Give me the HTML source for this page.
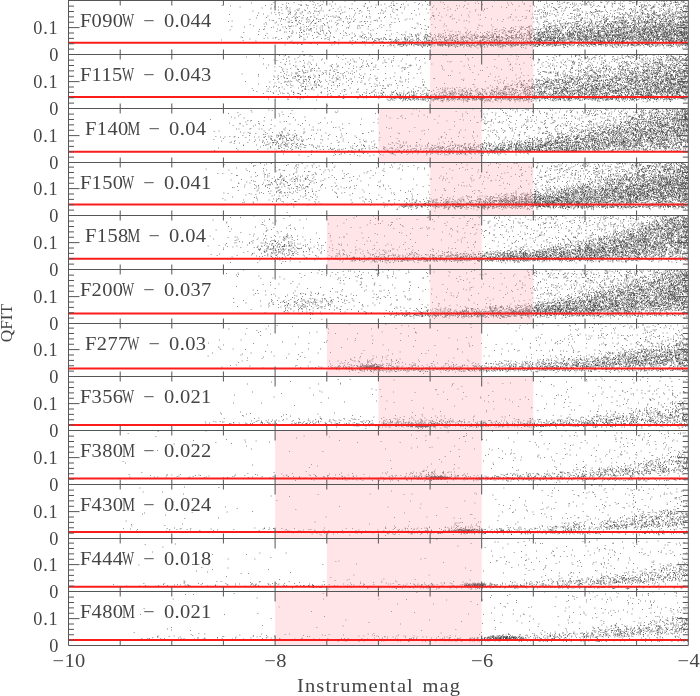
<!DOCTYPE html><html><head><meta charset="utf-8"><style>html,body{margin:0;padding:0;background:#fff}svg{display:block}text{font-family:"Liberation Serif",serif;fill:#444;font-size:18.3px}</style></head><body>
<svg width="700" height="696" viewBox="0 0 700 696">
<filter id="b" x="0" y="0" width="1" height="1"><feGaussianBlur stdDeviation="0.8"/></filter><g transform="scale(0.25)" fill="none" stroke-width="2.8" filter="url(#b)"><g stroke="#2a2a2a"><path d="M274 4h2484" stroke-dasharray="0 929 3 74 3 47 3 46 3 242 3 829 3 60 3 115 3 16 3 5 3 9999"/><path d="M274 6h2484" stroke-dasharray="0 965 3 8 3 900 3 5 3 164 3 163 3 21 3 26 3 104 3 23 3 18 3 20 3 9999"/><path d="M274 8h2484" stroke-dasharray="0 1054 3 145 3 282 3 324 3 93 3 49 3 16 3 97 3 123 3 140 3 82 3 24 3 9999"/><path d="M274 10h2484" stroke-dasharray="0 901 3 77 3 400 3 689 3 52 3 286 3 6 3 0 3 23 3 9999"/><path d="M274 12h2484" stroke-dasharray="0 871 3 880 3 236 3 176 3 139 3 65 3 54 3 9999"/><path d="M274 14h2484" stroke-dasharray="0 996 3 187 3 123 3 507 3 87 3 19 3 36 3 69 3 22 3 111 3 13 3 10 3 28 3 136 3 19 3 61 3 9999"/><path d="M274 16h2484" stroke-dasharray="0 1044 3 20 3 115 3 111 3 37 3 255 3 414 3 54 3 10 3 118 3 164 3 7 3 3 3 16 3 9999"/><path d="M274 18h2484" stroke-dasharray="0 812 3 134 3 25 3 419 3 100 3 149 3 245 3 269 3 144 3 57 3 44 3 7 3 2 3 9999"/><path d="M274 20h2484" stroke-dasharray="0 928 3 298 3 17 3 105 3 399 3 263 3 23 3 32 3 200 3 10 3 157 3 9999"/><path d="M274 22h2484" stroke-dasharray="0 929 3 20 3 2 3 47 3 278 3 291 3 515 3 208 3 6 3 4 3 47 3 2 3 41 3 9999"/><path d="M274 24h2484" stroke-dasharray="0 646 3 222 3 927 3 41 3 15 3 48 3 298 3 5 3 77 3 71 3 9999"/><path d="M274 26h2484" stroke-dasharray="0 1694 3 271 3 49 3 71 3 165 3 17 3 85 3 6 3 3 3 8 3 75 3 9999"/><path d="M274 28h2484" stroke-dasharray="0 823 3 278 3 221 3 13 3 553 3 13 3 69 3 152 3 70 3 78 3 34 3 67 3 9999"/><path d="M274 30h2484" stroke-dasharray="0 981 3 212 3 92 3 32 3 421 3 186 3 50 3 20 3 9999"/><path d="M274 32h2484" stroke-dasharray="0 773 3 33 3 72 3 67 3 1242 3 90 3 35 3 1 3 113 3 9999"/><path d="M274 34h2484" stroke-dasharray="0 991 3 63 3 62 3 30 3 37 3 303 3 50 3 345 3 68 3 329 3 61 3 32 3 59 3 9999"/><path d="M274 36h2484" stroke-dasharray="0 872 3 202 3 217 3 42 3 85 3 37 3 190 3 531 3 49 3 39 3 12 3 1 3 66 3 90 3 9999"/><path d="M274 38h2484" stroke-dasharray="0 913 3 393 3 351 3 223 3 54 3 160 3 130 3 40 3 16 3 71 3 34 3 9999"/><path d="M274 40h2484" stroke-dasharray="0 838 3 43 3 157 3 204 3 61 3 332 3 228 3 100 3 34 3 0 3 167 3 22 3 108 3 65 3 29 3 9999"/><path d="M274 42h2484" stroke-dasharray="0 916 3 28 3 216 3 214 3 161 3 352 3 216 3 44 3 15 3 106 3 27 3 43 3 80 3 9999"/><path d="M274 44h2484" stroke-dasharray="0 736 3 138 3 105 3 16 3 195 3 62 3 605 3 18 3 136 3 73 3 7 3 57 3 69 3 11 3 15 3 104 3 17 3 56 3 9999"/><path d="M274 46h2484" stroke-dasharray="0 992 3 869 3 12 3 247 3 4 3 11 3 164 3 126 3 14 3 7 3 9999"/><path d="M274 48h2484" stroke-dasharray="0 935 3 234 3 429 3 346 3 99 3 47 3 21 3 122 3 40 3 29 3 55 3 49 3 1 3 9999"/><path d="M274 50h2484" stroke-dasharray="0 824 3 14 3 67 3 386 3 587 3 196 3 63 3 35 3 30 3 17 3 26 3 63 3 5 3 50 3 20 3 20 3 2 3 13 3 9999"/><path d="M274 52h2484" stroke-dasharray="0 967 3 33 3 241 3 187 3 654 3 199 3 40 3 50 3 4 3 14 3 41 3 9999"/><path d="M274 54h2484" stroke-dasharray="0 853 3 232 3 148 3 737 3 24 3 0 3 1 3 185 3 43 3 17 3 24 3 79 3 10 3 5 3 9999"/><path d="M274 56h2484" stroke-dasharray="0 778 3 105 3 18 3 19 3 471 3 448 3 26 3 21 3 3 3 17 3 96 3 7 3 73 3 105 3 5 3 82 3 18 3 41 3 22 3 1 3 4 3 9999"/><path d="M274 58h2484" stroke-dasharray="0 879 3 405 3 574 3 75 3 77 3 71 3 106 3 13 3 165 3 60 3 11 3 9999"/><path d="M274 60h2484" stroke-dasharray="0 904 3 89 3 144 3 167 3 195 3 19 3 63 3 37 3 257 3 272 3 41 3 21 3 18 3 53 3 28 3 31 3 38 3 34 3 9999"/><path d="M274 62h2484" stroke-dasharray="0 938 3 517 3 18 3 442 3 69 3 37 3 62 3 135 3 27 3 63 3 20 3 15 3 9999"/><path d="M274 64h2484" stroke-dasharray="0 796 3 182 3 38 3 31 3 887 3 0 3 78 3 6 3 101 3 16 3 56 3 24 3 29 3 8 3 38 3 21 3 3 3 89 3 9999"/><path d="M274 66h2484" stroke-dasharray="0 921 3 45 3 76 3 153 3 60 3 189 3 353 3 194 3 7 3 77 3 51 3 15 3 5 3 92 3 36 3 20 3 45 3 25 3 14 3 9999"/><path d="M274 68h2484" stroke-dasharray="0 875 3 88 3 91 3 13 3 1 3 55 3 50 3 298 3 30 3 261 3 98 3 7 3 2 3 264 3 24 3 61 3 31 3 16 3 3 3 34 3 21 3 8 3 8 3 2 3 9 3 13 3 3 3 24 3 9999"/><path d="M274 70h2484" stroke-dasharray="0 871 3 40 3 67 3 78 3 195 3 183 3 215 3 97 3 270 3 79 3 13 3 9 3 40 3 8 3 19 3 9 3 42 3 6 3 22 3 58 3 66 3 0 3 5 3 9999"/><path d="M274 72h2484" stroke-dasharray="0 751 3 151 3 333 3 513 3 70 3 35 3 4 3 134 3 35 3 2 3 133 3 12 3 9 3 60 3 34 3 28 3 5 3 4 3 30 3 8 3 54 3 9999"/><path d="M274 74h2484" stroke-dasharray="0 850 3 163 3 103 3 180 3 233 3 281 3 22 3 36 3 114 3 12 3 31 3 15 3 72 3 2 3 130 3 10 3 34 3 23 3 68 3 10 3 4 3 9999"/><path d="M274 76h2484" stroke-dasharray="0 881 3 67 3 36 3 122 3 200 3 43 3 8 3 67 3 14 3 69 3 154 3 336 3 52 3 71 3 35 3 132 3 0 3 14 3 20 3 0 3 50 3 6 3 24 3 9999"/><path d="M274 78h2484" stroke-dasharray="0 858 3 99 3 37 3 142 3 274 3 220 3 90 3 239 3 68 3 34 3 22 3 39 3 23 3 100 3 38 3 0 3 4 3 14 3 30 3 5 3 27 3 23 3 9999"/><path d="M274 80h2484" stroke-dasharray="0 803 3 60 3 692 3 213 3 174 3 89 3 102 3 62 3 12 3 27 3 22 3 27 3 4 3 7 3 34 3 41 3 56 3 9999"/><path d="M274 82h2484" stroke-dasharray="0 813 3 107 3 147 3 145 3 3 3 360 3 215 3 239 3 36 3 59 3 58 3 1 3 7 3 31 3 84 3 13 3 25 3 10 3 11 3 35 3 12 3 9999"/><path d="M274 84h2484" stroke-dasharray="0 964 3 76 3 4 3 88 3 90 3 344 3 318 3 56 3 83 3 11 3 28 3 35 3 158 3 20 3 15 3 11 3 88 3 18 3 6 3 9999"/><path d="M274 86h2484" stroke-dasharray="0 975 3 21 3 169 3 11 3 6 3 125 3 548 3 37 3 38 3 34 3 37 3 1 3 3 3 78 3 88 3 6 3 3 3 26 3 18 3 22 3 59 3 15 3 4 3 28 3 22 3 11 3 9999"/><path d="M274 88h2484" stroke-dasharray="0 877 3 78 3 138 3 14 3 89 3 865 3 34 3 27 3 56 3 58 3 40 3 4 3 2 3 16 3 2 3 43 3 9 3 45 3 7 3 14 3 9999"/><path d="M274 90h2484" stroke-dasharray="0 788 3 90 3 8 3 56 3 114 3 52 3 166 3 604 3 113 3 33 3 11 3 60 3 11 3 41 3 7 3 7 3 2 3 25 3 26 3 8 3 32 3 6 3 8 3 9 3 0 3 13 3 99 3 9999"/><path d="M274 92h2484" stroke-dasharray="0 825 3 95 3 63 3 42 3 944 3 2 3 37 3 7 3 27 3 24 3 11 3 33 3 34 3 1 3 1 3 25 3 16 3 26 3 11 3 21 3 1 3 0 3 8 3 8 3 13 3 11 3 39 3 7 3 9999"/><path d="M274 94h2484" stroke-dasharray="0 968 3 13 3 0 3 28 3 97 3 66 3 732 3 39 3 27 3 1 3 7 3 53 3 19 3 69 3 9 3 19 3 17 3 0 3 20 3 10 3 30 3 25 3 40 3 22 3 20 3 0 3 17 3 9999"/><path d="M274 96h2484" stroke-dasharray="0 1397 3 102 3 376 3 43 3 57 3 32 3 3 3 0 3 61 3 26 3 86 3 9 3 65 3 37 3 38 3 16 3 4 3 8 3 10 3 5 3 9999"/><path d="M274 98h2484" stroke-dasharray="0 725 3 295 3 179 3 41 3 36 3 161 3 443 3 16 3 92 3 148 3 4 3 43 3 38 3 5 3 39 3 18 3 3 3 18 3 2 3 45 3 16 3 7 3 6 3 10 3 9999"/><path d="M274 100h2484" stroke-dasharray="0 1283 3 404 3 209 3 44 3 14 3 73 3 37 3 6 3 7 3 14 3 37 3 5 3 22 3 25 3 4 3 50 3 39 3 25 3 9 3 18 3 13 3 16 3 0 3 21 3 5 3 2 3 1 3 9999"/><path d="M274 102h2484" stroke-dasharray="0 980 3 41 3 67 3 79 3 81 3 162 3 216 3 366 3 26 3 101 3 1 3 13 3 8 3 54 3 9 3 13 3 24 3 8 3 37 3 24 3 1 3 3 3 1 3 52 3 7 3 1 3 9999"/><path d="M274 104h2484" stroke-dasharray="0 890 3 15 3 81 3 14 3 110 3 37 3 345 3 332 3 2 3 78 3 14 3 81 3 1 3 71 3 6 3 11 3 13 3 7 3 4 3 29 3 16 3 0 3 10 3 69 3 7 3 14 3 1 3 0 3 3 3 4 3 25 3 15 3 14 3 13 3 9 3 3 3 14 3 9999"/><path d="M274 106h2484" stroke-dasharray="0 784 3 172 3 237 3 235 3 402 3 53 3 23 3 48 3 11 3 41 3 4 3 66 3 12 3 4 3 6 3 116 3 0 3 5 3 13 3 9 3 1 3 15 3 26 3 6 3 12 3 5 3 7 3 2 3 7 3 3 3 10 3 41 3 9999"/><path d="M274 108h2484" stroke-dasharray="0 702 3 113 3 35 3 82 3 107 3 764 3 100 3 22 3 108 3 3 3 32 3 1 3 33 3 29 3 6 3 15 3 16 3 15 3 6 3 0 3 33 3 6 3 14 3 13 3 16 3 16 3 2 3 7 3 24 3 9 3 9999"/><path d="M274 110h2484" stroke-dasharray="0 981 3 133 3 132 3 184 3 194 3 101 3 27 3 42 3 14 3 2 3 81 3 6 3 28 3 23 3 28 3 51 3 50 3 15 3 32 3 36 3 3 3 1 3 7 3 6 3 11 3 1 3 6 3 51 3 10 3 8 3 10 3 4 3 41 3 24 3 2 3 17 3 1 3 9999"/><path d="M274 112h2484" stroke-dasharray="0 926 3 76 3 6 3 148 3 217 3 390 3 29 3 162 3 9 3 11 3 11 3 13 3 77 3 21 3 9 3 35 3 0 3 7 3 3 3 15 3 0 3 12 3 22 3 8 3 5 3 15 3 3 3 6 3 26 3 6 3 34 3 35 3 2 3 20 3 1 3 9999"/><path d="M274 114h2484" stroke-dasharray="0 870 3 51 3 43 3 261 3 147 3 24 3 332 3 57 3 47 3 33 3 29 3 123 3 35 3 6 3 18 3 15 3 6 3 22 3 39 3 17 3 41 3 20 3 65 3 53 3 32 3 9999"/><path d="M274 116h2484" stroke-dasharray="0 990 3 81 3 635 3 109 3 46 3 11 3 16 3 104 3 20 3 4 3 25 3 15 3 0 3 53 3 12 3 8 3 21 3 18 3 55 3 1 3 7 3 22 3 39 3 28 3 25 3 40 3 1 3 1 3 9999"/><path d="M274 118h2484" stroke-dasharray="0 964 3 464 3 202 3 66 3 28 3 46 3 38 3 31 3 1 3 10 3 0 3 3 3 23 3 8 3 29 3 40 3 45 3 21 3 13 3 5 3 35 3 9 3 42 3 26 3 30 3 12 3 7 3 14 3 5 3 4 3 11 3 1 3 1 3 9 3 8 3 8 3 5 3 16 3 8 3 4 3 33 3 9999"/><path d="M274 120h2484" stroke-dasharray="0 940 3 8 3 263 3 374 3 182 3 67 3 5 3 50 3 32 3 10 3 0 3 5 3 4 3 68 3 0 3 6 3 53 3 63 3 3 3 11 3 58 3 5 3 21 3 6 3 2 3 14 3 26 3 3 3 6 3 0 3 26 3 8 3 2 3 3 3 3 3 4 3 9999"/><path d="M274 122h2484" stroke-dasharray="0 844 3 79 3 84 3 192 3 641 3 95 3 4 3 34 3 73 3 0 3 0 3 1 3 2 3 1 3 27 3 0 3 26 3 3 3 5 3 6 3 16 3 16 3 9 3 17 3 5 3 19 3 15 3 0 3 30 3 10 3 19 3 15 3 18 3 16 3 5 3 6 3 17 3 3 3 9999"/><path d="M274 124h2484" stroke-dasharray="0 894 3 121 3 48 3 26 3 432 3 203 3 20 3 38 3 39 3 38 3 21 3 42 3 13 3 44 3 3 3 30 3 28 3 26 3 3 3 62 3 5 3 1 3 3 3 23 3 26 3 17 3 3 3 13 3 2 3 37 3 8 3 14 3 7 3 15 3 1 3 19 3 6 3 6 3 13 3 5 3 9999"/><path d="M274 126h2484" stroke-dasharray="0 883 3 121 3 596 3 66 3 26 3 50 3 22 3 116 3 5 3 7 3 4 3 4 3 24 3 61 3 10 3 6 3 4 3 9 3 25 3 40 3 1 3 10 3 16 3 21 3 22 3 15 3 3 3 11 3 19 3 34 3 6 3 18 3 45 3 18 3 3 3 2 3 15 3 4 3 9 3 3 3 9999"/><path d="M274 128h2484" stroke-dasharray="0 862 3 127 3 353 3 197 3 14 3 23 3 123 3 79 3 1 3 54 3 20 3 37 3 12 3 18 3 40 3 1 3 7 3 8 3 8 3 22 3 19 3 28 3 24 3 1 3 25 3 3 3 22 3 8 3 12 3 8 3 3 3 5 3 11 3 3 3 5 3 5 3 2 3 30 3 16 3 5 3 4 3 14 3 27 3 5 3 20 3 1 3 12 3 9999"/><path d="M274 130h2484" stroke-dasharray="0 700 3 220 3 6 3 171 3 478 3 57 3 13 3 27 3 70 3 26 3 79 3 1 3 11 3 14 3 72 3 8 3 37 3 4 3 8 3 13 3 13 3 1 3 5 3 12 3 42 3 3 3 6 3 10 3 7 3 16 3 3 3 7 3 11 3 31 3 17 3 2 3 18 3 0 3 2 3 12 3 27 3 6 3 4 3 8 3 8 3 10 3 13 3 0 3 0 3 5 3 5 3 9999"/><path d="M274 132h2484" stroke-dasharray="0 893 3 15 3 897 3 28 3 36 3 5 3 7 3 3 3 5 3 4 3 45 3 31 3 12 3 23 3 48 3 2 3 3 3 10 3 39 3 4 3 14 3 12 3 10 3 15 3 76 3 5 3 7 3 11 3 36 3 1 3 17 3 24 3 24 3 9 3 2 3 9999"/><path d="M274 134h2484" stroke-dasharray="0 892 3 103 3 29 3 13 3 37 3 355 3 142 3 144 3 140 3 13 3 55 3 8 3 28 3 58 3 53 3 5 3 18 3 5 3 57 3 5 3 15 3 15 3 32 3 7 3 1 3 11 3 4 3 6 3 16 3 18 3 5 3 7 3 2 3 11 3 22 3 2 3 2 3 2 3 9999"/><path d="M274 136h2484" stroke-dasharray="0 951 3 6 3 38 3 139 3 60 3 81 3 186 3 41 3 38 3 56 3 29 3 15 3 18 3 8 3 37 3 58 3 28 3 1 3 18 3 6 3 1 3 23 3 9 3 21 3 7 3 3 3 30 3 4 3 20 3 6 3 5 3 9 3 14 3 10 3 24 3 10 3 27 3 43 3 23 3 12 3 1 3 2 3 25 3 11 3 3 3 3 3 0 3 9 3 20 3 38 3 0 3 3 3 4 3 1 3 4 3 2 3 5 3 7 3 23 3 2 3 0 3 0 3 9999"/><path d="M274 138h2484" stroke-dasharray="0 1123 3 141 3 61 3 10 3 24 3 56 3 13 3 107 3 49 3 110 3 64 3 1 3 9 3 44 3 27 3 9 3 7 3 14 3 13 3 39 3 12 3 7 3 1 3 1 3 4 3 0 3 43 3 14 3 32 3 25 3 3 3 6 3 3 3 10 3 10 3 13 3 9 3 16 3 20 3 19 3 14 3 3 3 7 3 0 3 5 3 22 3 0 3 5 3 2 3 6 3 2 3 14 3 1 3 18 3 3 3 17 3 6 3 5 3 9999"/><path d="M274 140h2484" stroke-dasharray="0 1371 3 14 3 9 3 22 3 22 3 32 3 64 3 65 3 64 3 21 3 37 3 36 3 17 3 8 3 6 3 7 3 2 3 28 3 8 3 8 3 3 3 7 3 21 3 7 3 11 3 10 3 0 3 55 3 22 3 28 3 29 3 11 3 9 3 1 3 16 3 2 3 0 3 23 3 39 3 4 3 5 3 13 3 1 3 6 3 20 3 27 3 20 3 4 3 21 3 16 3 9 3 0 3 12 3 0 3 0 3 4 3 3 3 9999"/><path d="M274 142h2484" stroke-dasharray="0 1028 3 81 3 31 3 26 3 222 3 31 3 29 3 60 3 23 3 79 3 19 3 36 3 47 3 4 3 13 3 0 3 35 3 7 3 17 3 62 3 14 3 35 3 10 3 23 3 12 3 4 3 17 3 21 3 1 3 30 3 9 3 17 3 3 3 13 3 5 3 6 3 4 3 9 3 3 3 1 3 0 3 22 3 22 3 61 3 1 3 6 3 3 3 12 3 8 3 22 3 6 3 21 3 7 3 10 3 7 3 15 3 9999"/><path d="M274 144h2484" stroke-dasharray="0 889 3 273 3 43 3 214 3 68 3 23 3 13 3 111 3 1 3 6 3 9 3 8 3 55 3 18 3 88 3 33 3 20 3 7 3 9 3 14 3 71 3 12 3 5 3 32 3 6 3 1 3 0 3 0 3 13 3 0 3 17 3 0 3 31 3 21 3 25 3 24 3 8 3 11 3 6 3 17 3 8 3 1 3 0 3 1 3 6 3 20 3 0 3 4 3 10 3 8 3 13 3 7 3 5 3 10 3 3 3 9999"/><path d="M274 146h2484" stroke-dasharray="0 930 3 63 3 171 3 14 3 166 3 10 3 3 3 11 3 29 3 16 3 4 3 25 3 52 3 56 3 20 3 11 3 6 3 8 3 13 3 33 3 9 3 3 3 2 3 7 3 24 3 83 3 0 3 9 3 31 3 10 3 8 3 7 3 28 3 35 3 1 3 4 3 39 3 9 3 4 3 33 3 0 3 17 3 28 3 37 3 2 3 8 3 4 3 2 3 7 3 8 3 2 3 4 3 17 3 10 3 0 3 17 3 3 3 19 3 15 3 14 3 7 3 4 3 22 3 11 3 37 3 9999"/><path d="M274 148h2484" stroke-dasharray="0 880 3 41 3 28 3 207 3 2 3 188 3 102 3 31 3 69 3 124 3 31 3 36 3 15 3 10 3 25 3 15 3 22 3 9 3 16 3 13 3 19 3 13 3 11 3 28 3 2 3 7 3 36 3 3 3 31 3 20 3 7 3 2 3 0 3 11 3 26 3 1 3 0 3 8 3 46 3 12 3 20 3 1 3 11 3 34 3 10 3 5 3 20 3 12 3 5 3 40 3 4 3 3 3 0 3 9999"/><path d="M274 150h2484" stroke-dasharray="0 695 3 131 3 231 3 67 3 55 3 69 3 77 3 99 3 43 3 17 3 12 3 99 3 18 3 13 3 2 3 13 3 6 3 11 3 3 3 2 3 32 3 17 3 8 3 10 3 46 3 14 3 4 3 13 3 7 3 0 3 7 3 1 3 7 3 9 3 8 3 4 3 62 3 11 3 42 3 10 3 18 3 20 3 8 3 17 3 2 3 20 3 3 3 1 3 4 3 11 3 6 3 49 3 9 3 16 3 37 3 19 3 2 3 16 3 38 3 6 3 9 3 0 3 1 3 9999"/><path d="M274 152h2484" stroke-dasharray="0 817 3 363 3 162 3 10 3 35 3 23 3 26 3 47 3 43 3 18 3 6 3 9 3 34 3 40 3 19 3 36 3 20 3 12 3 3 3 24 3 6 3 65 3 12 3 11 3 14 3 10 3 4 3 5 3 6 3 5 3 7 3 28 3 10 3 10 3 26 3 1 3 9 3 22 3 20 3 41 3 29 3 4 3 2 3 0 3 11 3 1 3 3 3 4 3 0 3 16 3 70 3 44 3 7 3 1 3 0 3 1 3 22 3 5 3 9999"/><path d="M274 154h2484" stroke-dasharray="0 851 3 157 3 14 3 198 3 4 3 28 3 127 3 53 3 48 3 19 3 6 3 9 3 55 3 74 3 64 3 32 3 21 3 8 3 11 3 4 3 20 3 3 3 6 3 3 3 0 3 36 3 17 3 14 3 3 3 43 3 6 3 38 3 40 3 18 3 8 3 13 3 18 3 15 3 9 3 5 3 2 3 5 3 0 3 19 3 24 3 7 3 30 3 0 3 24 3 3 3 14 3 13 3 18 3 7 3 5 3 33 3 9999"/><path d="M274 156h2484" stroke-dasharray="0 1024 3 210 3 9 3 60 3 39 3 19 3 58 3 17 3 6 3 57 3 128 3 56 3 17 3 12 3 22 3 13 3 43 3 1 3 41 3 19 3 21 3 2 3 1 3 15 3 0 3 12 3 13 3 4 3 13 3 20 3 3 3 6 3 9 3 2 3 4 3 10 3 9 3 9 3 25 3 21 3 1 3 7 3 10 3 3 3 5 3 4 3 1 3 10 3 6 3 7 3 4 3 19 3 13 3 1 3 1 3 14 3 2 3 9 3 15 3 14 3 14 3 6 3 5 3 0 3 4 3 14 3 25 3 10 3 9999"/><path d="M274 158h2484" stroke-dasharray="0 945 3 249 3 58 3 7 3 35 3 36 3 24 3 45 3 47 3 7 3 20 3 49 3 99 3 1 3 44 3 0 3 37 3 62 3 0 3 44 3 11 3 1 3 2 3 18 3 12 3 40 3 10 3 4 3 6 3 27 3 4 3 11 3 18 3 4 3 18 3 6 3 5 3 23 3 12 3 3 3 29 3 19 3 9 3 11 3 0 3 18 3 37 3 10 3 1 3 21 3 3 3 24 3 2 3 0 3 4 3 8 3 15 3 25 3 9999"/><path d="M274 160h2484" stroke-dasharray="0 940 3 137 3 107 3 99 3 11 3 12 3 66 3 37 3 11 3 22 3 59 3 18 3 55 3 1 3 3 3 76 3 5 3 0 3 21 3 20 3 21 3 46 3 13 3 14 3 1 3 5 3 5 3 19 3 4 3 15 3 11 3 7 3 44 3 38 3 4 3 57 3 6 3 5 3 10 3 36 3 16 3 3 3 20 3 25 3 4 3 8 3 3 3 4 3 1 3 6 3 10 3 25 3 34 3 9 3 21 3 25 3 7 3 1 3 11 3 9999"/><path d="M274 162h2484" stroke-dasharray="0 697 3 526 3 178 3 97 3 24 3 8 3 17 3 24 3 1 3 34 3 5 3 4 3 4 3 45 3 17 3 4 3 16 3 14 3 43 3 11 3 43 3 0 3 2 3 7 3 1 3 5 3 3 3 16 3 8 3 1 3 9 3 8 3 13 3 59 3 4 3 12 3 4 3 12 3 11 3 14 3 19 3 0 3 9 3 13 3 2 3 0 3 36 3 1 3 26 3 21 3 31 3 19 3 28 3 11 3 1 3 15 3 12 3 9 3 3 3 15 3 1 3 5 3 5 3 9999"/><path d="M274 164h2484" stroke-dasharray="0 748 3 556 3 2 3 59 3 47 3 25 3 1 3 44 3 25 3 12 3 9 3 18 3 30 3 10 3 43 3 21 3 24 3 52 3 30 3 19 3 0 3 8 3 3 3 17 3 5 3 0 3 12 3 3 3 13 3 5 3 11 3 24 3 3 3 3 3 1 3 19 3 3 3 1 3 5 3 29 3 15 3 16 3 20 3 9 3 2 3 17 3 2 3 0 3 31 3 5 3 6 3 37 3 2 3 16 3 6 3 6 3 3 3 4 3 4 3 26 3 27 3 10 3 0 3 6 3 7 3 22 3 5 3 2 3 2 3 10 3 9999"/><path d="M274 166h2484" stroke-dasharray="0 1062 3 82 3 24 3 67 3 8 3 41 3 7 3 24 3 22 3 51 3 32 3 57 3 33 3 5 3 0 3 21 3 7 3 1 3 38 3 4 3 16 3 2 3 32 3 12 3 3 3 25 3 3 3 6 3 34 3 18 3 7 3 9 3 14 3 6 3 7 3 2 3 3 3 46 3 5 3 2 3 17 3 27 3 1 3 0 3 26 3 68 3 4 3 3 3 0 3 2 3 6 3 0 3 14 3 4 3 31 3 8 3 61 3 97 3 20 3 9 3 0 3 2 3 4 3 14 3 1 3 0 3 9999"/><path d="M274 168h2484" stroke-dasharray="0 1177 3 39 3 29 3 56 3 5 3 28 3 37 3 20 3 27 3 24 3 4 3 10 3 6 3 11 3 24 3 1 3 1 3 76 3 15 3 35 3 18 3 20 3 9 3 23 3 21 3 0 3 45 3 42 3 22 3 1 3 19 3 6 3 9 3 20 3 20 3 1 3 15 3 10 3 0 3 14 3 1 3 0 3 6 3 13 3 6 3 4 3 18 3 57 3 3 3 2 3 12 3 41 3 2 3 4 3 12 3 4 3 28 3 0 3 19 3 40 3 10 3 11 3 6 3 0 3 30 3 4 3 9999"/><path d="M274 170h2484" stroke-dasharray="0 963 3 351 3 5 3 24 3 31 3 40 3 2 3 64 3 43 3 74 3 25 3 2 3 20 3 9 3 13 3 11 3 28 3 17 3 62 3 39 3 14 3 3 3 40 3 10 3 19 3 16 3 37 3 83 3 24 3 0 3 36 3 59 3 11 3 5 3 15 3 5 3 8 3 3 3 36 3 12 3 5 3 52 3 9999"/><path d="M274 172h2484" stroke-dasharray="0 739 3 220 3 203 3 669 3 122 3 86 3 5 3 40 3 131 3 38 3 6 3 42 3 66 3 9999"/><path d="M274 174h2484" stroke-dasharray="0 1346 3 25 3 42 3 11 3 0 3 15 3 6 3 34 3 15 3 1 3 28 3 7 3 12 3 3 3 11 3 13 3 3 3 16 3 3 3 10 3 57 3 1 3 3 3 27 3 7 3 3 3 32 3 6 3 31 3 24 3 12 3 5 3 23 3 5 3 9 3 2 3 94 3 23 3 2 3 3 3 51 3 0 3 24 3 15 3 0 3 20 3 2 3 2 3 4 3 2 3 24 3 24 3 26 3 20 3 11 3 51 3 3 3 35 3 10 3 9999"/><path d="M274 176h2484" stroke-dasharray="0 914 3 161 3 238 3 2 3 2 3 10 3 25 3 9 3 29 3 2 3 5 3 13 3 14 3 12 3 9 3 0 3 7 3 3 3 5 3 0 3 8 3 7 3 16 3 7 3 1 3 0 3 17 3 3 3 12 3 22 3 7 3 4 3 2 3 39 3 10 3 12 3 0 3 3 3 0 3 37 3 7 3 11 3 2 3 7 3 15 3 0 3 2 3 6 3 10 3 23 3 5 3 4 3 4 3 0 3 1 3 15 3 1 3 32 3 52 3 2 3 4 3 28 3 3 3 0 3 0 3 0 3 3 3 0 3 13 3 5 3 0 3 1 3 11 3 20 3 8 3 27 3 35 3 14 3 3 3 56 3 21 3 9 3 27 3 0 3 22 3 12 3 2 3 6 3 0 3 9999"/><path d="M274 178h2484" stroke-dasharray="0 995 3 288 3 29 3 1 3 1 3 3 3 3 3 7 3 38 3 1 3 8 3 22 3 16 3 1 3 19 3 1 3 14 3 6 3 18 3 29 3 6 3 2 3 4 3 1 3 12 3 37 3 1 3 1 3 11 3 0 3 5 3 5 3 6 3 23 3 0 3 5 3 24 3 13 3 8 3 11 3 56 3 11 3 9 3 3 3 11 3 75 3 1 3 22 3 41 3 15 3 10 3 9 3 5 3 1 3 0 3 14 3 6 3 53 3 17 3 27 3 9 3 1 3 23 3 9 3 0 3 6 3 0 3 11 3 8 3 83 3 8 3 42 3 9999"/><path d="M274 180h2484" stroke-dasharray="0 865 3 184 3 130 3 28 3 65 3 4 3 42 3 1 3 28 3 5 3 11 3 2 3 4 3 13 3 3 3 11 3 20 3 7 3 7 3 12 3 3 3 0 3 10 3 5 3 0 3 10 3 2 3 47 3 1 3 6 3 7 3 9 3 8 3 40 3 9 3 10 3 18 3 19 3 8 3 0 3 2 3 14 3 13 3 2 3 1 3 1 3 6 3 44 3 1 3 26 3 21 3 25 3 0 3 11 3 5 3 16 3 60 3 46 3 93 3 6 3 9 3 17 3 14 3 0 3 36 3 17 3 11 3 2 3 18 3 16 3 10 3 0 3 55 3 9999"/><path d="M274 182h2484" stroke-dasharray="0 1247 3 9 3 77 3 55 3 87 3 16 3 7 3 5 3 5 3 31 3 6 3 26 3 4 3 5 3 7 3 40 3 18 3 10 3 32 3 1 3 33 3 0 3 9 3 12 3 33 3 33 3 7 3 15 3 2 3 4 3 16 3 1 3 4 3 30 3 15 3 10 3 21 3 8 3 0 3 2 3 30 3 58 3 8 3 4 3 22 3 6 3 19 3 22 3 13 3 27 3 63 3 11 3 16 3 3 3 5 3 17 3 5 3 21 3 0 3 9999"/><path d="M274 184h2484" stroke-dasharray="0 1420 3 26 3 9 3 23 3 30 3 21 3 18 3 15 3 18 3 15 3 21 3 5 3 18 3 38 3 17 3 1 3 28 3 10 3 80 3 6 3 18 3 17 3 26 3 86 3 92 3 53 3 46 3 46 3 64 3 43 3 69 3 3 3 9999"/><path d="M274 186h2484" stroke-dasharray="0 1413 3 19 3 80 3 24 3 5 3 37 3 29 3 34 3 34 3 30 3 12 3 122 3 0 3 55 3 124 3 10 3 5 3 90 3 15 3 128 3 4 3 14 3 67 3 9999"/><path d="M274 188h2484" stroke-dasharray="0 1519 3 86 3 18 3 42 3 43 3 43 3 227 3 41 3 133 3 122 3 22 3 9999"/><path d="M274 190h2484" stroke-dasharray="0 1664 3 59 3 81 3 367 3 9999"/><path d="M274 192h2484" stroke-dasharray="0 1636 3 742 3 9999"/><path d="M274 206h2484" stroke-dasharray="0 936 3 9999"/><path d="M274 220h2484" stroke-dasharray="0 940 3 259 3 158 3 85 3 314 3 173 3 196 3 112 3 12 3 13 3 17 3 79 3 75 3 9999"/><path d="M274 222h2484" stroke-dasharray="0 866 3 640 3 452 3 60 3 11 3 65 3 123 3 24 3 19 3 6 3 45 3 53 3 9 3 54 3 9999"/><path d="M274 224h2484" stroke-dasharray="0 762 3 1261 3 278 3 98 3 9999"/><path d="M274 226h2484" stroke-dasharray="0 1300 3 495 3 112 3 35 3 73 3 202 3 161 3 12 3 30 3 4 3 21 3 9999"/><path d="M274 228h2484" stroke-dasharray="0 2010 3 61 3 26 3 69 3 49 3 8 3 4 3 102 3 67 3 9999"/><path d="M274 230h2484" stroke-dasharray="0 880 3 732 3 479 3 159 3 78 3 28 3 45 3 47 3 0 3 9999"/><path d="M274 232h2484" stroke-dasharray="0 2066 3 2 3 56 3 182 3 74 3 9999"/><path d="M274 234h2484" stroke-dasharray="0 1108 3 982 3 85 3 85 3 83 3 62 3 17 3 11 3 0 3 9999"/><path d="M274 236h2484" stroke-dasharray="0 870 3 407 3 51 3 49 3 366 3 35 3 286 3 20 3 88 3 107 3 18 3 9 3 16 3 6 3 39 3 2 3 25 3 22 3 0 3 9999"/><path d="M274 238h2484" stroke-dasharray="0 857 3 311 3 268 3 259 3 175 3 206 3 81 3 13 3 232 3 7 3 14 3 9999"/><path d="M274 240h2484" stroke-dasharray="0 1011 3 221 3 26 3 332 3 342 3 30 3 167 3 31 3 3 3 4 3 70 3 28 3 68 3 0 3 9999"/><path d="M274 242h2484" stroke-dasharray="0 832 3 103 3 356 3 102 3 596 3 360 3 61 3 15 3 19 3 9999"/><path d="M274 244h2484" stroke-dasharray="0 882 3 294 3 8 3 97 3 36 3 677 3 300 3 98 3 9999"/><path d="M274 246h2484" stroke-dasharray="0 1516 3 10 3 377 3 105 3 193 3 7 3 7 3 26 3 180 3 9999"/><path d="M274 248h2484" stroke-dasharray="0 908 3 205 3 30 3 372 3 441 3 44 3 6 3 194 3 66 3 56 3 82 3 9999"/><path d="M274 250h2484" stroke-dasharray="0 848 3 440 3 603 3 141 3 94 3 51 3 32 3 114 3 5 3 60 3 30 3 15 3 9999"/><path d="M274 252h2484" stroke-dasharray="0 966 3 53 3 149 3 36 3 40 3 617 3 38 3 51 3 43 3 21 3 71 3 45 3 36 3 16 3 28 3 99 3 6 3 7 3 55 3 16 3 3 3 9999"/><path d="M274 254h2484" stroke-dasharray="0 2050 3 180 3 14 3 7 3 61 3 94 3 16 3 22 3 1 3 9999"/><path d="M274 256h2484" stroke-dasharray="0 778 3 83 3 89 3 31 3 200 3 153 3 100 3 312 3 18 3 483 3 4 3 14 3 38 3 6 3 7 3 50 3 49 3 9999"/><path d="M274 258h2484" stroke-dasharray="0 970 3 80 3 67 3 641 3 32 3 325 3 171 3 12 3 46 3 19 3 15 3 5 3 11 3 9999"/><path d="M274 260h2484" stroke-dasharray="0 798 3 797 3 262 3 286 3 77 3 82 3 37 3 11 3 1 3 3 3 60 3 9999"/><path d="M274 262h2484" stroke-dasharray="0 899 3 38 3 233 3 182 3 126 3 517 3 25 3 54 3 40 3 60 3 6 3 20 3 33 3 101 3 68 3 9999"/><path d="M274 264h2484" stroke-dasharray="0 1045 3 30 3 57 3 153 3 23 3 42 3 213 3 335 3 0 3 26 3 36 3 159 3 5 3 43 3 38 3 37 3 27 3 11 3 49 3 9999"/><path d="M274 266h2484" stroke-dasharray="0 844 3 89 3 111 3 137 3 775 3 113 3 58 3 56 3 10 3 16 3 51 3 35 3 29 3 12 3 18 3 5 3 48 3 9999"/><path d="M274 268h2484" stroke-dasharray="0 824 3 246 3 74 3 73 3 266 3 612 3 26 3 29 3 29 3 8 3 59 3 18 3 19 3 44 3 11 3 14 3 4 3 17 3 9 3 29 3 9999"/><path d="M274 270h2484" stroke-dasharray="0 943 3 390 3 17 3 528 3 77 3 106 3 20 3 5 3 158 3 96 3 33 3 12 3 9999"/><path d="M274 272h2484" stroke-dasharray="0 1332 3 70 3 304 3 212 3 192 3 25 3 88 3 31 3 1 3 15 3 29 3 0 3 0 3 17 3 1 3 3 3 0 3 17 3 9 3 0 3 17 3 1 3 5 3 9999"/><path d="M274 274h2484" stroke-dasharray="0 975 3 5 3 1026 3 0 3 123 3 5 3 102 3 6 3 51 3 24 3 12 3 22 3 11 3 6 3 12 3 16 3 27 3 9999"/><path d="M274 276h2484" stroke-dasharray="0 914 3 428 3 458 3 354 3 18 3 14 3 139 3 63 3 58 3 9999"/><path d="M274 278h2484" stroke-dasharray="0 873 3 41 3 144 3 98 3 50 3 121 3 55 3 202 3 123 3 142 3 63 3 175 3 89 3 5 3 4 3 40 3 21 3 6 3 8 3 40 3 16 3 72 3 9999"/><path d="M274 280h2484" stroke-dasharray="0 855 3 189 3 22 3 426 3 528 3 76 3 53 3 35 3 29 3 57 3 20 3 32 3 79 3 7 3 8 3 0 3 9999"/><path d="M274 282h2484" stroke-dasharray="0 948 3 21 3 8 3 58 3 600 3 125 3 203 3 76 3 85 3 61 3 21 3 61 3 6 3 11 3 5 3 19 3 9 3 47 3 2 3 4 3 8 3 9999"/><path d="M274 284h2484" stroke-dasharray="0 934 3 19 3 72 3 24 3 945 3 35 3 35 3 10 3 2 3 23 3 94 3 16 3 10 3 17 3 26 3 4 3 2 3 4 3 4 3 9 3 36 3 27 3 8 3 35 3 2 3 7 3 9999"/><path d="M274 286h2484" stroke-dasharray="0 924 3 41 3 141 3 762 3 16 3 2 3 76 3 56 3 34 3 38 3 4 3 13 3 19 3 42 3 56 3 8 3 4 3 26 3 56 3 32 3 22 3 28 3 9999"/><path d="M274 288h2484" stroke-dasharray="0 873 3 1049 3 1 3 27 3 83 3 97 3 25 3 69 3 7 3 49 3 27 3 0 3 17 3 25 3 1 3 23 3 6 3 17 3 0 3 2 3 9999"/><path d="M274 290h2484" stroke-dasharray="0 947 3 66 3 9 3 43 3 66 3 214 3 253 3 286 3 18 3 25 3 50 3 52 3 0 3 57 3 34 3 79 3 46 3 62 3 70 3 10 3 9999"/><path d="M274 292h2484" stroke-dasharray="0 907 3 33 3 97 3 258 3 101 3 399 3 116 3 170 3 33 3 36 3 16 3 7 3 6 3 32 3 6 3 33 3 40 3 5 3 41 3 35 3 24 3 5 3 9999"/><path d="M274 294h2484" stroke-dasharray="0 862 3 402 3 682 3 153 3 64 3 22 3 50 3 9 3 1 3 39 3 42 3 4 3 0 3 15 3 5 3 2 3 5 3 43 3 8 3 9 3 9999"/><path d="M274 296h2484" stroke-dasharray="0 693 3 334 3 102 3 46 3 770 3 66 3 171 3 21 3 21 3 1 3 26 3 0 3 23 3 0 3 8 3 1 3 4 3 2 3 7 3 0 3 33 3 3 3 31 3 4 3 8 3 9999"/><path d="M274 298h2484" stroke-dasharray="0 1013 3 191 3 428 3 239 3 2 3 67 3 183 3 40 3 19 3 45 3 74 3 21 3 27 3 3 3 17 3 16 3 29 3 9999"/><path d="M274 300h2484" stroke-dasharray="0 871 3 16 3 87 3 805 3 175 3 12 3 10 3 99 3 43 3 13 3 35 3 21 3 46 3 22 3 20 3 24 3 5 3 15 3 7 3 8 3 12 3 0 3 2 3 18 3 9999"/><path d="M274 302h2484" stroke-dasharray="0 837 3 76 3 600 3 298 3 185 3 1 3 71 3 26 3 4 3 2 3 6 3 21 3 90 3 12 3 9 3 2 3 11 3 13 3 45 3 22 3 1 3 5 3 6 3 14 3 3 3 30 3 2 3 9999"/><path d="M274 304h2484" stroke-dasharray="0 820 3 92 3 19 3 24 3 18 3 14 3 71 3 27 3 894 3 75 3 8 3 20 3 2 3 14 3 4 3 1 3 40 3 32 3 44 3 13 3 85 3 17 3 5 3 26 3 0 3 9999"/><path d="M274 306h2484" stroke-dasharray="0 919 3 25 3 8 3 718 3 300 3 74 3 15 3 7 3 0 3 23 3 6 3 35 3 20 3 51 3 3 3 24 3 25 3 5 3 31 3 1 3 1 3 21 3 49 3 11 3 9999"/><path d="M274 308h2484" stroke-dasharray="0 824 3 9 3 91 3 8 3 16 3 80 3 661 3 283 3 5 3 9 3 3 3 24 3 51 3 0 3 14 3 3 3 3 3 47 3 5 3 0 3 6 3 30 3 27 3 42 3 4 3 41 3 0 3 9 3 7 3 21 3 33 3 18 3 9999"/><path d="M274 310h2484" stroke-dasharray="0 861 3 103 3 99 3 12 3 74 3 807 3 32 3 74 3 22 3 28 3 39 3 25 3 78 3 23 3 2 3 10 3 35 3 32 3 8 3 9999"/><path d="M274 312h2484" stroke-dasharray="0 862 3 31 3 199 3 78 3 105 3 38 3 49 3 598 3 98 3 23 3 5 3 0 3 2 3 50 3 5 3 7 3 1 3 24 3 20 3 20 3 28 3 1 3 3 3 3 3 28 3 37 3 5 3 0 3 13 3 9999"/><path d="M274 314h2484" stroke-dasharray="0 839 3 30 3 0 3 175 3 17 3 35 3 346 3 457 3 64 3 21 3 19 3 7 3 32 3 35 3 54 3 29 3 25 3 1 3 79 3 20 3 4 3 12 3 30 3 11 3 2 3 4 3 5 3 16 3 2 3 7 3 9999"/><path d="M274 316h2484" stroke-dasharray="0 1125 3 3 3 719 3 46 3 39 3 40 3 14 3 2 3 8 3 23 3 5 3 22 3 18 3 1 3 56 3 36 3 29 3 20 3 16 3 14 3 21 3 10 3 28 3 23 3 17 3 0 3 39 3 2 3 3 3 9999"/><path d="M274 318h2484" stroke-dasharray="0 819 3 98 3 23 3 13 3 32 3 348 3 273 3 98 3 176 3 16 3 3 3 20 3 12 3 73 3 35 3 16 3 51 3 10 3 5 3 26 3 42 3 2 3 15 3 21 3 10 3 44 3 50 3 2 3 1 3 0 3 15 3 9 3 3 3 9999"/><path d="M274 320h2484" stroke-dasharray="0 1843 3 30 3 67 3 1 3 21 3 0 3 30 3 25 3 35 3 33 3 24 3 14 3 12 3 12 3 11 3 33 3 4 3 1 3 0 3 14 3 29 3 3 3 62 3 14 3 12 3 18 3 9 3 28 3 9999"/><path d="M274 322h2484" stroke-dasharray="0 1044 3 212 3 44 3 270 3 122 3 131 3 37 3 40 3 9 3 3 3 9 3 40 3 41 3 61 3 5 3 2 3 5 3 5 3 13 3 3 3 18 3 21 3 42 3 0 3 26 3 8 3 8 3 53 3 20 3 17 3 9999"/><path d="M274 324h2484" stroke-dasharray="0 879 3 5 3 48 3 9 3 50 3 63 3 643 3 55 3 26 3 2 3 96 3 10 3 25 3 24 3 8 3 14 3 32 3 34 3 55 3 129 3 1 3 24 3 4 3 10 3 0 3 11 3 2 3 38 3 12 3 21 3 0 3 17 3 7 3 9999"/><path d="M274 326h2484" stroke-dasharray="0 868 3 46 3 22 3 14 3 47 3 121 3 684 3 75 3 28 3 55 3 7 3 24 3 46 3 41 3 3 3 54 3 58 3 6 3 3 3 8 3 11 3 11 3 32 3 40 3 0 3 7 3 19 3 26 3 4 3 0 3 6 3 3 3 1 3 9999"/><path d="M274 328h2484" stroke-dasharray="0 804 3 67 3 4 3 98 3 68 3 2 3 267 3 2 3 23 3 53 3 320 3 43 3 95 3 22 3 21 3 17 3 23 3 23 3 26 3 0 3 40 3 11 3 68 3 8 3 2 3 9 3 20 3 5 3 0 3 9 3 11 3 10 3 16 3 44 3 11 3 52 3 1 3 29 3 21 3 9999"/><path d="M274 330h2484" stroke-dasharray="0 924 3 79 3 50 3 106 3 629 3 67 3 41 3 41 3 17 3 16 3 18 3 30 3 9 3 123 3 32 3 37 3 36 3 8 3 9 3 9 3 9 3 13 3 25 3 7 3 18 3 10 3 14 3 11 3 2 3 9999"/><path d="M274 332h2484" stroke-dasharray="0 824 3 1076 3 18 3 7 3 26 3 33 3 41 3 61 3 12 3 13 3 40 3 4 3 46 3 64 3 39 3 23 3 18 3 8 3 31 3 3 3 19 3 9999"/><path d="M274 334h2484" stroke-dasharray="0 849 3 278 3 71 3 512 3 108 3 65 3 27 3 7 3 33 3 14 3 47 3 28 3 3 3 4 3 37 3 19 3 21 3 20 3 60 3 40 3 7 3 21 3 20 3 8 3 11 3 21 3 8 3 1 3 3 3 27 3 1 3 6 3 9999"/><path d="M274 336h2484" stroke-dasharray="0 759 3 188 3 32 3 3 3 192 3 619 3 45 3 33 3 4 3 32 3 44 3 3 3 1 3 34 3 27 3 103 3 78 3 3 3 37 3 4 3 6 3 33 3 26 3 25 3 7 3 2 3 5 3 10 3 2 3 1 3 14 3 9999"/><path d="M274 338h2484" stroke-dasharray="0 998 3 283 3 333 3 168 3 15 3 53 3 3 3 2 3 34 3 24 3 10 3 3 3 29 3 2 3 30 3 42 3 30 3 0 3 22 3 16 3 22 3 15 3 7 3 0 3 37 3 17 3 5 3 42 3 17 3 7 3 17 3 11 3 1 3 3 3 20 3 1 3 21 3 3 3 9999"/><path d="M274 340h2484" stroke-dasharray="0 968 3 10 3 76 3 169 3 56 3 519 3 8 3 58 3 54 3 57 3 9 3 35 3 3 3 5 3 21 3 29 3 15 3 13 3 0 3 9 3 35 3 55 3 3 3 28 3 1 3 73 3 13 3 14 3 0 3 23 3 3 3 2 3 9999"/><path d="M274 342h2484" stroke-dasharray="0 876 3 10 3 36 3 57 3 11 3 69 3 168 3 169 3 266 3 82 3 45 3 147 3 13 3 12 3 12 3 7 3 16 3 6 3 11 3 17 3 7 3 36 3 12 3 1 3 7 3 1 3 4 3 16 3 16 3 6 3 56 3 36 3 13 3 6 3 18 3 64 3 6 3 14 3 5 3 9999"/><path d="M274 344h2484" stroke-dasharray="0 896 3 359 3 15 3 0 3 467 3 61 3 39 3 6 3 11 3 14 3 12 3 68 3 65 3 5 3 30 3 11 3 34 3 6 3 11 3 14 3 0 3 46 3 13 3 23 3 3 3 3 3 52 3 40 3 2 3 14 3 19 3 15 3 11 3 1 3 9999"/><path d="M274 346h2484" stroke-dasharray="0 830 3 102 3 0 3 284 3 160 3 352 3 2 3 9 3 80 3 5 3 9 3 21 3 20 3 5 3 58 3 103 3 3 3 17 3 5 3 12 3 1 3 63 3 10 3 10 3 11 3 36 3 0 3 13 3 10 3 52 3 7 3 6 3 5 3 48 3 3 3 2 3 9999"/><path d="M274 348h2484" stroke-dasharray="0 853 3 134 3 16 3 612 3 167 3 28 3 8 3 3 3 6 3 6 3 52 3 59 3 40 3 24 3 16 3 8 3 1 3 18 3 1 3 1 3 14 3 8 3 19 3 11 3 34 3 10 3 39 3 8 3 1 3 21 3 23 3 10 3 8 3 9 3 38 3 0 3 5 3 33 3 3 3 2 3 9999"/><path d="M274 350h2484" stroke-dasharray="0 888 3 98 3 364 3 66 3 42 3 91 3 177 3 62 3 6 3 15 3 15 3 7 3 43 3 28 3 0 3 5 3 9 3 15 3 10 3 13 3 3 3 36 3 15 3 53 3 2 3 39 3 4 3 7 3 30 3 16 3 18 3 44 3 42 3 21 3 11 3 4 3 32 3 6 3 3 3 8 3 1 3 9999"/><path d="M274 352h2484" stroke-dasharray="0 1125 3 301 3 103 3 49 3 89 3 35 3 36 3 87 3 0 3 7 3 29 3 10 3 9 3 12 3 11 3 21 3 22 3 3 3 33 3 17 3 6 3 25 3 3 3 8 3 29 3 9 3 2 3 10 3 1 3 16 3 7 3 11 3 28 3 0 3 9 3 27 3 10 3 33 3 9 3 19 3 25 3 30 3 11 3 9 3 1 3 9999"/><path d="M274 354h2484" stroke-dasharray="0 970 3 51 3 23 3 202 3 8 3 217 3 92 3 68 3 118 3 1 3 44 3 17 3 13 3 22 3 21 3 15 3 12 3 0 3 8 3 28 3 5 3 53 3 1 3 6 3 6 3 21 3 10 3 2 3 9 3 9 3 5 3 15 3 43 3 5 3 0 3 28 3 1 3 27 3 10 3 7 3 21 3 8 3 12 3 6 3 3 3 9 3 13 3 6 3 0 3 18 3 7 3 1 3 9999"/><path d="M274 356h2484" stroke-dasharray="0 943 3 1 3 85 3 121 3 216 3 126 3 88 3 138 3 3 3 11 3 0 3 61 3 33 3 119 3 4 3 28 3 21 3 21 3 26 3 5 3 2 3 4 3 35 3 4 3 17 3 12 3 34 3 3 3 13 3 7 3 1 3 7 3 1 3 25 3 9 3 0 3 16 3 33 3 15 3 23 3 12 3 9999"/><path d="M274 358h2484" stroke-dasharray="0 948 3 9 3 105 3 30 3 121 3 249 3 16 3 43 3 0 3 27 3 53 3 23 3 82 3 42 3 1 3 28 3 11 3 23 3 9 3 55 3 5 3 31 3 3 3 6 3 44 3 3 3 8 3 10 3 1 3 47 3 2 3 58 3 18 3 16 3 6 3 7 3 11 3 11 3 15 3 1 3 14 3 49 3 11 3 14 3 2 3 1 3 3 3 8 3 13 3 2 3 4 3 13 3 1 3 2 3 9999"/><path d="M274 360h2484" stroke-dasharray="0 1561 3 5 3 63 3 52 3 0 3 85 3 31 3 14 3 6 3 59 3 33 3 13 3 14 3 3 3 3 3 25 3 11 3 10 3 49 3 2 3 16 3 53 3 1 3 8 3 11 3 0 3 1 3 14 3 13 3 76 3 5 3 11 3 0 3 30 3 18 3 3 3 18 3 9 3 11 3 9999"/><path d="M274 362h2484" stroke-dasharray="0 934 3 313 3 187 3 0 3 13 3 128 3 17 3 15 3 145 3 24 3 14 3 19 3 29 3 60 3 44 3 4 3 19 3 2 3 3 3 5 3 12 3 31 3 7 3 12 3 29 3 24 3 0 3 7 3 0 3 1 3 0 3 1 3 2 3 16 3 79 3 9 3 4 3 51 3 1 3 50 3 9 3 9 3 2 3 7 3 9999"/><path d="M274 364h2484" stroke-dasharray="0 792 3 34 3 11 3 45 3 38 3 284 3 1 3 114 3 53 3 97 3 36 3 55 3 20 3 106 3 105 3 8 3 8 3 44 3 44 3 20 3 0 3 16 3 4 3 3 3 9 3 0 3 14 3 23 3 5 3 0 3 53 3 11 3 15 3 6 3 0 3 21 3 6 3 14 3 8 3 8 3 10 3 8 3 1 3 6 3 21 3 8 3 22 3 0 3 14 3 15 3 9 3 46 3 1 3 17 3 9999"/><path d="M274 366h2484" stroke-dasharray="0 752 3 42 3 6 3 248 3 326 3 91 3 98 3 6 3 113 3 33 3 24 3 16 3 32 3 0 3 59 3 8 3 6 3 27 3 2 3 1 3 7 3 7 3 7 3 13 3 0 3 5 3 5 3 20 3 40 3 30 3 11 3 1 3 45 3 6 3 11 3 33 3 4 3 38 3 12 3 0 3 34 3 4 3 8 3 1 3 2 3 6 3 5 3 7 3 1 3 10 3 8 3 6 3 1 3 9999"/><path d="M274 368h2484" stroke-dasharray="0 898 3 255 3 31 3 20 3 200 3 105 3 7 3 7 3 17 3 76 3 37 3 16 3 32 3 6 3 14 3 54 3 3 3 7 3 8 3 27 3 16 3 4 3 1 3 28 3 7 3 37 3 0 3 34 3 6 3 7 3 5 3 10 3 19 3 2 3 4 3 17 3 12 3 39 3 18 3 8 3 36 3 17 3 3 3 7 3 42 3 14 3 1 3 3 3 11 3 1 3 6 3 11 3 5 3 24 3 0 3 3 3 29 3 9999"/><path d="M274 370h2484" stroke-dasharray="0 817 3 78 3 311 3 45 3 36 3 170 3 19 3 7 3 31 3 47 3 4 3 46 3 43 3 58 3 14 3 15 3 55 3 30 3 7 3 60 3 9 3 6 3 22 3 13 3 17 3 65 3 5 3 15 3 40 3 2 3 35 3 17 3 4 3 19 3 7 3 17 3 17 3 9 3 13 3 9 3 4 3 29 3 38 3 0 3 0 3 2 3 9999"/><path d="M274 372h2484" stroke-dasharray="0 847 3 26 3 252 3 189 3 35 3 19 3 44 3 7 3 45 3 6 3 31 3 10 3 2 3 23 3 28 3 59 3 1 3 11 3 4 3 32 3 6 3 1 3 76 3 12 3 4 3 17 3 0 3 24 3 4 3 44 3 3 3 8 3 9 3 16 3 18 3 21 3 5 3 4 3 7 3 3 3 17 3 12 3 37 3 6 3 27 3 54 3 9 3 15 3 1 3 1 3 33 3 7 3 27 3 7 3 10 3 3 3 7 3 25 3 5 3 24 3 2 3 9999"/><path d="M274 374h2484" stroke-dasharray="0 860 3 57 3 23 3 240 3 10 3 106 3 39 3 36 3 11 3 15 3 35 3 17 3 36 3 3 3 3 3 5 3 14 3 11 3 28 3 31 3 8 3 2 3 14 3 62 3 1 3 0 3 43 3 36 3 5 3 44 3 7 3 10 3 1 3 46 3 2 3 6 3 39 3 6 3 2 3 32 3 3 3 57 3 10 3 4 3 1 3 33 3 0 3 44 3 14 3 63 3 19 3 3 3 18 3 28 3 24 3 0 3 9999"/><path d="M274 376h2484" stroke-dasharray="0 925 3 363 3 19 3 23 3 36 3 51 3 74 3 20 3 16 3 29 3 55 3 48 3 6 3 13 3 7 3 9 3 22 3 15 3 35 3 6 3 9 3 5 3 36 3 4 3 13 3 5 3 31 3 51 3 3 3 7 3 6 3 71 3 25 3 5 3 5 3 45 3 58 3 15 3 5 3 1 3 16 3 3 3 2 3 91 3 9999"/><path d="M274 378h2484" stroke-dasharray="0 837 3 59 3 320 3 30 3 56 3 10 3 18 3 110 3 18 3 13 3 27 3 36 3 2 3 13 3 5 3 30 3 14 3 3 3 17 3 21 3 10 3 38 3 2 3 11 3 2 3 51 3 1 3 12 3 4 3 6 3 16 3 39 3 9 3 6 3 23 3 46 3 15 3 0 3 23 3 0 3 10 3 2 3 3 3 2 3 11 3 33 3 75 3 4 3 13 3 4 3 6 3 1 3 0 3 5 3 4 3 0 3 18 3 16 3 16 3 19 3 10 3 6 3 16 3 17 3 9999"/><path d="M274 380h2484" stroke-dasharray="0 996 3 164 3 64 3 106 3 29 3 15 3 39 3 78 3 11 3 0 3 4 3 50 3 10 3 4 3 27 3 50 3 48 3 3 3 24 3 3 3 23 3 30 3 12 3 64 3 5 3 78 3 25 3 2 3 8 3 18 3 26 3 0 3 91 3 20 3 44 3 10 3 8 3 18 3 0 3 2 3 0 3 21 3 20 3 5 3 55 3 3 3 21 3 9999"/><path d="M274 382h2484" stroke-dasharray="0 1049 3 29 3 138 3 16 3 80 3 0 3 51 3 24 3 24 3 8 3 32 3 16 3 3 3 69 3 10 3 12 3 6 3 40 3 36 3 34 3 33 3 25 3 26 3 31 3 1 3 2 3 20 3 17 3 48 3 10 3 21 3 34 3 9 3 48 3 39 3 4 3 22 3 3 3 17 3 1 3 41 3 37 3 1 3 22 3 19 3 51 3 0 3 13 3 8 3 16 3 1 3 9999"/><path d="M274 384h2484" stroke-dasharray="0 954 3 123 3 123 3 49 3 31 3 9 3 81 3 45 3 39 3 13 3 20 3 21 3 18 3 7 3 6 3 38 3 10 3 2 3 43 3 38 3 15 3 3 3 26 3 7 3 12 3 33 3 1 3 9 3 1 3 18 3 1 3 9 3 13 3 25 3 14 3 3 3 49 3 73 3 41 3 5 3 9 3 11 3 8 3 11 3 31 3 21 3 8 3 7 3 37 3 76 3 31 3 9999"/><path d="M274 386h2484" stroke-dasharray="0 1161 3 133 3 3 3 71 3 33 3 26 3 50 3 22 3 55 3 13 3 73 3 8 3 55 3 22 3 4 3 8 3 18 3 8 3 44 3 51 3 3 3 22 3 4 3 68 3 17 3 26 3 8 3 3 3 73 3 21 3 69 3 13 3 31 3 8 3 18 3 73 3 9999"/><path d="M274 388h2484" stroke-dasharray="0 982 3 39 3 196 3 34 3 82 3 53 3 0 3 14 3 21 3 4 3 62 3 33 3 4 3 229 3 30 3 9 3 312 3 39 3 84 3 31 3 48 3 1 3 22 3 9999"/><path d="M274 390h2484" stroke-dasharray="0 1932 3 27 3 7 3 202 3 43 3 35 3 100 3 40 3 47 3 9999"/><path d="M274 392h2484" stroke-dasharray="0 914 3 263 3 133 3 9 3 20 3 21 3 7 3 46 3 6 3 27 3 0 3 4 3 30 3 10 3 2 3 0 3 5 3 5 3 1 3 1 3 28 3 5 3 9 3 22 3 2 3 9 3 3 3 11 3 29 3 12 3 25 3 11 3 3 3 0 3 2 3 11 3 14 3 0 3 7 3 4 3 32 3 5 3 8 3 4 3 23 3 20 3 0 3 6 3 4 3 7 3 20 3 11 3 2 3 54 3 18 3 6 3 8 3 11 3 9 3 5 3 2 3 6 3 9 3 4 3 12 3 9 3 6 3 6 3 11 3 16 3 40 3 6 3 0 3 8 3 19 3 5 3 8 3 62 3 15 3 2 3 15 3 9999"/><path d="M274 394h2484" stroke-dasharray="0 1100 3 53 3 81 3 58 3 19 3 4 3 11 3 4 3 6 3 18 3 57 3 0 3 0 3 15 3 2 3 5 3 8 3 2 3 0 3 16 3 1 3 9 3 10 3 26 3 4 3 36 3 7 3 5 3 6 3 4 3 1 3 1 3 21 3 24 3 3 3 3 3 7 3 3 3 1 3 5 3 4 3 2 3 26 3 3 3 11 3 7 3 11 3 16 3 46 3 7 3 27 3 14 3 39 3 2 3 11 3 0 3 34 3 27 3 0 3 5 3 11 3 4 3 6 3 22 3 4 3 0 3 1 3 14 3 4 3 24 3 18 3 12 3 0 3 25 3 6 3 3 3 8 3 8 3 6 3 14 3 15 3 20 3 3 3 35 3 8 3 1 3 9999"/><path d="M274 396h2484" stroke-dasharray="0 799 3 74 3 45 3 346 3 21 3 9 3 56 3 27 3 6 3 3 3 2 3 18 3 4 3 0 3 36 3 9 3 10 3 16 3 18 3 32 3 4 3 2 3 11 3 0 3 2 3 1 3 1 3 14 3 2 3 16 3 4 3 7 3 17 3 2 3 13 3 4 3 6 3 55 3 1 3 26 3 9 3 10 3 2 3 84 3 36 3 3 3 3 3 10 3 16 3 15 3 16 3 28 3 6 3 25 3 78 3 1 3 41 3 18 3 4 3 13 3 25 3 5 3 32 3 1 3 6 3 26 3 4 3 22 3 3 3 9999"/><path d="M274 398h2484" stroke-dasharray="0 877 3 466 3 40 3 8 3 14 3 1 3 41 3 5 3 52 3 14 3 31 3 16 3 20 3 12 3 65 3 33 3 15 3 0 3 24 3 2 3 38 3 4 3 7 3 87 3 17 3 2 3 29 3 24 3 8 3 25 3 13 3 22 3 28 3 10 3 16 3 42 3 18 3 16 3 3 3 9 3 2 3 1 3 66 3 50 3 4 3 9999"/><path d="M274 400h2484" stroke-dasharray="0 990 3 344 3 56 3 78 3 76 3 68 3 17 3 5 3 11 3 33 3 0 3 70 3 2 3 5 3 20 3 11 3 2 3 43 3 42 3 28 3 51 3 31 3 97 3 2 3 32 3 66 3 2 3 60 3 34 3 42 3 4 3 9999"/><path d="M274 402h2484" stroke-dasharray="0 1281 3 17 3 64 3 54 3 10 3 54 3 24 3 8 3 56 3 70 3 9 3 2 3 0 3 21 3 50 3 62 3 77 3 23 3 1 3 8 3 30 3 2 3 54 3 91 3 8 3 91 3 26 3 9999"/><path d="M274 404h2484" stroke-dasharray="0 1459 3 26 3 4 3 45 3 170 3 82 3 15 3 27 3 30 3 315 3 60 3 50 3 60 3 9 3 11 3 9999"/><path d="M274 406h2484" stroke-dasharray="0 1596 3 517 3 84 3 146 3 51 3 9999"/><path d="M274 408h2484" stroke-dasharray="0 1448 3 45 3 286 3 50 3 9999"/><path d="M274 436h2484" stroke-dasharray="0 984 3 1238 3 14 3 9999"/><path d="M274 438h2484" stroke-dasharray="0 1728 3 98 3 353 3 92 3 17 3 48 3 2 3 32 3 19 3 5 3 4 3 27 3 1 3 9999"/><path d="M274 440h2484" stroke-dasharray="0 800 3 973 3 156 3 212 3 3 3 190 3 44 3 4 3 48 3 9999"/><path d="M274 442h2484" stroke-dasharray="0 729 3 161 3 920 3 107 3 76 3 5 3 63 3 210 3 12 3 25 3 19 3 32 3 12 3 9999"/><path d="M274 444h2484" stroke-dasharray="0 1794 3 196 3 110 3 90 3 9 3 81 3 61 3 32 3 18 3 5 3 3 3 3 3 11 3 15 3 0 3 9999"/><path d="M274 446h2484" stroke-dasharray="0 1549 3 503 3 73 3 78 3 54 3 15 3 34 3 32 3 18 3 31 3 23 3 3 3 5 3 5 3 6 3 9999"/><path d="M274 448h2484" stroke-dasharray="0 1067 3 518 3 196 3 93 3 147 3 136 3 58 3 55 3 57 3 10 3 85 3 9999"/><path d="M274 450h2484" stroke-dasharray="0 1072 3 751 3 246 3 52 3 132 3 31 3 20 3 0 3 21 3 80 3 2 3 9999"/><path d="M274 452h2484" stroke-dasharray="0 1912 3 33 3 212 3 40 3 82 3 42 3 7 3 5 3 40 3 52 3 9999"/><path d="M274 454h2484" stroke-dasharray="0 638 3 585 3 520 3 135 3 419 3 43 3 13 3 17 3 8 3 25 3 42 3 9999"/><path d="M274 456h2484" stroke-dasharray="0 1575 3 95 3 234 3 2 3 164 3 27 3 21 3 32 3 36 3 18 3 88 3 6 3 43 3 13 3 0 3 25 3 2 3 4 3 23 3 4 3 1 3 9999"/><path d="M274 458h2484" stroke-dasharray="0 685 3 169 3 948 3 172 3 86 3 4 3 25 3 91 3 73 3 8 3 9 3 73 3 31 3 11 3 13 3 22 3 9999"/><path d="M274 460h2484" stroke-dasharray="0 1421 3 282 3 226 3 348 3 71 3 34 3 32 3 9999"/><path d="M274 462h2484" stroke-dasharray="0 1753 3 338 3 254 3 14 3 18 3 7 3 21 3 3 3 22 3 9999"/><path d="M274 464h2484" stroke-dasharray="0 679 3 161 3 553 3 79 3 593 3 157 3 84 3 1 3 0 3 0 3 15 3 32 3 64 3 0 3 9999"/><path d="M274 466h2484" stroke-dasharray="0 1328 3 579 3 243 3 10 3 34 3 34 3 33 3 0 3 58 3 115 3 3 3 9999"/><path d="M274 468h2484" stroke-dasharray="0 944 3 716 3 205 3 252 3 92 3 30 3 25 3 6 3 1 3 35 3 58 3 7 3 13 3 45 3 9999"/><path d="M274 470h2484" stroke-dasharray="0 782 3 1062 3 80 3 0 3 321 3 22 3 7 3 52 3 13 3 25 3 7 3 38 3 6 3 0 3 8 3 0 3 9999"/><path d="M274 472h2484" stroke-dasharray="0 701 3 630 3 635 3 7 3 196 3 49 3 17 3 4 3 2 3 29 3 34 3 5 3 24 3 4 3 22 3 12 3 3 3 30 3 14 3 9999"/><path d="M274 474h2484" stroke-dasharray="0 1316 3 440 3 155 3 70 3 275 3 31 3 17 3 9 3 18 3 21 3 7 3 1 3 6 3 14 3 6 3 4 3 28 3 2 3 9999"/><path d="M274 476h2484" stroke-dasharray="0 1171 3 63 3 467 3 397 3 100 3 5 3 32 3 15 3 36 3 17 3 52 3 7 3 22 3 2 3 17 3 2 3 14 3 1 3 0 3 9999"/><path d="M274 478h2484" stroke-dasharray="0 566 3 895 3 98 3 89 3 545 3 48 3 13 3 18 3 3 3 24 3 27 3 4 3 0 3 11 3 27 3 42 3 1 3 0 3 5 3 9999"/><path d="M274 480h2484" stroke-dasharray="0 907 3 927 3 12 3 332 3 41 3 5 3 35 3 17 3 19 3 20 3 70 3 1 3 0 3 12 3 1 3 1 3 21 3 9999"/><path d="M274 482h2484" stroke-dasharray="0 1607 3 80 3 214 3 31 3 203 3 3 3 6 3 82 3 167 3 10 3 3 3 12 3 20 3 9999"/><path d="M274 484h2484" stroke-dasharray="0 781 3 880 3 278 3 310 3 74 3 11 3 2 3 24 3 9 3 10 3 47 3 1 3 6 3 9999"/><path d="M274 486h2484" stroke-dasharray="0 861 3 6 3 669 3 135 3 40 3 123 3 11 3 125 3 5 3 9 3 42 3 30 3 38 3 73 3 19 3 10 3 30 3 17 3 7 3 5 3 6 3 42 3 35 3 8 3 11 3 8 3 14 3 9999"/><path d="M274 488h2484" stroke-dasharray="0 1674 3 153 3 224 3 22 3 57 3 37 3 38 3 0 3 52 3 45 3 21 3 7 3 17 3 53 3 25 3 5 3 9999"/><path d="M274 490h2484" stroke-dasharray="0 1633 3 88 3 166 3 41 3 270 3 8 3 19 3 9 3 60 3 17 3 6 3 34 3 6 3 3 3 48 3 5 3 9999"/><path d="M274 492h2484" stroke-dasharray="0 643 3 591 3 493 3 200 3 56 3 86 3 25 3 26 3 94 3 34 3 13 3 34 3 2 3 12 3 1 3 6 3 24 3 60 3 12 3 9999"/><path d="M274 494h2484" stroke-dasharray="0 685 3 976 3 384 3 153 3 19 3 33 3 20 3 63 3 10 3 57 3 9 3 7 3 19 3 9999"/><path d="M274 496h2484" stroke-dasharray="0 884 3 208 3 568 3 354 3 74 3 35 3 89 3 6 3 3 3 15 3 7 3 0 3 36 3 1 3 18 3 20 3 0 3 17 3 1 3 47 3 9 3 9999"/><path d="M274 498h2484" stroke-dasharray="0 917 3 981 3 136 3 30 3 8 3 182 3 25 3 27 3 15 3 6 3 18 3 9 3 3 3 0 3 17 3 0 3 4 3 21 3 8 3 9999"/><path d="M274 500h2484" stroke-dasharray="0 1688 3 289 3 130 3 57 3 5 3 59 3 10 3 9 3 2 3 10 3 42 3 8 3 11 3 1 3 19 3 0 3 3 3 9 3 43 3 7 3 10 3 0 3 9999"/><path d="M274 502h2484" stroke-dasharray="0 657 3 119 3 145 3 898 3 123 3 10 3 19 3 0 3 38 3 93 3 4 3 22 3 14 3 22 3 17 3 2 3 12 3 30 3 35 3 49 3 5 3 3 3 44 3 23 3 13 3 9999"/><path d="M274 504h2484" stroke-dasharray="0 697 3 1112 3 40 3 131 3 158 3 67 3 26 3 16 3 57 3 39 3 1 3 0 3 2 3 7 3 2 3 20 3 0 3 13 3 12 3 1 3 9999"/><path d="M274 506h2484" stroke-dasharray="0 1968 3 85 3 12 3 45 3 14 3 64 3 7 3 33 3 14 3 22 3 17 3 21 3 34 3 0 3 2 3 4 3 21 3 46 3 1 3 4 3 9999"/><path d="M274 508h2484" stroke-dasharray="0 1081 3 823 3 204 3 4 3 25 3 43 3 14 3 65 3 25 3 22 3 4 3 9 3 49 3 10 3 1 3 16 3 30 3 9999"/><path d="M274 510h2484" stroke-dasharray="0 1058 3 7 3 313 3 293 3 128 3 19 3 43 3 25 3 102 3 74 3 5 3 1 3 19 3 3 3 24 3 2 3 19 3 10 3 7 3 9 3 7 3 10 3 10 3 23 3 3 3 32 3 44 3 23 3 3 3 9 3 22 3 1 3 28 3 9999"/><path d="M274 512h2484" stroke-dasharray="0 1773 3 109 3 23 3 90 3 15 3 2 3 46 3 73 3 15 3 20 3 12 3 18 3 10 3 3 3 50 3 3 3 14 3 33 3 19 3 18 3 12 3 14 3 1 3 5 3 4 3 6 3 9999"/><path d="M274 514h2484" stroke-dasharray="0 728 3 365 3 182 3 808 3 50 3 42 3 2 3 37 3 9 3 33 3 42 3 15 3 54 3 4 3 8 3 1 3 17 3 9999"/><path d="M274 516h2484" stroke-dasharray="0 670 3 7 3 41 3 34 3 96 3 78 3 1010 3 127 3 78 3 35 3 16 3 13 3 20 3 3 3 26 3 7 3 15 3 7 3 19 3 53 3 17 3 0 3 20 3 9999"/><path d="M274 518h2484" stroke-dasharray="0 1524 3 260 3 278 3 48 3 16 3 22 3 35 3 11 3 5 3 9 3 29 3 3 3 13 3 9 3 11 3 20 3 5 3 21 3 5 3 40 3 12 3 0 3 18 3 8 3 9999"/><path d="M274 520h2484" stroke-dasharray="0 1007 3 692 3 31 3 268 3 66 3 65 3 3 3 10 3 16 3 11 3 4 3 27 3 6 3 5 3 15 3 3 3 4 3 42 3 11 3 18 3 17 3 0 3 5 3 4 3 20 3 14 3 28 3 9999"/><path d="M274 522h2484" stroke-dasharray="0 1421 3 235 3 35 3 304 3 12 3 54 3 16 3 7 3 6 3 40 3 17 3 21 3 25 3 23 3 6 3 6 3 17 3 27 3 1 3 10 3 0 3 11 3 10 3 1 3 17 3 0 3 20 3 12 3 14 3 14 3 9999"/><path d="M274 524h2484" stroke-dasharray="0 601 3 1083 3 83 3 136 3 150 3 110 3 3 3 23 3 2 3 10 3 1 3 13 3 14 3 22 3 21 3 3 3 2 3 39 3 36 3 4 3 3 3 1 3 5 3 17 3 7 3 12 3 9999"/><path d="M274 526h2484" stroke-dasharray="0 1744 3 167 3 92 3 10 3 7 3 63 3 40 3 15 3 10 3 12 3 0 3 23 3 0 3 8 3 39 3 8 3 11 3 1 3 23 3 27 3 3 3 6 3 0 3 1 3 13 3 10 3 10 3 11 3 7 3 9999"/><path d="M274 528h2484" stroke-dasharray="0 944 3 615 3 54 3 259 3 72 3 89 3 82 3 8 3 9 3 12 3 1 3 18 3 2 3 30 3 0 3 6 3 3 3 26 3 20 3 5 3 13 3 3 3 13 3 19 3 13 3 2 3 20 3 7 3 5 3 9999"/><path d="M274 530h2484" stroke-dasharray="0 717 3 66 3 25 3 896 3 109 3 143 3 118 3 44 3 4 3 9 3 9 3 23 3 21 3 3 3 6 3 15 3 55 3 1 3 35 3 10 3 9 3 4 3 40 3 14 3 26 3 9999"/><path d="M274 532h2484" stroke-dasharray="0 724 3 116 3 715 3 219 3 109 3 2 3 183 3 21 3 49 3 107 3 32 3 30 3 14 3 75 3 9 3 2 3 11 3 9999"/><path d="M274 534h2484" stroke-dasharray="0 725 3 20 3 42 3 109 3 32 3 168 3 63 3 142 3 585 3 18 3 34 3 15 3 21 3 69 3 19 3 0 3 6 3 29 3 29 3 8 3 27 3 30 3 0 3 24 3 5 3 6 3 39 3 21 3 4 3 14 3 19 3 3 3 33 3 9999"/><path d="M274 536h2484" stroke-dasharray="0 877 3 211 3 328 3 547 3 106 3 44 3 65 3 6 3 3 3 0 3 19 3 7 3 10 3 37 3 6 3 11 3 15 3 2 3 0 3 23 3 14 3 7 3 36 3 30 3 9999"/><path d="M274 538h2484" stroke-dasharray="0 779 3 99 3 918 3 150 3 23 3 96 3 36 3 2 3 8 3 25 3 9 3 0 3 5 3 20 3 37 3 6 3 6 3 1 3 4 3 15 3 7 3 6 3 17 3 25 3 11 3 7 3 1 3 10 3 9999"/><path d="M274 540h2484" stroke-dasharray="0 833 3 10 3 1194 3 20 3 44 3 44 3 13 3 0 3 18 3 0 3 30 3 32 3 4 3 5 3 3 3 14 3 36 3 42 3 13 3 20 3 34 3 9999"/><path d="M274 542h2484" stroke-dasharray="0 696 3 138 3 10 3 7 3 8 3 1098 3 59 3 14 3 16 3 51 3 5 3 30 3 43 3 9 3 9 3 6 3 12 3 1 3 28 3 31 3 38 3 13 3 15 3 11 3 33 3 9 3 9999"/><path d="M274 544h2484" stroke-dasharray="0 800 3 6 3 34 3 60 3 99 3 79 3 538 3 44 3 26 3 128 3 87 3 127 3 13 3 10 3 22 3 61 3 3 3 19 3 7 3 37 3 18 3 5 3 19 3 19 3 20 3 36 3 0 3 48 3 9999"/><path d="M274 546h2484" stroke-dasharray="0 644 3 140 3 22 3 23 3 15 3 43 3 23 3 140 3 418 3 63 3 271 3 80 3 39 3 31 3 30 3 8 3 3 3 53 3 16 3 15 3 32 3 21 3 34 3 5 3 26 3 10 3 83 3 48 3 13 3 1 3 4 3 21 3 9999"/><path d="M274 548h2484" stroke-dasharray="0 742 3 15 3 18 3 16 3 686 3 370 3 89 3 0 3 15 3 19 3 101 3 23 3 4 3 14 3 24 3 29 3 9 3 19 3 21 3 15 3 20 3 19 3 25 3 35 3 8 3 10 3 50 3 9999"/><path d="M274 550h2484" stroke-dasharray="0 708 3 70 3 64 3 14 3 712 3 292 3 38 3 33 3 21 3 10 3 41 3 1 3 25 3 0 3 2 3 6 3 4 3 9 3 43 3 16 3 5 3 13 3 2 3 5 3 20 3 25 3 40 3 20 3 13 3 7 3 17 3 5 3 6 3 6 3 60 3 9999"/><path d="M274 552h2484" stroke-dasharray="0 807 3 61 3 10 3 620 3 330 3 87 3 43 3 53 3 10 3 16 3 12 3 94 3 10 3 84 3 2 3 3 3 29 3 15 3 4 3 28 3 0 3 26 3 33 3 9999"/><path d="M274 554h2484" stroke-dasharray="0 811 3 28 3 0 3 110 3 6 3 806 3 24 3 40 3 5 3 12 3 44 3 41 3 2 3 57 3 4 3 0 3 23 3 47 3 19 3 19 3 33 3 36 3 47 3 2 3 0 3 28 3 0 3 7 3 0 3 16 3 13 3 34 3 7 3 3 3 9 3 4 3 19 3 9999"/><path d="M274 556h2484" stroke-dasharray="0 807 3 36 3 5 3 13 3 109 3 52 3 834 3 29 3 83 3 30 3 3 3 58 3 21 3 20 3 1 3 14 3 18 3 1 3 2 3 10 3 11 3 13 3 1 3 45 3 49 3 21 3 46 3 12 3 5 3 10 3 4 3 8 3 9999"/><path d="M274 558h2484" stroke-dasharray="0 580 3 260 3 25 3 39 3 92 3 844 3 60 3 38 3 21 3 4 3 36 3 25 3 13 3 17 3 3 3 46 3 17 3 15 3 19 3 45 3 20 3 3 3 12 3 10 3 12 3 20 3 13 3 7 3 12 3 1 3 47 3 1 3 9999"/><path d="M274 560h2484" stroke-dasharray="0 723 3 206 3 3 3 237 3 60 3 610 3 28 3 3 3 51 3 4 3 33 3 0 3 17 3 95 3 8 3 8 3 6 3 3 3 2 3 1 3 16 3 17 3 4 3 16 3 1 3 54 3 28 3 45 3 3 3 16 3 49 3 15 3 5 3 7 3 9999"/><path d="M274 562h2484" stroke-dasharray="0 665 3 148 3 3 3 3 3 48 3 7 3 4 3 174 3 586 3 132 3 27 3 12 3 18 3 13 3 0 3 61 3 6 3 10 3 5 3 22 3 54 3 18 3 11 3 0 3 5 3 13 3 5 3 44 3 30 3 1 3 3 3 10 3 28 3 2 3 23 3 28 3 0 3 1 3 7 3 16 3 14 3 1 3 41 3 30 3 9999"/><path d="M274 564h2484" stroke-dasharray="0 775 3 78 3 11 3 224 3 223 3 409 3 31 3 30 3 5 3 46 3 46 3 9 3 8 3 37 3 11 3 10 3 28 3 5 3 16 3 3 3 5 3 8 3 6 3 12 3 2 3 18 3 5 3 22 3 81 3 15 3 1 3 4 3 33 3 16 3 63 3 1 3 46 3 9999"/><path d="M274 566h2484" stroke-dasharray="0 743 3 88 3 97 3 582 3 12 3 258 3 79 3 37 3 2 3 0 3 18 3 29 3 11 3 37 3 8 3 10 3 6 3 50 3 2 3 33 3 8 3 5 3 8 3 12 3 9 3 0 3 1 3 0 3 6 3 1 3 33 3 7 3 21 3 13 3 7 3 17 3 1 3 0 3 33 3 23 3 9999"/><path d="M274 568h2484" stroke-dasharray="0 651 3 141 3 63 3 39 3 282 3 19 3 125 3 465 3 25 3 85 3 27 3 15 3 5 3 48 3 1 3 32 3 3 3 0 3 23 3 17 3 34 3 11 3 5 3 3 3 10 3 14 3 28 3 62 3 4 3 6 3 3 3 71 3 38 3 20 3 9999"/><path d="M274 570h2484" stroke-dasharray="0 645 3 127 3 38 3 1 3 2 3 5 3 241 3 38 3 271 3 138 3 126 3 13 3 72 3 45 3 18 3 2 3 9 3 75 3 34 3 3 3 2 3 5 3 5 3 16 3 2 3 8 3 1 3 2 3 10 3 0 3 85 3 2 3 8 3 17 3 43 3 7 3 4 3 4 3 35 3 5 3 5 3 1 3 49 3 52 3 3 3 27 3 0 3 3 3 5 3 11 3 9999"/><path d="M274 572h2484" stroke-dasharray="0 683 3 131 3 60 3 125 3 337 3 87 3 42 3 176 3 0 3 74 3 30 3 16 3 31 3 14 3 41 3 14 3 3 3 36 3 14 3 23 3 8 3 8 3 32 3 12 3 15 3 7 3 6 3 6 3 9 3 16 3 1 3 19 3 2 3 1 3 2 3 4 3 8 3 21 3 51 3 0 3 0 3 39 3 8 3 21 3 6 3 6 3 4 3 26 3 27 3 1 3 15 3 9999"/><path d="M274 574h2484" stroke-dasharray="0 838 3 52 3 4 3 11 3 132 3 450 3 148 3 14 3 16 3 36 3 38 3 18 3 20 3 88 3 2 3 13 3 6 3 2 3 11 3 1 3 9 3 68 3 14 3 33 3 19 3 14 3 24 3 40 3 20 3 5 3 33 3 13 3 68 3 1 3 63 3 9999"/><path d="M274 576h2484" stroke-dasharray="0 874 3 402 3 245 3 54 3 34 3 27 3 27 3 58 3 50 3 13 3 44 3 6 3 10 3 4 3 17 3 1 3 12 3 3 3 10 3 50 3 0 3 26 3 0 3 59 3 31 3 2 3 0 3 9 3 5 3 14 3 19 3 5 3 3 3 3 3 27 3 0 3 17 3 8 3 90 3 28 3 9999"/><path d="M274 578h2484" stroke-dasharray="0 789 3 80 3 16 3 17 3 13 3 33 3 359 3 319 3 70 3 35 3 21 3 55 3 13 3 27 3 27 3 12 3 40 3 38 3 6 3 12 3 25 3 5 3 21 3 11 3 44 3 28 3 21 3 5 3 42 3 12 3 22 3 41 3 5 3 5 3 11 3 41 3 22 3 13 3 9999"/><path d="M274 580h2484" stroke-dasharray="0 698 3 49 3 221 3 194 3 216 3 208 3 16 3 22 3 71 3 8 3 5 3 4 3 43 3 34 3 46 3 13 3 27 3 3 3 2 3 83 3 0 3 11 3 50 3 10 3 31 3 4 3 12 3 30 3 23 3 38 3 23 3 42 3 17 3 23 3 6 3 6 3 52 3 9999"/><path d="M274 582h2484" stroke-dasharray="0 779 3 6 3 48 3 53 3 180 3 74 3 21 3 161 3 19 3 66 3 98 3 8 3 8 3 14 3 108 3 72 3 39 3 1 3 25 3 62 3 0 3 0 3 1 3 4 3 12 3 37 3 1 3 1 3 0 3 46 3 12 3 22 3 24 3 52 3 5 3 1 3 9 3 3 3 26 3 6 3 5 3 14 3 13 3 6 3 1 3 9 3 5 3 7 3 54 3 13 3 38 3 9 3 9999"/><path d="M274 584h2484" stroke-dasharray="0 866 3 110 3 12 3 4 3 132 3 43 3 16 3 184 3 36 3 31 3 57 3 128 3 29 3 10 3 1 3 35 3 14 3 11 3 6 3 16 3 9 3 24 3 17 3 27 3 6 3 3 3 21 3 28 3 5 3 5 3 13 3 2 3 0 3 7 3 18 3 0 3 37 3 8 3 10 3 0 3 20 3 7 3 7 3 40 3 17 3 27 3 16 3 10 3 57 3 25 3 34 3 44 3 9999"/><path d="M274 586h2484" stroke-dasharray="0 806 3 60 3 344 3 148 3 103 3 38 3 30 3 11 3 7 3 32 3 23 3 36 3 91 3 1 3 18 3 13 3 11 3 18 3 0 3 23 3 4 3 6 3 6 3 9 3 31 3 21 3 55 3 51 3 0 3 0 3 20 3 27 3 10 3 85 3 1 3 1 3 15 3 30 3 21 3 50 3 6 3 0 3 6 3 5 3 37 3 9999"/><path d="M274 588h2484" stroke-dasharray="0 879 3 28 3 16 3 46 3 20 3 320 3 5 3 21 3 220 3 16 3 36 3 0 3 50 3 20 3 9 3 3 3 33 3 38 3 41 3 9 3 16 3 3 3 4 3 10 3 36 3 4 3 25 3 31 3 71 3 7 3 44 3 34 3 23 3 7 3 27 3 15 3 64 3 0 3 69 3 56 3 9999"/><path d="M274 590h2484" stroke-dasharray="0 941 3 1 3 40 3 233 3 3 3 56 3 23 3 12 3 154 3 5 3 0 3 54 3 19 3 6 3 10 3 20 3 90 3 10 3 8 3 1 3 12 3 29 3 38 3 19 3 4 3 17 3 35 3 6 3 8 3 1 3 4 3 2 3 32 3 58 3 3 3 10 3 10 3 7 3 6 3 1 3 10 3 17 3 79 3 33 3 8 3 71 3 44 3 6 3 43 3 11 3 9999"/><path d="M274 592h2484" stroke-dasharray="0 806 3 29 3 360 3 28 3 26 3 30 3 110 3 38 3 27 3 2 3 46 3 21 3 3 3 24 3 0 3 14 3 46 3 54 3 14 3 5 3 19 3 29 3 18 3 25 3 2 3 4 3 12 3 16 3 30 3 4 3 12 3 1 3 3 3 35 3 16 3 15 3 26 3 12 3 4 3 29 3 4 3 17 3 60 3 3 3 19 3 50 3 41 3 12 3 18 3 1 3 14 3 24 3 47 3 9999"/><path d="M274 594h2484" stroke-dasharray="0 840 3 76 3 185 3 26 3 119 3 31 3 78 3 5 3 4 3 50 3 23 3 15 3 5 3 27 3 13 3 11 3 24 3 4 3 14 3 45 3 11 3 15 3 18 3 4 3 37 3 3 3 3 3 22 3 1 3 8 3 26 3 19 3 23 3 20 3 16 3 6 3 8 3 18 3 24 3 15 3 17 3 8 3 4 3 0 3 5 3 18 3 6 3 6 3 7 3 19 3 12 3 15 3 59 3 24 3 58 3 33 3 13 3 69 3 9999"/><path d="M274 596h2484" stroke-dasharray="0 796 3 25 3 254 3 86 3 136 3 97 3 44 3 76 3 64 3 45 3 30 3 17 3 52 3 27 3 41 3 13 3 29 3 37 3 3 3 0 3 16 3 23 3 11 3 6 3 17 3 25 3 11 3 15 3 31 3 3 3 22 3 42 3 6 3 0 3 8 3 4 3 0 3 6 3 6 3 12 3 51 3 2 3 38 3 27 3 0 3 2 3 11 3 9 3 47 3 9999"/><path d="M274 598h2484" stroke-dasharray="0 895 3 107 3 155 3 177 3 8 3 12 3 35 3 34 3 25 3 50 3 58 3 1 3 19 3 2 3 28 3 17 3 36 3 10 3 13 3 0 3 10 3 32 3 6 3 5 3 10 3 13 3 9 3 5 3 6 3 2 3 14 3 4 3 34 3 22 3 19 3 13 3 29 3 4 3 20 3 10 3 34 3 31 3 34 3 3 3 51 3 4 3 56 3 6 3 12 3 9999"/><path d="M274 600h2484" stroke-dasharray="0 676 3 402 3 88 3 163 3 233 3 9 3 4 3 25 3 37 3 25 3 11 3 4 3 7 3 5 3 22 3 32 3 10 3 23 3 3 3 13 3 59 3 22 3 22 3 12 3 3 3 0 3 9 3 2 3 19 3 33 3 31 3 3 3 124 3 10 3 31 3 31 3 33 3 22 3 48 3 9999"/><path d="M274 602h2484" stroke-dasharray="0 852 3 211 3 63 3 27 3 108 3 47 3 63 3 5 3 73 3 54 3 31 3 32 3 42 3 43 3 3 3 0 3 25 3 3 3 7 3 1 3 7 3 14 3 12 3 8 3 7 3 26 3 0 3 1 3 13 3 13 3 3 3 7 3 8 3 1 3 2 3 26 3 7 3 32 3 8 3 8 3 5 3 0 3 2 3 146 3 80 3 53 3 17 3 73 3 9999"/><path d="M274 604h2484" stroke-dasharray="0 831 3 444 3 90 3 59 3 73 3 13 3 41 3 2 3 31 3 27 3 20 3 24 3 6 3 0 3 30 3 53 3 13 3 11 3 11 3 10 3 40 3 3 3 11 3 20 3 0 3 0 3 13 3 22 3 9 3 21 3 32 3 12 3 13 3 86 3 98 3 105 3 42 3 10 3 18 3 9999"/><path d="M274 606h2484" stroke-dasharray="0 1121 3 185 3 82 3 16 3 50 3 12 3 19 3 101 3 120 3 19 3 22 3 23 3 27 3 24 3 75 3 61 3 21 3 36 3 13 3 38 3 29 3 68 3 63 3 4 3 60 3 42 3 10 3 1 3 9999"/><path d="M274 608h2484" stroke-dasharray="0 781 3 243 3 9999"/><path d="M274 610h2484" stroke-dasharray="0 1130 3 1 3 3 3 30 3 85 3 13 3 13 3 0 3 17 3 25 3 88 3 127 3 34 3 36 3 12 3 41 3 13 3 84 3 9999"/><path d="M274 612h2484" stroke-dasharray="0 1063 3 24 3 10 3 71 3 120 3 28 3 27 3 35 3 44 3 16 3 4 3 51 3 8 3 30 3 4 3 68 3 2 3 3 3 32 3 44 3 62 3 9999"/><path d="M274 614h2484" stroke-dasharray="0 1178 3 62 3 48 3 35 3 95 3 21 3 19 3 13 3 27 3 34 3 5 3 17 3 14 3 0 3 13 3 31 3 44 3 18 3 107 3 9999"/><path d="M274 616h2484" stroke-dasharray="0 1142 3 147 3 99 3 36 3 118 3 282 3 9999"/><path d="M274 618h2484" stroke-dasharray="0 970 3 93 3 178 3 103 3 121 3 29 3 236 3 9999"/><path d="M274 620h2484" stroke-dasharray="0 1220 3 83 3 122 3 70 3 9 3 73 3 83 3 39 3 66 3 9999"/><path d="M274 622h2484" stroke-dasharray="0 1155 3 490 3 9999"/><path d="M274 652h2484" stroke-dasharray="0 1710 3 6 3 73 3 135 3 75 3 24 3 156 3 142 3 4 3 7 3 57 3 6 3 7 3 9999"/><path d="M274 654h2484" stroke-dasharray="0 731 3 33 3 41 3 422 3 472 3 75 3 273 3 134 3 0 3 6 3 7 3 106 3 28 3 63 3 19 3 1 3 9999"/><path d="M274 656h2484" stroke-dasharray="0 790 3 187 3 1097 3 132 3 8 3 61 3 52 3 72 3 8 3 23 3 0 3 9999"/><path d="M274 658h2484" stroke-dasharray="0 1325 3 927 3 26 3 77 3 40 3 24 3 19 3 5 3 9999"/><path d="M274 660h2484" stroke-dasharray="0 1291 3 299 3 373 3 55 3 26 3 227 3 61 3 34 3 77 3 9999"/><path d="M274 662h2484" stroke-dasharray="0 740 3 128 3 506 3 268 3 599 3 58 3 2 3 4 3 10 3 60 3 17 3 14 3 9 3 12 3 9999"/><path d="M274 664h2484" stroke-dasharray="0 911 3 87 3 60 3 267 3 538 3 17 3 148 3 26 3 56 3 82 3 52 3 43 3 0 3 7 3 14 3 20 3 46 3 17 3 3 3 0 3 20 3 9999"/><path d="M274 666h2484" stroke-dasharray="0 739 3 615 3 570 3 53 3 171 3 41 3 91 3 22 3 10 3 4 3 62 3 52 3 9999"/><path d="M274 668h2484" stroke-dasharray="0 1944 3 6 3 167 3 39 3 96 3 27 3 55 3 4 3 10 3 7 3 1 3 1 3 38 3 21 3 9999"/><path d="M274 670h2484" stroke-dasharray="0 916 3 71 3 68 3 512 3 140 3 89 3 382 3 50 3 66 3 55 3 23 3 44 3 2 3 9999"/><path d="M274 672h2484" stroke-dasharray="0 670 3 272 3 282 3 189 3 426 3 18 3 123 3 200 3 51 3 13 3 30 3 10 3 9 3 35 3 47 3 2 3 5 3 14 3 4 3 9999"/><path d="M274 674h2484" stroke-dasharray="0 778 3 782 3 47 3 356 3 75 3 2 3 48 3 170 3 13 3 20 3 73 3 62 3 8 3 9999"/><path d="M274 676h2484" stroke-dasharray="0 709 3 198 3 347 3 261 3 438 3 324 3 53 3 27 3 2 3 15 3 29 3 10 3 26 3 9999"/><path d="M274 678h2484" stroke-dasharray="0 844 3 190 3 554 3 212 3 142 3 44 3 144 3 61 3 61 3 13 3 44 3 1 3 9 3 26 3 0 3 7 3 7 3 2 3 1 3 20 3 32 3 9999"/><path d="M274 680h2484" stroke-dasharray="0 640 3 943 3 49 3 164 3 141 3 41 3 70 3 236 3 3 3 58 3 11 3 30 3 2 3 4 3 6 3 23 3 0 3 9999"/><path d="M274 682h2484" stroke-dasharray="0 1208 3 45 3 277 3 387 3 86 3 12 3 66 3 0 3 55 3 25 3 37 3 52 3 19 3 7 3 8 3 27 3 19 3 66 3 5 3 9999"/><path d="M274 684h2484" stroke-dasharray="0 778 3 48 3 211 3 48 3 868 3 91 3 72 3 0 3 77 3 52 3 4 3 8 3 31 3 73 3 18 3 20 3 5 3 9999"/><path d="M274 686h2484" stroke-dasharray="0 943 3 12 3 3 3 860 3 58 3 192 3 24 3 89 3 26 3 60 3 11 3 28 3 18 3 0 3 16 3 16 3 18 3 10 3 6 3 21 3 4 3 9999"/><path d="M274 688h2484" stroke-dasharray="0 1020 3 613 3 34 3 313 3 45 3 38 3 54 3 29 3 65 3 61 3 2 3 28 3 29 3 7 3 10 3 26 3 1 3 11 3 4 3 7 3 18 3 9999"/><path d="M274 690h2484" stroke-dasharray="0 747 3 235 3 918 3 85 3 283 3 15 3 65 3 21 3 61 3 9999"/><path d="M274 692h2484" stroke-dasharray="0 1192 3 832 3 72 3 142 3 2 3 95 3 37 3 28 3 4 3 5 3 5 3 9 3 0 3 9999"/><path d="M274 694h2484" stroke-dasharray="0 596 3 53 3 146 3 96 3 198 3 709 3 140 3 185 3 42 3 76 3 5 3 123 3 13 3 49 3 9999"/><path d="M274 696h2484" stroke-dasharray="0 846 3 1287 3 20 3 38 3 71 3 54 3 13 3 16 3 23 3 10 3 10 3 34 3 9999"/><path d="M274 698h2484" stroke-dasharray="0 899 3 87 3 18 3 773 3 220 3 104 3 48 3 8 3 44 3 37 3 10 3 13 3 147 3 2 3 9999"/><path d="M274 700h2484" stroke-dasharray="0 783 3 651 3 543 3 38 3 12 3 145 3 86 3 80 3 2 3 50 3 53 3 9999"/><path d="M274 702h2484" stroke-dasharray="0 671 3 81 3 459 3 393 3 431 3 142 3 59 3 19 3 16 3 5 3 46 3 10 3 4 3 1 3 58 3 13 3 10 3 1 3 9999"/><path d="M274 704h2484" stroke-dasharray="0 849 3 1 3 247 3 801 3 157 3 44 3 41 3 44 3 21 3 67 3 23 3 16 3 11 3 19 3 1 3 19 3 20 3 17 3 2 3 9999"/><path d="M274 706h2484" stroke-dasharray="0 847 3 21 3 928 3 161 3 77 3 34 3 73 3 7 3 45 3 3 3 103 3 34 3 7 3 29 3 3 3 2 3 5 3 2 3 1 3 14 3 1 3 7 3 9999"/><path d="M274 708h2484" stroke-dasharray="0 729 3 50 3 10 3 129 3 50 3 516 3 145 3 77 3 162 3 254 3 8 3 2 3 113 3 7 3 5 3 2 3 12 3 36 3 28 3 1 3 3 3 18 3 50 3 9999"/><path d="M274 710h2484" stroke-dasharray="0 842 3 109 3 83 3 846 3 215 3 7 3 3 3 6 3 10 3 66 3 17 3 7 3 3 3 56 3 22 3 13 3 14 3 20 3 16 3 26 3 33 3 9999"/><path d="M274 712h2484" stroke-dasharray="0 861 3 32 3 13 3 567 3 157 3 297 3 0 3 299 3 11 3 6 3 2 3 1 3 14 3 3 3 30 3 6 3 12 3 0 3 12 3 4 3 59 3 12 3 3 3 3 3 9999"/><path d="M274 714h2484" stroke-dasharray="0 908 3 1 3 30 3 565 3 350 3 285 3 75 3 20 3 22 3 15 3 25 3 89 3 1 3 7 3 12 3 17 3 4 3 9999"/><path d="M274 716h2484" stroke-dasharray="0 1155 3 452 3 424 3 114 3 8 3 16 3 24 3 13 3 1 3 10 3 10 3 7 3 14 3 0 3 63 3 15 3 4 3 5 3 3 3 10 3 24 3 2 3 8 3 18 3 9999"/><path d="M274 718h2484" stroke-dasharray="0 690 3 144 3 0 3 71 3 31 3 34 3 82 3 818 3 42 3 106 3 37 3 17 3 30 3 34 3 3 3 0 3 18 3 69 3 64 3 15 3 7 3 29 3 13 3 20 3 8 3 5 3 9999"/><path d="M274 720h2484" stroke-dasharray="0 649 3 175 3 33 3 19 3 606 3 211 3 378 3 59 3 54 3 6 3 11 3 2 3 5 3 52 3 1 3 29 3 8 3 3 3 17 3 5 3 10 3 16 3 20 3 35 3 9999"/><path d="M274 722h2484" stroke-dasharray="0 858 3 103 3 50 3 111 3 555 3 31 3 380 3 34 3 56 3 17 3 15 3 0 3 16 3 10 3 45 3 0 3 2 3 26 3 8 3 19 3 23 3 7 3 3 3 27 3 4 3 9999"/><path d="M274 724h2484" stroke-dasharray="0 907 3 4 3 10 3 238 3 75 3 440 3 429 3 30 3 9 3 1 3 17 3 4 3 6 3 19 3 34 3 43 3 28 3 47 3 8 3 6 3 6 3 3 3 1 3 21 3 9999"/><path d="M274 726h2484" stroke-dasharray="0 745 3 75 3 40 3 0 3 21 3 963 3 93 3 17 3 101 3 12 3 78 3 90 3 28 3 13 3 20 3 6 3 22 3 8 3 7 3 4 3 3 3 8 3 14 3 25 3 9999"/><path d="M274 728h2484" stroke-dasharray="0 712 3 113 3 17 3 1005 3 222 3 18 3 1 3 33 3 8 3 45 3 46 3 35 3 17 3 4 3 26 3 8 3 1 3 26 3 4 3 33 3 0 3 9 3 3 3 9999"/><path d="M274 730h2484" stroke-dasharray="0 811 3 154 3 606 3 334 3 25 3 46 3 135 3 24 3 5 3 9 3 4 3 6 3 3 3 2 3 15 3 24 3 15 3 18 3 49 3 2 3 31 3 6 3 2 3 0 3 3 3 3 3 30 3 3 3 20 3 9999"/><path d="M274 732h2484" stroke-dasharray="0 778 3 200 3 754 3 351 3 51 3 0 3 1 3 5 3 18 3 16 3 4 3 0 3 0 3 61 3 47 3 8 3 30 3 17 3 12 3 11 3 1 3 16 3 18 3 9999"/><path d="M274 734h2484" stroke-dasharray="0 845 3 906 3 275 3 47 3 29 3 49 3 37 3 5 3 0 3 5 3 22 3 31 3 12 3 17 3 9 3 29 3 0 3 2 3 19 3 1 3 16 3 34 3 1 3 15 3 9999"/><path d="M274 736h2484" stroke-dasharray="0 904 3 55 3 1029 3 19 3 26 3 4 3 12 3 16 3 35 3 22 3 22 3 5 3 4 3 13 3 47 3 19 3 14 3 9 3 6 3 2 3 27 3 30 3 1 3 9 3 48 3 1 3 0 3 9999"/><path d="M274 738h2484" stroke-dasharray="0 775 3 27 3 37 3 74 3 838 3 266 3 40 3 62 3 17 3 1 3 5 3 5 3 51 3 9 3 17 3 2 3 69 3 2 3 11 3 12 3 8 3 0 3 7 3 3 3 9 3 5 3 2 3 8 3 6 3 9999"/><path d="M274 740h2484" stroke-dasharray="0 704 3 94 3 1 3 25 3 25 3 73 3 318 3 131 3 208 3 288 3 188 3 81 3 25 3 8 3 32 3 9 3 0 3 1 3 6 3 40 3 1 3 37 3 1 3 5 3 6 3 6 3 0 3 15 3 11 3 9 3 0 3 11 3 9999"/><path d="M274 742h2484" stroke-dasharray="0 748 3 127 3 2 3 124 3 894 3 147 3 73 3 26 3 6 3 25 3 7 3 47 3 0 3 0 3 16 3 12 3 23 3 32 3 5 3 6 3 1 3 0 3 9 3 5 3 7 3 11 3 15 3 13 3 9999"/><path d="M274 744h2484" stroke-dasharray="0 1279 3 310 3 294 3 68 3 28 3 5 3 24 3 26 3 4 3 34 3 46 3 13 3 4 3 55 3 4 3 17 3 1 3 27 3 3 3 2 3 4 3 13 3 32 3 7 3 8 3 15 3 8 3 31 3 1 3 10 3 2 3 7 3 9999"/><path d="M274 746h2484" stroke-dasharray="0 864 3 84 3 114 3 173 3 560 3 129 3 71 3 38 3 18 3 2 3 24 3 28 3 33 3 10 3 1 3 18 3 14 3 0 3 8 3 0 3 50 3 14 3 45 3 8 3 11 3 6 3 4 3 43 3 11 3 9999"/><path d="M274 748h2484" stroke-dasharray="0 703 3 45 3 203 3 167 3 114 3 809 3 35 3 20 3 9 3 24 3 16 3 9 3 24 3 13 3 6 3 8 3 16 3 22 3 15 3 20 3 3 3 7 3 21 3 3 3 53 3 13 3 11 3 9999"/><path d="M274 750h2484" stroke-dasharray="0 921 3 186 3 905 3 15 3 2 3 14 3 12 3 28 3 84 3 2 3 44 3 14 3 26 3 2 3 28 3 46 3 22 3 14 3 4 3 0 3 2 3 8 3 3 3 8 3 6 3 9999"/><path d="M274 752h2484" stroke-dasharray="0 830 3 57 3 45 3 85 3 94 3 864 3 8 3 1 3 52 3 3 3 17 3 45 3 12 3 35 3 68 3 0 3 19 3 30 3 5 3 61 3 0 3 9 3 9 3 7 3 9999"/><path d="M274 754h2484" stroke-dasharray="0 744 3 56 3 338 3 138 3 213 3 240 3 289 3 8 3 40 3 38 3 4 3 43 3 0 3 1 3 2 3 2 3 34 3 0 3 10 3 8 3 4 3 1 3 5 3 2 3 42 3 5 3 9 3 9 3 6 3 4 3 38 3 13 3 21 3 9999"/><path d="M274 756h2484" stroke-dasharray="0 883 3 87 3 101 3 296 3 494 3 17 3 29 3 26 3 37 3 43 3 4 3 3 3 1 3 17 3 66 3 6 3 40 3 40 3 0 3 1 3 18 3 10 3 2 3 11 3 20 3 8 3 6 3 16 3 10 3 5 3 0 3 20 3 1 3 2 3 9999"/><path d="M274 758h2484" stroke-dasharray="0 845 3 1046 3 74 3 1 3 12 3 61 3 5 3 18 3 6 3 5 3 6 3 2 3 19 3 6 3 0 3 2 3 0 3 14 3 15 3 12 3 0 3 7 3 14 3 23 3 7 3 8 3 1 3 2 3 41 3 0 3 7 3 2 3 2 3 7 3 15 3 33 3 18 3 6 3 12 3 9999"/><path d="M274 760h2484" stroke-dasharray="0 757 3 416 3 288 3 376 3 101 3 67 3 3 3 3 3 15 3 54 3 10 3 10 3 12 3 0 3 13 3 12 3 0 3 40 3 14 3 6 3 35 3 26 3 2 3 5 3 1 3 7 3 0 3 3 3 4 3 43 3 30 3 1 3 19 3 9999"/><path d="M274 762h2484" stroke-dasharray="0 947 3 556 3 115 3 12 3 227 3 100 3 17 3 4 3 8 3 0 3 17 3 24 3 4 3 31 3 2 3 12 3 20 3 20 3 8 3 29 3 3 3 13 3 16 3 6 3 16 3 19 3 15 3 4 3 28 3 2 3 14 3 1 3 6 3 10 3 0 3 6 3 26 3 12 3 2 3 9999"/><path d="M274 764h2484" stroke-dasharray="0 808 3 832 3 142 3 120 3 6 3 40 3 14 3 15 3 22 3 2 3 17 3 34 3 34 3 6 3 1 3 7 3 2 3 22 3 0 3 1 3 2 3 6 3 14 3 42 3 15 3 33 3 1 3 10 3 18 3 43 3 8 3 8 3 4 3 6 3 27 3 9999"/><path d="M274 766h2484" stroke-dasharray="0 1542 3 69 3 245 3 1 3 6 3 129 3 19 3 32 3 0 3 19 3 11 3 1 3 0 3 3 3 6 3 33 3 20 3 4 3 4 3 17 3 9 3 7 3 3 3 34 3 1 3 15 3 7 3 11 3 27 3 9 3 13 3 4 3 3 3 36 3 3 3 3 3 2 3 3 3 4 3 9999"/><path d="M274 768h2484" stroke-dasharray="0 846 3 34 3 553 3 348 3 85 3 56 3 33 3 11 3 25 3 15 3 18 3 13 3 18 3 13 3 20 3 10 3 22 3 15 3 39 3 2 3 15 3 5 3 3 3 0 3 4 3 2 3 0 3 10 3 2 3 38 3 6 3 5 3 57 3 0 3 3 3 26 3 0 3 9 3 9999"/><path d="M274 770h2484" stroke-dasharray="0 770 3 102 3 35 3 42 3 386 3 299 3 228 3 54 3 16 3 4 3 12 3 15 3 28 3 15 3 10 3 16 3 26 3 34 3 1 3 24 3 12 3 1 3 5 3 7 3 3 3 2 3 24 3 6 3 17 3 15 3 11 3 25 3 14 3 10 3 9 3 7 3 3 3 12 3 2 3 16 3 20 3 9999"/><path d="M274 772h2484" stroke-dasharray="0 762 3 79 3 18 3 919 3 45 3 120 3 4 3 55 3 12 3 11 3 22 3 4 3 9 3 11 3 2 3 42 3 18 3 20 3 18 3 24 3 7 3 2 3 15 3 3 3 1 3 6 3 55 3 4 3 8 3 8 3 8 3 24 3 13 3 1 3 3 3 9999"/><path d="M274 774h2484" stroke-dasharray="0 637 3 81 3 54 3 112 3 51 3 672 3 105 3 19 3 14 3 41 3 50 3 17 3 15 3 10 3 71 3 4 3 54 3 2 3 10 3 39 3 8 3 46 3 57 3 23 3 4 3 9 3 6 3 4 3 1 3 11 3 18 3 0 3 29 3 2 3 22 3 14 3 10 3 28 3 3 3 9999"/><path d="M274 776h2484" stroke-dasharray="0 1709 3 60 3 38 3 29 3 14 3 44 3 15 3 12 3 13 3 5 3 2 3 21 3 27 3 28 3 4 3 23 3 31 3 18 3 1 3 24 3 1 3 18 3 7 3 25 3 5 3 8 3 1 3 7 3 7 3 18 3 10 3 20 3 0 3 8 3 18 3 24 3 1 3 15 3 5 3 8 3 11 3 9 3 9999"/><path d="M274 778h2484" stroke-dasharray="0 748 3 552 3 89 3 349 3 57 3 28 3 16 3 4 3 0 3 12 3 26 3 12 3 60 3 6 3 17 3 31 3 7 3 3 3 18 3 12 3 28 3 14 3 2 3 75 3 8 3 0 3 5 3 10 3 30 3 7 3 2 3 25 3 17 3 27 3 0 3 14 3 3 3 5 3 32 3 0 3 9999"/><path d="M274 780h2484" stroke-dasharray="0 822 3 123 3 35 3 506 3 226 3 15 3 4 3 110 3 4 3 15 3 7 3 37 3 5 3 0 3 6 3 26 3 0 3 2 3 5 3 4 3 27 3 9 3 4 3 1 3 50 3 3 3 2 3 0 3 10 3 16 3 21 3 26 3 20 3 1 3 12 3 10 3 16 3 2 3 4 3 27 3 25 3 11 3 1 3 2 3 10 3 26 3 18 3 1 3 4 3 9999"/><path d="M274 782h2484" stroke-dasharray="0 1778 3 48 3 1 3 15 3 36 3 17 3 0 3 4 3 16 3 13 3 8 3 34 3 43 3 18 3 74 3 17 3 5 3 41 3 19 3 3 3 8 3 1 3 10 3 6 3 12 3 20 3 43 3 0 3 14 3 3 3 1 3 11 3 18 3 21 3 0 3 9999"/><path d="M274 784h2484" stroke-dasharray="0 813 3 558 3 292 3 176 3 15 3 0 3 5 3 6 3 36 3 32 3 7 3 41 3 6 3 2 3 22 3 7 3 3 3 3 3 8 3 6 3 2 3 2 3 3 3 16 3 19 3 9 3 9 3 1 3 10 3 7 3 54 3 8 3 10 3 1 3 16 3 5 3 4 3 59 3 0 3 12 3 11 3 3 3 1 3 3 3 7 3 1 3 9999"/><path d="M274 786h2484" stroke-dasharray="0 968 3 104 3 461 3 55 3 11 3 60 3 70 3 62 3 30 3 8 3 3 3 0 3 10 3 1 3 25 3 9 3 3 3 4 3 4 3 26 3 3 3 20 3 8 3 126 3 14 3 0 3 8 3 3 3 4 3 1 3 9 3 4 3 3 3 2 3 8 3 16 3 7 3 17 3 16 3 2 3 25 3 4 3 2 3 26 3 5 3 35 3 24 3 17 3 9999"/><path d="M274 788h2484" stroke-dasharray="0 654 3 945 3 29 3 83 3 24 3 23 3 0 3 6 3 4 3 6 3 34 3 5 3 52 3 14 3 2 3 5 3 2 3 3 3 13 3 7 3 2 3 2 3 7 3 19 3 21 3 5 3 36 3 7 3 0 3 22 3 2 3 6 3 11 3 65 3 21 3 6 3 21 3 1 3 29 3 6 3 6 3 3 3 6 3 29 3 23 3 8 3 27 3 22 3 9999"/><path d="M274 790h2484" stroke-dasharray="0 742 3 229 3 275 3 231 3 2 3 20 3 92 3 88 3 79 3 20 3 4 3 9 3 14 3 15 3 0 3 10 3 7 3 42 3 4 3 7 3 0 3 17 3 4 3 0 3 0 3 9 3 26 3 42 3 12 3 0 3 13 3 4 3 3 3 12 3 6 3 21 3 10 3 6 3 16 3 0 3 6 3 50 3 24 3 5 3 16 3 23 3 2 3 4 3 13 3 10 3 18 3 12 3 2 3 3 3 17 3 15 3 9999"/><path d="M274 792h2484" stroke-dasharray="0 1431 3 135 3 22 3 97 3 16 3 25 3 15 3 28 3 15 3 52 3 16 3 12 3 8 3 4 3 11 3 16 3 4 3 1 3 15 3 6 3 17 3 12 3 23 3 0 3 2 3 5 3 9 3 14 3 3 3 28 3 0 3 2 3 3 3 5 3 0 3 1 3 40 3 7 3 2 3 39 3 6 3 1 3 11 3 17 3 18 3 27 3 8 3 72 3 9999"/><path d="M274 794h2484" stroke-dasharray="0 838 3 108 3 399 3 286 3 29 3 9 3 57 3 22 3 9 3 19 3 19 3 1 3 0 3 36 3 15 3 1 3 2 3 5 3 6 3 4 3 14 3 10 3 38 3 1 3 3 3 28 3 22 3 12 3 27 3 53 3 1 3 13 3 10 3 35 3 11 3 26 3 34 3 12 3 18 3 20 3 4 3 2 3 12 3 14 3 22 3 9999"/><path d="M274 796h2484" stroke-dasharray="0 1186 3 166 3 91 3 82 3 155 3 30 3 13 3 2 3 6 3 46 3 5 3 7 3 3 3 7 3 7 3 11 3 0 3 4 3 12 3 9 3 47 3 23 3 3 3 5 3 3 3 11 3 55 3 4 3 10 3 16 3 8 3 0 3 3 3 3 3 41 3 10 3 9 3 11 3 7 3 7 3 2 3 20 3 8 3 20 3 12 3 12 3 25 3 17 3 0 3 34 3 32 3 5 3 9999"/><path d="M274 798h2484" stroke-dasharray="0 920 3 537 3 75 3 36 3 19 3 42 3 0 3 26 3 6 3 40 3 4 3 13 3 58 3 9 3 5 3 14 3 5 3 5 3 3 3 7 3 0 3 17 3 17 3 25 3 8 3 18 3 6 3 10 3 9 3 8 3 15 3 2 3 13 3 2 3 7 3 12 3 4 3 4 3 20 3 47 3 11 3 9 3 15 3 0 3 9 3 0 3 21 3 2 3 26 3 5 3 15 3 5 3 45 3 43 3 0 3 5 3 26 3 9999"/><path d="M274 800h2484" stroke-dasharray="0 625 3 71 3 145 3 111 3 165 3 339 3 34 3 6 3 45 3 13 3 141 3 49 3 22 3 0 3 3 3 19 3 31 3 36 3 0 3 26 3 1 3 4 3 1 3 1 3 26 3 7 3 0 3 0 3 1 3 3 3 8 3 28 3 12 3 13 3 18 3 46 3 19 3 2 3 2 3 3 3 1 3 4 3 3 3 7 3 24 3 9 3 40 3 58 3 38 3 9 3 43 3 9999"/><path d="M274 802h2484" stroke-dasharray="0 831 3 447 3 37 3 112 3 50 3 71 3 44 3 0 3 4 3 22 3 18 3 11 3 4 3 12 3 3 3 8 3 6 3 0 3 3 3 12 3 1 3 20 3 0 3 16 3 24 3 34 3 16 3 29 3 1 3 9 3 8 3 10 3 3 3 3 3 24 3 21 3 57 3 26 3 28 3 26 3 16 3 52 3 22 3 18 3 2 3 1 3 44 3 15 3 36 3 10 3 9 3 8 3 3 3 6 3 12 3 9999"/><path d="M274 804h2484" stroke-dasharray="0 1177 3 100 3 60 3 43 3 50 3 8 3 52 3 32 3 9 3 10 3 8 3 47 3 27 3 21 3 9 3 11 3 0 3 8 3 5 3 13 3 4 3 17 3 24 3 11 3 21 3 9 3 8 3 0 3 7 3 9 3 11 3 6 3 11 3 7 3 6 3 29 3 3 3 3 3 24 3 12 3 3 3 13 3 46 3 1 3 19 3 5 3 15 3 11 3 9 3 16 3 16 3 17 3 8 3 8 3 8 3 20 3 21 3 0 3 46 3 63 3 15 3 3 3 9999"/><path d="M274 806h2484" stroke-dasharray="0 814 3 13 3 69 3 1 3 531 3 69 3 0 3 17 3 30 3 61 3 7 3 20 3 3 3 19 3 27 3 6 3 0 3 22 3 0 3 8 3 3 3 25 3 1 3 4 3 2 3 4 3 2 3 10 3 9 3 2 3 11 3 14 3 1 3 0 3 13 3 11 3 7 3 12 3 36 3 8 3 19 3 15 3 13 3 1 3 34 3 1 3 3 3 7 3 12 3 14 3 50 3 2 3 24 3 1 3 1 3 12 3 0 3 9 3 29 3 40 3 11 3 13 3 0 3 15 3 29 3 3 3 8 3 4 3 7 3 9999"/><path d="M274 808h2484" stroke-dasharray="0 1183 3 221 3 44 3 1 3 3 3 34 3 13 3 12 3 5 3 14 3 8 3 13 3 53 3 6 3 75 3 5 3 6 3 31 3 8 3 4 3 2 3 17 3 37 3 9 3 39 3 3 3 4 3 1 3 2 3 13 3 4 3 0 3 5 3 43 3 5 3 2 3 3 3 8 3 17 3 22 3 22 3 2 3 5 3 4 3 25 3 44 3 16 3 1 3 27 3 68 3 17 3 7 3 19 3 20 3 33 3 9999"/><path d="M274 810h2484" stroke-dasharray="0 696 3 511 3 138 3 75 3 23 3 8 3 7 3 32 3 3 3 85 3 8 3 23 3 20 3 7 3 8 3 11 3 62 3 0 3 15 3 1 3 16 3 0 3 9 3 4 3 3 3 2 3 3 3 1 3 32 3 18 3 7 3 0 3 2 3 6 3 2 3 3 3 22 3 2 3 11 3 0 3 5 3 0 3 6 3 28 3 25 3 14 3 10 3 14 3 20 3 29 3 40 3 18 3 0 3 2 3 22 3 26 3 47 3 6 3 3 3 31 3 12 3 52 3 9999"/><path d="M274 812h2484" stroke-dasharray="0 738 3 643 3 2 3 46 3 72 3 1 3 28 3 2 3 13 3 19 3 5 3 5 3 2 3 51 3 17 3 13 3 13 3 8 3 13 3 2 3 24 3 12 3 3 3 1 3 7 3 9 3 3 3 11 3 6 3 16 3 2 3 0 3 0 3 8 3 9 3 6 3 16 3 2 3 58 3 5 3 21 3 2 3 1 3 26 3 15 3 27 3 28 3 2 3 8 3 8 3 17 3 3 3 15 3 8 3 43 3 28 3 13 3 24 3 34 3 21 3 9999"/><path d="M274 814h2484" stroke-dasharray="0 1353 3 68 3 49 3 27 3 6 3 18 3 21 3 29 3 45 3 33 3 5 3 1 3 33 3 13 3 16 3 7 3 7 3 10 3 0 3 10 3 1 3 1 3 6 3 2 3 1 3 17 3 5 3 12 3 29 3 3 3 0 3 13 3 0 3 4 3 1 3 6 3 6 3 11 3 1 3 0 3 5 3 3 3 0 3 3 3 9 3 7 3 0 3 0 3 1 3 0 3 22 3 156 3 16 3 83 3 37 3 3 3 53 3 18 3 9999"/><path d="M274 816h2484" stroke-dasharray="0 1130 3 216 3 13 3 26 3 2 3 18 3 46 3 22 3 7 3 52 3 3 3 31 3 11 3 25 3 0 3 3 3 11 3 1 3 20 3 1 3 4 3 12 3 12 3 7 3 5 3 26 3 11 3 32 3 5 3 12 3 3 3 4 3 16 3 22 3 23 3 9 3 14 3 10 3 2 3 6 3 9 3 17 3 10 3 3 3 6 3 14 3 1 3 0 3 0 3 31 3 63 3 164 3 8 3 55 3 26 3 8 3 9999"/><path d="M274 818h2484" stroke-dasharray="0 721 3 768 3 7 3 47 3 55 3 70 3 45 3 14 3 77 3 17 3 13 3 71 3 93 3 179 3 75 3 29 3 32 3 9 3 74 3 9999"/><path d="M274 820h2484" stroke-dasharray="0 613 3 211 3 122 3 251 3 674 3 390 3 9999"/><path d="M274 822h2484" stroke-dasharray="0 824 3 438 3 24 3 43 3 10 3 8 3 1 3 0 3 0 3 0 3 10 3 4 3 6 3 19 3 5 3 0 3 2 3 2 3 17 3 6 3 9 3 1 3 3 3 2 3 7 3 10 3 5 3 27 3 23 3 22 3 2 3 5 3 19 3 2 3 5 3 9 3 1 3 4 3 20 3 32 3 15 3 11 3 6 3 0 3 1 3 29 3 10 3 0 3 5 3 3 3 0 3 0 3 3 3 2 3 2 3 4 3 5 3 15 3 28 3 9 3 10 3 0 3 1 3 5 3 10 3 31 3 8 3 4 3 4 3 1 3 2 3 2 3 0 3 7 3 17 3 20 3 5 3 3 3 7 3 26 3 14 3 33 3 10 3 65 3 1 3 7 3 3 3 1 3 23 3 6 3 4 3 6 3 9 3 24 3 9 3 1 3 16 3 6 3 9999"/><path d="M274 824h2484" stroke-dasharray="0 1273 3 56 3 7 3 1 3 22 3 34 3 0 3 10 3 1 3 39 3 7 3 7 3 8 3 8 3 21 3 8 3 9 3 1 3 0 3 5 3 2 3 7 3 13 3 32 3 5 3 0 3 2 3 0 3 24 3 0 3 5 3 3 3 11 3 13 3 5 3 17 3 10 3 12 3 12 3 44 3 1 3 7 3 10 3 15 3 6 3 4 3 4 3 15 3 3 3 28 3 1 3 31 3 1 3 14 3 0 3 31 3 6 3 0 3 0 3 17 3 10 3 43 3 9 3 2 3 0 3 6 3 4 3 17 3 0 3 1 3 29 3 23 3 10 3 14 3 29 3 16 3 17 3 6 3 41 3 27 3 9999"/><path d="M274 826h2484" stroke-dasharray="0 1368 3 16 3 56 3 7 3 10 3 17 3 42 3 14 3 1 3 2 3 5 3 46 3 5 3 5 3 1 3 23 3 19 3 9 3 13 3 5 3 5 3 53 3 13 3 1 3 5 3 6 3 1 3 24 3 3 3 21 3 0 3 7 3 0 3 0 3 14 3 3 3 37 3 7 3 4 3 11 3 6 3 20 3 7 3 22 3 5 3 8 3 6 3 39 3 0 3 3 3 3 3 26 3 18 3 9 3 3 3 5 3 7 3 7 3 0 3 6 3 1 3 16 3 27 3 8 3 17 3 9 3 6 3 6 3 6 3 20 3 1 3 14 3 16 3 3 3 10 3 9999"/><path d="M274 828h2484" stroke-dasharray="0 1321 3 52 3 31 3 99 3 4 3 3 3 26 3 10 3 22 3 43 3 28 3 4 3 15 3 1 3 10 3 24 3 15 3 22 3 14 3 23 3 32 3 8 3 2 3 8 3 25 3 19 3 52 3 0 3 2 3 0 3 4 3 15 3 7 3 6 3 3 3 6 3 48 3 19 3 1 3 21 3 8 3 21 3 11 3 9 3 31 3 9 3 11 3 9 3 23 3 35 3 5 3 7 3 7 3 6 3 8 3 7 3 0 3 3 3 10 3 32 3 9999"/><path d="M274 830h2484" stroke-dasharray="0 1435 3 28 3 36 3 1 3 10 3 47 3 22 3 41 3 22 3 14 3 18 3 2 3 26 3 5 3 176 3 10 3 17 3 6 3 5 3 20 3 1 3 34 3 34 3 20 3 51 3 14 3 7 3 44 3 3 3 13 3 1 3 11 3 27 3 9 3 1 3 20 3 40 3 72 3 3 3 9999"/><path d="M274 832h2484" stroke-dasharray="0 1359 3 139 3 16 3 48 3 81 3 4 3 105 3 48 3 30 3 111 3 4 3 31 3 9 3 10 3 53 3 103 3 229 3 8 3 15 3 9999"/><path d="M274 834h2484" stroke-dasharray="0 1501 3 15 3 87 3 48 3 86 3 36 3 15 3 43 3 85 3 44 3 65 3 6 3 30 3 223 3 9999"/><path d="M274 836h2484" stroke-dasharray="0 1315 3 201 3 71 3 66 3 10 3 412 3 123 3 107 3 9999"/><path d="M274 838h2484" stroke-dasharray="0 1312 3 56 3 469 3 537 3 9999"/><path d="M274 850h2484" stroke-dasharray="0 873 3 9999"/><path d="M274 864h2484" stroke-dasharray="0 883 3 333 3 415 3 7 3 275 3 14 3 147 3 190 3 56 3 12 3 30 3 3 3 37 3 6 3 9999"/><path d="M274 866h2484" stroke-dasharray="0 1150 3 797 3 21 3 269 3 45 3 76 3 4 3 50 3 0 3 9999"/><path d="M274 868h2484" stroke-dasharray="0 1439 3 37 3 282 3 162 3 125 3 89 3 146 3 44 3 17 3 15 3 34 3 15 3 9999"/><path d="M274 870h2484" stroke-dasharray="0 1434 3 100 3 343 3 231 3 36 3 231 3 25 3 6 3 5 3 12 3 10 3 9999"/><path d="M274 872h2484" stroke-dasharray="0 1140 3 560 3 16 3 317 3 36 3 161 3 99 3 59 3 15 3 0 3 29 3 4 3 2 3 9999"/><path d="M274 874h2484" stroke-dasharray="0 1227 3 376 3 281 3 15 3 278 3 55 3 83 3 41 3 44 3 0 3 29 3 6 3 5 3 9999"/><path d="M274 876h2484" stroke-dasharray="0 950 3 359 3 490 3 122 3 5 3 185 3 264 3 16 3 22 3 9999"/><path d="M274 878h2484" stroke-dasharray="0 1110 3 280 3 362 3 192 3 240 3 19 3 56 3 98 3 11 3 13 3 35 3 10 3 9999"/><path d="M274 880h2484" stroke-dasharray="0 577 3 344 3 921 3 15 3 148 3 321 3 5 3 22 3 10 3 19 3 0 3 7 3 5 3 41 3 9999"/><path d="M274 882h2484" stroke-dasharray="0 1718 3 321 3 40 3 262 3 31 3 1 3 9 3 9 3 19 3 2 3 11 3 3 3 9999"/><path d="M274 884h2484" stroke-dasharray="0 782 3 815 3 176 3 300 3 122 3 28 3 103 3 3 3 29 3 16 3 11 3 4 3 12 3 21 3 9999"/><path d="M274 886h2484" stroke-dasharray="0 1461 3 599 3 302 3 4 3 27 3 0 3 30 3 10 3 0 3 5 3 9999"/><path d="M274 888h2484" stroke-dasharray="0 1677 3 0 3 49 3 62 3 148 3 54 3 283 3 28 3 9 3 0 3 2 3 50 3 12 3 51 3 9999"/><path d="M274 890h2484" stroke-dasharray="0 774 3 1120 3 9 3 110 3 22 3 53 3 16 3 43 3 224 3 15 3 4 3 19 3 19 3 3 3 9999"/><path d="M274 892h2484" stroke-dasharray="0 631 3 571 3 570 3 24 3 7 3 106 3 0 3 129 3 152 3 62 3 15 3 42 3 16 3 40 3 24 3 27 3 9999"/><path d="M274 894h2484" stroke-dasharray="0 1238 3 5 3 255 3 86 3 310 3 33 3 68 3 232 3 11 3 140 3 0 3 5 3 3 3 15 3 3 3 9999"/><path d="M274 896h2484" stroke-dasharray="0 2113 3 3 3 45 3 89 3 14 3 5 3 6 3 1 3 30 3 62 3 13 3 9 3 43 3 9999"/><path d="M274 898h2484" stroke-dasharray="0 772 3 2 3 445 3 63 3 346 3 236 3 290 3 146 3 4 3 27 3 68 3 2 3 4 3 11 3 2 3 9999"/><path d="M274 900h2484" stroke-dasharray="0 1705 3 259 3 210 3 35 3 17 3 35 3 77 3 1 3 10 3 6 3 3 3 0 3 0 3 28 3 25 3 3 3 9999"/><path d="M274 902h2484" stroke-dasharray="0 881 3 449 3 256 3 137 3 1 3 86 3 120 3 133 3 57 3 155 3 47 3 6 3 23 3 46 3 22 3 9999"/><path d="M274 904h2484" stroke-dasharray="0 1809 3 303 3 75 3 10 3 10 3 33 3 27 3 8 3 24 3 9 3 2 3 23 3 30 3 16 3 5 3 14 3 19 3 9999"/><path d="M274 906h2484" stroke-dasharray="0 639 3 913 3 276 3 153 3 187 3 34 3 75 3 40 3 12 3 30 3 1 3 2 3 15 3 7 3 6 3 39 3 9999"/><path d="M274 908h2484" stroke-dasharray="0 1744 3 31 3 50 3 125 3 182 3 115 3 29 3 15 3 6 3 1 3 32 3 6 3 18 3 26 3 15 3 9999"/><path d="M274 910h2484" stroke-dasharray="0 820 3 791 3 0 3 324 3 359 3 11 3 26 3 18 3 49 3 2 3 21 3 5 3 2 3 7 3 9999"/><path d="M274 912h2484" stroke-dasharray="0 790 3 78 3 64 3 498 3 327 3 198 3 151 3 68 3 43 3 61 3 46 3 3 3 9 3 23 3 4 3 9 3 41 3 9 3 9999"/><path d="M274 914h2484" stroke-dasharray="0 887 3 410 3 71 3 29 3 168 3 409 3 260 3 53 3 30 3 7 3 10 3 3 3 3 3 17 3 2 3 3 3 20 3 2 3 8 3 4 3 9999"/><path d="M274 916h2484" stroke-dasharray="0 1850 3 183 3 12 3 78 3 12 3 36 3 65 3 0 3 15 3 11 3 32 3 0 3 7 3 3 3 0 3 11 3 12 3 14 3 10 3 9 3 11 3 6 3 2 3 16 3 9999"/><path d="M274 918h2484" stroke-dasharray="0 906 3 723 3 600 3 23 3 46 3 27 3 3 3 1 3 2 3 24 3 27 3 6 3 17 3 25 3 9999"/><path d="M274 920h2484" stroke-dasharray="0 589 3 204 3 1270 3 147 3 16 3 36 3 28 3 33 3 24 3 22 3 10 3 14 3 8 3 17 3 0 3 9999"/><path d="M274 922h2484" stroke-dasharray="0 1669 3 189 3 94 3 43 3 60 3 17 3 132 3 60 3 36 3 20 3 16 3 18 3 2 3 32 3 33 3 9999"/><path d="M274 924h2484" stroke-dasharray="0 1653 3 528 3 44 3 82 3 3 3 28 3 14 3 12 3 22 3 14 3 3 3 9 3 10 3 9 3 9999"/><path d="M274 926h2484" stroke-dasharray="0 833 3 13 3 897 3 458 3 10 3 6 3 11 3 25 3 6 3 5 3 13 3 23 3 23 3 20 3 12 3 64 3 9999"/><path d="M274 928h2484" stroke-dasharray="0 1495 3 58 3 199 3 46 3 368 3 6 3 49 3 34 3 7 3 5 3 10 3 1 3 4 3 88 3 28 3 13 3 10 3 9999"/><path d="M274 930h2484" stroke-dasharray="0 688 3 631 3 826 3 78 3 38 3 2 3 13 3 30 3 0 3 61 3 4 3 1 3 32 3 5 3 21 3 9999"/><path d="M274 932h2484" stroke-dasharray="0 837 3 492 3 249 3 42 3 380 3 223 3 53 3 7 3 20 3 4 3 17 3 9 3 11 3 9 3 28 3 11 3 25 3 2 3 9999"/><path d="M274 934h2484" stroke-dasharray="0 1040 3 324 3 312 3 507 3 32 3 32 3 43 3 21 3 18 3 27 3 13 3 2 3 3 3 2 3 9999"/><path d="M274 936h2484" stroke-dasharray="0 778 3 94 3 234 3 896 3 25 3 124 3 9 3 17 3 20 3 24 3 8 3 20 3 54 3 41 3 30 3 9999"/><path d="M274 938h2484" stroke-dasharray="0 724 3 508 3 559 3 25 3 18 3 35 3 220 3 67 3 66 3 2 3 39 3 21 3 4 3 30 3 14 3 19 3 4 3 4 3 5 3 8 3 8 3 14 3 9999"/><path d="M274 940h2484" stroke-dasharray="0 872 3 1017 3 327 3 9 3 7 3 1 3 2 3 1 3 50 3 12 3 29 3 21 3 10 3 5 3 9 3 48 3 9999"/><path d="M274 942h2484" stroke-dasharray="0 788 3 32 3 50 3 1007 3 300 3 13 3 52 3 10 3 10 3 7 3 7 3 1 3 21 3 12 3 17 3 27 3 10 3 0 3 29 3 2 3 9 3 5 3 9999"/><path d="M274 944h2484" stroke-dasharray="0 565 3 170 3 174 3 1069 3 128 3 42 3 10 3 23 3 40 3 11 3 2 3 11 3 13 3 11 3 7 3 44 3 4 3 3 3 53 3 4 3 22 3 9999"/><path d="M274 946h2484" stroke-dasharray="0 827 3 41 3 888 3 40 3 69 3 263 3 60 3 35 3 24 3 18 3 6 3 3 3 47 3 9 3 15 3 21 3 44 3 3 3 9999"/><path d="M274 948h2484" stroke-dasharray="0 673 3 168 3 11 3 28 3 44 3 162 3 843 3 69 3 0 3 43 3 14 3 38 3 17 3 6 3 5 3 4 3 1 3 44 3 23 3 4 3 14 3 31 3 43 3 19 3 1 3 35 3 32 3 0 3 9999"/><path d="M274 950h2484" stroke-dasharray="0 637 3 254 3 301 3 537 3 127 3 50 3 96 3 3 3 164 3 35 3 17 3 2 3 6 3 10 3 46 3 40 3 13 3 6 3 1 3 3 3 10 3 23 3 3 3 13 3 9999"/><path d="M274 952h2484" stroke-dasharray="0 860 3 17 3 1285 3 96 3 25 3 21 3 7 3 34 3 4 3 5 3 6 3 2 3 11 3 24 3 8 3 14 3 7 3 9999"/><path d="M274 954h2484" stroke-dasharray="0 1002 3 929 3 59 3 30 3 91 3 5 3 7 3 6 3 28 3 10 3 48 3 12 3 19 3 3 3 13 3 6 3 33 3 22 3 3 3 19 3 1 3 22 3 5 3 9999"/><path d="M274 956h2484" stroke-dasharray="0 579 3 1393 3 121 3 5 3 8 3 11 3 52 3 6 3 47 3 3 3 5 3 27 3 13 3 3 3 2 3 30 3 44 3 5 3 2 3 6 3 18 3 9999"/><path d="M274 958h2484" stroke-dasharray="0 857 3 33 3 18 3 449 3 544 3 61 3 0 3 148 3 50 3 41 3 46 3 23 3 41 3 59 3 25 3 9999"/><path d="M274 960h2484" stroke-dasharray="0 945 3 543 3 62 3 269 3 79 3 157 3 15 3 20 3 11 3 24 3 19 3 6 3 14 3 12 3 14 3 32 3 3 3 39 3 48 3 4 3 32 3 10 3 20 3 26 3 9999"/><path d="M274 962h2484" stroke-dasharray="0 817 3 5 3 866 3 94 3 164 3 43 3 30 3 43 3 2 3 32 3 40 3 0 3 15 3 13 3 18 3 6 3 4 3 28 3 10 3 0 3 10 3 25 3 52 3 24 3 0 3 5 3 15 3 0 3 21 3 9999"/><path d="M274 964h2484" stroke-dasharray="0 1206 3 492 3 196 3 216 3 8 3 47 3 16 3 11 3 2 3 45 3 4 3 26 3 2 3 4 3 3 3 10 3 0 3 16 3 6 3 8 3 21 3 7 3 6 3 14 3 2 3 28 3 9999"/><path d="M274 966h2484" stroke-dasharray="0 807 3 17 3 1240 3 9 3 6 3 32 3 49 3 2 3 18 3 13 3 0 3 25 3 28 3 1 3 11 3 40 3 0 3 55 3 3 3 0 3 24 3 7 3 1 3 9999"/><path d="M274 968h2484" stroke-dasharray="0 694 3 90 3 176 3 750 3 304 3 22 3 11 3 74 3 6 3 13 3 10 3 21 3 4 3 4 3 23 3 20 3 9 3 14 3 6 3 3 3 5 3 22 3 4 3 10 3 1 3 37 3 15 3 4 3 15 3 5 3 9999"/><path d="M274 970h2484" stroke-dasharray="0 723 3 268 3 235 3 151 3 205 3 187 3 141 3 169 3 32 3 45 3 19 3 3 3 10 3 47 3 21 3 4 3 35 3 20 3 5 3 34 3 12 3 1 3 4 3 5 3 1 3 2 3 9 3 3 3 9999"/><path d="M274 972h2484" stroke-dasharray="0 769 3 130 3 1133 3 55 3 30 3 6 3 8 3 14 3 18 3 12 3 22 3 3 3 2 3 19 3 1 3 3 3 17 3 20 3 11 3 27 3 19 3 5 3 6 3 0 3 3 3 18 3 7 3 12 3 10 3 1 3 9999"/><path d="M274 974h2484" stroke-dasharray="0 793 3 17 3 64 3 10 3 845 3 30 3 189 3 82 3 13 3 12 3 0 3 12 3 14 3 16 3 3 3 0 3 19 3 7 3 3 3 14 3 13 3 23 3 98 3 1 3 11 3 4 3 1 3 15 3 54 3 8 3 9999"/><path d="M274 976h2484" stroke-dasharray="0 839 3 0 3 80 3 150 3 9 3 737 3 237 3 3 3 10 3 16 3 6 3 5 3 17 3 63 3 15 3 3 3 6 3 67 3 39 3 6 3 15 3 16 3 5 3 10 3 42 3 9999"/><path d="M274 978h2484" stroke-dasharray="0 864 3 316 3 152 3 549 3 73 3 69 3 21 3 86 3 2 3 14 3 39 3 30 3 0 3 18 3 5 3 4 3 17 3 2 3 9 3 21 3 31 3 35 3 26 3 7 3 10 3 9999"/><path d="M274 980h2484" stroke-dasharray="0 627 3 180 3 69 3 6 3 8 3 919 3 46 3 127 3 142 3 56 3 49 3 1 3 4 3 5 3 1 3 2 3 14 3 14 3 1 3 27 3 9 3 2 3 36 3 32 3 4 3 7 3 9 3 9999"/><path d="M274 982h2484" stroke-dasharray="0 826 3 32 3 74 3 69 3 4 3 69 3 919 3 27 3 1 3 24 3 26 3 20 3 8 3 33 3 0 3 13 3 0 3 5 3 3 3 1 3 6 3 8 3 17 3 20 3 11 3 31 3 3 3 53 3 23 3 55 3 3 3 9999"/><path d="M274 984h2484" stroke-dasharray="0 557 3 197 3 32 3 25 3 59 3 832 3 40 3 125 3 31 3 95 3 44 3 3 3 4 3 5 3 68 3 129 3 1 3 1 3 18 3 34 3 22 3 26 3 0 3 25 3 3 3 9999"/><path d="M274 986h2484" stroke-dasharray="0 773 3 21 3 54 3 89 3 717 3 163 3 68 3 51 3 63 3 75 3 10 3 29 3 3 3 37 3 15 3 7 3 4 3 15 3 7 3 1 3 45 3 35 3 23 3 11 3 54 3 5 3 9999"/><path d="M274 988h2484" stroke-dasharray="0 820 3 158 3 162 3 473 3 224 3 85 3 0 3 17 3 4 3 36 3 19 3 13 3 0 3 25 3 3 3 57 3 44 3 0 3 30 3 4 3 29 3 3 3 3 3 14 3 13 3 3 3 7 3 24 3 22 3 14 3 14 3 0 3 22 3 20 3 9999"/><path d="M274 990h2484" stroke-dasharray="0 753 3 143 3 10 3 895 3 7 3 68 3 44 3 35 3 26 3 34 3 19 3 8 3 4 3 20 3 22 3 0 3 0 3 9 3 21 3 3 3 2 3 23 3 4 3 17 3 1 3 63 3 20 3 3 3 19 3 12 3 9 3 34 3 34 3 9999"/><path d="M274 992h2484" stroke-dasharray="0 618 3 173 3 1 3 95 3 69 3 547 3 249 3 154 3 0 3 45 3 6 3 37 3 47 3 2 3 28 3 3 3 0 3 6 3 0 3 2 3 11 3 6 3 6 3 14 3 69 3 33 3 5 3 2 3 30 3 17 3 26 3 12 3 28 3 9999"/><path d="M274 994h2484" stroke-dasharray="0 766 3 23 3 13 3 6 3 5 3 167 3 362 3 170 3 428 3 5 3 65 3 2 3 42 3 42 3 4 3 12 3 3 3 9 3 11 3 2 3 17 3 23 3 0 3 8 3 47 3 115 3 9999"/><path d="M274 996h2484" stroke-dasharray="0 855 3 1 3 6 3 50 3 531 3 309 3 31 3 11 3 81 3 36 3 88 3 36 3 4 3 6 3 2 3 27 3 1 3 16 3 0 3 28 3 1 3 31 3 5 3 5 3 1 3 10 3 34 3 2 3 11 3 22 3 39 3 0 3 15 3 33 3 2 3 1 3 9999"/><path d="M274 998h2484" stroke-dasharray="0 766 3 32 3 3 3 16 3 10 3 230 3 271 3 109 3 346 3 7 3 61 3 32 3 18 3 2 3 0 3 5 3 10 3 51 3 32 3 44 3 10 3 12 3 5 3 1 3 34 3 4 3 3 3 27 3 40 3 12 3 14 3 14 3 21 3 5 3 28 3 7 3 0 3 42 3 2 3 33 3 9999"/><path d="M274 1000h2484" stroke-dasharray="0 850 3 9 3 13 3 1 3 116 3 90 3 2 3 50 3 221 3 528 3 3 3 7 3 3 3 6 3 21 3 13 3 12 3 14 3 7 3 21 3 13 3 2 3 4 3 5 3 8 3 0 3 3 3 0 3 3 3 5 3 9 3 26 3 20 3 17 3 1 3 73 3 14 3 4 3 55 3 8 3 10 3 1 3 9 3 31 3 9999"/><path d="M274 1002h2484" stroke-dasharray="0 817 3 66 3 166 3 198 3 139 3 44 3 163 3 99 3 40 3 52 3 18 3 28 3 62 3 62 3 7 3 20 3 10 3 23 3 1 3 10 3 3 3 12 3 17 3 21 3 6 3 0 3 16 3 0 3 10 3 30 3 14 3 1 3 6 3 4 3 26 3 0 3 21 3 49 3 9999"/><path d="M274 1004h2484" stroke-dasharray="0 792 3 114 3 171 3 17 3 70 3 54 3 32 3 515 3 49 3 2 3 30 3 4 3 7 3 34 3 11 3 47 3 5 3 53 3 21 3 3 3 2 3 2 3 11 3 5 3 0 3 7 3 8 3 13 3 4 3 4 3 3 3 3 3 1 3 22 3 1 3 5 3 5 3 24 3 6 3 20 3 15 3 43 3 1 3 10 3 30 3 13 3 0 3 9 3 1 3 9999"/><path d="M274 1006h2484" stroke-dasharray="0 781 3 61 3 44 3 115 3 23 3 246 3 169 3 34 3 88 3 68 3 27 3 8 3 8 3 32 3 44 3 12 3 15 3 44 3 7 3 12 3 3 3 2 3 0 3 21 3 1 3 70 3 14 3 5 3 17 3 7 3 4 3 17 3 13 3 26 3 3 3 34 3 25 3 15 3 3 3 16 3 7 3 44 3 18 3 2 3 3 3 41 3 34 3 24 3 9999"/><path d="M274 1008h2484" stroke-dasharray="0 785 3 32 3 19 3 35 3 56 3 32 3 285 3 252 3 9 3 141 3 90 3 3 3 1 3 47 3 33 3 47 3 3 3 0 3 18 3 5 3 18 3 4 3 66 3 13 3 7 3 20 3 12 3 7 3 7 3 60 3 4 3 6 3 1 3 23 3 9 3 14 3 5 3 13 3 83 3 20 3 1 3 37 3 13 3 9999"/><path d="M274 1010h2484" stroke-dasharray="0 811 3 14 3 85 3 209 3 66 3 175 3 9 3 113 3 8 3 156 3 32 3 14 3 13 3 45 3 14 3 9 3 39 3 24 3 7 3 7 3 15 3 15 3 1 3 12 3 7 3 6 3 5 3 11 3 37 3 33 3 2 3 3 3 8 3 14 3 4 3 19 3 13 3 2 3 4 3 4 3 11 3 1 3 2 3 3 3 2 3 12 3 11 3 6 3 10 3 11 3 0 3 23 3 16 3 33 3 36 3 27 3 37 3 9999"/><path d="M274 1012h2484" stroke-dasharray="0 741 3 77 3 14 3 42 3 121 3 0 3 69 3 82 3 97 3 2 3 107 3 141 3 20 3 68 3 66 3 11 3 11 3 16 3 32 3 3 3 24 3 4 3 5 3 35 3 79 3 19 3 14 3 9 3 0 3 20 3 34 3 6 3 7 3 18 3 3 3 18 3 6 3 19 3 34 3 12 3 8 3 1 3 35 3 12 3 16 3 3 3 0 3 0 3 3 3 11 3 11 3 0 3 4 3 3 3 8 3 6 3 2 3 49 3 13 3 9999"/><path d="M274 1014h2484" stroke-dasharray="0 735 3 32 3 136 3 451 3 129 3 68 3 11 3 8 3 44 3 5 3 3 3 14 3 24 3 41 3 6 3 1 3 11 3 9 3 21 3 6 3 2 3 11 3 61 3 6 3 4 3 4 3 11 3 29 3 20 3 24 3 15 3 34 3 40 3 0 3 59 3 51 3 6 3 14 3 16 3 2 3 0 3 78 3 80 3 21 3 9999"/><path d="M274 1016h2484" stroke-dasharray="0 735 3 87 3 33 3 489 3 9 3 24 3 106 3 27 3 35 3 9 3 13 3 39 3 21 3 7 3 13 3 36 3 22 3 6 3 53 3 3 3 0 3 20 3 32 3 8 3 9 3 83 3 7 3 1 3 9 3 0 3 0 3 4 3 9 3 55 3 0 3 55 3 19 3 13 3 20 3 21 3 30 3 1 3 15 3 2 3 74 3 11 3 11 3 12 3 36 3 9999"/><path d="M274 1018h2484" stroke-dasharray="0 569 3 261 3 125 3 119 3 130 3 37 3 3 3 163 3 17 3 84 3 15 3 52 3 11 3 66 3 43 3 2 3 19 3 12 3 5 3 29 3 11 3 8 3 20 3 16 3 9 3 35 3 2 3 13 3 9 3 0 3 9 3 14 3 17 3 2 3 18 3 5 3 10 3 38 3 3 3 1 3 27 3 35 3 22 3 1 3 6 3 42 3 5 3 5 3 32 3 2 3 33 3 19 3 9999"/><path d="M274 1020h2484" stroke-dasharray="0 731 3 128 3 211 3 136 3 26 3 13 3 34 3 6 3 70 3 1 3 51 3 16 3 2 3 38 3 14 3 26 3 24 3 40 3 5 3 51 3 27 3 2 3 17 3 17 3 15 3 1 3 38 3 3 3 16 3 0 3 20 3 4 3 31 3 2 3 7 3 12 3 26 3 7 3 10 3 12 3 27 3 15 3 22 3 21 3 2 3 28 3 11 3 16 3 12 3 2 3 5 3 12 3 6 3 71 3 9 3 5 3 23 3 8 3 54 3 9999"/><path d="M274 1022h2484" stroke-dasharray="0 593 3 77 3 108 3 89 3 13 3 3 3 221 3 234 3 48 3 44 3 0 3 18 3 3 3 5 3 15 3 9 3 12 3 2 3 0 3 6 3 33 3 51 3 11 3 0 3 77 3 10 3 8 3 30 3 14 3 8 3 0 3 11 3 6 3 9 3 13 3 8 3 13 3 13 3 1 3 12 3 16 3 0 3 4 3 17 3 1 3 68 3 13 3 0 3 5 3 1 3 0 3 2 3 4 3 17 3 1 3 3 3 4 3 5 3 1 3 53 3 2 3 35 3 14 3 26 3 62 3 9999"/><path d="M274 1024h2484" stroke-dasharray="0 942 3 142 3 132 3 53 3 58 3 135 3 70 3 27 3 3 3 4 3 62 3 59 3 15 3 2 3 7 3 2 3 10 3 8 3 8 3 1 3 16 3 36 3 11 3 1 3 13 3 34 3 18 3 13 3 3 3 1 3 12 3 12 3 7 3 13 3 2 3 31 3 1 3 8 3 46 3 23 3 1 3 31 3 12 3 5 3 3 3 19 3 2 3 10 3 46 3 20 3 1 3 28 3 80 3 9999"/><path d="M274 1026h2484" stroke-dasharray="0 763 3 8 3 34 3 238 3 185 3 19 3 132 3 113 3 39 3 11 3 6 3 11 3 9 3 3 3 42 3 5 3 100 3 6 3 1 3 4 3 1 3 14 3 12 3 18 3 15 3 7 3 3 3 0 3 29 3 5 3 14 3 20 3 9 3 1 3 10 3 44 3 11 3 2 3 2 3 0 3 37 3 3 3 4 3 6 3 3 3 51 3 7 3 3 3 7 3 51 3 2 3 29 3 72 3 26 3 1 3 9999"/><path d="M274 1028h2484" stroke-dasharray="0 653 3 179 3 159 3 67 3 70 3 38 3 0 3 43 3 27 3 15 3 32 3 6 3 52 3 10 3 49 3 16 3 15 3 6 3 20 3 3 3 6 3 13 3 12 3 6 3 0 3 40 3 2 3 10 3 12 3 33 3 2 3 8 3 5 3 17 3 12 3 14 3 4 3 2 3 19 3 2 3 24 3 9 3 41 3 2 3 6 3 77 3 20 3 0 3 4 3 9 3 18 3 9 3 30 3 1 3 17 3 25 3 23 3 4 3 3 3 38 3 56 3 13 3 34 3 6 3 21 3 4 3 71 3 1 3 9999"/><path d="M274 1030h2484" stroke-dasharray="0 827 3 23 3 278 3 25 3 39 3 30 3 28 3 76 3 2 3 6 3 12 3 37 3 2 3 61 3 5 3 36 3 13 3 13 3 0 3 2 3 0 3 3 3 17 3 10 3 5 3 4 3 17 3 23 3 24 3 42 3 0 3 13 3 2 3 6 3 11 3 1 3 0 3 9 3 21 3 9 3 30 3 19 3 4 3 8 3 7 3 14 3 2 3 4 3 7 3 13 3 29 3 5 3 1 3 5 3 14 3 4 3 8 3 4 3 23 3 4 3 0 3 94 3 26 3 18 3 5 3 1 3 2 3 116 3 9999"/><path d="M274 1032h2484" stroke-dasharray="0 843 3 9 3 94 3 155 3 16 3 74 3 18 3 17 3 23 3 18 3 18 3 23 3 3 3 38 3 8 3 15 3 8 3 56 3 66 3 4 3 0 3 9 3 27 3 34 3 32 3 2 3 5 3 8 3 7 3 0 3 22 3 15 3 0 3 0 3 42 3 5 3 4 3 8 3 19 3 3 3 29 3 3 3 3 3 1 3 8 3 2 3 1 3 6 3 6 3 0 3 26 3 10 3 22 3 4 3 10 3 2 3 2 3 4 3 4 3 4 3 12 3 6 3 30 3 5 3 29 3 24 3 14 3 62 3 1 3 64 3 113 3 9999"/><path d="M274 1034h2484" stroke-dasharray="0 1147 3 48 3 46 3 2 3 24 3 1 3 1 3 36 3 3 3 5 3 30 3 44 3 42 3 50 3 13 3 8 3 40 3 17 3 0 3 18 3 12 3 33 3 3 3 12 3 19 3 33 3 19 3 26 3 6 3 28 3 11 3 45 3 23 3 4 3 7 3 12 3 13 3 18 3 24 3 32 3 7 3 51 3 4 3 43 3 14 3 132 3 8 3 39 3 22 3 9999"/><path d="M274 1036h2484" stroke-dasharray="0 942 3 62 3 46 3 93 3 67 3 1 3 1 3 17 3 5 3 27 3 37 3 56 3 33 3 32 3 42 3 74 3 30 3 59 3 15 3 7 3 25 3 4 3 64 3 10 3 31 3 5 3 39 3 17 3 3 3 25 3 30 3 51 3 86 3 0 3 54 3 157 3 15 3 53 3 9999"/><path d="M274 1038h2484" stroke-dasharray="0 1115 3 36 3 17 3 14 3 0 3 58 3 3 3 3 3 11 3 0 3 27 3 7 3 1 3 8 3 46 3 10 3 13 3 6 3 3 3 12 3 10 3 22 3 8 3 3 3 1 3 12 3 7 3 14 3 34 3 27 3 13 3 9 3 10 3 1 3 26 3 8 3 8 3 6 3 11 3 5 3 5 3 9 3 55 3 10 3 1 3 19 3 0 3 2 3 5 3 2 3 8 3 12 3 25 3 21 3 1 3 0 3 0 3 25 3 25 3 17 3 0 3 1 3 17 3 5 3 2 3 46 3 47 3 22 3 31 3 43 3 3 3 16 3 7 3 13 3 69 3 9999"/><path d="M274 1040h2484" stroke-dasharray="0 1041 3 40 3 12 3 29 3 54 3 6 3 0 3 20 3 4 3 12 3 22 3 28 3 12 3 20 3 1 3 0 3 2 3 7 3 0 3 6 3 19 3 6 3 3 3 20 3 22 3 1 3 38 3 5 3 9 3 10 3 5 3 2 3 29 3 4 3 6 3 6 3 2 3 10 3 7 3 4 3 3 3 5 3 18 3 21 3 35 3 26 3 11 3 33 3 1 3 4 3 11 3 1 3 11 3 3 3 27 3 1 3 20 3 39 3 4 3 0 3 31 3 8 3 38 3 15 3 91 3 24 3 46 3 6 3 23 3 45 3 4 3 19 3 84 3 23 3 9999"/><path d="M274 1042h2484" stroke-dasharray="0 1136 3 26 3 73 3 34 3 53 3 18 3 39 3 0 3 33 3 6 3 22 3 38 3 33 3 2 3 4 3 4 3 1 3 1 3 7 3 5 3 6 3 31 3 0 3 8 3 22 3 6 3 0 3 30 3 4 3 11 3 34 3 11 3 80 3 25 3 102 3 63 3 15 3 27 3 132 3 9 3 50 3 45 3 9999"/><path d="M274 1044h2484" stroke-dasharray="0 1128 3 42 3 78 3 19 3 30 3 6 3 8 3 25 3 63 3 0 3 3 3 9 3 16 3 3 3 39 3 10 3 115 3 50 3 13 3 23 3 25 3 27 3 42 3 58 3 8 3 9 3 36 3 37 3 39 3 106 3 2 3 31 3 14 3 18 3 42 3 57 3 9999"/><path d="M274 1046h2484" stroke-dasharray="0 825 3 355 3 42 3 243 3 54 3 7 3 12 3 84 3 21 3 8 3 314 3 100 3 64 3 232 3 9999"/><path d="M274 1048h2484" stroke-dasharray="0 924 3 167 3 81 3 47 3 4 3 27 3 19 3 93 3 122 3 291 3 88 3 75 3 202 3 37 3 9 3 181 3 9999"/><path d="M274 1050h2484" stroke-dasharray="0 646 3 634 3 290 3 71 3 777 3 9999"/><path d="M274 1052h2484" stroke-dasharray="0 2029 3 9999"/><path d="M274 1054h2484" stroke-dasharray="0 1624 3 9999"/><path d="M274 1080h2484" stroke-dasharray="0 698 3 620 3 585 3 57 3 89 3 28 3 17 3 37 3 161 3 92 3 6 3 9 3 9999"/><path d="M274 1082h2484" stroke-dasharray="0 1001 3 227 3 388 3 659 3 39 3 72 3 6 3 10 3 38 3 9999"/><path d="M274 1084h2484" stroke-dasharray="0 1119 3 5 3 834 3 180 3 14 3 19 3 5 3 35 3 105 3 44 3 14 3 30 3 12 3 9999"/><path d="M274 1086h2484" stroke-dasharray="0 1013 3 81 3 770 3 150 3 47 3 119 3 33 3 8 3 30 3 10 3 103 3 26 3 48 3 9999"/><path d="M274 1088h2484" stroke-dasharray="0 1460 3 625 3 64 3 89 3 143 3 7 3 45 3 14 3 1 3 9999"/><path d="M274 1090h2484" stroke-dasharray="0 1076 3 98 3 180 3 161 3 312 3 22 3 335 3 29 3 53 3 54 3 3 3 32 3 58 3 19 3 9999"/><path d="M274 1092h2484" stroke-dasharray="0 677 3 316 3 242 3 625 3 113 3 10 3 89 3 57 3 28 3 154 3 3 3 90 3 15 3 9999"/><path d="M274 1094h2484" stroke-dasharray="0 630 3 600 3 113 3 376 3 140 3 45 3 62 3 26 3 8 3 34 3 83 3 51 3 46 3 132 3 35 3 15 3 9999"/><path d="M274 1096h2484" stroke-dasharray="0 1299 3 693 3 102 3 269 3 0 3 0 3 16 3 16 3 14 3 17 3 0 3 2 3 9999"/><path d="M274 1098h2484" stroke-dasharray="0 678 3 331 3 53 3 99 3 61 3 547 3 190 3 52 3 30 3 156 3 4 3 91 3 46 3 5 3 26 3 32 3 10 3 6 3 9999"/><path d="M274 1100h2484" stroke-dasharray="0 1925 3 122 3 153 3 24 3 99 3 17 3 64 3 3 3 7 3 8 3 21 3 9999"/><path d="M274 1102h2484" stroke-dasharray="0 1030 3 125 3 50 3 853 3 53 3 85 3 17 3 32 3 5 3 27 3 68 3 8 3 43 3 4 3 3 3 13 3 9999"/><path d="M274 1104h2484" stroke-dasharray="0 760 3 472 3 282 3 563 3 79 3 74 3 140 3 17 3 36 3 22 3 9999"/><path d="M274 1106h2484" stroke-dasharray="0 1436 3 550 3 190 3 45 3 72 3 108 3 13 3 3 3 9 3 11 3 4 3 9999"/><path d="M274 1108h2484" stroke-dasharray="0 1154 3 668 3 91 3 59 3 136 3 33 3 71 3 23 3 28 3 3 3 44 3 32 3 4 3 24 3 29 3 21 3 9999"/><path d="M274 1110h2484" stroke-dasharray="0 1926 3 20 3 33 3 69 3 1 3 31 3 138 3 53 3 4 3 8 3 45 3 39 3 30 3 34 3 9999"/><path d="M274 1112h2484" stroke-dasharray="0 816 3 351 3 104 3 463 3 234 3 13 3 42 3 316 3 10 3 14 3 39 3 6 3 31 3 9999"/><path d="M274 1114h2484" stroke-dasharray="0 1123 3 573 3 142 3 146 3 82 3 112 3 38 3 82 3 55 3 51 3 23 3 3 3 9999"/><path d="M274 1116h2484" stroke-dasharray="0 1654 3 239 3 252 3 29 3 97 3 87 3 11 3 13 3 2 3 13 3 7 3 24 3 9999"/><path d="M274 1118h2484" stroke-dasharray="0 2317 3 18 3 1 3 17 3 14 3 5 3 9999"/><path d="M274 1120h2484" stroke-dasharray="0 1902 3 175 3 141 3 5 3 36 3 3 3 80 3 16 3 38 3 18 3 2 3 9999"/><path d="M274 1122h2484" stroke-dasharray="0 1087 3 9 3 908 3 121 3 63 3 7 3 46 3 23 3 16 3 0 3 32 3 33 3 29 3 3 3 50 3 9999"/><path d="M274 1124h2484" stroke-dasharray="0 1444 3 580 3 37 3 103 3 62 3 25 3 27 3 7 3 3 3 43 3 13 3 25 3 26 3 33 3 0 3 9999"/><path d="M274 1126h2484" stroke-dasharray="0 1557 3 326 3 117 3 59 3 61 3 122 3 14 3 20 3 1 3 37 3 10 3 9999"/><path d="M274 1128h2484" stroke-dasharray="0 1362 3 522 3 186 3 13 3 156 3 0 3 10 3 11 3 11 3 26 3 15 3 10 3 37 3 12 3 8 3 12 3 10 3 1 3 9999"/><path d="M274 1130h2484" stroke-dasharray="0 807 3 1289 3 24 3 147 3 45 3 4 3 3 3 6 3 105 3 6 3 9999"/><path d="M274 1132h2484" stroke-dasharray="0 1171 3 50 3 650 3 153 3 79 3 26 3 59 3 10 3 2 3 82 3 8 3 5 3 32 3 22 3 1 3 12 3 36 3 15 3 6 3 9999"/><path d="M274 1134h2484" stroke-dasharray="0 1959 3 95 3 213 3 11 3 15 3 2 3 30 3 14 3 2 3 14 3 26 3 27 3 9999"/><path d="M274 1136h2484" stroke-dasharray="0 1659 3 71 3 54 3 404 3 10 3 73 3 13 3 13 3 10 3 5 3 42 3 9 3 63 3 9999"/><path d="M274 1138h2484" stroke-dasharray="0 777 3 1343 3 81 3 55 3 56 3 23 3 58 3 2 3 17 3 2 3 5 3 14 3 9999"/><path d="M274 1140h2484" stroke-dasharray="0 1222 3 69 3 528 3 47 3 266 3 1 3 23 3 66 3 0 3 17 3 20 3 27 3 5 3 13 3 15 3 10 3 27 3 1 3 22 3 7 3 27 3 9999"/><path d="M274 1142h2484" stroke-dasharray="0 1245 3 119 3 417 3 158 3 72 3 216 3 17 3 11 3 48 3 50 3 10 3 8 3 7 3 11 3 18 3 9999"/><path d="M274 1144h2484" stroke-dasharray="0 1930 3 151 3 35 3 92 3 36 3 12 3 3 3 0 3 39 3 7 3 1 3 32 3 1 3 42 3 2 3 0 3 23 3 2 3 4 3 9999"/><path d="M274 1146h2484" stroke-dasharray="0 2178 3 8 3 12 3 32 3 22 3 10 3 9 3 1 3 14 3 18 3 27 3 4 3 3 3 27 3 50 3 4 3 1 3 9999"/><path d="M274 1148h2484" stroke-dasharray="0 1617 3 332 3 56 3 35 3 6 3 52 3 16 3 29 3 51 3 10 3 5 3 22 3 8 3 5 3 5 3 39 3 3 3 10 3 9 3 15 3 13 3 5 3 1 3 6 3 0 3 9999"/><path d="M274 1150h2484" stroke-dasharray="0 1399 3 538 3 19 3 118 3 53 3 7 3 27 3 7 3 45 3 50 3 31 3 13 3 11 3 14 3 4 3 11 3 5 3 18 3 11 3 0 3 7 3 19 3 9999"/><path d="M274 1152h2484" stroke-dasharray="0 1304 3 297 3 91 3 111 3 56 3 74 3 60 3 13 3 197 3 4 3 8 3 62 3 8 3 14 3 17 3 1 3 72 3 19 3 9999"/><path d="M274 1154h2484" stroke-dasharray="0 825 3 126 3 97 3 790 3 326 3 19 3 23 3 19 3 13 3 87 3 1 3 21 3 7 3 3 3 3 3 17 3 10 3 28 3 9999"/><path d="M274 1156h2484" stroke-dasharray="0 1452 3 123 3 421 3 46 3 10 3 105 3 6 3 10 3 85 3 1 3 62 3 30 3 38 3 2 3 9 3 26 3 9999"/><path d="M274 1158h2484" stroke-dasharray="0 1426 3 643 3 135 3 32 3 32 3 1 3 4 3 25 3 2 3 3 3 14 3 3 3 9 3 0 3 4 3 39 3 1 3 1 3 38 3 4 3 9999"/><path d="M274 1160h2484" stroke-dasharray="0 1589 3 269 3 10 3 37 3 36 3 144 3 23 3 38 3 41 3 2 3 15 3 39 3 11 3 0 3 0 3 26 3 12 3 27 3 2 3 10 3 2 3 4 3 1 3 7 3 21 3 17 3 9 3 9999"/><path d="M274 1162h2484" stroke-dasharray="0 755 3 1012 3 141 3 195 3 28 3 31 3 10 3 7 3 1 3 37 3 16 3 2 3 13 3 10 3 4 3 9 3 49 3 4 3 10 3 38 3 7 3 3 3 1 3 9999"/><path d="M274 1164h2484" stroke-dasharray="0 786 3 116 3 184 3 149 3 169 3 625 3 7 3 101 3 57 3 13 3 34 3 17 3 7 3 23 3 26 3 17 3 96 3 9999"/><path d="M274 1166h2484" stroke-dasharray="0 1775 3 271 3 58 3 9 3 39 3 2 3 30 3 2 3 15 3 40 3 27 3 7 3 87 3 0 3 1 3 4 3 42 3 12 3 9999"/><path d="M274 1168h2484" stroke-dasharray="0 1068 3 3 3 884 3 114 3 51 3 5 3 19 3 10 3 24 3 1 3 47 3 54 3 42 3 6 3 0 3 19 3 22 3 27 3 9999"/><path d="M274 1170h2484" stroke-dasharray="0 1511 3 388 3 174 3 6 3 1 3 4 3 9 3 6 3 0 3 28 3 17 3 0 3 13 3 3 3 14 3 24 3 0 3 1 3 33 3 11 3 18 3 16 3 11 3 33 3 12 3 15 3 3 3 0 3 12 3 13 3 9999"/><path d="M274 1172h2484" stroke-dasharray="0 899 3 97 3 557 3 289 3 75 3 109 3 118 3 15 3 22 3 0 3 0 3 58 3 10 3 22 3 30 3 14 3 1 3 2 3 11 3 9 3 19 3 33 3 9999"/><path d="M274 1174h2484" stroke-dasharray="0 757 3 177 3 58 3 638 3 311 3 87 3 11 3 66 3 20 3 19 3 45 3 37 3 0 3 4 3 9 3 21 3 40 3 21 3 5 3 3 3 6 3 30 3 9999"/><path d="M274 1176h2484" stroke-dasharray="0 946 3 180 3 319 3 439 3 3 3 167 3 6 3 21 3 8 3 15 3 39 3 20 3 8 3 26 3 3 3 5 3 23 3 9 3 23 3 27 3 4 3 3 3 11 3 24 3 6 3 1 3 1 3 5 3 48 3 9999"/><path d="M274 1178h2484" stroke-dasharray="0 811 3 206 3 724 3 217 3 164 3 10 3 12 3 19 3 22 3 7 3 59 3 18 3 92 3 6 3 14 3 6 3 2 3 15 3 9999"/><path d="M274 1180h2484" stroke-dasharray="0 788 3 175 3 1092 3 43 3 4 3 21 3 0 3 13 3 21 3 15 3 10 3 6 3 0 3 11 3 3 3 0 3 14 3 9 3 16 3 35 3 5 3 22 3 41 3 6 3 3 3 9999"/><path d="M274 1182h2484" stroke-dasharray="0 904 3 62 3 121 3 42 3 469 3 504 3 10 3 6 3 33 3 16 3 13 3 14 3 34 3 28 3 8 3 4 3 4 3 5 3 3 3 13 3 21 3 4 3 5 3 10 3 6 3 2 3 9999"/><path d="M274 1184h2484" stroke-dasharray="0 912 3 640 3 365 3 138 3 5 3 5 3 0 3 4 3 9 3 26 3 11 3 12 3 5 3 28 3 3 3 31 3 18 3 30 3 4 3 37 3 14 3 2 3 0 3 19 3 9 3 4 3 9 3 9999"/><path d="M274 1186h2484" stroke-dasharray="0 935 3 171 3 149 3 724 3 10 3 7 3 49 3 8 3 39 3 7 3 15 3 29 3 25 3 39 3 27 3 34 3 1 3 1 3 24 3 27 3 19 3 15 3 2 3 4 3 23 3 2 3 7 3 0 3 9999"/><path d="M274 1188h2484" stroke-dasharray="0 1238 3 720 3 111 3 31 3 14 3 12 3 4 3 0 3 70 3 11 3 48 3 21 3 32 3 1 3 30 3 7 3 3 3 9 3 10 3 5 3 6 3 1 3 7 3 9999"/><path d="M274 1190h2484" stroke-dasharray="0 894 3 320 3 46 3 17 3 387 3 60 3 253 3 37 3 0 3 27 3 20 3 130 3 22 3 10 3 6 3 11 3 14 3 7 3 4 3 62 3 0 3 8 3 15 3 18 3 9999"/><path d="M274 1192h2484" stroke-dasharray="0 840 3 934 3 76 3 147 3 2 3 10 3 15 3 11 3 46 3 0 3 8 3 13 3 11 3 26 3 12 3 9 3 33 3 29 3 17 3 18 3 11 3 40 3 4 3 33 3 10 3 13 3 12 3 9999"/><path d="M274 1194h2484" stroke-dasharray="0 930 3 43 3 154 3 744 3 84 3 29 3 0 3 67 3 15 3 10 3 17 3 83 3 32 3 10 3 11 3 12 3 1 3 49 3 50 3 2 3 8 3 12 3 11 3 1 3 6 3 12 3 9999"/><path d="M274 1196h2484" stroke-dasharray="0 984 3 381 3 583 3 11 3 10 3 34 3 61 3 12 3 56 3 5 3 20 3 29 3 2 3 6 3 20 3 0 3 22 3 22 3 11 3 21 3 1 3 11 3 0 3 8 3 2 3 1 3 6 3 17 3 3 3 8 3 8 3 9999"/><path d="M274 1198h2484" stroke-dasharray="0 810 3 75 3 28 3 62 3 103 3 139 3 167 3 263 3 231 3 72 3 67 3 26 3 14 3 6 3 7 3 27 3 5 3 10 3 5 3 3 3 32 3 1 3 15 3 2 3 21 3 81 3 48 3 54 3 8 3 9999"/><path d="M274 1200h2484" stroke-dasharray="0 937 3 1 3 107 3 48 3 256 3 480 3 92 3 28 3 82 3 12 3 1 3 5 3 6 3 14 3 6 3 23 3 6 3 9 3 19 3 21 3 51 3 27 3 17 3 3 3 22 3 5 3 12 3 27 3 12 3 5 3 7 3 1 3 0 3 13 3 9999"/><path d="M274 1202h2484" stroke-dasharray="0 699 3 111 3 18 3 43 3 167 3 59 3 486 3 81 3 339 3 34 3 17 3 4 3 16 3 31 3 25 3 17 3 5 3 0 3 59 3 2 3 26 3 15 3 0 3 17 3 55 3 7 3 13 3 6 3 12 3 4 3 3 3 0 3 9999"/><path d="M274 1204h2484" stroke-dasharray="0 766 3 164 3 8 3 9 3 46 3 94 3 35 3 658 3 143 3 28 3 22 3 21 3 12 3 4 3 5 3 19 3 2 3 14 3 39 3 8 3 26 3 7 3 12 3 1 3 10 3 12 3 32 3 12 3 8 3 1 3 6 3 23 3 26 3 0 3 13 3 9 3 61 3 9999"/><path d="M274 1206h2484" stroke-dasharray="0 859 3 43 3 101 3 41 3 824 3 21 3 36 3 43 3 0 3 33 3 21 3 27 3 1 3 0 3 23 3 7 3 8 3 6 3 20 3 15 3 18 3 6 3 16 3 16 3 6 3 5 3 4 3 13 3 14 3 2 3 8 3 41 3 48 3 3 3 0 3 3 3 9999"/><path d="M274 1208h2484" stroke-dasharray="0 853 3 46 3 74 3 33 3 878 3 58 3 37 3 6 3 5 3 44 3 16 3 5 3 5 3 22 3 10 3 2 3 17 3 24 3 81 3 62 3 15 3 26 3 29 3 26 3 3 3 9999"/><path d="M274 1210h2484" stroke-dasharray="0 817 3 44 3 46 3 69 3 4 3 126 3 758 3 30 3 15 3 2 3 22 3 71 3 9 3 14 3 18 3 9 3 3 3 1 3 13 3 6 3 55 3 7 3 9 3 3 3 8 3 4 3 11 3 12 3 5 3 8 3 3 3 16 3 4 3 0 3 11 3 6 3 1 3 1 3 28 3 29 3 9999"/><path d="M274 1212h2484" stroke-dasharray="0 961 3 22 3 64 3 187 3 621 3 4 3 20 3 14 3 36 3 1 3 18 3 3 3 1 3 9 3 1 3 17 3 4 3 12 3 0 3 35 3 6 3 11 3 2 3 20 3 32 3 11 3 2 3 22 3 4 3 24 3 50 3 1 3 5 3 6 3 22 3 17 3 2 3 13 3 0 3 1 3 25 3 21 3 2 3 9999"/><path d="M274 1214h2484" stroke-dasharray="0 879 3 51 3 103 3 63 3 803 3 31 3 26 3 35 3 0 3 0 3 0 3 36 3 38 3 7 3 7 3 48 3 28 3 5 3 11 3 8 3 7 3 5 3 0 3 5 3 29 3 2 3 22 3 14 3 9 3 19 3 4 3 3 3 10 3 1 3 4 3 0 3 9999"/><path d="M274 1216h2484" stroke-dasharray="0 798 3 15 3 157 3 58 3 250 3 393 3 140 3 64 3 2 3 43 3 16 3 21 3 1 3 5 3 17 3 11 3 85 3 35 3 2 3 6 3 8 3 10 3 14 3 19 3 7 3 3 3 11 3 24 3 18 3 78 3 4 3 15 3 0 3 10 3 8 3 4 3 2 3 5 3 9999"/><path d="M274 1218h2484" stroke-dasharray="0 985 3 53 3 1 3 126 3 236 3 219 3 426 3 14 3 3 3 30 3 54 3 25 3 22 3 9 3 6 3 47 3 25 3 10 3 19 3 0 3 0 3 46 3 1 3 4 3 24 3 7 3 9999"/><path d="M274 1220h2484" stroke-dasharray="0 914 3 18 3 57 3 28 3 195 3 59 3 147 3 114 3 316 3 115 3 7 3 17 3 26 3 3 3 0 3 26 3 6 3 0 3 0 3 6 3 11 3 13 3 5 3 20 3 6 3 7 3 5 3 13 3 2 3 1 3 99 3 32 3 1 3 7 3 2 3 5 3 13 3 2 3 24 3 3 3 9999"/><path d="M274 1222h2484" stroke-dasharray="0 875 3 120 3 172 3 348 3 274 3 5 3 13 3 14 3 7 3 25 3 5 3 2 3 41 3 7 3 18 3 29 3 27 3 17 3 18 3 20 3 7 3 0 3 5 3 3 3 26 3 37 3 1 3 18 3 17 3 12 3 10 3 41 3 1 3 15 3 2 3 3 3 16 3 9 3 8 3 23 3 30 3 11 3 9999"/><path d="M274 1224h2484" stroke-dasharray="0 768 3 92 3 70 3 8 3 191 3 334 3 274 3 5 3 48 3 24 3 24 3 27 3 15 3 39 3 1 3 4 3 2 3 1 3 33 3 9 3 35 3 18 3 14 3 31 3 7 3 30 3 1 3 2 3 39 3 11 3 10 3 26 3 5 3 6 3 12 3 18 3 11 3 4 3 38 3 45 3 6 3 1 3 9999"/><path d="M274 1226h2484" stroke-dasharray="0 674 3 227 3 659 3 16 3 95 3 10 3 54 3 78 3 49 3 9 3 17 3 10 3 1 3 8 3 47 3 28 3 20 3 13 3 20 3 9 3 19 3 4 3 7 3 9 3 18 3 11 3 4 3 4 3 27 3 6 3 7 3 0 3 0 3 21 3 28 3 15 3 4 3 5 3 9 3 1 3 0 3 29 3 3 3 60 3 7 3 9999"/><path d="M274 1228h2484" stroke-dasharray="0 848 3 87 3 7 3 358 3 15 3 95 3 278 3 16 3 3 3 73 3 59 3 69 3 5 3 9 3 0 3 53 3 2 3 5 3 2 3 4 3 50 3 1 3 0 3 23 3 3 3 8 3 6 3 2 3 3 3 9 3 12 3 20 3 8 3 14 3 12 3 4 3 7 3 3 3 4 3 28 3 76 3 3 3 7 3 1 3 9 3 24 3 9 3 9999"/><path d="M274 1230h2484" stroke-dasharray="0 1431 3 154 3 93 3 19 3 22 3 3 3 21 3 0 3 20 3 11 3 7 3 56 3 23 3 36 3 23 3 14 3 0 3 7 3 4 3 56 3 10 3 17 3 0 3 13 3 14 3 0 3 30 3 45 3 1 3 17 3 7 3 24 3 2 3 10 3 22 3 8 3 2 3 59 3 2 3 24 3 33 3 9999"/><path d="M274 1232h2484" stroke-dasharray="0 977 3 19 3 9 3 56 3 600 3 16 3 25 3 69 3 33 3 2 3 12 3 12 3 2 3 6 3 28 3 3 3 9 3 25 3 8 3 6 3 13 3 28 3 5 3 4 3 22 3 18 3 12 3 32 3 5 3 2 3 13 3 23 3 10 3 1 3 46 3 8 3 5 3 20 3 19 3 42 3 64 3 2 3 12 3 9999"/><path d="M274 1234h2484" stroke-dasharray="0 931 3 90 3 363 3 17 3 177 3 16 3 3 3 18 3 46 3 15 3 32 3 10 3 66 3 9 3 19 3 13 3 19 3 35 3 2 3 9 3 6 3 0 3 9 3 19 3 10 3 2 3 1 3 8 3 16 3 31 3 16 3 6 3 32 3 12 3 4 3 21 3 3 3 9 3 27 3 10 3 7 3 5 3 27 3 40 3 15 3 0 3 6 3 32 3 18 3 17 3 10 3 9999"/><path d="M274 1236h2484" stroke-dasharray="0 866 3 20 3 43 3 13 3 218 3 279 3 44 3 111 3 91 3 76 3 3 3 33 3 3 3 4 3 13 3 10 3 10 3 35 3 0 3 7 3 1 3 14 3 2 3 6 3 45 3 34 3 7 3 6 3 6 3 14 3 9 3 17 3 2 3 33 3 48 3 8 3 7 3 24 3 47 3 64 3 0 3 60 3 0 3 9999"/><path d="M274 1238h2484" stroke-dasharray="0 919 3 42 3 117 3 308 3 192 3 18 3 13 3 25 3 3 3 72 3 10 3 9 3 54 3 23 3 54 3 6 3 12 3 8 3 3 3 11 3 1 3 0 3 0 3 1 3 1 3 21 3 1 3 26 3 20 3 13 3 14 3 9 3 1 3 5 3 5 3 12 3 12 3 34 3 17 3 8 3 79 3 43 3 38 3 3 3 6 3 8 3 36 3 10 3 9999"/><path d="M274 1240h2484" stroke-dasharray="0 963 3 473 3 4 3 56 3 7 3 30 3 61 3 26 3 43 3 0 3 9 3 4 3 13 3 15 3 24 3 30 3 4 3 41 3 1 3 20 3 3 3 19 3 9 3 25 3 0 3 3 3 6 3 1 3 5 3 4 3 4 3 11 3 11 3 53 3 14 3 1 3 3 3 34 3 36 3 16 3 21 3 8 3 43 3 8 3 51 3 1 3 2 3 10 3 3 3 5 3 2 3 16 3 18 3 8 3 1 3 9 3 9999"/><path d="M274 1242h2484" stroke-dasharray="0 867 3 4 3 392 3 109 3 191 3 4 3 5 3 100 3 3 3 11 3 9 3 3 3 31 3 10 3 23 3 18 3 4 3 2 3 20 3 12 3 2 3 38 3 0 3 29 3 6 3 3 3 12 3 25 3 2 3 4 3 13 3 21 3 2 3 12 3 1 3 2 3 1 3 1 3 7 3 3 3 3 3 21 3 53 3 18 3 3 3 16 3 84 3 131 3 9999"/><path d="M274 1244h2484" stroke-dasharray="0 918 3 56 3 371 3 81 3 28 3 11 3 21 3 13 3 4 3 34 3 9 3 8 3 9 3 9 3 6 3 9 3 47 3 13 3 79 3 2 3 2 3 22 3 5 3 16 3 0 3 1 3 11 3 1 3 42 3 5 3 22 3 19 3 20 3 34 3 3 3 8 3 13 3 6 3 12 3 3 3 0 3 6 3 12 3 20 3 18 3 7 3 19 3 33 3 4 3 28 3 2 3 47 3 2 3 33 3 16 3 9999"/><path d="M274 1246h2484" stroke-dasharray="0 862 3 70 3 148 3 70 3 19 3 98 3 10 3 106 3 28 3 140 3 0 3 48 3 14 3 13 3 22 3 80 3 0 3 7 3 13 3 2 3 3 3 0 3 0 3 13 3 41 3 11 3 3 3 39 3 9 3 10 3 8 3 28 3 11 3 51 3 11 3 7 3 26 3 9 3 30 3 20 3 22 3 16 3 0 3 8 3 8 3 70 3 119 3 9999"/><path d="M274 1248h2484" stroke-dasharray="0 860 3 89 3 150 3 79 3 230 3 5 3 38 3 0 3 14 3 31 3 15 3 23 3 11 3 39 3 6 3 12 3 8 3 10 3 1 3 16 3 19 3 18 3 3 3 31 3 0 3 3 3 3 3 6 3 0 3 30 3 1 3 30 3 7 3 8 3 10 3 50 3 2 3 31 3 0 3 5 3 24 3 6 3 1 3 7 3 1 3 41 3 3 3 37 3 51 3 44 3 8 3 9 3 64 3 17 3 9999"/><path d="M274 1250h2484" stroke-dasharray="0 785 3 422 3 97 3 48 3 41 3 5 3 31 3 3 3 48 3 6 3 14 3 36 3 6 3 45 3 7 3 0 3 1 3 68 3 4 3 3 3 25 3 8 3 22 3 5 3 4 3 10 3 1 3 4 3 11 3 2 3 19 3 3 3 7 3 17 3 17 3 17 3 32 3 7 3 6 3 26 3 15 3 31 3 1 3 3 3 11 3 6 3 7 3 57 3 35 3 4 3 11 3 18 3 22 3 38 3 3 3 53 3 58 3 9999"/><path d="M274 1252h2484" stroke-dasharray="0 871 3 98 3 374 3 8 3 0 3 59 3 57 3 5 3 28 3 2 3 8 3 24 3 0 3 22 3 1 3 60 3 22 3 5 3 5 3 2 3 7 3 11 3 11 3 7 3 0 3 9 3 8 3 12 3 12 3 0 3 1 3 3 3 86 3 1 3 5 3 5 3 13 3 3 3 4 3 4 3 57 3 14 3 29 3 6 3 23 3 32 3 32 3 12 3 6 3 13 3 5 3 47 3 7 3 46 3 0 3 81 3 9999"/><path d="M274 1254h2484" stroke-dasharray="0 824 3 85 3 73 3 133 3 313 3 24 3 65 3 5 3 25 3 56 3 47 3 4 3 9 3 8 3 2 3 3 3 11 3 4 3 73 3 3 3 1 3 17 3 2 3 3 3 9 3 14 3 6 3 2 3 8 3 1 3 11 3 23 3 17 3 19 3 12 3 29 3 14 3 22 3 7 3 6 3 34 3 35 3 21 3 7 3 49 3 1 3 9999"/><path d="M274 1256h2484" stroke-dasharray="0 925 3 85 3 171 3 70 3 48 3 19 3 59 3 2 3 37 3 44 3 4 3 4 3 16 3 15 3 7 3 18 3 7 3 9 3 7 3 23 3 0 3 6 3 20 3 0 3 61 3 43 3 19 3 18 3 5 3 6 3 28 3 4 3 1 3 7 3 53 3 28 3 6 3 13 3 25 3 12 3 15 3 2 3 11 3 84 3 10 3 16 3 6 3 19 3 25 3 28 3 4 3 30 3 9999"/><path d="M274 1258h2484" stroke-dasharray="0 966 3 315 3 10 3 18 3 17 3 7 3 9 3 20 3 22 3 24 3 19 3 25 3 13 3 2 3 11 3 7 3 19 3 7 3 11 3 1 3 19 3 1 3 14 3 3 3 5 3 5 3 30 3 8 3 23 3 2 3 41 3 14 3 16 3 0 3 5 3 11 3 7 3 21 3 45 3 4 3 21 3 9 3 9 3 44 3 1 3 78 3 3 3 13 3 35 3 0 3 9 3 25 3 36 3 40 3 34 3 24 3 4 3 11 3 28 3 46 3 13 3 9999"/><path d="M274 1260h2484" stroke-dasharray="0 1351 3 1 3 57 3 7 3 11 3 20 3 8 3 36 3 32 3 21 3 11 3 0 3 54 3 0 3 7 3 0 3 41 3 3 3 13 3 8 3 0 3 37 3 20 3 20 3 1 3 5 3 7 3 19 3 11 3 23 3 10 3 2 3 12 3 2 3 27 3 20 3 6 3 19 3 21 3 3 3 5 3 15 3 60 3 20 3 30 3 38 3 11 3 105 3 3 3 9999"/><path d="M274 1262h2484" stroke-dasharray="0 1305 3 27 3 6 3 33 3 9 3 19 3 10 3 6 3 7 3 17 3 38 3 45 3 5 3 45 3 6 3 12 3 16 3 8 3 17 3 9 3 8 3 0 3 16 3 13 3 1 3 1 3 50 3 0 3 7 3 12 3 2 3 16 3 4 3 19 3 34 3 3 3 44 3 39 3 11 3 16 3 18 3 7 3 28 3 0 3 16 3 39 3 21 3 2 3 20 3 32 3 32 3 44 3 14 3 56 3 9999"/><path d="M274 1264h2484" stroke-dasharray="0 1365 3 41 3 8 3 30 3 23 3 41 3 9 3 41 3 55 3 1 3 1 3 26 3 13 3 5 3 10 3 42 3 26 3 104 3 7 3 41 3 54 3 24 3 22 3 37 3 3 3 7 3 115 3 12 3 40 3 102 3 33 3 17 3 9999"/><path d="M274 1266h2484" stroke-dasharray="0 1345 3 17 3 46 3 26 3 22 3 23 3 62 3 39 3 7 3 56 3 63 3 19 3 5 3 20 3 47 3 159 3 123 3 51 3 30 3 56 3 1 3 9999"/><path d="M274 1268h2484" stroke-dasharray="0 1443 3 8 3 10 3 32 3 0 3 3 3 43 3 11 3 161 3 103 3 32 3 248 3 106 3 8 3 45 3 9999"/><path d="M274 1270h2484" stroke-dasharray="0 1600 3 76 3 32 3 32 3 59 3 98 3 9999"/><path d="M274 1272h2484" stroke-dasharray="0 1521 3 52 3 144 3 83 3 29 3 129 3 487 3 9999"/><path d="M274 1296h2484" stroke-dasharray="0 1756 3 370 3 34 3 36 3 28 3 117 3 9999"/><path d="M274 1298h2484" stroke-dasharray="0 1268 3 625 3 127 3 329 3 9999"/><path d="M274 1300h2484" stroke-dasharray="0 2298 3 133 3 9999"/><path d="M274 1302h2484" stroke-dasharray="0 1872 3 462 3 46 3 9999"/><path d="M274 1304h2484" stroke-dasharray="0 798 3 557 3 863 3 230 3 11 3 9999"/><path d="M274 1306h2484" stroke-dasharray="0 2148 3 194 3 9999"/><path d="M274 1308h2484" stroke-dasharray="0 2313 3 5 3 65 3 9999"/><path d="M274 1310h2484" stroke-dasharray="0 1609 3 471 3 8 3 174 3 9999"/><path d="M274 1312h2484" stroke-dasharray="0 2186 3 114 3 9999"/><path d="M274 1314h2484" stroke-dasharray="0 712 3 666 3 749 3 267 3 9999"/><path d="M274 1316h2484" stroke-dasharray="0 1038 3 170 3 824 3 220 3 9999"/><path d="M274 1320h2484" stroke-dasharray="0 2006 3 296 3 34 3 9999"/><path d="M274 1322h2484" stroke-dasharray="0 752 3 1373 3 307 3 9999"/><path d="M274 1324h2484" stroke-dasharray="0 1789 3 521 3 9999"/><path d="M274 1326h2484" stroke-dasharray="0 2329 3 9999"/><path d="M274 1328h2484" stroke-dasharray="0 992 3 258 3 1186 3 9999"/><path d="M274 1330h2484" stroke-dasharray="0 758 3 9999"/><path d="M274 1332h2484" stroke-dasharray="0 962 3 74 3 1129 3 132 3 68 3 9999"/><path d="M274 1334h2484" stroke-dasharray="0 1328 3 1007 3 86 3 9999"/><path d="M274 1336h2484" stroke-dasharray="0 706 3 1336 3 83 3 9999"/><path d="M274 1338h2484" stroke-dasharray="0 2008 3 440 3 9999"/><path d="M274 1340h2484" stroke-dasharray="0 2034 3 31 3 184 3 73 3 101 3 17 3 9999"/><path d="M274 1342h2484" stroke-dasharray="0 767 3 1269 3 77 3 28 3 64 3 15 3 9999"/><path d="M274 1344h2484" stroke-dasharray="0 1358 3 1057 3 9999"/><path d="M274 1346h2484" stroke-dasharray="0 2237 3 116 3 9999"/><path d="M274 1348h2484" stroke-dasharray="0 1879 3 255 3 9999"/><path d="M274 1350h2484" stroke-dasharray="0 1590 3 532 3 180 3 36 3 111 3 9999"/><path d="M274 1352h2484" stroke-dasharray="0 1869 3 14 3 229 3 54 3 18 3 239 3 9999"/><path d="M274 1354h2484" stroke-dasharray="0 2287 3 73 3 9999"/><path d="M274 1356h2484" stroke-dasharray="0 1814 3 166 3 12 3 13 3 53 3 254 3 144 3 9999"/><path d="M274 1358h2484" stroke-dasharray="0 2080 3 223 3 110 3 48 3 9999"/><path d="M274 1360h2484" stroke-dasharray="0 602 3 611 3 335 3 374 3 373 3 86 3 57 3 9999"/><path d="M274 1362h2484" stroke-dasharray="0 1145 3 239 3 9999"/><path d="M274 1364h2484" stroke-dasharray="0 2449 3 9999"/><path d="M274 1366h2484" stroke-dasharray="0 1974 3 327 3 110 3 24 3 9999"/><path d="M274 1368h2484" stroke-dasharray="0 854 3 1458 3 4 3 47 3 9999"/><path d="M274 1370h2484" stroke-dasharray="0 1023 3 922 3 52 3 9999"/><path d="M274 1372h2484" stroke-dasharray="0 1600 3 596 3 67 3 58 3 114 3 9999"/><path d="M274 1374h2484" stroke-dasharray="0 1214 3 536 3 189 3 381 3 4 3 17 3 10 3 32 3 33 3 9999"/><path d="M274 1376h2484" stroke-dasharray="0 907 3 1044 3 175 3 58 3 53 3 21 3 97 3 96 3 9999"/><path d="M274 1378h2484" stroke-dasharray="0 1709 3 433 3 1 3 124 3 12 3 84 3 20 3 27 3 2 3 9999"/><path d="M274 1380h2484" stroke-dasharray="0 619 3 981 3 277 3 113 3 358 3 10 3 53 3 9999"/><path d="M274 1382h2484" stroke-dasharray="0 1464 3 929 3 21 3 10 3 4 3 9999"/><path d="M274 1384h2484" stroke-dasharray="0 2287 3 47 3 58 3 20 3 25 3 15 3 4 3 9999"/><path d="M274 1386h2484" stroke-dasharray="0 1378 3 223 3 576 3 135 3 8 3 9999"/><path d="M274 1388h2484" stroke-dasharray="0 1845 3 420 3 89 3 8 3 101 3 9999"/><path d="M274 1390h2484" stroke-dasharray="0 1668 3 538 3 187 3 21 3 7 3 9999"/><path d="M274 1392h2484" stroke-dasharray="0 604 3 1462 3 227 3 69 3 10 3 53 3 9999"/><path d="M274 1394h2484" stroke-dasharray="0 2311 3 58 3 9999"/><path d="M274 1396h2484" stroke-dasharray="0 657 3 896 3 655 3 1 3 32 3 36 3 78 3 9 3 8 3 51 3 0 3 0 3 9999"/><path d="M274 1398h2484" stroke-dasharray="0 608 3 1323 3 306 3 33 3 16 3 1 3 0 3 30 3 33 3 9999"/><path d="M274 1400h2484" stroke-dasharray="0 2018 3 83 3 86 3 118 3 4 3 62 3 9999"/><path d="M274 1402h2484" stroke-dasharray="0 1438 3 262 3 183 3 43 3 184 3 204 3 9 3 1 3 7 3 3 3 40 3 53 3 9999"/><path d="M274 1404h2484" stroke-dasharray="0 1922 3 53 3 38 3 200 3 126 3 14 3 32 3 16 3 5 3 4 3 8 3 8 3 9999"/><path d="M274 1406h2484" stroke-dasharray="0 2127 3 109 3 9 3 6 3 13 3 24 3 15 3 7 3 4 3 22 3 88 3 9 3 9999"/><path d="M274 1408h2484" stroke-dasharray="0 811 3 511 3 880 3 50 3 71 3 58 3 7 3 3 3 11 3 14 3 4 3 9 3 2 3 6 3 9999"/><path d="M274 1410h2484" stroke-dasharray="0 1046 3 1100 3 9 3 63 3 3 3 48 3 4 3 12 3 14 3 10 3 36 3 17 3 9 3 0 3 47 3 9 3 0 3 9999"/><path d="M274 1412h2484" stroke-dasharray="0 574 3 1587 3 58 3 40 3 0 3 1 3 52 3 57 3 39 3 14 3 6 3 9 3 9999"/><path d="M274 1414h2484" stroke-dasharray="0 1172 3 235 3 15 3 724 3 6 3 6 3 73 3 24 3 20 3 39 3 9999"/><path d="M274 1416h2484" stroke-dasharray="0 1294 3 833 3 73 3 8 3 6 3 11 3 8 3 32 3 15 3 4 3 10 3 42 3 15 3 34 3 16 3 1 3 20 3 9999"/><path d="M274 1418h2484" stroke-dasharray="0 919 3 1237 3 62 3 32 3 51 3 51 3 4 3 7 3 19 3 0 3 20 3 3 3 1 3 7 3 9999"/><path d="M274 1420h2484" stroke-dasharray="0 688 3 780 3 496 3 108 3 173 3 14 3 107 3 49 3 26 3 9999"/><path d="M274 1422h2484" stroke-dasharray="0 2046 3 116 3 19 3 13 3 78 3 7 3 2 3 11 3 9 3 5 3 15 3 9 3 51 3 9 3 7 3 9999"/><path d="M274 1424h2484" stroke-dasharray="0 557 3 261 3 837 3 406 3 69 3 51 3 14 3 0 3 14 3 28 3 43 3 36 3 7 3 6 3 14 3 29 3 5 3 0 3 8 3 9999"/><path d="M274 1426h2484" stroke-dasharray="0 926 3 326 3 753 3 76 3 4 3 48 3 37 3 82 3 23 3 6 3 6 3 31 3 5 3 4 3 4 3 9 3 2 3 2 3 76 3 9999"/><path d="M274 1428h2484" stroke-dasharray="0 778 3 487 3 712 3 75 3 24 3 27 3 42 3 33 3 1 3 0 3 10 3 30 3 3 3 9 3 53 3 7 3 6 3 54 3 10 3 7 3 0 3 40 3 9999"/><path d="M274 1430h2484" stroke-dasharray="0 1950 3 77 3 108 3 47 3 26 3 29 3 15 3 59 3 3 3 13 3 29 3 18 3 30 3 25 3 9999"/><path d="M274 1432h2484" stroke-dasharray="0 2102 3 10 3 26 3 77 3 13 3 2 3 6 3 55 3 7 3 8 3 7 3 16 3 26 3 35 3 4 3 0 3 1 3 20 3 9999"/><path d="M274 1434h2484" stroke-dasharray="0 773 3 1222 3 69 3 61 3 49 3 9 3 45 3 0 3 8 3 2 3 2 3 17 3 25 3 69 3 17 3 16 3 1 3 4 3 21 3 2 3 9999"/><path d="M274 1436h2484" stroke-dasharray="0 1128 3 194 3 585 3 15 3 114 3 26 3 1 3 11 3 8 3 21 3 17 3 2 3 11 3 8 3 18 3 5 3 2 3 19 3 61 3 16 3 42 3 21 3 4 3 9 3 2 3 13 3 40 3 9999"/><path d="M274 1438h2484" stroke-dasharray="0 1291 3 591 3 111 3 13 3 31 3 65 3 36 3 16 3 5 3 9 3 0 3 4 3 18 3 14 3 56 3 0 3 6 3 10 3 29 3 16 3 2 3 6 3 17 3 19 3 35 3 9999"/><path d="M274 1440h2484" stroke-dasharray="0 1310 3 561 3 43 3 54 3 24 3 30 3 12 3 50 3 17 3 12 3 56 3 2 3 53 3 13 3 10 3 10 3 0 3 2 3 3 3 58 3 35 3 34 3 3 3 4 3 4 3 9999"/><path d="M274 1442h2484" stroke-dasharray="0 713 3 488 3 84 3 17 3 430 3 164 3 160 3 40 3 41 3 24 3 64 3 4 3 2 3 24 3 54 3 15 3 21 3 44 3 27 3 9999"/><path d="M274 1444h2484" stroke-dasharray="0 1077 3 61 3 14 3 52 3 303 3 227 3 200 3 83 3 65 3 47 3 9 3 31 3 14 3 14 3 9 3 5 3 3 3 5 3 8 3 25 3 3 3 11 3 22 3 24 3 4 3 27 3 34 3 13 3 9999"/><path d="M274 1446h2484" stroke-dasharray="0 1162 3 238 3 418 3 19 3 99 3 27 3 99 3 5 3 34 3 28 3 25 3 10 3 8 3 40 3 2 3 12 3 31 3 35 3 5 3 9 3 46 3 16 3 0 3 11 3 9999"/><path d="M274 1448h2484" stroke-dasharray="0 1091 3 113 3 604 3 176 3 14 3 13 3 5 3 31 3 25 3 50 3 61 3 17 3 103 3 13 3 6 3 7 3 9999"/><path d="M274 1450h2484" stroke-dasharray="0 1104 3 12 3 75 3 134 3 196 3 306 3 11 3 15 3 78 3 62 3 1 3 3 3 10 3 14 3 52 3 5 3 8 3 7 3 5 3 7 3 74 3 8 3 28 3 3 3 51 3 12 3 51 3 7 3 25 3 4 3 5 3 9 3 9999"/><path d="M274 1452h2484" stroke-dasharray="0 1321 3 150 3 356 3 40 3 1 3 7 3 3 3 0 3 29 3 8 3 23 3 19 3 55 3 11 3 7 3 43 3 14 3 4 3 6 3 26 3 15 3 3 3 12 3 1 3 0 3 24 3 33 3 5 3 13 3 6 3 6 3 12 3 13 3 3 3 9 3 34 3 24 3 9 3 9999"/><path d="M274 1454h2484" stroke-dasharray="0 1173 3 34 3 400 3 51 3 0 3 14 3 1 3 30 3 5 3 1 3 62 3 50 3 36 3 10 3 10 3 0 3 36 3 10 3 5 3 7 3 4 3 13 3 19 3 9 3 6 3 48 3 38 3 19 3 17 3 4 3 63 3 0 3 8 3 7 3 16 3 10 3 0 3 31 3 5 3 1 3 8 3 58 3 1 3 1 3 7 3 9999"/><path d="M274 1456h2484" stroke-dasharray="0 1046 3 119 3 84 3 19 3 429 3 7 3 29 3 35 3 21 3 10 3 18 3 79 3 50 3 0 3 8 3 25 3 12 3 31 3 3 3 33 3 14 3 7 3 3 3 22 3 12 3 44 3 5 3 27 3 1 3 13 3 11 3 37 3 1 3 7 3 79 3 9999"/><path d="M274 1458h2484" stroke-dasharray="0 1121 3 66 3 4 3 25 3 2 3 129 3 173 3 10 3 206 3 25 3 65 3 23 3 16 3 0 3 62 3 16 3 27 3 8 3 6 3 48 3 16 3 42 3 7 3 11 3 7 3 0 3 9 3 6 3 17 3 34 3 2 3 49 3 8 3 1 3 97 3 9999"/><path d="M274 1460h2484" stroke-dasharray="0 670 3 543 3 17 3 7 3 41 3 76 3 61 3 26 3 111 3 4 3 47 3 112 3 60 3 0 3 53 3 4 3 67 3 64 3 5 3 37 3 42 3 9 3 14 3 13 3 47 3 63 3 34 3 5 3 9 3 52 3 71 3 9999"/><path d="M274 1462h2484" stroke-dasharray="0 912 3 186 3 25 3 11 3 7 3 32 3 26 3 2 3 29 3 23 3 2 3 88 3 166 3 26 3 5 3 31 3 34 3 8 3 87 3 68 3 23 3 99 3 32 3 22 3 14 3 19 3 55 3 1 3 142 3 21 3 46 3 14 3 12 3 13 3 22 3 0 3 25 3 9999"/><path d="M274 1464h2484" stroke-dasharray="0 724 3 179 3 48 3 207 3 11 3 0 3 0 3 0 3 4 3 2 3 2 3 4 3 2 3 1 3 6 3 3 3 8 3 68 3 13 3 289 3 93 3 10 3 51 3 43 3 1 3 64 3 5 3 20 3 44 3 3 3 13 3 19 3 14 3 27 3 28 3 12 3 23 3 103 3 68 3 7 3 9999"/><path d="M274 1466h2484" stroke-dasharray="0 1048 3 26 3 6 3 10 3 55 3 5 3 2 3 17 3 7 3 3 3 6 3 15 3 59 3 18 3 50 3 25 3 124 3 11 3 20 3 10 3 48 3 18 3 43 3 68 3 12 3 21 3 68 3 11 3 13 3 0 3 20 3 3 3 21 3 5 3 4 3 52 3 2 3 17 3 6 3 3 3 0 3 3 3 4 3 44 3 4 3 6 3 2 3 7 3 44 3 8 3 3 3 10 3 0 3 84 3 6 3 77 3 24 3 13 3 9999"/><path d="M274 1468h2484" stroke-dasharray="0 1077 3 3 3 21 3 2 3 8 3 6 3 44 3 7 3 4 3 6 3 2 3 4 3 1 3 1 3 2 3 3 3 1 3 5 3 123 3 41 3 20 3 10 3 10 3 83 3 11 3 1 3 91 3 2 3 5 3 64 3 38 3 24 3 57 3 34 3 12 3 11 3 116 3 0 3 6 3 0 3 44 3 29 3 16 3 80 3 5 3 37 3 39 3 57 3 9999"/><path d="M274 1470h2484" stroke-dasharray="0 927 3 125 3 3 3 5 3 3 3 46 3 5 3 17 3 21 3 3 3 2 3 0 3 1 3 5 3 14 3 0 3 1 3 0 3 1 3 2 3 1 3 4 3 0 3 60 3 70 3 51 3 47 3 42 3 25 3 107 3 12 3 64 3 65 3 24 3 1 3 5 3 48 3 25 3 3 3 16 3 9 3 8 3 15 3 69 3 64 3 24 3 143 3 77 3 9999"/><path d="M274 1472h2484" stroke-dasharray="0 958 3 8 3 34 3 96 3 1 3 58 3 6 3 6 3 12 3 0 3 1 3 3 3 6 3 0 3 0 3 5 3 0 3 7 3 2 3 12 3 2 3 25 3 43 3 110 3 14 3 27 3 5 3 28 3 80 3 16 3 9 3 5 3 13 3 127 3 35 3 43 3 17 3 9 3 5 3 39 3 119 3 71 3 14 3 157 3 9999"/><path d="M274 1474h2484" stroke-dasharray="0 941 3 240 3 5 3 6 3 12 3 5 3 5 3 0 3 20 3 16 3 11 3 30 3 34 3 48 3 43 3 51 3 1 3 21 3 55 3 70 3 79 3 18 3 17 3 18 3 19 3 175 3 90 3 175 3 58 3 9999"/><path d="M274 1476h2484" stroke-dasharray="0 735 3 373 3 78 3 15 3 9 3 0 3 11 3 0 3 42 3 79 3 26 3 40 3 152 3 4 3 25 3 90 3 5 3 39 3 79 3 36 3 3 3 40 3 26 3 42 3 22 3 3 3 36 3 5 3 33 3 54 3 41 3 11 3 23 3 73 3 14 3 76 3 9 3 9999"/><path d="M274 1478h2484" stroke-dasharray="0 1070 3 90 3 15 3 19 3 18 3 0 3 48 3 7 3 6 3 69 3 38 3 18 3 41 3 8 3 52 3 7 3 8 3 30 3 0 3 10 3 43 3 55 3 4 3 8 3 10 3 31 3 53 3 8 3 4 3 25 3 8 3 4 3 83 3 23 3 87 3 42 3 0 3 8 3 30 3 15 3 69 3 2 3 0 3 8 3 59 3 0 3 23 3 30 3 6 3 15 3 9999"/><path d="M274 1480h2484" stroke-dasharray="0 1081 3 48 3 5 3 25 3 47 3 7 3 8 3 22 3 88 3 13 3 12 3 28 3 27 3 48 3 20 3 10 3 20 3 3 3 55 3 8 3 7 3 2 3 59 3 25 3 48 3 9 3 4 3 12 3 21 3 75 3 28 3 21 3 17 3 26 3 11 3 57 3 150 3 3 3 14 3 42 3 9 3 12 3 33 3 59 3 17 3 9999"/><path d="M274 1482h2484" stroke-dasharray="0 1146 3 73 3 19 3 7 3 31 3 11 3 22 3 16 3 32 3 25 3 41 3 51 3 12 3 11 3 38 3 18 3 41 3 24 3 6 3 45 3 20 3 5 3 70 3 59 3 13 3 27 3 0 3 31 3 7 3 17 3 15 3 60 3 93 3 38 3 30 3 51 3 93 3 52 3 9999"/><path d="M274 1484h2484" stroke-dasharray="0 1182 3 22 3 26 3 1 3 50 3 120 3 6 3 157 3 84 3 176 3 131 3 62 3 38 3 116 3 43 3 28 3 11 3 153 3 9999"/><path d="M274 1486h2484" stroke-dasharray="0 1123 3 85 3 91 3 99 3 16 3 4 3 81 3 50 3 5 3 44 3 45 3 78 3 111 3 1 3 82 3 43 3 74 3 8 3 27 3 37 3 203 3 9999"/><path d="M274 1488h2484" stroke-dasharray="0 1488 3 258 3 121 3 152 3 170 3 9999"/><path d="M274 1490h2484" stroke-dasharray="0 1949 3 9999"/><path d="M274 1492h2484" stroke-dasharray="0 2315 3 9999"/><path d="M274 1508h2484" stroke-dasharray="0 2128 3 128 3 203 3 9999"/><path d="M274 1510h2484" stroke-dasharray="0 1900 3 465 3 9999"/><path d="M274 1512h2484" stroke-dasharray="0 2051 3 9999"/><path d="M274 1514h2484" stroke-dasharray="0 2316 3 9999"/><path d="M274 1516h2484" stroke-dasharray="0 2133 3 9999"/><path d="M274 1518h2484" stroke-dasharray="0 1077 3 1175 3 183 3 9999"/><path d="M274 1520h2484" stroke-dasharray="0 2108 3 9999"/><path d="M274 1522h2484" stroke-dasharray="0 2188 3 9999"/><path d="M274 1524h2484" stroke-dasharray="0 2072 3 9999"/><path d="M274 1526h2484" stroke-dasharray="0 887 3 1522 3 9999"/><path d="M274 1532h2484" stroke-dasharray="0 1087 3 9999"/><path d="M274 1534h2484" stroke-dasharray="0 1537 3 9999"/><path d="M274 1536h2484" stroke-dasharray="0 998 3 9999"/><path d="M274 1538h2484" stroke-dasharray="0 1931 3 9999"/><path d="M274 1540h2484" stroke-dasharray="0 2387 3 9999"/><path d="M274 1544h2484" stroke-dasharray="0 2324 3 9999"/><path d="M274 1546h2484" stroke-dasharray="0 2120 3 273 3 9999"/><path d="M274 1552h2484" stroke-dasharray="0 964 3 9999"/><path d="M274 1554h2484" stroke-dasharray="0 2357 3 9999"/><path d="M274 1556h2484" stroke-dasharray="0 1212 3 9999"/><path d="M274 1558h2484" stroke-dasharray="0 1245 3 222 3 9999"/><path d="M274 1560h2484" stroke-dasharray="0 1466 3 9999"/><path d="M274 1562h2484" stroke-dasharray="0 2292 3 9999"/><path d="M274 1564h2484" stroke-dasharray="0 2184 3 29 3 98 3 3 3 9999"/><path d="M274 1566h2484" stroke-dasharray="0 457 3 1236 3 9999"/><path d="M274 1568h2484" stroke-dasharray="0 1498 3 9999"/><path d="M274 1570h2484" stroke-dasharray="0 1385 3 191 3 643 3 9999"/><path d="M274 1572h2484" stroke-dasharray="0 2078 3 297 3 64 3 9999"/><path d="M274 1576h2484" stroke-dasharray="0 2249 3 84 3 13 3 28 3 9999"/><path d="M274 1578h2484" stroke-dasharray="0 1215 3 258 3 392 3 9999"/><path d="M274 1580h2484" stroke-dasharray="0 2259 3 9999"/><path d="M274 1582h2484" stroke-dasharray="0 1970 3 231 3 209 3 16 3 9999"/><path d="M274 1586h2484" stroke-dasharray="0 1250 3 843 3 325 3 9999"/><path d="M274 1588h2484" stroke-dasharray="0 821 3 823 3 713 3 9999"/><path d="M274 1592h2484" stroke-dasharray="0 1039 3 9999"/><path d="M274 1594h2484" stroke-dasharray="0 1944 3 389 3 9999"/><path d="M274 1596h2484" stroke-dasharray="0 1746 3 9999"/><path d="M274 1598h2484" stroke-dasharray="0 452 3 1060 3 287 3 31 3 144 3 9999"/><path d="M274 1600h2484" stroke-dasharray="0 1762 3 9999"/><path d="M274 1602h2484" stroke-dasharray="0 1372 3 9999"/><path d="M274 1604h2484" stroke-dasharray="0 1230 3 39 3 387 3 527 3 273 3 9999"/><path d="M274 1606h2484" stroke-dasharray="0 1698 3 741 3 9999"/><path d="M274 1608h2484" stroke-dasharray="0 1678 3 94 3 680 3 9999"/><path d="M274 1610h2484" stroke-dasharray="0 1983 3 19 3 164 3 238 3 39 3 9999"/><path d="M274 1612h2484" stroke-dasharray="0 2406 3 9999"/><path d="M274 1614h2484" stroke-dasharray="0 2422 3 9999"/><path d="M274 1616h2484" stroke-dasharray="0 2472 3 9999"/><path d="M274 1618h2484" stroke-dasharray="0 2448 3 9999"/><path d="M274 1620h2484" stroke-dasharray="0 2130 3 326 3 9999"/><path d="M274 1622h2484" stroke-dasharray="0 2044 3 146 3 9999"/><path d="M274 1624h2484" stroke-dasharray="0 2426 3 19 3 9999"/><path d="M274 1626h2484" stroke-dasharray="0 2392 3 9999"/><path d="M274 1628h2484" stroke-dasharray="0 2378 3 9999"/><path d="M274 1630h2484" stroke-dasharray="0 1980 3 348 3 9999"/><path d="M274 1632h2484" stroke-dasharray="0 1418 3 430 3 9999"/><path d="M274 1634h2484" stroke-dasharray="0 1902 3 545 3 22 3 9999"/><path d="M274 1636h2484" stroke-dasharray="0 1267 3 186 3 241 3 600 3 5 3 27 3 11 3 117 3 9999"/><path d="M274 1638h2484" stroke-dasharray="0 2392 3 42 3 3 3 9999"/><path d="M274 1640h2484" stroke-dasharray="0 2022 3 243 3 115 3 66 3 9999"/><path d="M274 1642h2484" stroke-dasharray="0 1671 3 202 3 449 3 55 3 41 3 9999"/><path d="M274 1644h2484" stroke-dasharray="0 2284 3 59 3 49 3 9999"/><path d="M274 1646h2484" stroke-dasharray="0 1486 3 625 3 68 3 97 3 74 3 64 3 1 3 9999"/><path d="M274 1648h2484" stroke-dasharray="0 2267 3 7 3 31 3 14 3 23 3 4 3 9999"/><path d="M274 1650h2484" stroke-dasharray="0 1375 3 881 3 90 3 71 3 9999"/><path d="M274 1652h2484" stroke-dasharray="0 606 3 454 3 1358 3 33 3 5 3 9999"/><path d="M274 1654h2484" stroke-dasharray="0 727 3 1425 3 60 3 24 3 92 3 16 3 19 3 61 3 4 3 9999"/><path d="M274 1656h2484" stroke-dasharray="0 611 3 97 3 1467 3 70 3 25 3 32 3 8 3 43 3 50 3 15 3 9999"/><path d="M274 1658h2484" stroke-dasharray="0 1413 3 588 3 348 3 48 3 9999"/><path d="M274 1660h2484" stroke-dasharray="0 858 3 1449 3 28 3 15 3 13 3 31 3 46 3 1 3 1 3 9999"/><path d="M274 1662h2484" stroke-dasharray="0 2215 3 52 3 92 3 15 3 54 3 9999"/><path d="M274 1664h2484" stroke-dasharray="0 699 3 185 3 577 3 19 3 10 3 117 3 344 3 157 3 45 3 144 3 27 3 12 3 33 3 19 3 7 3 30 3 9999"/><path d="M274 1666h2484" stroke-dasharray="0 851 3 487 3 796 3 37 3 34 3 27 3 26 3 39 3 65 3 27 3 13 3 5 3 11 3 5 3 9999"/><path d="M274 1668h2484" stroke-dasharray="0 1220 3 510 3 9 3 305 3 45 3 127 3 25 3 91 3 16 3 0 3 15 3 9999"/><path d="M274 1670h2484" stroke-dasharray="0 1325 3 122 3 22 3 682 3 44 3 7 3 28 3 5 3 4 3 57 3 75 3 4 3 12 3 10 3 16 3 9999"/><path d="M274 1672h2484" stroke-dasharray="0 1993 3 127 3 89 3 37 3 15 3 54 3 13 3 11 3 6 3 94 3 9999"/><path d="M274 1674h2484" stroke-dasharray="0 1009 3 289 3 58 3 161 3 252 3 60 3 146 3 143 3 10 3 46 3 169 3 25 3 0 3 1 3 44 3 9999"/><path d="M274 1676h2484" stroke-dasharray="0 872 3 84 3 180 3 162 3 787 3 44 3 33 3 8 3 50 3 11 3 32 3 9 3 87 3 61 3 5 3 9999"/><path d="M274 1678h2484" stroke-dasharray="0 922 3 61 3 22 3 146 3 106 3 11 3 54 3 276 3 177 3 74 3 6 3 69 3 53 3 55 3 52 3 22 3 16 3 9 3 27 3 1 3 33 3 28 3 5 3 1 3 69 3 85 3 7 3 9999"/><path d="M274 1680h2484" stroke-dasharray="0 831 3 211 3 33 3 296 3 28 3 17 3 58 3 42 3 202 3 166 3 18 3 69 3 85 3 24 3 11 3 12 3 11 3 2 3 82 3 0 3 4 3 5 3 26 3 31 3 4 3 52 3 23 3 2 3 43 3 9999"/><path d="M274 1682h2484" stroke-dasharray="0 897 3 188 3 106 3 61 3 177 3 55 3 61 3 112 3 139 3 170 3 41 3 38 3 9 3 20 3 33 3 19 3 2 3 42 3 12 3 52 3 41 3 1 3 42 3 76 3 9999"/><path d="M274 1684h2484" stroke-dasharray="0 977 3 19 3 124 3 62 3 66 3 5 3 16 3 49 3 22 3 20 3 8 3 9 3 12 3 19 3 34 3 48 3 25 3 165 3 114 3 9 3 2 3 11 3 78 3 13 3 47 3 2 3 16 3 23 3 5 3 8 3 29 3 18 3 11 3 54 3 2 3 30 3 48 3 19 3 60 3 2 3 5 3 11 3 19 3 7 3 5 3 0 3 3 3 9999"/><path d="M274 1686h2484" stroke-dasharray="0 580 3 22 3 141 3 59 3 185 3 166 3 2 3 28 3 108 3 10 3 77 3 3 3 37 3 3 3 19 3 12 3 23 3 31 3 13 3 7 3 125 3 83 3 121 3 44 3 69 3 1 3 38 3 40 3 19 3 41 3 2 3 32 3 13 3 4 3 55 3 5 3 1 3 9999"/><path d="M274 1688h2484" stroke-dasharray="0 614 3 3 3 148 3 147 3 50 3 14 3 54 3 192 3 12 3 13 3 11 3 4 3 20 3 38 3 191 3 42 3 33 3 68 3 133 3 4 3 29 3 5 3 22 3 87 3 90 3 13 3 22 3 47 3 18 3 35 3 2 3 5 3 9 3 55 3 20 3 11 3 7 3 92 3 9999"/><path d="M274 1690h2484" stroke-dasharray="0 774 3 19 3 127 3 8 3 59 3 140 3 57 3 85 3 56 3 19 3 33 3 14 3 20 3 17 3 3 3 28 3 8 3 3 3 12 3 45 3 72 3 1 3 57 3 175 3 32 3 0 3 39 3 18 3 36 3 24 3 26 3 34 3 0 3 31 3 0 3 94 3 29 3 38 3 19 3 11 3 0 3 20 3 25 3 9999"/><path d="M274 1692h2484" stroke-dasharray="0 768 3 29 3 100 3 49 3 28 3 61 3 12 3 13 3 169 3 6 3 14 3 5 3 15 3 3 3 4 3 24 3 8 3 2 3 10 3 25 3 68 3 71 3 83 3 80 3 20 3 8 3 46 3 4 3 3 3 75 3 25 3 142 3 11 3 1 3 2 3 3 3 3 3 53 3 1 3 0 3 46 3 52 3 127 3 17 3 9999"/><path d="M274 1694h2484" stroke-dasharray="0 643 3 2 3 76 3 45 3 172 3 74 3 40 3 37 3 43 3 110 3 60 3 23 3 7 3 68 3 9 3 8 3 11 3 15 3 28 3 108 3 18 3 160 3 7 3 21 3 5 3 8 3 51 3 1 3 38 3 23 3 34 3 24 3 9 3 34 3 26 3 43 3 20 3 7 3 4 3 13 3 7 3 18 3 76 3 94 3 9999"/><path d="M274 1696h2484" stroke-dasharray="0 548 3 231 3 31 3 128 3 1 3 47 3 99 3 4 3 106 3 43 3 37 3 5 3 55 3 6 3 5 3 2 3 2 3 9 3 2 3 4 3 1 3 39 3 41 3 38 3 3 3 32 3 32 3 18 3 13 3 19 3 1 3 44 3 33 3 28 3 96 3 6 3 21 3 4 3 16 3 25 3 12 3 2 3 9 3 10 3 28 3 16 3 3 3 27 3 29 3 5 3 10 3 31 3 9 3 28 3 28 3 30 3 23 3 5 3 9 3 24 3 23 3 9999"/><path d="M274 1698h2484" stroke-dasharray="0 704 3 228 3 73 3 57 3 11 3 42 3 14 3 17 3 56 3 34 3 13 3 42 3 33 3 28 3 0 3 1 3 4 3 0 3 1 3 0 3 3 3 0 3 2 3 3 3 5 3 23 3 83 3 14 3 5 3 16 3 8 3 9 3 54 3 88 3 44 3 40 3 25 3 23 3 18 3 21 3 13 3 20 3 89 3 11 3 21 3 11 3 0 3 1 3 17 3 6 3 18 3 41 3 0 3 8 3 0 3 9 3 7 3 40 3 110 3 13 3 14 3 9999"/><path d="M274 1700h2484" stroke-dasharray="0 485 3 223 3 212 3 118 3 93 3 4 3 27 3 14 3 19 3 0 3 0 3 18 3 9 3 77 3 18 3 21 3 0 3 8 3 1 3 0 3 0 3 0 3 4 3 3 3 3 3 2 3 18 3 0 3 6 3 25 3 80 3 5 3 84 3 36 3 6 3 8 3 4 3 44 3 48 3 18 3 5 3 65 3 26 3 3 3 85 3 70 3 21 3 88 3 6 3 7 3 137 3 9999"/><path d="M274 1702h2484" stroke-dasharray="0 1113 3 29 3 23 3 31 3 57 3 69 3 3 3 3 3 11 3 7 3 8 3 4 3 3 3 1 3 2 3 0 3 3 3 6 3 0 3 5 3 1 3 0 3 2 3 9 3 21 3 12 3 1 3 1 3 54 3 38 3 16 3 10 3 9 3 3 3 0 3 27 3 16 3 3 3 31 3 8 3 16 3 3 3 5 3 15 3 1 3 9 3 1 3 8 3 38 3 33 3 75 3 2 3 1 3 1 3 0 3 56 3 19 3 14 3 29 3 6 3 5 3 1 3 1 3 0 3 33 3 0 3 16 3 132 3 1 3 5 3 16 3 16 3 22 3 9999"/><path d="M274 1704h2484" stroke-dasharray="0 1155 3 33 3 87 3 4 3 29 3 7 3 37 3 0 3 17 3 1 3 0 3 0 3 0 3 0 3 1 3 11 3 0 3 2 3 2 3 3 3 0 3 0 3 11 3 3 3 72 3 23 3 2 3 27 3 13 3 21 3 25 3 25 3 13 3 0 3 29 3 65 3 7 3 43 3 4 3 9 3 11 3 90 3 86 3 3 3 67 3 74 3 7 3 32 3 28 3 109 3 35 3 9999"/><path d="M274 1706h2484" stroke-dasharray="0 1309 3 39 3 2 3 13 3 16 3 3 3 1 3 3 3 1 3 0 3 0 3 3 3 1 3 0 3 2 3 25 3 100 3 40 3 18 3 15 3 74 3 7 3 2 3 41 3 37 3 9 3 30 3 26 3 6 3 14 3 20 3 83 3 23 3 44 3 77 3 179 3 96 3 9999"/><path d="M274 1708h2484" stroke-dasharray="0 1254 3 118 3 8 3 0 3 19 3 3 3 8 3 2 3 26 3 42 3 3 3 86 3 12 3 137 3 102 3 267 3 16 3 20 3 35 3 161 3 9999"/><path d="M274 1710h2484" stroke-dasharray="0 1240 3 153 3 231 3 467 3 9999"/><path d="M274 1712h2484" stroke-dasharray="0 1466 3 44 3 434 3 339 3 146 3 9999"/><path d="M274 1714h2484" stroke-dasharray="0 1188 3 395 3 9999"/><path d="M274 1720h2484" stroke-dasharray="0 1408 3 9999"/><path d="M274 1724h2484" stroke-dasharray="0 1396 3 963 3 9999"/><path d="M274 1726h2484" stroke-dasharray="0 357 3 9999"/><path d="M274 1728h2484" stroke-dasharray="0 2397 3 9999"/><path d="M274 1732h2484" stroke-dasharray="0 2192 3 16 3 233 3 7 3 5 3 9999"/><path d="M274 1734h2484" stroke-dasharray="0 1590 3 726 3 76 3 37 3 9999"/><path d="M274 1742h2484" stroke-dasharray="0 2327 3 9999"/><path d="M274 1744h2484" stroke-dasharray="0 1428 3 541 3 29 3 9999"/><path d="M274 1746h2484" stroke-dasharray="0 1578 3 1 3 813 3 9999"/><path d="M274 1748h2484" stroke-dasharray="0 2301 3 9999"/><path d="M274 1752h2484" stroke-dasharray="0 1477 3 907 3 9999"/><path d="M274 1754h2484" stroke-dasharray="0 1390 3 9999"/><path d="M274 1756h2484" stroke-dasharray="0 2295 3 9999"/><path d="M274 1758h2484" stroke-dasharray="0 631 3 1020 3 595 3 9999"/><path d="M274 1760h2484" stroke-dasharray="0 704 3 9999"/><path d="M274 1762h2484" stroke-dasharray="0 1082 3 343 3 9999"/><path d="M274 1764h2484" stroke-dasharray="0 749 3 1662 3 16 3 9999"/><path d="M274 1766h2484" stroke-dasharray="0 1249 3 334 3 255 3 342 3 153 3 9999"/><path d="M274 1768h2484" stroke-dasharray="0 707 3 9999"/><path d="M274 1770h2484" stroke-dasharray="0 1325 3 9999"/><path d="M274 1772h2484" stroke-dasharray="0 2073 3 160 3 9999"/><path d="M274 1774h2484" stroke-dasharray="0 650 3 1332 3 391 3 9999"/><path d="M274 1776h2484" stroke-dasharray="0 421 3 9999"/><path d="M274 1778h2484" stroke-dasharray="0 2219 3 9999"/><path d="M274 1780h2484" stroke-dasharray="0 1871 3 9999"/><path d="M274 1782h2484" stroke-dasharray="0 2006 3 252 3 9999"/><path d="M274 1786h2484" stroke-dasharray="0 2221 3 9999"/><path d="M274 1788h2484" stroke-dasharray="0 1394 3 56 3 749 3 9999"/><path d="M274 1792h2484" stroke-dasharray="0 1370 3 672 3 352 3 64 3 9999"/><path d="M274 1794h2484" stroke-dasharray="0 1984 3 9999"/><path d="M274 1796h2484" stroke-dasharray="0 1623 3 755 3 9999"/><path d="M274 1800h2484" stroke-dasharray="0 1693 3 75 3 230 3 157 3 232 3 9999"/><path d="M274 1802h2484" stroke-dasharray="0 2184 3 237 3 9999"/><path d="M274 1804h2484" stroke-dasharray="0 2224 3 247 3 9999"/><path d="M274 1806h2484" stroke-dasharray="0 882 3 131 3 9999"/><path d="M274 1808h2484" stroke-dasharray="0 2210 3 250 3 9999"/><path d="M274 1810h2484" stroke-dasharray="0 2271 3 133 3 54 3 9999"/><path d="M274 1812h2484" stroke-dasharray="0 1771 3 459 3 9999"/><path d="M274 1814h2484" stroke-dasharray="0 2399 3 9999"/><path d="M274 1816h2484" stroke-dasharray="0 2207 3 228 3 9999"/><path d="M274 1818h2484" stroke-dasharray="0 1679 3 470 3 57 3 53 3 9999"/><path d="M274 1820h2484" stroke-dasharray="0 1880 3 389 3 163 3 9999"/><path d="M274 1822h2484" stroke-dasharray="0 2332 3 1 3 54 3 9999"/><path d="M274 1824h2484" stroke-dasharray="0 2146 3 9999"/><path d="M274 1826h2484" stroke-dasharray="0 1505 3 55 3 542 3 308 3 13 3 9999"/><path d="M274 1828h2484" stroke-dasharray="0 1811 3 117 3 477 3 9999"/><path d="M274 1830h2484" stroke-dasharray="0 1902 3 448 3 50 3 9999"/><path d="M274 1832h2484" stroke-dasharray="0 1785 3 586 3 6 3 58 3 17 3 9999"/><path d="M274 1834h2484" stroke-dasharray="0 1735 3 432 3 266 3 21 3 9 3 9999"/><path d="M274 1836h2484" stroke-dasharray="0 2125 3 233 3 9999"/><path d="M274 1838h2484" stroke-dasharray="0 1483 3 868 3 45 3 56 3 9999"/><path d="M274 1840h2484" stroke-dasharray="0 1935 3 537 3 9999"/><path d="M274 1842h2484" stroke-dasharray="0 1778 3 531 3 14 3 69 3 6 3 4 3 9999"/><path d="M274 1844h2484" stroke-dasharray="0 1942 3 163 3 217 3 4 3 22 3 23 3 41 3 5 3 16 3 9999"/><path d="M274 1846h2484" stroke-dasharray="0 2058 3 332 3 20 3 8 3 7 3 2 3 25 3 0 3 9999"/><path d="M274 1848h2484" stroke-dasharray="0 1491 3 831 3 72 3 67 3 9999"/><path d="M274 1850h2484" stroke-dasharray="0 2366 3 9999"/><path d="M274 1852h2484" stroke-dasharray="0 1697 3 472 3 137 3 3 3 30 3 4 3 6 3 66 3 30 3 9999"/><path d="M274 1854h2484" stroke-dasharray="0 2222 3 54 3 9 3 64 3 72 3 3 3 9999"/><path d="M274 1856h2484" stroke-dasharray="0 1451 3 810 3 31 3 31 3 66 3 30 3 7 3 9999"/><path d="M274 1858h2484" stroke-dasharray="0 971 3 568 3 486 3 250 3 86 3 43 3 9999"/><path d="M274 1860h2484" stroke-dasharray="0 734 3 1332 3 207 3 32 3 13 3 23 3 0 3 9999"/><path d="M274 1862h2484" stroke-dasharray="0 2227 3 88 3 45 3 72 3 9999"/><path d="M274 1864h2484" stroke-dasharray="0 995 3 1312 3 31 3 18 3 74 3 4 3 9999"/><path d="M274 1866h2484" stroke-dasharray="0 2193 3 14 3 112 3 20 3 104 3 9999"/><path d="M274 1868h2484" stroke-dasharray="0 1435 3 786 3 52 3 21 3 70 3 11 3 48 3 27 3 9999"/><path d="M274 1870h2484" stroke-dasharray="0 2057 3 233 3 17 3 21 3 4 3 15 3 3 3 57 3 26 3 5 3 9999"/><path d="M274 1872h2484" stroke-dasharray="0 1560 3 591 3 18 3 120 3 62 3 59 3 39 3 5 3 9999"/><path d="M274 1874h2484" stroke-dasharray="0 1290 3 398 3 472 3 12 3 24 3 38 3 94 3 31 3 17 3 9999"/><path d="M274 1876h2484" stroke-dasharray="0 1540 3 668 3 14 3 2 3 22 3 69 3 43 3 5 3 13 3 34 3 13 3 9999"/><path d="M274 1878h2484" stroke-dasharray="0 1950 3 79 3 1 3 83 3 30 3 6 3 0 3 5 3 11 3 34 3 29 3 59 3 11 3 4 3 12 3 40 3 14 3 48 3 9999"/><path d="M274 1880h2484" stroke-dasharray="0 1420 3 42 3 331 3 216 3 103 3 18 3 20 3 35 3 6 3 13 3 7 3 61 3 7 3 50 3 28 3 40 3 1 3 9999"/><path d="M274 1882h2484" stroke-dasharray="0 2172 3 58 3 19 3 2 3 40 3 32 3 1 3 28 3 1 3 13 3 23 3 54 3 9999"/><path d="M274 1884h2484" stroke-dasharray="0 1421 3 633 3 7 3 102 3 126 3 6 3 31 3 34 3 17 3 41 3 9999"/><path d="M274 1886h2484" stroke-dasharray="0 949 3 509 3 649 3 6 3 27 3 34 3 0 3 22 3 51 3 9 3 6 3 21 3 6 3 39 3 4 3 1 3 73 3 9999"/><path d="M274 1888h2484" stroke-dasharray="0 1274 3 176 3 6 3 64 3 436 3 5 3 234 3 16 3 42 3 44 3 49 3 24 3 14 3 9999"/><path d="M274 1890h2484" stroke-dasharray="0 821 3 614 3 14 3 36 3 333 3 139 3 121 3 34 3 49 3 67 3 120 3 3 3 9999"/><path d="M274 1892h2484" stroke-dasharray="0 1255 3 8 3 98 3 602 3 8 3 11 3 88 3 11 3 13 3 25 3 28 3 22 3 18 3 10 3 16 3 69 3 42 3 78 3 9999"/><path d="M274 1894h2484" stroke-dasharray="0 1134 3 214 3 20 3 121 3 267 3 86 3 13 3 27 3 37 3 109 3 175 3 18 3 21 3 0 3 8 3 25 3 3 3 31 3 37 3 34 3 9999"/><path d="M274 1896h2484" stroke-dasharray="0 852 3 188 3 224 3 133 3 346 3 20 3 96 3 60 3 61 3 54 3 63 3 26 3 19 3 25 3 25 3 41 3 41 3 9999"/><path d="M274 1898h2484" stroke-dasharray="0 241 3 838 3 345 3 6 3 19 3 41 3 241 3 1 3 61 3 18 3 37 3 76 3 0 3 68 3 77 3 14 3 17 3 9 3 20 3 42 3 25 3 197 3 9999"/><path d="M274 1900h2484" stroke-dasharray="0 412 3 105 3 543 3 48 3 329 3 79 3 240 3 104 3 25 3 62 3 19 3 8 3 46 3 28 3 26 3 10 3 1 3 8 3 33 3 72 3 40 3 9999"/><path d="M274 1902h2484" stroke-dasharray="0 326 3 63 3 571 3 359 3 73 3 57 3 119 3 47 3 103 3 30 3 29 3 26 3 8 3 70 3 89 3 4 3 16 3 86 3 28 3 18 3 1 3 10 3 8 3 35 3 116 3 17 3 9999"/><path d="M274 1904h2484" stroke-dasharray="0 440 3 117 3 297 3 229 3 42 3 11 3 220 3 13 3 19 3 10 3 34 3 23 3 0 3 7 3 1 3 37 3 5 3 147 3 185 3 8 3 49 3 11 3 65 3 0 3 10 3 7 3 0 3 19 3 6 3 70 3 1 3 10 3 2 3 67 3 179 3 9999"/><path d="M274 1906h2484" stroke-dasharray="0 433 3 61 3 156 3 114 3 41 3 57 3 42 3 66 3 24 3 14 3 56 3 41 3 242 3 2 3 45 3 11 3 9 3 0 3 4 3 3 3 0 3 0 3 112 3 4 3 199 3 51 3 1 3 36 3 49 3 77 3 9 3 1 3 2 3 7 3 9999"/><path d="M274 1908h2484" stroke-dasharray="0 356 3 30 3 342 3 465 3 197 3 43 3 0 3 10 3 1 3 6 3 3 3 1 3 2 3 0 3 4 3 9 3 27 3 124 3 20 3 116 3 24 3 111 3 44 3 243 3 9999"/><path d="M274 1910h2484" stroke-dasharray="0 480 3 59 3 259 3 232 3 22 3 277 3 53 3 42 3 1 3 2 3 1 3 3 3 5 3 0 3 6 3 4 3 0 3 0 3 0 3 5 3 0 3 0 3 1 3 62 3 54 3 1 3 10 3 14 3 61 3 33 3 22 3 55 3 48 3 21 3 6 3 76 3 19 3 232 3 9999"/><path d="M274 1912h2484" stroke-dasharray="0 634 3 420 3 106 3 136 3 89 3 10 3 7 3 0 3 7 3 8 3 9 3 3 3 3 3 1 3 3 3 4 3 2 3 1 3 1 3 10 3 9 3 1 3 16 3 56 3 4 3 25 3 23 3 53 3 42 3 14 3 81 3 15 3 8 3 5 3 25 3 39 3 189 3 125 3 38 3 9999"/><path d="M274 1914h2484" stroke-dasharray="0 362 3 286 3 67 3 109 3 29 3 446 3 96 3 10 3 18 3 0 3 4 3 0 3 1 3 3 3 3 3 5 3 1 3 0 3 5 3 0 3 9 3 1 3 16 3 42 3 40 3 26 3 15 3 34 3 7 3 12 3 8 3 96 3 325 3 0 3 118 3 59 3 9999"/><path d="M274 1916h2484" stroke-dasharray="0 1084 3 36 3 107 3 203 3 4 3 3 3 7 3 1 3 3 3 4 3 5 3 0 3 7 3 2 3 1 3 0 3 23 3 7 3 76 3 2 3 0 3 53 3 25 3 150 3 6 3 1 3 12 3 70 3 45 3 26 3 18 3 5 3 4 3 2 3 1 3 7 3 47 3 7 3 7 3 2 3 27 3 39 3 31 3 10 3 90 3 7 3 38 3 9999"/><path d="M274 1918h2484" stroke-dasharray="0 1095 3 38 3 122 3 88 3 15 3 58 3 23 3 10 3 6 3 23 3 81 3 53 3 28 3 7 3 90 3 13 3 20 3 11 3 10 3 49 3 30 3 122 3 10 3 1 3 29 3 36 3 45 3 87 3 33 3 0 3 97 3 3 3 9999"/><path d="M274 1920h2484" stroke-dasharray="0 1113 3 179 3 128 3 13 3 6 3 183 3 28 3 37 3 25 3 100 3 1 3 18 3 231 3 147 3 215 3 4 3 9999"/><path d="M274 1922h2484" stroke-dasharray="0 907 3 305 3 135 3 295 3 96 3 157 3 274 3 37 3 54 3 103 3 9999"/><path d="M274 1924h2484" stroke-dasharray="0 1259 3 25 3 80 3 49 3 195 3 132 3 0 3 293 3 78 3 168 3 9999"/><path d="M274 1928h2484" stroke-dasharray="0 1964 3 9999"/><path d="M274 1930h2484" stroke-dasharray="0 1950 3 9999"/><path d="M274 1940h2484" stroke-dasharray="0 1875 3 246 3 57 3 171 3 9999"/><path d="M274 1942h2484" stroke-dasharray="0 2090 3 9999"/><path d="M274 1952h2484" stroke-dasharray="0 1943 3 9999"/><path d="M274 1954h2484" stroke-dasharray="0 2145 3 88 3 9999"/><path d="M274 1956h2484" stroke-dasharray="0 2177 3 141 3 15 3 9999"/><path d="M274 1958h2484" stroke-dasharray="0 2261 3 9999"/><path d="M274 1962h2484" stroke-dasharray="0 1893 3 39 3 78 3 234 3 197 3 9999"/><path d="M274 1964h2484" stroke-dasharray="0 1290 3 9999"/><path d="M274 1968h2484" stroke-dasharray="0 297 3 75 3 1703 3 9999"/><path d="M274 1970h2484" stroke-dasharray="0 2058 3 9999"/><path d="M274 1972h2484" stroke-dasharray="0 2383 3 20 3 9999"/><path d="M274 1974h2484" stroke-dasharray="0 2254 3 60 3 9999"/><path d="M274 1976h2484" stroke-dasharray="0 458 3 1765 3 183 3 9999"/><path d="M274 1978h2484" stroke-dasharray="0 997 3 1021 3 9999"/><path d="M274 1980h2484" stroke-dasharray="0 1696 3 9999"/><path d="M274 1982h2484" stroke-dasharray="0 1917 3 341 3 9999"/><path d="M274 1984h2484" stroke-dasharray="0 2040 3 9999"/><path d="M274 1986h2484" stroke-dasharray="0 1932 3 172 3 339 3 9999"/><path d="M274 1988h2484" stroke-dasharray="0 2332 3 9999"/><path d="M274 1990h2484" stroke-dasharray="0 1802 3 348 3 275 3 7 3 9999"/><path d="M274 1992h2484" stroke-dasharray="0 2424 3 0 3 9999"/><path d="M274 1996h2484" stroke-dasharray="0 2327 3 9999"/><path d="M274 1998h2484" stroke-dasharray="0 2293 3 9999"/><path d="M274 2002h2484" stroke-dasharray="0 832 3 9999"/><path d="M274 2004h2484" stroke-dasharray="0 1367 3 214 3 240 3 9999"/><path d="M274 2006h2484" stroke-dasharray="0 2451 3 9999"/><path d="M274 2008h2484" stroke-dasharray="0 2017 3 246 3 9999"/><path d="M274 2010h2484" stroke-dasharray="0 1948 3 234 3 79 3 9999"/><path d="M274 2012h2484" stroke-dasharray="0 1894 3 9999"/><path d="M274 2014h2484" stroke-dasharray="0 2001 3 430 3 9999"/><path d="M274 2016h2484" stroke-dasharray="0 1408 3 590 3 52 3 9999"/><path d="M274 2018h2484" stroke-dasharray="0 1721 3 411 3 255 3 9999"/><path d="M274 2022h2484" stroke-dasharray="0 1739 3 25 3 700 3 9999"/><path d="M274 2024h2484" stroke-dasharray="0 2000 3 238 3 9999"/><path d="M274 2026h2484" stroke-dasharray="0 1829 3 429 3 9999"/><path d="M274 2028h2484" stroke-dasharray="0 532 3 1783 3 143 3 9999"/><path d="M274 2030h2484" stroke-dasharray="0 2217 3 39 3 9999"/><path d="M274 2032h2484" stroke-dasharray="0 1912 3 9999"/><path d="M274 2034h2484" stroke-dasharray="0 673 3 1088 3 672 3 9999"/><path d="M274 2036h2484" stroke-dasharray="0 2275 3 9999"/><path d="M274 2038h2484" stroke-dasharray="0 423 3 482 3 1509 3 9999"/><path d="M274 2040h2484" stroke-dasharray="0 2122 3 210 3 87 3 9999"/><path d="M274 2042h2484" stroke-dasharray="0 2380 3 12 3 9999"/><path d="M274 2044h2484" stroke-dasharray="0 2407 3 9999"/><path d="M274 2046h2484" stroke-dasharray="0 734 3 1320 3 219 3 15 3 69 3 13 3 23 3 43 3 9999"/><path d="M274 2048h2484" stroke-dasharray="0 633 3 1098 3 515 3 81 3 33 3 22 3 24 3 41 3 9999"/><path d="M274 2050h2484" stroke-dasharray="0 1775 3 358 3 178 3 4 3 54 3 16 3 47 3 9999"/><path d="M274 2052h2484" stroke-dasharray="0 303 3 2116 3 8 3 9999"/><path d="M274 2054h2484" stroke-dasharray="0 1890 3 96 3 382 3 6 3 13 3 8 3 17 3 3 3 32 3 9999"/><path d="M274 2056h2484" stroke-dasharray="0 2406 3 15 3 26 3 10 3 5 3 9999"/><path d="M274 2058h2484" stroke-dasharray="0 1612 3 245 3 438 3 59 3 5 3 46 3 46 3 9999"/><path d="M274 2060h2484" stroke-dasharray="0 2157 3 245 3 9999"/><path d="M274 2062h2484" stroke-dasharray="0 2223 3 168 3 9999"/><path d="M274 2064h2484" stroke-dasharray="0 2266 3 20 3 4 3 45 3 20 3 18 3 2 3 9999"/><path d="M274 2066h2484" stroke-dasharray="0 1929 3 339 3 32 3 19 3 17 3 65 3 16 3 9999"/><path d="M274 2068h2484" stroke-dasharray="0 1432 3 780 3 73 3 30 3 78 3 9999"/><path d="M274 2070h2484" stroke-dasharray="0 2008 3 29 3 163 3 84 3 1 3 143 3 17 3 9999"/><path d="M274 2072h2484" stroke-dasharray="0 599 3 1221 3 211 3 126 3 70 3 150 3 12 3 35 3 9999"/><path d="M274 2074h2484" stroke-dasharray="0 464 3 1099 3 55 3 368 3 246 3 104 3 106 3 9999"/><path d="M274 2076h2484" stroke-dasharray="0 1930 3 154 3 28 3 142 3 86 3 28 3 23 3 28 3 9999"/><path d="M274 2078h2484" stroke-dasharray="0 2232 3 110 3 100 3 9999"/><path d="M274 2080h2484" stroke-dasharray="0 2076 3 83 3 145 3 91 3 9999"/><path d="M274 2082h2484" stroke-dasharray="0 1716 3 493 3 41 3 5 3 16 3 7 3 42 3 35 3 57 3 28 3 9999"/><path d="M274 2084h2484" stroke-dasharray="0 2160 3 5 3 47 3 24 3 32 3 90 3 28 3 32 3 17 3 9999"/><path d="M274 2086h2484" stroke-dasharray="0 2135 3 59 3 63 3 0 3 41 3 10 3 8 3 2 3 8 3 6 3 33 3 55 3 3 3 4 3 9999"/><path d="M274 2088h2484" stroke-dasharray="0 985 3 651 3 5 3 522 3 145 3 10 3 0 3 17 3 21 3 18 3 9999"/><path d="M274 2090h2484" stroke-dasharray="0 1575 3 470 3 127 3 1 3 2 3 114 3 2 3 76 3 30 3 1 3 19 3 17 3 9999"/><path d="M274 2092h2484" stroke-dasharray="0 1545 3 4 3 6 3 409 3 12 3 71 3 74 3 11 3 35 3 57 3 0 3 17 3 7 3 16 3 37 3 12 3 26 3 0 3 39 3 9999"/><path d="M274 2094h2484" stroke-dasharray="0 1982 3 36 3 66 3 56 3 1 3 151 3 30 3 18 3 43 3 39 3 0 3 9999"/><path d="M274 2096h2484" stroke-dasharray="0 455 3 745 3 580 3 234 3 68 3 27 3 120 3 4 3 7 3 42 3 10 3 16 3 15 3 14 3 9 3 9999"/><path d="M274 2098h2484" stroke-dasharray="0 2157 3 22 3 138 3 70 3 15 3 34 3 6 3 9999"/><path d="M274 2100h2484" stroke-dasharray="0 2032 3 95 3 79 3 4 3 28 3 38 3 21 3 1 3 8 3 32 3 34 3 9999"/><path d="M274 2102h2484" stroke-dasharray="0 1551 3 339 3 268 3 7 3 34 3 2 3 6 3 4 3 80 3 12 3 4 3 25 3 28 3 1 3 9999"/><path d="M274 2104h2484" stroke-dasharray="0 252 3 1726 3 198 3 9 3 71 3 20 3 56 3 9999"/><path d="M274 2106h2484" stroke-dasharray="0 1636 3 307 3 24 3 74 3 10 3 95 3 3 3 18 3 11 3 72 3 9 3 13 3 2 3 24 3 22 3 11 3 21 3 9999"/><path d="M274 2108h2484" stroke-dasharray="0 1267 3 173 3 85 3 64 3 367 3 71 3 37 3 7 3 30 3 37 3 24 3 21 3 13 3 33 3 32 3 5 3 121 3 9999"/><path d="M274 2110h2484" stroke-dasharray="0 1306 3 242 3 33 3 54 3 286 3 104 3 69 3 35 3 20 3 33 3 16 3 57 3 64 3 38 3 9999"/><path d="M274 2112h2484" stroke-dasharray="0 422 3 358 3 39 3 195 3 319 3 76 3 4 3 132 3 37 3 189 3 7 3 134 3 3 3 24 3 42 3 91 3 10 3 43 3 4 3 75 3 11 3 12 3 9999"/><path d="M274 2114h2484" stroke-dasharray="0 219 3 599 3 79 3 228 3 131 3 83 3 54 3 20 3 109 3 30 3 3 3 278 3 4 3 161 3 45 3 82 3 22 3 21 3 148 3 72 3 9999"/><path d="M274 2116h2484" stroke-dasharray="0 246 3 528 3 612 3 159 3 16 3 4 3 42 3 84 3 10 3 73 3 113 3 20 3 52 3 12 3 48 3 36 3 48 3 0 3 36 3 3 3 27 3 132 3 9999"/><path d="M274 2118h2484" stroke-dasharray="0 404 3 25 3 38 3 184 3 634 3 23 3 108 3 54 3 58 3 2 3 1 3 1 3 4 3 9 3 0 3 8 3 0 3 9 3 7 3 5 3 1 3 6 3 82 3 27 3 20 3 210 3 13 3 27 3 71 3 45 3 286 3 9999"/><path d="M274 2120h2484" stroke-dasharray="0 487 3 449 3 75 3 216 3 77 3 16 3 167 3 13 3 12 3 4 3 14 3 0 3 4 3 4 3 13 3 0 3 3 3 13 3 12 3 0 3 5 3 8 3 75 3 89 3 13 3 76 3 0 3 6 3 65 3 16 3 29 3 9999"/><path d="M274 2122h2484" stroke-dasharray="0 524 3 51 3 180 3 112 3 161 3 52 3 162 3 56 3 35 3 41 3 22 3 8 3 91 3 3 3 33 3 3 3 0 3 3 3 3 3 2 3 3 3 2 3 24 3 3 3 68 3 14 3 0 3 1 3 60 3 38 3 102 3 77 3 51 3 293 3 9999"/><path d="M274 2124h2484" stroke-dasharray="0 271 3 129 3 478 3 100 3 33 3 125 3 128 3 45 3 96 3 0 3 82 3 2 3 18 3 2 3 3 3 1 3 0 3 2 3 3 3 10 3 8 3 0 3 7 3 12 3 10 3 3 3 39 3 14 3 23 3 8 3 22 3 115 3 47 3 16 3 26 3 3 3 17 3 1 3 321 3 26 3 104 3 9999"/><path d="M274 2126h2484" stroke-dasharray="0 303 3 120 3 73 3 253 3 127 3 184 3 158 3 143 3 37 3 97 3 11 3 9 3 6 3 5 3 3 3 2 3 1 3 0 3 7 3 6 3 21 3 1 3 3 3 4 3 66 3 14 3 60 3 17 3 9 3 32 3 46 3 3 3 8 3 18 3 81 3 9999"/><path d="M274 2128h2484" stroke-dasharray="0 390 3 95 3 336 3 9 3 56 3 179 3 257 3 49 3 37 3 69 3 48 3 10 3 1 3 1 3 3 3 0 3 6 3 1 3 9 3 11 3 22 3 55 3 5 3 13 3 38 3 16 3 0 3 7 3 2 3 37 3 24 3 377 3 9999"/><path d="M274 2130h2484" stroke-dasharray="0 491 3 431 3 66 3 80 3 67 3 44 3 37 3 20 3 47 3 95 3 0 3 96 3 32 3 28 3 2 3 2 3 1 3 13 3 39 3 26 3 16 3 38 3 90 3 10 3 37 3 48 3 103 3 104 3 45 3 65 3 9 3 43 3 50 3 45 3 6 3 37 3 9999"/><path d="M274 2132h2484" stroke-dasharray="0 897 3 137 3 35 3 19 3 48 3 122 3 5 3 11 3 61 3 33 3 16 3 32 3 6 3 99 3 17 3 0 3 4 3 10 3 10 3 24 3 19 3 27 3 58 3 118 3 9 3 67 3 19 3 58 3 152 3 4 3 73 3 12 3 9 3 121 3 7 3 17 3 9999"/><path d="M274 2134h2484" stroke-dasharray="0 1024 3 249 3 93 3 36 3 33 3 28 3 3 3 6 3 97 3 28 3 39 3 240 3 32 3 15 3 11 3 127 3 2 3 7 3 104 3 75 3 31 3 8 3 21 3 9999"/><path d="M274 2136h2484" stroke-dasharray="0 1034 3 240 3 88 3 198 3 50 3 32 3 167 3 6 3 117 3 32 3 27 3 60 3 9999"/><path d="M274 2138h2484" stroke-dasharray="0 1321 3 213 3 230 3 454 3 131 3 9999"/><path d="M274 2140h2484" stroke-dasharray="0 2360 3 9999"/><path d="M274 2142h2484" stroke-dasharray="0 1266 3 9999"/><path d="M274 2158h2484" stroke-dasharray="0 1472 3 9999"/><path d="M274 2166h2484" stroke-dasharray="0 2056 3 23 3 195 3 9999"/><path d="M274 2168h2484" stroke-dasharray="0 1717 3 495 3 9999"/><path d="M274 2170h2484" stroke-dasharray="0 2081 3 313 3 61 3 9999"/><path d="M274 2172h2484" stroke-dasharray="0 1866 3 310 3 75 3 9999"/><path d="M274 2176h2484" stroke-dasharray="0 427 3 2000 3 9999"/><path d="M274 2180h2484" stroke-dasharray="0 2396 3 9999"/><path d="M274 2182h2484" stroke-dasharray="0 1826 3 9999"/><path d="M274 2184h2484" stroke-dasharray="0 1556 3 9999"/><path d="M274 2186h2484" stroke-dasharray="0 1990 3 9999"/><path d="M274 2188h2484" stroke-dasharray="0 376 3 9999"/><path d="M274 2192h2484" stroke-dasharray="0 1736 3 213 3 159 3 101 3 9999"/><path d="M274 2194h2484" stroke-dasharray="0 2142 3 9999"/><path d="M274 2196h2484" stroke-dasharray="0 2147 3 143 3 9999"/><path d="M274 2198h2484" stroke-dasharray="0 2122 3 9999"/><path d="M274 2200h2484" stroke-dasharray="0 2164 3 8 3 9999"/><path d="M274 2202h2484" stroke-dasharray="0 2405 3 9999"/><path d="M274 2204h2484" stroke-dasharray="0 1690 3 178 3 203 3 290 3 9999"/><path d="M274 2206h2484" stroke-dasharray="0 1938 3 40 3 374 3 9999"/><path d="M274 2208h2484" stroke-dasharray="0 334 3 2079 3 9999"/><path d="M274 2210h2484" stroke-dasharray="0 2283 3 83 3 9999"/><path d="M274 2212h2484" stroke-dasharray="0 2102 3 365 3 9999"/><path d="M274 2214h2484" stroke-dasharray="0 2206 3 96 3 9999"/><path d="M274 2220h2484" stroke-dasharray="0 1829 3 253 3 94 3 9999"/><path d="M274 2222h2484" stroke-dasharray="0 1940 3 9999"/><path d="M274 2224h2484" stroke-dasharray="0 1942 3 78 3 9999"/><path d="M274 2226h2484" stroke-dasharray="0 1966 3 24 3 9999"/><path d="M274 2228h2484" stroke-dasharray="0 1742 3 9999"/><path d="M274 2230h2484" stroke-dasharray="0 1811 3 9999"/><path d="M274 2236h2484" stroke-dasharray="0 637 3 104 3 661 3 9999"/><path d="M274 2240h2484" stroke-dasharray="0 1830 3 9999"/><path d="M274 2242h2484" stroke-dasharray="0 1713 3 111 3 212 3 9999"/><path d="M274 2244h2484" stroke-dasharray="0 2340 3 9999"/><path d="M274 2248h2484" stroke-dasharray="0 1963 3 9999"/><path d="M274 2250h2484" stroke-dasharray="0 1498 3 186 3 161 3 246 3 39 3 192 3 132 3 9999"/><path d="M274 2252h2484" stroke-dasharray="0 2012 3 423 3 9999"/><path d="M274 2254h2484" stroke-dasharray="0 2157 3 9999"/><path d="M274 2256h2484" stroke-dasharray="0 1151 3 594 3 345 3 9999"/><path d="M274 2258h2484" stroke-dasharray="0 2131 3 206 3 9999"/><path d="M274 2260h2484" stroke-dasharray="0 280 3 1516 3 598 3 8 3 18 3 39 3 9999"/><path d="M274 2262h2484" stroke-dasharray="0 1908 3 564 3 9999"/><path d="M274 2264h2484" stroke-dasharray="0 2036 3 361 3 58 3 9999"/><path d="M274 2268h2484" stroke-dasharray="0 1907 3 479 3 26 3 9999"/><path d="M274 2270h2484" stroke-dasharray="0 2379 3 43 3 43 3 9999"/><path d="M274 2272h2484" stroke-dasharray="0 1587 3 314 3 324 3 41 3 140 3 9999"/><path d="M274 2274h2484" stroke-dasharray="0 2182 3 188 3 4 3 60 3 9999"/><path d="M274 2276h2484" stroke-dasharray="0 2383 3 6 3 9999"/><path d="M274 2278h2484" stroke-dasharray="0 2257 3 80 3 2 3 96 3 4 3 9999"/><path d="M274 2280h2484" stroke-dasharray="0 2373 3 9999"/><path d="M274 2282h2484" stroke-dasharray="0 2107 3 260 3 20 3 19 3 26 3 9999"/><path d="M274 2284h2484" stroke-dasharray="0 1659 3 623 3 155 3 9999"/><path d="M274 2286h2484" stroke-dasharray="0 2371 3 66 3 25 3 9999"/><path d="M274 2288h2484" stroke-dasharray="0 555 3 1592 3 102 3 1 3 107 3 9999"/><path d="M274 2290h2484" stroke-dasharray="0 886 3 1121 3 30 3 183 3 92 3 21 3 28 3 24 3 8 3 1 3 8 3 25 3 9999"/><path d="M274 2292h2484" stroke-dasharray="0 1738 3 266 3 212 3 103 3 9999"/><path d="M274 2294h2484" stroke-dasharray="0 2348 3 72 3 40 3 9999"/><path d="M274 2296h2484" stroke-dasharray="0 2236 3 65 3 50 3 40 3 46 3 22 3 9999"/><path d="M274 2298h2484" stroke-dasharray="0 1825 3 488 3 17 3 58 3 18 3 14 3 23 3 9999"/><path d="M274 2300h2484" stroke-dasharray="0 2192 3 98 3 50 3 10 3 11 3 51 3 40 3 9999"/><path d="M274 2302h2484" stroke-dasharray="0 1906 3 310 3 4 3 24 3 38 3 57 3 69 3 26 3 9999"/><path d="M274 2304h2484" stroke-dasharray="0 2243 3 84 3 61 3 31 3 23 3 9999"/><path d="M274 2306h2484" stroke-dasharray="0 630 3 1379 3 129 3 56 3 113 3 21 3 23 3 9999"/><path d="M274 2308h2484" stroke-dasharray="0 2035 3 121 3 103 3 88 3 30 3 43 3 9999"/><path d="M274 2310h2484" stroke-dasharray="0 2273 3 86 3 0 3 50 3 9999"/><path d="M274 2312h2484" stroke-dasharray="0 1972 3 155 3 6 3 18 3 59 3 29 3 28 3 39 3 28 3 0 3 62 3 24 3 9999"/><path d="M274 2314h2484" stroke-dasharray="0 1964 3 39 3 131 3 41 3 21 3 2 3 87 3 29 3 40 3 20 3 35 3 9999"/><path d="M274 2316h2484" stroke-dasharray="0 1260 3 741 3 47 3 15 3 91 3 57 3 8 3 13 3 62 3 5 3 8 3 0 3 9999"/><path d="M274 2318h2484" stroke-dasharray="0 842 3 276 3 261 3 529 3 170 3 92 3 26 3 11 3 71 3 72 3 9999"/><path d="M274 2320h2484" stroke-dasharray="0 1822 3 135 3 77 3 93 3 26 3 10 3 88 3 6 3 28 3 48 3 76 3 26 3 9999"/><path d="M274 2322h2484" stroke-dasharray="0 1901 3 72 3 53 3 4 3 4 3 7 3 54 3 13 3 7 3 95 3 12 3 82 3 55 3 15 3 9 3 9999"/><path d="M274 2324h2484" stroke-dasharray="0 461 3 788 3 678 3 29 3 11 3 37 3 7 3 40 3 48 3 0 3 39 3 19 3 64 3 11 3 8 3 1 3 9999"/><path d="M274 2326h2484" stroke-dasharray="0 609 3 269 3 655 3 225 3 78 3 21 3 19 3 41 3 11 3 54 3 33 3 47 3 98 3 0 3 2 3 170 3 64 3 9999"/><path d="M274 2328h2484" stroke-dasharray="0 461 3 0 3 699 3 143 3 262 3 302 3 113 3 31 3 6 3 24 3 0 3 46 3 3 3 32 3 12 3 11 3 22 3 80 3 45 3 9999"/><path d="M274 2330h2484" stroke-dasharray="0 727 3 192 3 294 3 608 3 103 3 16 3 98 3 102 3 26 3 13 3 58 3 25 3 9999"/><path d="M274 2332h2484" stroke-dasharray="0 1126 3 140 3 151 3 63 3 97 3 281 3 105 3 43 3 82 3 14 3 9 3 32 3 35 3 66 3 49 3 9999"/><path d="M274 2334h2484" stroke-dasharray="0 381 3 244 3 102 3 78 3 13 3 464 3 67 3 80 3 79 3 93 3 18 3 0 3 1 3 1 3 169 3 58 3 60 3 82 3 3 3 44 3 17 3 1 3 19 3 6 3 32 3 68 3 43 3 40 3 9999"/><path d="M274 2336h2484" stroke-dasharray="0 732 3 14 3 211 3 212 3 96 3 100 3 70 3 133 3 22 3 10 3 6 3 0 3 26 3 64 3 35 3 17 3 35 3 123 3 165 3 32 3 9999"/><path d="M274 2338h2484" stroke-dasharray="0 179 3 253 3 38 3 154 3 339 3 45 3 105 3 86 3 95 3 61 3 28 3 38 3 134 3 8 3 5 3 5 3 4 3 0 3 3 3 2 3 6 3 10 3 38 3 102 3 61 3 26 3 84 3 46 3 53 3 36 3 9999"/><path d="M274 2340h2484" stroke-dasharray="0 447 3 15 3 337 3 29 3 19 3 549 3 46 3 70 3 46 3 0 3 0 3 8 3 8 3 0 3 1 3 2 3 2 3 0 3 1 3 0 3 1 3 3 3 3 3 0 3 2 3 1 3 21 3 19 3 47 3 145 3 7 3 59 3 8 3 49 3 151 3 140 3 9999"/><path d="M274 2342h2484" stroke-dasharray="0 306 3 175 3 259 3 9 3 109 3 36 3 26 3 17 3 17 3 82 3 280 3 38 3 150 3 40 3 7 3 0 3 4 3 0 3 6 3 4 3 1 3 2 3 3 3 3 3 1 3 5 3 0 3 4 3 140 3 113 3 44 3 66 3 45 3 266 3 9999"/><path d="M274 2344h2484" stroke-dasharray="0 230 3 49 3 270 3 108 3 436 3 324 3 153 3 2 3 3 3 11 3 1 3 0 3 0 3 3 3 1 3 7 3 8 3 18 3 24 3 27 3 38 3 31 3 4 3 39 3 9 3 37 3 53 3 490 3 9999"/><path d="M274 2346h2484" stroke-dasharray="0 612 3 6 3 126 3 27 3 65 3 277 3 169 3 29 3 120 3 61 3 18 3 3 3 57 3 2 3 9 3 1 3 1 3 0 3 3 3 0 3 5 3 8 3 7 3 4 3 35 3 4 3 15 3 6 3 10 3 77 3 28 3 20 3 9999"/><path d="M274 2348h2484" stroke-dasharray="0 1006 3 260 3 27 3 24 3 4 3 163 3 12 3 3 3 1 3 26 3 14 3 14 3 3 3 6 3 1 3 0 3 11 3 3 3 6 3 26 3 30 3 67 3 44 3 6 3 53 3 21 3 57 3 11 3 2 3 75 3 18 3 7 3 34 3 6 3 19 3 9 3 16 3 52 3 98 3 16 3 8 3 71 3 9999"/><path d="M274 2350h2484" stroke-dasharray="0 979 3 28 3 282 3 67 3 57 3 5 3 24 3 82 3 5 3 39 3 42 3 12 3 27 3 11 3 11 3 28 3 1 3 7 3 142 3 58 3 27 3 84 3 48 3 4 3 0 3 132 3 44 3 9999"/><path d="M274 2352h2484" stroke-dasharray="0 1195 3 136 3 140 3 3 3 40 3 71 3 9 3 73 3 98 3 4 3 33 3 25 3 12 3 86 3 29 3 122 3 50 3 5 3 0 3 109 3 121 3 25 3 9999"/><path d="M274 2354h2484" stroke-dasharray="0 1309 3 331 3 7 3 128 3 210 3 44 3 130 3 49 3 9999"/><path d="M274 2356h2484" stroke-dasharray="0 1471 3 136 3 622 3 9999"/><path d="M274 2368h2484" stroke-dasharray="0 1902 3 431 3 84 3 9999"/><path d="M274 2370h2484" stroke-dasharray="0 2429 3 9999"/><path d="M274 2374h2484" stroke-dasharray="0 661 3 1655 3 145 3 9999"/><path d="M274 2376h2484" stroke-dasharray="0 2317 3 63 3 9999"/><path d="M274 2378h2484" stroke-dasharray="0 466 3 9999"/><path d="M274 2382h2484" stroke-dasharray="0 1754 3 241 3 317 3 9999"/><path d="M274 2384h2484" stroke-dasharray="0 2238 3 188 3 9999"/><path d="M274 2386h2484" stroke-dasharray="0 2020 3 9999"/><path d="M274 2388h2484" stroke-dasharray="0 1949 3 241 3 9999"/><path d="M274 2392h2484" stroke-dasharray="0 2165 3 78 3 9999"/><path d="M274 2396h2484" stroke-dasharray="0 1018 3 1002 3 9999"/><path d="M274 2398h2484" stroke-dasharray="0 2280 3 9999"/><path d="M274 2400h2484" stroke-dasharray="0 1655 3 9999"/><path d="M274 2404h2484" stroke-dasharray="0 2326 3 9999"/><path d="M274 2406h2484" stroke-dasharray="0 1609 3 380 3 9999"/><path d="M274 2408h2484" stroke-dasharray="0 2327 3 9999"/><path d="M274 2410h2484" stroke-dasharray="0 2239 3 9999"/><path d="M274 2414h2484" stroke-dasharray="0 2255 3 21 3 9999"/><path d="M274 2416h2484" stroke-dasharray="0 1314 3 142 3 9999"/><path d="M274 2418h2484" stroke-dasharray="0 1634 3 9999"/><path d="M274 2428h2484" stroke-dasharray="0 841 3 902 3 102 3 501 3 9999"/><path d="M274 2430h2484" stroke-dasharray="0 1840 3 545 3 51 3 9999"/><path d="M274 2432h2484" stroke-dasharray="0 1703 3 282 3 338 3 9999"/><path d="M274 2434h2484" stroke-dasharray="0 301 3 2104 3 9999"/><path d="M274 2438h2484" stroke-dasharray="0 186 3 2229 3 9999"/><path d="M274 2440h2484" stroke-dasharray="0 1779 3 437 3 228 3 9999"/><path d="M274 2444h2484" stroke-dasharray="0 1985 3 9999"/><path d="M274 2446h2484" stroke-dasharray="0 970 3 317 3 9999"/><path d="M274 2448h2484" stroke-dasharray="0 2060 3 172 3 199 3 9999"/><path d="M274 2450h2484" stroke-dasharray="0 1383 3 633 3 321 3 9999"/><path d="M274 2452h2484" stroke-dasharray="0 1691 3 443 3 19 3 9999"/><path d="M274 2454h2484" stroke-dasharray="0 2061 3 43 3 9999"/><path d="M274 2456h2484" stroke-dasharray="0 1599 3 175 3 39 3 430 3 165 3 9999"/><path d="M274 2458h2484" stroke-dasharray="0 286 3 333 3 1034 3 159 3 223 3 9999"/><path d="M274 2460h2484" stroke-dasharray="0 1734 3 9999"/><path d="M274 2464h2484" stroke-dasharray="0 2002 3 9999"/><path d="M274 2466h2484" stroke-dasharray="0 1957 3 388 3 5 3 57 3 9999"/><path d="M274 2468h2484" stroke-dasharray="0 389 3 9999"/><path d="M274 2470h2484" stroke-dasharray="0 2002 3 107 3 319 3 9999"/><path d="M274 2472h2484" stroke-dasharray="0 2095 3 317 3 26 3 0 3 2 3 9999"/><path d="M274 2474h2484" stroke-dasharray="0 2468 3 9999"/><path d="M274 2476h2484" stroke-dasharray="0 2207 3 206 3 9999"/><path d="M274 2478h2484" stroke-dasharray="0 2431 3 37 3 9999"/><path d="M274 2480h2484" stroke-dasharray="0 1108 3 1277 3 1 3 21 3 9999"/><path d="M274 2482h2484" stroke-dasharray="0 2129 3 204 3 26 3 26 3 18 3 51 3 1 3 9999"/><path d="M274 2484h2484" stroke-dasharray="0 1793 3 601 3 70 3 9999"/><path d="M274 2486h2484" stroke-dasharray="0 1842 3 295 3 118 3 110 3 9999"/><path d="M274 2488h2484" stroke-dasharray="0 2352 3 100 3 9999"/><path d="M274 2490h2484" stroke-dasharray="0 1728 3 571 3 136 3 9999"/><path d="M274 2492h2484" stroke-dasharray="0 1999 3 286 3 125 3 50 3 9999"/><path d="M274 2494h2484" stroke-dasharray="0 2191 3 197 3 9999"/><path d="M274 2496h2484" stroke-dasharray="0 1326 3 551 3 524 3 1 3 5 3 9999"/><path d="M274 2498h2484" stroke-dasharray="0 2341 3 53 3 56 3 4 3 9999"/><path d="M274 2500h2484" stroke-dasharray="0 2287 3 138 3 8 3 9999"/><path d="M274 2502h2484" stroke-dasharray="0 2171 3 11 3 86 3 11 3 9 3 160 3 9999"/><path d="M274 2504h2484" stroke-dasharray="0 1097 3 1087 3 166 3 73 3 20 3 9999"/><path d="M274 2506h2484" stroke-dasharray="0 1877 3 347 3 121 3 7 3 9999"/><path d="M274 2508h2484" stroke-dasharray="0 2096 3 53 3 37 3 54 3 28 3 35 3 96 3 7 3 8 3 15 3 9999"/><path d="M274 2510h2484" stroke-dasharray="0 410 3 1704 3 79 3 60 3 16 3 38 3 44 3 80 3 9999"/><path d="M274 2512h2484" stroke-dasharray="0 2099 3 16 3 77 3 29 3 64 3 6 3 11 3 24 3 15 3 82 3 9999"/><path d="M274 2514h2484" stroke-dasharray="0 1988 3 112 3 174 3 27 3 45 3 30 3 48 3 2 3 1 3 6 3 9999"/><path d="M274 2516h2484" stroke-dasharray="0 395 3 1837 3 20 3 52 3 1 3 53 3 53 3 12 3 14 3 10 3 9999"/><path d="M274 2518h2484" stroke-dasharray="0 2161 3 42 3 30 3 44 3 106 3 10 3 33 3 9999"/><path d="M274 2520h2484" stroke-dasharray="0 2247 3 39 3 123 3 13 3 28 3 9999"/><path d="M274 2522h2484" stroke-dasharray="0 487 3 920 3 732 3 27 3 30 3 74 3 41 3 21 3 0 3 45 3 36 3 9999"/><path d="M274 2524h2484" stroke-dasharray="0 2101 3 0 3 1 3 59 3 109 3 6 3 10 3 8 3 23 3 5 3 4 3 25 3 40 3 10 3 9999"/><path d="M274 2526h2484" stroke-dasharray="0 2152 3 36 3 5 3 3 3 5 3 9 3 3 3 43 3 8 3 20 3 76 3 9999"/><path d="M274 2528h2484" stroke-dasharray="0 1904 3 114 3 94 3 84 3 11 3 101 3 7 3 23 3 13 3 95 3 9999"/><path d="M274 2530h2484" stroke-dasharray="0 261 3 1841 3 28 3 1 3 27 3 99 3 2 3 19 3 58 3 4 3 97 3 9999"/><path d="M274 2532h2484" stroke-dasharray="0 1888 3 88 3 37 3 32 3 20 3 10 3 1 3 47 3 32 3 25 3 13 3 50 3 4 3 67 3 18 3 9999"/><path d="M274 2534h2484" stroke-dasharray="0 1856 3 56 3 84 3 3 3 51 3 131 3 36 3 21 3 150 3 19 3 9999"/><path d="M274 2536h2484" stroke-dasharray="0 544 3 335 3 1078 3 58 3 6 3 54 3 64 3 25 3 5 3 4 3 8 3 43 3 3 3 102 3 21 3 20 3 9999"/><path d="M274 2538h2484" stroke-dasharray="0 489 3 373 3 890 3 44 3 83 3 104 3 57 3 32 3 31 3 51 3 50 3 20 3 10 3 14 3 7 3 9999"/><path d="M274 2540h2484" stroke-dasharray="0 1015 3 731 3 80 3 150 3 13 3 66 3 160 3 2 3 39 3 34 3 122 3 9999"/><path d="M274 2542h2484" stroke-dasharray="0 1025 3 689 3 47 3 58 3 41 3 52 3 32 3 29 3 154 3 9 3 14 3 4 3 10 3 7 3 9999"/><path d="M274 2544h2484" stroke-dasharray="0 357 3 800 3 17 3 129 3 25 3 5 3 195 3 139 3 5 3 1 3 9 3 18 3 1 3 34 3 149 3 15 3 18 3 59 3 50 3 46 3 14 3 16 3 26 3 17 3 33 3 63 3 9999"/><path d="M274 2546h2484" stroke-dasharray="0 737 3 25 3 187 3 4 3 274 3 22 3 212 3 210 3 2 3 31 3 20 3 6 3 36 3 116 3 15 3 13 3 37 3 72 3 39 3 123 3 124 3 57 3 8 3 9999"/><path d="M274 2548h2484" stroke-dasharray="0 445 3 816 3 7 3 20 3 93 3 283 3 6 3 14 3 24 3 4 3 0 3 1 3 6 3 3 3 7 3 0 3 5 3 7 3 17 3 1 3 150 3 38 3 49 3 13 3 6 3 18 3 26 3 44 3 14 3 9999"/><path d="M274 2550h2484" stroke-dasharray="0 356 3 987 3 28 3 142 3 88 3 58 3 19 3 6 3 1 3 3 3 7 3 5 3 6 3 5 3 1 3 17 3 1 3 2 3 4 3 5 3 4 3 2 3 27 3 114 3 27 3 54 3 16 3 5 3 31 3 2 3 45 3 213 3 49 3 11 3 9999"/><path d="M274 2552h2484" stroke-dasharray="0 544 3 120 3 264 3 286 3 275 3 62 3 36 3 15 3 7 3 14 3 31 3 21 3 12 3 2 3 8 3 4 3 1 3 11 3 10 3 4 3 41 3 29 3 42 3 34 3 44 3 66 3 25 3 202 3 60 3 8 3 9999"/><path d="M274 2554h2484" stroke-dasharray="0 316 3 4 3 42 3 173 3 66 3 315 3 168 3 259 3 3 3 17 3 102 3 57 3 95 3 6 3 23 3 7 3 0 3 2 3 2 3 9 3 1 3 8 3 14 3 3 3 2 3 25 3 135 3 5 3 20 3 15 3 324 3 136 3 9999"/><path d="M274 2556h2484" stroke-dasharray="0 333 3 125 3 235 3 87 3 112 3 96 3 236 3 8 3 18 3 265 3 56 3 13 3 41 3 18 3 33 3 8 3 7 3 4 3 0 3 9 3 5 3 12 3 4 3 20 3 14 3 7 3 42 3 28 3 45 3 35 3 40 3 20 3 9999"/><path d="M274 2558h2484" stroke-dasharray="0 329 3 153 3 11 3 79 3 87 3 13 3 2 3 7 3 54 3 89 3 303 3 146 3 55 3 42 3 56 3 6 3 32 3 89 3 14 3 25 3 2 3 8 3 3 3 26 3 15 3 40 3 15 3 87 3 26 3 334 3 9999"/><path d="M274 2560h2484" stroke-dasharray="0 609 3 93 3 16 3 70 3 407 3 49 3 50 3 36 3 13 3 79 3 104 3 30 3 3 3 21 3 28 3 42 3 81 3 45 3 10 3 81 3 60 3 35 3 34 3 48 3 16 3 75 3 19 3 121 3 30 3 43 3 27 3 7 3 9999"/><path d="M274 2562h2484" stroke-dasharray="0 913 3 27 3 42 3 76 3 147 3 80 3 2 3 4 3 21 3 11 3 24 3 8 3 36 3 78 3 5 3 42 3 75 3 31 3 22 3 11 3 12 3 70 3 0 3 9 3 24 3 104 3 17 3 11 3 89 3 6 3 43 3 1 3 28 3 68 3 54 3 1 3 73 3 15 3 9 3 8 3 13 3 1 3 9999"/><path d="M274 2564h2484" stroke-dasharray="0 1077 3 27 3 70 3 77 3 54 3 7 3 32 3 78 3 84 3 18 3 51 3 28 3 4 3 21 3 11 3 21 3 12 3 1 3 108 3 10 3 47 3 78 3 27 3 47 3 56 3 0 3 57 3 23 3 13 3 128 3 0 3 12 3 38 3 34 3 9999"/><path d="M274 2566h2484" stroke-dasharray="0 1358 3 440 3 187 3 155 3 155 3 21 3 29 3 71 3 9999"/><path d="M274 2568h2484" stroke-dasharray="0 1545 3 566 3 13 3 342 3 9999"/></g><g stroke="#2a2a2a"><path d="M274 4h2484" stroke-dasharray="0 828 3 185 3 615 3 65 3 456 3 21 3 63 3 55 3 11 3 66 3 9999"/><path d="M274 6h2484" stroke-dasharray="0 1144 3 150 3 127 3 155 3 367 3 119 3 20 3 46 3 220 3 84 3 9999"/><path d="M274 8h2484" stroke-dasharray="0 1018 3 1106 3 27 3 24 3 88 3 23 3 106 3 12 3 26 3 9999"/><path d="M274 10h2484" stroke-dasharray="0 820 3 674 3 481 3 16 3 89 3 37 3 121 3 2 3 21 3 65 3 70 3 9999"/><path d="M274 12h2484" stroke-dasharray="0 730 3 558 3 150 3 180 3 140 3 221 3 18 3 5 3 128 3 99 3 189 3 9999"/><path d="M274 14h2484" stroke-dasharray="0 879 3 520 3 233 3 291 3 241 3 5 3 224 3 52 3 9999"/><path d="M274 16h2484" stroke-dasharray="0 1133 3 128 3 690 3 71 3 66 3 49 3 118 3 84 3 9999"/><path d="M274 18h2484" stroke-dasharray="0 856 3 61 3 90 3 315 3 100 3 337 3 44 3 140 3 40 3 46 3 234 3 48 3 14 3 32 3 30 3 9999"/><path d="M274 20h2484" stroke-dasharray="0 929 3 54 3 425 3 505 3 96 3 49 3 13 3 209 3 77 3 2 3 46 3 9999"/><path d="M274 22h2484" stroke-dasharray="0 613 3 171 3 509 3 0 3 136 3 106 3 565 3 85 3 82 3 109 3 9999"/><path d="M274 24h2484" stroke-dasharray="0 1001 3 46 3 127 3 276 3 101 3 471 3 103 3 26 3 131 3 30 3 2 3 118 3 9999"/><path d="M274 26h2484" stroke-dasharray="0 1182 3 24 3 69 3 829 3 8 3 89 3 63 3 5 3 46 3 125 3 9999"/><path d="M274 28h2484" stroke-dasharray="0 685 3 150 3 244 3 428 3 59 3 150 3 136 3 58 3 28 3 180 3 26 3 121 3 12 3 27 3 70 3 11 3 6 3 16 3 15 3 9999"/><path d="M274 30h2484" stroke-dasharray="0 849 3 22 3 349 3 226 3 501 3 40 3 84 3 50 3 148 3 42 3 16 3 85 3 1 3 9999"/><path d="M274 32h2484" stroke-dasharray="0 869 3 138 3 256 3 670 3 323 3 60 3 100 3 22 3 11 3 9999"/><path d="M274 34h2484" stroke-dasharray="0 921 3 208 3 458 3 77 3 269 3 38 3 44 3 10 3 156 3 14 3 23 3 77 3 100 3 9999"/><path d="M274 36h2484" stroke-dasharray="0 808 3 588 3 124 3 732 3 100 3 30 3 72 3 9999"/><path d="M274 38h2484" stroke-dasharray="0 1313 3 129 3 180 3 320 3 82 3 68 3 95 3 4 3 35 3 55 3 135 3 0 3 0 3 9999"/><path d="M274 40h2484" stroke-dasharray="0 852 3 65 3 19 3 64 3 79 3 422 3 268 3 91 3 68 3 73 3 9 3 103 3 118 3 133 3 2 3 9999"/><path d="M274 42h2484" stroke-dasharray="0 1041 3 99 3 50 3 54 3 576 3 8 3 94 3 75 3 236 3 53 3 25 3 39 3 9999"/><path d="M274 44h2484" stroke-dasharray="0 905 3 75 3 31 3 143 3 129 3 328 3 30 3 205 3 57 3 40 3 7 3 58 3 68 3 178 3 68 3 87 3 8 3 9999"/><path d="M274 46h2484" stroke-dasharray="0 963 3 33 3 66 3 10 3 759 3 240 3 17 3 5 3 4 3 216 3 21 3 31 3 1 3 24 3 41 3 9999"/><path d="M274 48h2484" stroke-dasharray="0 881 3 2 3 44 3 168 3 153 3 790 3 13 3 189 3 11 3 65 3 82 3 3 3 32 3 9999"/><path d="M274 50h2484" stroke-dasharray="0 886 3 207 3 800 3 5 3 5 3 38 3 131 3 7 3 98 3 65 3 4 3 12 3 46 3 8 3 26 3 9999"/><path d="M274 52h2484" stroke-dasharray="0 759 3 48 3 27 3 82 3 29 3 186 3 184 3 120 3 23 3 420 3 177 3 143 3 61 3 118 3 19 3 16 3 5 3 9999"/><path d="M274 54h2484" stroke-dasharray="0 881 3 94 3 180 3 38 3 52 3 110 3 551 3 142 3 2 3 36 3 51 3 12 3 28 3 31 3 47 3 14 3 17 3 7 3 80 3 4 3 5 3 3 3 9999"/><path d="M274 56h2484" stroke-dasharray="0 909 3 174 3 825 3 298 3 70 3 12 3 8 3 22 3 2 3 127 3 9999"/><path d="M274 58h2484" stroke-dasharray="0 642 3 183 3 939 3 100 3 170 3 104 3 49 3 28 3 55 3 11 3 19 3 10 3 19 3 6 3 27 3 13 3 9999"/><path d="M274 60h2484" stroke-dasharray="0 843 3 186 3 354 3 178 3 73 3 308 3 14 3 67 3 20 3 20 3 50 3 169 3 2 3 1 3 19 3 4 3 8 3 12 3 32 3 2 3 7 3 16 3 9999"/><path d="M274 62h2484" stroke-dasharray="0 754 3 698 3 586 3 73 3 126 3 101 3 9 3 14 3 17 3 2 3 40 3 9999"/><path d="M274 64h2484" stroke-dasharray="0 1069 3 50 3 50 3 283 3 446 3 162 3 54 3 113 3 4 3 23 3 1 3 72 3 17 3 15 3 4 3 54 3 3 3 3 3 9999"/><path d="M274 66h2484" stroke-dasharray="0 900 3 136 3 68 3 415 3 234 3 61 3 68 3 291 3 19 3 22 3 62 3 12 3 40 3 19 3 28 3 8 3 9 3 9999"/><path d="M274 68h2484" stroke-dasharray="0 911 3 276 3 96 3 309 3 252 3 28 3 223 3 23 3 40 3 81 3 40 3 3 3 22 3 110 3 9999"/><path d="M274 70h2484" stroke-dasharray="0 791 3 99 3 59 3 125 3 939 3 112 3 71 3 1 3 97 3 10 3 5 3 0 3 72 3 14 3 3 3 4 3 7 3 6 3 9999"/><path d="M274 72h2484" stroke-dasharray="0 907 3 22 3 1 3 169 3 94 3 35 3 612 3 108 3 92 3 35 3 79 3 22 3 33 3 11 3 11 3 90 3 18 3 4 3 46 3 5 3 11 3 9999"/><path d="M274 74h2484" stroke-dasharray="0 841 3 148 3 22 3 68 3 909 3 129 3 54 3 25 3 29 3 7 3 18 3 91 3 21 3 15 3 45 3 9999"/><path d="M274 76h2484" stroke-dasharray="0 850 3 55 3 42 3 75 3 97 3 218 3 693 3 93 3 35 3 19 3 54 3 8 3 1 3 52 3 35 3 14 3 1 3 11 3 9 3 3 3 37 3 9999"/><path d="M274 78h2484" stroke-dasharray="0 724 3 279 3 863 3 38 3 108 3 111 3 11 3 93 3 48 3 5 3 60 3 18 3 21 3 25 3 6 3 9999"/><path d="M274 80h2484" stroke-dasharray="0 979 3 99 3 4 3 141 3 110 3 367 3 424 3 65 3 8 3 35 3 19 3 41 3 140 3 9999"/><path d="M274 82h2484" stroke-dasharray="0 818 3 68 3 14 3 2 3 64 3 504 3 311 3 139 3 21 3 161 3 14 3 53 3 12 3 13 3 17 3 1 3 4 3 0 3 9 3 11 3 11 3 30 3 6 3 51 3 1 3 7 3 49 3 9999"/><path d="M274 84h2484" stroke-dasharray="0 653 3 190 3 60 3 18 3 20 3 52 3 238 3 656 3 27 3 124 3 132 3 5 3 105 3 15 3 41 3 5 3 18 3 0 3 0 3 54 3 9999"/><path d="M274 86h2484" stroke-dasharray="0 639 3 239 3 116 3 94 3 39 3 40 3 548 3 176 3 114 3 6 3 49 3 16 3 15 3 16 3 2 3 9 3 9 3 8 3 1 3 34 3 35 3 11 3 21 3 5 3 0 3 49 3 0 3 1 3 11 3 9 3 5 3 48 3 9999"/><path d="M274 88h2484" stroke-dasharray="0 831 3 84 3 206 3 35 3 433 3 256 3 41 3 55 3 118 3 30 3 24 3 23 3 5 3 0 3 0 3 1 3 6 3 19 3 9 3 57 3 3 3 0 3 14 3 6 3 2 3 11 3 19 3 34 3 0 3 2 3 31 3 0 3 4 3 9999"/><path d="M274 90h2484" stroke-dasharray="0 895 3 72 3 60 3 268 3 243 3 323 3 121 3 17 3 50 3 13 3 53 3 65 3 7 3 1 3 10 3 12 3 23 3 9 3 7 3 16 3 20 3 0 3 66 3 1 3 13 3 0 3 5 3 9999"/><path d="M274 92h2484" stroke-dasharray="0 1393 3 523 3 7 3 12 3 58 3 81 3 16 3 93 3 44 3 34 3 21 3 65 3 10 3 0 3 53 3 0 3 1 3 11 3 9999"/><path d="M274 94h2484" stroke-dasharray="0 926 3 148 3 893 3 12 3 42 3 0 3 22 3 42 3 23 3 19 3 8 3 2 3 24 3 13 3 5 3 11 3 27 3 7 3 3 3 26 3 33 3 14 3 3 3 1 3 13 3 43 3 10 3 21 3 9999"/><path d="M274 96h2484" stroke-dasharray="0 781 3 7 3 119 3 158 3 889 3 24 3 87 3 36 3 19 3 8 3 114 3 44 3 50 3 5 3 9 3 6 3 14 3 32 3 9 3 9999"/><path d="M274 98h2484" stroke-dasharray="0 851 3 61 3 19 3 466 3 650 3 46 3 27 3 13 3 4 3 17 3 45 3 26 3 0 3 14 3 66 3 11 3 2 3 5 3 22 3 26 3 2 3 3 3 15 3 2 3 9999"/><path d="M274 100h2484" stroke-dasharray="0 837 3 125 3 102 3 567 3 304 3 19 3 9 3 12 3 24 3 7 3 10 3 32 3 90 3 18 3 12 3 10 3 28 3 11 3 33 3 91 3 1 3 2 3 28 3 18 3 1 3 5 3 9999"/><path d="M274 102h2484" stroke-dasharray="0 1157 3 12 3 765 3 12 3 95 3 21 3 0 3 32 3 34 3 24 3 59 3 5 3 12 3 37 3 0 3 17 3 34 3 8 3 11 3 2 3 5 3 28 3 18 3 12 3 2 3 9999"/><path d="M274 104h2484" stroke-dasharray="0 739 3 136 3 16 3 114 3 20 3 202 3 255 3 150 3 247 3 5 3 22 3 3 3 28 3 4 3 39 3 39 3 27 3 17 3 22 3 36 3 20 3 20 3 5 3 10 3 32 3 61 3 1 3 58 3 4 3 3 3 3 3 6 3 12 3 2 3 7 3 9999"/><path d="M274 106h2484" stroke-dasharray="0 652 3 227 3 2 3 61 3 834 3 19 3 25 3 72 3 7 3 0 3 57 3 20 3 19 3 3 3 15 3 14 3 5 3 2 3 29 3 16 3 12 3 13 3 4 3 49 3 7 3 25 3 4 3 11 3 50 3 0 3 2 3 24 3 72 3 9999"/><path d="M274 108h2484" stroke-dasharray="0 867 3 58 3 224 3 127 3 408 3 105 3 72 3 21 3 63 3 36 3 12 3 13 3 38 3 11 3 17 3 37 3 1 3 5 3 29 3 3 3 37 3 22 3 39 3 9 3 2 3 3 3 7 3 17 3 2 3 4 3 4 3 4 3 15 3 11 3 8 3 27 3 5 3 9999"/><path d="M274 110h2484" stroke-dasharray="0 811 3 224 3 332 3 90 3 363 3 34 3 48 3 30 3 19 3 33 3 43 3 11 3 101 3 21 3 0 3 2 3 3 3 3 3 10 3 21 3 36 3 15 3 21 3 19 3 22 3 0 3 20 3 29 3 8 3 7 3 9999"/><path d="M274 112h2484" stroke-dasharray="0 1041 3 66 3 5 3 464 3 184 3 68 3 54 3 6 3 9 3 21 3 37 3 13 3 15 3 6 3 17 3 14 3 9 3 33 3 20 3 31 3 8 3 7 3 15 3 45 3 41 3 9 3 18 3 2 3 1 3 10 3 6 3 10 3 24 3 22 3 1 3 7 3 2 3 10 3 9999"/><path d="M274 114h2484" stroke-dasharray="0 884 3 66 3 11 3 186 3 607 3 142 3 14 3 13 3 3 3 26 3 48 3 10 3 16 3 37 3 12 3 10 3 4 3 18 3 34 3 53 3 4 3 0 3 4 3 25 3 8 3 2 3 4 3 4 3 1 3 31 3 0 3 6 3 0 3 3 3 8 3 11 3 4 3 13 3 21 3 1 3 4 3 9999"/><path d="M274 116h2484" stroke-dasharray="0 782 3 49 3 360 3 644 3 61 3 13 3 9 3 16 3 6 3 47 3 65 3 53 3 10 3 14 3 21 3 17 3 8 3 36 3 16 3 9 3 11 3 37 3 6 3 4 3 20 3 22 3 5 3 15 3 29 3 1 3 9999"/><path d="M274 118h2484" stroke-dasharray="0 762 3 13 3 148 3 36 3 453 3 280 3 77 3 18 3 1 3 52 3 69 3 92 3 4 3 31 3 18 3 41 3 44 3 1 3 9 3 1 3 1 3 18 3 5 3 13 3 25 3 11 3 6 3 6 3 25 3 31 3 9 3 0 3 21 3 6 3 22 3 8 3 4 3 9999"/><path d="M274 120h2484" stroke-dasharray="0 645 3 199 3 109 3 45 3 4 3 499 3 174 3 33 3 285 3 2 3 7 3 16 3 20 3 7 3 9 3 43 3 25 3 25 3 60 3 15 3 21 3 15 3 5 3 10 3 4 3 6 3 14 3 0 3 5 3 3 3 1 3 13 3 4 3 20 3 9999"/><path d="M274 122h2484" stroke-dasharray="0 964 3 73 3 229 3 10 3 215 3 237 3 25 3 1 3 56 3 76 3 2 3 20 3 3 3 13 3 28 3 14 3 49 3 22 3 2 3 13 3 15 3 6 3 14 3 13 3 8 3 23 3 12 3 24 3 0 3 3 3 2 3 31 3 24 3 7 3 0 3 9 3 57 3 14 3 13 3 9999"/><path d="M274 124h2484" stroke-dasharray="0 939 3 29 3 748 3 19 3 11 3 4 3 35 3 34 3 31 3 50 3 14 3 10 3 0 3 31 3 5 3 37 3 15 3 40 3 13 3 10 3 6 3 39 3 5 3 3 3 50 3 9 3 35 3 1 3 22 3 16 3 27 3 1 3 17 3 31 3 11 3 20 3 9999"/><path d="M274 126h2484" stroke-dasharray="0 760 3 69 3 107 3 97 3 480 3 30 3 150 3 46 3 7 3 11 3 54 3 60 3 8 3 17 3 6 3 20 3 33 3 18 3 1 3 32 3 9 3 1 3 3 3 0 3 10 3 14 3 9 3 3 3 4 3 10 3 9 3 0 3 1 3 10 3 0 3 4 3 46 3 2 3 12 3 10 3 15 3 1 3 8 3 5 3 9 3 8 3 0 3 1 3 1 3 4 3 0 3 19 3 10 3 7 3 6 3 0 3 9 3 14 3 3 3 4 3 9999"/><path d="M274 128h2484" stroke-dasharray="0 869 3 25 3 272 3 254 3 196 3 52 3 110 3 36 3 0 3 12 3 35 3 7 3 23 3 8 3 0 3 4 3 1 3 74 3 10 3 73 3 6 3 29 3 48 3 15 3 1 3 0 3 34 3 2 3 3 3 29 3 18 3 14 3 13 3 2 3 13 3 4 3 2 3 28 3 7 3 0 3 2 3 9999"/><path d="M274 130h2484" stroke-dasharray="0 930 3 49 3 11 3 48 3 263 3 190 3 95 3 73 3 50 3 12 3 10 3 6 3 68 3 28 3 6 3 12 3 3 3 7 3 32 3 18 3 22 3 8 3 20 3 4 3 12 3 0 3 20 3 41 3 2 3 21 3 4 3 16 3 10 3 30 3 10 3 8 3 4 3 1 3 3 3 11 3 32 3 1 3 2 3 7 3 4 3 1 3 6 3 32 3 1 3 2 3 7 3 35 3 9 3 16 3 9999"/><path d="M274 132h2484" stroke-dasharray="0 1019 3 10 3 98 3 63 3 204 3 38 3 287 3 29 3 7 3 61 3 10 3 21 3 45 3 18 3 19 3 29 3 8 3 2 3 22 3 41 3 15 3 16 3 26 3 13 3 29 3 14 3 3 3 24 3 14 3 5 3 7 3 5 3 3 3 25 3 0 3 18 3 1 3 12 3 4 3 4 3 17 3 6 3 5 3 15 3 7 3 4 3 3 3 9999"/><path d="M274 134h2484" stroke-dasharray="0 793 3 315 3 117 3 263 3 98 3 70 3 28 3 2 3 113 3 1 3 13 3 4 3 25 3 86 3 6 3 27 3 0 3 0 3 4 3 13 3 9 3 3 3 26 3 6 3 7 3 6 3 4 3 26 3 56 3 9 3 5 3 5 3 47 3 11 3 30 3 11 3 48 3 14 3 7 3 2 3 16 3 13 3 4 3 9999"/><path d="M274 136h2484" stroke-dasharray="0 1177 3 184 3 27 3 0 3 84 3 303 3 24 3 29 3 39 3 2 3 32 3 9 3 15 3 25 3 9 3 43 3 8 3 14 3 14 3 24 3 2 3 23 3 6 3 3 3 18 3 28 3 9 3 13 3 13 3 6 3 11 3 15 3 3 3 27 3 9 3 39 3 6 3 25 3 24 3 9 3 9999"/><path d="M274 138h2484" stroke-dasharray="0 758 3 179 3 62 3 176 3 240 3 33 3 67 3 3 3 91 3 39 3 19 3 22 3 24 3 54 3 38 3 18 3 32 3 14 3 8 3 2 3 9 3 26 3 15 3 15 3 19 3 34 3 12 3 7 3 17 3 5 3 22 3 36 3 5 3 0 3 1 3 10 3 59 3 1 3 16 3 23 3 8 3 11 3 27 3 6 3 14 3 11 3 1 3 21 3 0 3 5 3 9999"/><path d="M274 140h2484" stroke-dasharray="0 922 3 100 3 180 3 125 3 48 3 44 3 54 3 13 3 67 3 13 3 1 3 12 3 9 3 63 3 144 3 8 3 28 3 5 3 65 3 4 3 8 3 4 3 10 3 9 3 7 3 22 3 9 3 2 3 72 3 9 3 16 3 10 3 9 3 1 3 8 3 1 3 14 3 22 3 35 3 4 3 19 3 14 3 36 3 35 3 3 3 4 3 17 3 18 3 4 3 9999"/><path d="M274 142h2484" stroke-dasharray="0 786 3 185 3 123 3 286 3 86 3 37 3 25 3 67 3 3 3 54 3 15 3 53 3 24 3 5 3 12 3 28 3 22 3 1 3 11 3 1 3 30 3 76 3 9 3 3 3 8 3 8 3 0 3 15 3 10 3 20 3 9 3 11 3 4 3 1 3 20 3 2 3 4 3 8 3 2 3 18 3 7 3 2 3 4 3 5 3 10 3 25 3 0 3 10 3 22 3 4 3 30 3 1 3 23 3 13 3 1 3 26 3 4 3 4 3 1 3 1 3 9 3 9999"/><path d="M274 144h2484" stroke-dasharray="0 926 3 116 3 236 3 59 3 88 3 84 3 20 3 3 3 34 3 36 3 43 3 43 3 62 3 21 3 69 3 11 3 47 3 49 3 2 3 32 3 4 3 24 3 4 3 2 3 12 3 6 3 10 3 16 3 8 3 21 3 7 3 3 3 0 3 30 3 6 3 51 3 44 3 7 3 5 3 23 3 3 3 0 3 3 3 12 3 31 3 9 3 14 3 9999"/><path d="M274 146h2484" stroke-dasharray="0 880 3 261 3 297 3 32 3 5 3 6 3 39 3 36 3 0 3 54 3 14 3 38 3 12 3 0 3 2 3 41 3 25 3 22 3 29 3 30 3 6 3 6 3 35 3 18 3 17 3 2 3 18 3 28 3 19 3 1 3 8 3 0 3 8 3 1 3 13 3 5 3 3 3 0 3 26 3 21 3 4 3 1 3 33 3 0 3 25 3 6 3 18 3 13 3 13 3 35 3 3 3 4 3 4 3 0 3 4 3 6 3 44 3 15 3 9999"/><path d="M274 148h2484" stroke-dasharray="0 689 3 366 3 329 3 32 3 7 3 47 3 23 3 52 3 14 3 19 3 38 3 1 3 2 3 10 3 60 3 31 3 2 3 16 3 18 3 4 3 78 3 19 3 8 3 7 3 68 3 1 3 1 3 17 3 0 3 21 3 4 3 4 3 6 3 8 3 5 3 6 3 21 3 15 3 12 3 13 3 24 3 19 3 2 3 22 3 25 3 6 3 9 3 16 3 2 3 4 3 10 3 13 3 15 3 31 3 4 3 20 3 10 3 9999"/><path d="M274 150h2484" stroke-dasharray="0 882 3 37 3 67 3 41 3 168 3 101 3 110 3 34 3 44 3 24 3 15 3 19 3 4 3 8 3 16 3 9 3 17 3 3 3 5 3 1 3 3 3 13 3 3 3 19 3 1 3 15 3 3 3 22 3 9 3 13 3 7 3 38 3 2 3 0 3 7 3 25 3 23 3 0 3 16 3 7 3 12 3 0 3 8 3 0 3 2 3 8 3 12 3 11 3 12 3 0 3 11 3 2 3 5 3 13 3 3 3 29 3 2 3 1 3 18 3 2 3 0 3 39 3 26 3 9 3 5 3 5 3 3 3 13 3 7 3 0 3 10 3 5 3 0 3 4 3 2 3 2 3 2 3 2 3 25 3 15 3 2 3 36 3 33 3 9999"/><path d="M274 152h2484" stroke-dasharray="0 796 3 28 3 110 3 100 3 49 3 78 3 3 3 15 3 56 3 169 3 47 3 10 3 26 3 47 3 9 3 10 3 25 3 3 3 22 3 38 3 10 3 6 3 2 3 26 3 4 3 7 3 21 3 26 3 22 3 13 3 38 3 15 3 2 3 11 3 40 3 12 3 45 3 14 3 29 3 7 3 8 3 11 3 4 3 33 3 8 3 8 3 16 3 0 3 10 3 5 3 9 3 12 3 5 3 2 3 0 3 27 3 23 3 8 3 1 3 5 3 16 3 2 3 2 3 5 3 7 3 0 3 4 3 9 3 28 3 9999"/><path d="M274 154h2484" stroke-dasharray="0 781 3 195 3 150 3 79 3 32 3 90 3 51 3 23 3 6 3 169 3 8 3 13 3 0 3 40 3 1 3 61 3 10 3 12 3 35 3 34 3 10 3 10 3 5 3 31 3 2 3 3 3 3 3 1 3 6 3 6 3 15 3 0 3 1 3 16 3 8 3 30 3 0 3 25 3 8 3 21 3 10 3 21 3 4 3 13 3 23 3 21 3 12 3 1 3 31 3 25 3 7 3 14 3 23 3 3 3 11 3 37 3 19 3 10 3 21 3 9999"/><path d="M274 156h2484" stroke-dasharray="0 724 3 148 3 407 3 43 3 13 3 40 3 63 3 44 3 17 3 11 3 16 3 9 3 4 3 25 3 16 3 39 3 36 3 17 3 19 3 29 3 8 3 7 3 30 3 9 3 23 3 17 3 45 3 53 3 9 3 16 3 5 3 3 3 8 3 8 3 5 3 11 3 4 3 35 3 4 3 23 3 8 3 6 3 25 3 17 3 17 3 49 3 0 3 4 3 24 3 16 3 1 3 2 3 3 3 15 3 8 3 9 3 18 3 8 3 6 3 6 3 9999"/><path d="M274 158h2484" stroke-dasharray="0 840 3 194 3 115 3 57 3 25 3 24 3 9 3 2 3 28 3 24 3 6 3 44 3 26 3 21 3 29 3 25 3 3 3 31 3 16 3 29 3 47 3 33 3 16 3 38 3 104 3 4 3 9 3 1 3 4 3 23 3 15 3 27 3 0 3 55 3 19 3 5 3 7 3 8 3 18 3 5 3 47 3 15 3 2 3 12 3 61 3 11 3 17 3 4 3 8 3 1 3 17 3 5 3 18 3 4 3 0 3 18 3 11 3 30 3 1 3 18 3 6 3 9999"/><path d="M274 160h2484" stroke-dasharray="0 610 3 430 3 177 3 12 3 0 3 109 3 10 3 28 3 103 3 3 3 22 3 6 3 26 3 3 3 66 3 4 3 16 3 3 3 8 3 0 3 8 3 18 3 5 3 25 3 96 3 42 3 14 3 11 3 35 3 25 3 7 3 21 3 2 3 7 3 13 3 3 3 21 3 0 3 5 3 7 3 3 3 46 3 26 3 27 3 8 3 35 3 22 3 8 3 2 3 6 3 19 3 1 3 15 3 15 3 23 3 9 3 5 3 4 3 5 3 12 3 2 3 9999"/><path d="M274 162h2484" stroke-dasharray="0 1136 3 173 3 38 3 7 3 14 3 52 3 2 3 0 3 4 3 9 3 42 3 1 3 2 3 1 3 5 3 4 3 4 3 42 3 23 3 41 3 14 3 6 3 17 3 8 3 9 3 29 3 10 3 18 3 7 3 75 3 8 3 19 3 4 3 0 3 3 3 6 3 21 3 7 3 14 3 41 3 69 3 1 3 1 3 4 3 3 3 33 3 2 3 8 3 5 3 25 3 68 3 12 3 17 3 2 3 5 3 3 3 13 3 42 3 1 3 0 3 7 3 12 3 26 3 7 3 9999"/><path d="M274 164h2484" stroke-dasharray="0 892 3 229 3 96 3 3 3 71 3 39 3 0 3 48 3 36 3 8 3 18 3 15 3 87 3 64 3 1 3 60 3 1 3 11 3 85 3 23 3 4 3 32 3 49 3 17 3 20 3 37 3 24 3 7 3 8 3 5 3 13 3 29 3 0 3 2 3 22 3 25 3 0 3 17 3 4 3 1 3 22 3 54 3 0 3 11 3 3 3 18 3 0 3 10 3 37 3 1 3 1 3 6 3 33 3 5 3 6 3 9999"/><path d="M274 166h2484" stroke-dasharray="0 1065 3 115 3 33 3 66 3 50 3 20 3 5 3 20 3 26 3 2 3 50 3 8 3 49 3 7 3 15 3 71 3 34 3 9 3 46 3 98 3 5 3 4 3 17 3 20 3 34 3 13 3 96 3 22 3 5 3 1 3 36 3 5 3 16 3 9 3 1 3 9 3 4 3 13 3 3 3 0 3 12 3 75 3 2 3 12 3 2 3 7 3 52 3 26 3 17 3 12 3 9999"/><path d="M274 168h2484" stroke-dasharray="0 885 3 239 3 59 3 67 3 17 3 9 3 3 3 17 3 17 3 13 3 12 3 62 3 18 3 24 3 5 3 13 3 5 3 4 3 37 3 4 3 0 3 9 3 5 3 7 3 48 3 3 3 8 3 13 3 0 3 1 3 18 3 8 3 1 3 8 3 16 3 17 3 0 3 35 3 15 3 16 3 92 3 4 3 5 3 98 3 6 3 33 3 8 3 35 3 24 3 32 3 6 3 23 3 6 3 13 3 8 3 2 3 30 3 45 3 10 3 5 3 1 3 12 3 9999"/><path d="M274 170h2484" stroke-dasharray="0 874 3 396 3 43 3 23 3 49 3 26 3 15 3 11 3 10 3 71 3 39 3 9 3 50 3 71 3 10 3 51 3 1 3 32 3 99 3 0 3 30 3 4 3 23 3 15 3 2 3 26 3 26 3 42 3 9 3 34 3 12 3 19 3 23 3 10 3 13 3 27 3 77 3 12 3 15 3 7 3 9 3 1 3 0 3 17 3 9999"/><path d="M274 172h2484" stroke-dasharray="0 1677 3 713 3 7 3 27 3 9999"/><path d="M274 174h2484" stroke-dasharray="0 897 3 1 3 62 3 2 3 234 3 51 3 46 3 11 3 8 3 5 3 46 3 21 3 17 3 27 3 9 3 22 3 3 3 0 3 12 3 5 3 18 3 15 3 10 3 56 3 0 3 0 3 9 3 10 3 3 3 21 3 4 3 3 3 13 3 1 3 1 3 0 3 27 3 3 3 30 3 17 3 36 3 15 3 1 3 8 3 15 3 12 3 6 3 34 3 3 3 35 3 67 3 0 3 61 3 0 3 35 3 24 3 30 3 21 3 0 3 9 3 4 3 19 3 15 3 32 3 8 3 4 3 41 3 9999"/><path d="M274 176h2484" stroke-dasharray="0 1063 3 274 3 20 3 5 3 14 3 24 3 1 3 19 3 30 3 9 3 1 3 0 3 9 3 11 3 1 3 3 3 0 3 0 3 4 3 15 3 0 3 39 3 4 3 2 3 1 3 11 3 9 3 18 3 21 3 5 3 23 3 1 3 16 3 1 3 3 3 1 3 10 3 1 3 5 3 0 3 0 3 1 3 4 3 16 3 9 3 11 3 2 3 15 3 23 3 21 3 3 3 6 3 11 3 2 3 10 3 4 3 3 3 1 3 3 3 6 3 82 3 1 3 3 3 24 3 3 3 15 3 4 3 3 3 31 3 0 3 2 3 44 3 8 3 9 3 33 3 12 3 27 3 6 3 2 3 3 3 6 3 0 3 17 3 20 3 24 3 7 3 4 3 9999"/><path d="M274 178h2484" stroke-dasharray="0 930 3 0 3 197 3 225 3 6 3 12 3 9 3 37 3 2 3 2 3 3 3 27 3 3 3 9 3 2 3 9 3 18 3 0 3 8 3 18 3 12 3 5 3 36 3 14 3 6 3 20 3 2 3 12 3 8 3 5 3 24 3 1 3 10 3 17 3 6 3 12 3 12 3 2 3 22 3 0 3 5 3 7 3 3 3 1 3 8 3 13 3 1 3 10 3 7 3 4 3 44 3 2 3 8 3 8 3 12 3 19 3 7 3 31 3 12 3 4 3 18 3 15 3 13 3 9 3 2 3 35 3 17 3 20 3 0 3 22 3 1 3 0 3 0 3 12 3 40 3 40 3 16 3 8 3 1 3 18 3 9999"/><path d="M274 180h2484" stroke-dasharray="0 1301 3 10 3 3 3 32 3 47 3 2 3 10 3 11 3 1 3 39 3 8 3 52 3 16 3 19 3 19 3 15 3 7 3 4 3 27 3 5 3 6 3 1 3 5 3 2 3 7 3 4 3 5 3 0 3 22 3 2 3 3 3 9 3 9 3 10 3 18 3 5 3 1 3 1 3 4 3 22 3 42 3 22 3 13 3 8 3 4 3 32 3 22 3 78 3 10 3 3 3 1 3 23 3 5 3 33 3 17 3 4 3 2 3 7 3 13 3 35 3 1 3 2 3 12 3 3 3 0 3 5 3 31 3 7 3 38 3 28 3 9999"/><path d="M274 182h2484" stroke-dasharray="0 1298 3 48 3 66 3 23 3 1 3 26 3 1 3 6 3 1 3 14 3 5 3 8 3 35 3 20 3 9 3 39 3 12 3 24 3 5 3 9 3 10 3 37 3 7 3 14 3 21 3 5 3 25 3 11 3 1 3 25 3 49 3 11 3 73 3 37 3 30 3 88 3 56 3 25 3 47 3 67 3 39 3 3 3 9999"/><path d="M274 184h2484" stroke-dasharray="0 1257 3 16 3 9 3 34 3 22 3 28 3 26 3 12 3 7 3 14 3 69 3 9 3 151 3 43 3 125 3 70 3 72 3 36 3 28 3 23 3 35 3 19 3 33 3 15 3 8 3 27 3 2 3 51 3 36 3 15 3 10 3 21 3 17 3 9999"/><path d="M274 186h2484" stroke-dasharray="0 1329 3 1 3 159 3 55 3 0 3 42 3 123 3 46 3 29 3 49 3 12 3 26 3 88 3 102 3 46 3 60 3 195 3 29 3 9999"/><path d="M274 188h2484" stroke-dasharray="0 1304 3 271 3 28 3 34 3 123 3 53 3 22 3 122 3 453 3 9999"/><path d="M274 190h2484" stroke-dasharray="0 1415 3 28 3 98 3 269 3 160 3 207 3 16 3 38 3 150 3 61 3 9999"/><path d="M274 192h2484" stroke-dasharray="0 1734 3 717 3 9999"/><path d="M274 194h2484" stroke-dasharray="0 1828 3 9999"/><path d="M274 220h2484" stroke-dasharray="0 968 3 127 3 397 3 625 3 145 3 34 3 22 3 94 3 9999"/><path d="M274 222h2484" stroke-dasharray="0 842 3 96 3 409 3 230 3 443 3 178 3 175 3 71 3 9999"/><path d="M274 224h2484" stroke-dasharray="0 861 3 60 3 37 3 105 3 645 3 68 3 169 3 44 3 31 3 97 3 105 3 28 3 73 3 80 3 9999"/><path d="M274 226h2484" stroke-dasharray="0 880 3 90 3 1098 3 45 3 53 3 57 3 27 3 95 3 10 3 34 3 26 3 9999"/><path d="M274 228h2484" stroke-dasharray="0 710 3 1483 3 14 3 26 3 9 3 143 3 12 3 56 3 9999"/><path d="M274 230h2484" stroke-dasharray="0 917 3 158 3 177 3 128 3 454 3 88 3 110 3 14 3 35 3 168 3 3 3 15 3 89 3 33 3 12 3 9999"/><path d="M274 232h2484" stroke-dasharray="0 1162 3 775 3 133 3 55 3 78 3 177 3 9999"/><path d="M274 234h2484" stroke-dasharray="0 779 3 433 3 81 3 121 3 170 3 255 3 348 3 10 3 27 3 31 3 122 3 10 3 2 3 43 3 9999"/><path d="M274 236h2484" stroke-dasharray="0 904 3 108 3 118 3 739 3 113 3 44 3 78 3 146 3 16 3 1 3 19 3 105 3 2 3 34 3 9999"/><path d="M274 238h2484" stroke-dasharray="0 1096 3 821 3 115 3 229 3 72 3 14 3 6 3 27 3 2 3 52 3 9999"/><path d="M274 240h2484" stroke-dasharray="0 821 3 153 3 146 3 730 3 16 3 2 3 161 3 29 3 213 3 59 3 29 3 0 3 29 3 5 3 15 3 21 3 9999"/><path d="M274 242h2484" stroke-dasharray="0 1935 3 205 3 177 3 12 3 56 3 0 3 3 3 4 3 20 3 14 3 11 3 2 3 9999"/><path d="M274 244h2484" stroke-dasharray="0 1140 3 876 3 110 3 150 3 49 3 0 3 44 3 27 3 11 3 14 3 20 3 9999"/><path d="M274 246h2484" stroke-dasharray="0 870 3 52 3 641 3 188 3 223 3 64 3 20 3 21 3 43 3 23 3 7 3 62 3 55 3 17 3 34 3 9999"/><path d="M274 248h2484" stroke-dasharray="0 960 3 180 3 118 3 610 3 352 3 61 3 26 3 19 3 19 3 3 3 22 3 37 3 0 3 9999"/><path d="M274 250h2484" stroke-dasharray="0 1269 3 681 3 28 3 27 3 4 3 45 3 13 3 123 3 16 3 19 3 85 3 2 3 6 3 4 3 1 3 26 3 9999"/><path d="M274 252h2484" stroke-dasharray="0 942 3 480 3 392 3 309 3 138 3 32 3 3 3 44 3 108 3 9999"/><path d="M274 254h2484" stroke-dasharray="0 1125 3 82 3 808 3 116 3 164 3 0 3 21 3 7 3 18 3 5 3 45 3 15 3 13 3 3 3 9999"/><path d="M274 256h2484" stroke-dasharray="0 884 3 184 3 32 3 85 3 695 3 32 3 7 3 82 3 67 3 104 3 12 3 14 3 4 3 25 3 35 3 9999"/><path d="M274 258h2484" stroke-dasharray="0 867 3 1108 3 36 3 32 3 26 3 45 3 105 3 38 3 36 3 0 3 26 3 14 3 4 3 28 3 23 3 2 3 21 3 8 3 9999"/><path d="M274 260h2484" stroke-dasharray="0 1228 3 136 3 20 3 371 3 218 3 52 3 199 3 53 3 53 3 19 3 7 3 40 3 36 3 9999"/><path d="M274 262h2484" stroke-dasharray="0 991 3 205 3 167 3 479 3 81 3 107 3 38 3 249 3 50 3 12 3 8 3 2 3 4 3 16 3 16 3 9999"/><path d="M274 264h2484" stroke-dasharray="0 908 3 140 3 21 3 544 3 271 3 42 3 132 3 68 3 54 3 20 3 76 3 40 3 37 3 22 3 8 3 15 3 26 3 9999"/><path d="M274 266h2484" stroke-dasharray="0 1170 3 27 3 63 3 137 3 294 3 371 3 81 3 43 3 10 3 69 3 4 3 6 3 26 3 16 3 7 3 10 3 46 3 9999"/><path d="M274 268h2484" stroke-dasharray="0 908 3 32 3 16 3 207 3 45 3 791 3 29 3 146 3 74 3 26 3 7 3 8 3 55 3 38 3 9999"/><path d="M274 270h2484" stroke-dasharray="0 850 3 241 3 68 3 177 3 255 3 67 3 233 3 101 3 75 3 42 3 30 3 44 3 96 3 44 3 23 3 18 3 28 3 6 3 19 3 9999"/><path d="M274 272h2484" stroke-dasharray="0 791 3 204 3 53 3 284 3 430 3 234 3 25 3 25 3 2 3 64 3 123 3 6 3 63 3 15 3 39 3 64 3 5 3 9999"/><path d="M274 274h2484" stroke-dasharray="0 888 3 110 3 116 3 16 3 801 3 45 3 76 3 15 3 34 3 6 3 13 3 11 3 31 3 14 3 15 3 1 3 13 3 18 3 62 3 9 3 30 3 34 3 24 3 13 3 4 3 0 3 9999"/><path d="M274 276h2484" stroke-dasharray="0 856 3 112 3 520 3 578 3 73 3 28 3 1 3 13 3 11 3 60 3 85 3 39 3 28 3 9999"/><path d="M274 278h2484" stroke-dasharray="0 917 3 317 3 527 3 237 3 40 3 5 3 32 3 56 3 24 3 80 3 56 3 41 3 22 3 19 3 39 3 9999"/><path d="M274 280h2484" stroke-dasharray="0 934 3 30 3 238 3 878 3 1 3 62 3 6 3 43 3 3 3 4 3 7 3 72 3 20 3 52 3 6 3 16 3 20 3 1 3 19 3 9999"/><path d="M274 282h2484" stroke-dasharray="0 1025 3 627 3 369 3 8 3 5 3 12 3 22 3 1 3 36 3 95 3 21 3 8 3 33 3 7 3 4 3 20 3 6 3 10 3 0 3 22 3 10 3 17 3 3 3 13 3 12 3 3 3 9999"/><path d="M274 284h2484" stroke-dasharray="0 825 3 164 3 10 3 125 3 15 3 179 3 196 3 577 3 3 3 27 3 90 3 54 3 8 3 39 3 7 3 78 3 9999"/><path d="M274 286h2484" stroke-dasharray="0 858 3 59 3 140 3 834 3 5 3 90 3 62 3 116 3 11 3 58 3 5 3 32 3 57 3 0 3 2 3 24 3 18 3 0 3 8 3 1 3 16 3 3 3 3 3 9999"/><path d="M274 288h2484" stroke-dasharray="0 938 3 997 3 7 3 99 3 45 3 0 3 123 3 23 3 68 3 28 3 24 3 18 3 0 3 31 3 1 3 10 3 10 3 9999"/><path d="M274 290h2484" stroke-dasharray="0 848 3 102 3 123 3 21 3 780 3 22 3 99 3 45 3 37 3 1 3 104 3 10 3 16 3 21 3 7 3 6 3 8 3 1 3 25 3 8 3 6 3 0 3 28 3 6 3 23 3 38 3 9 3 9999"/><path d="M274 292h2484" stroke-dasharray="0 892 3 16 3 0 3 22 3 177 3 442 3 351 3 3 3 49 3 8 3 22 3 56 3 2 3 27 3 16 3 79 3 35 3 12 3 37 3 14 3 29 3 43 3 5 3 37 3 14 3 11 3 9999"/><path d="M274 294h2484" stroke-dasharray="0 1019 3 66 3 6 3 27 3 263 3 485 3 62 3 6 3 81 3 69 3 71 3 31 3 50 3 22 3 8 3 18 3 11 3 1 3 40 3 9 3 29 3 9 3 20 3 3 3 9999"/><path d="M274 296h2484" stroke-dasharray="0 909 3 155 3 92 3 522 3 287 3 86 3 7 3 151 3 15 3 6 3 7 3 30 3 10 3 38 3 16 3 61 3 8 3 4 3 9999"/><path d="M274 298h2484" stroke-dasharray="0 759 3 281 3 312 3 624 3 51 3 18 3 2 3 37 3 5 3 40 3 54 3 13 3 10 3 10 3 76 3 72 3 14 3 9999"/><path d="M274 300h2484" stroke-dasharray="0 919 3 78 3 92 3 974 3 16 3 57 3 55 3 11 3 46 3 18 3 39 3 14 3 25 3 6 3 17 3 2 3 36 3 9 3 9999"/><path d="M274 302h2484" stroke-dasharray="0 880 3 39 3 78 3 52 3 107 3 355 3 308 3 20 3 84 3 5 3 30 3 4 3 55 3 7 3 6 3 3 3 32 3 6 3 59 3 21 3 13 3 12 3 45 3 94 3 22 3 22 3 25 3 9999"/><path d="M274 304h2484" stroke-dasharray="0 758 3 98 3 236 3 123 3 718 3 1 3 6 3 77 3 26 3 56 3 61 3 39 3 34 3 21 3 21 3 4 3 19 3 19 3 22 3 19 3 8 3 11 3 3 3 4 3 17 3 9999"/><path d="M274 306h2484" stroke-dasharray="0 849 3 49 3 3 3 269 3 119 3 416 3 172 3 82 3 6 3 42 3 68 3 54 3 24 3 40 3 2 3 12 3 6 3 57 3 11 3 4 3 6 3 4 3 6 3 7 3 27 3 8 3 5 3 13 3 7 3 7 3 4 3 9999"/><path d="M274 308h2484" stroke-dasharray="0 907 3 16 3 31 3 21 3 69 3 83 3 181 3 477 3 82 3 130 3 5 3 9 3 48 3 47 3 22 3 2 3 33 3 50 3 0 3 3 3 5 3 16 3 0 3 3 3 22 3 10 3 14 3 11 3 12 3 14 3 24 3 12 3 15 3 9999"/><path d="M274 310h2484" stroke-dasharray="0 926 3 37 3 32 3 910 3 125 3 14 3 14 3 11 3 3 3 52 3 67 3 10 3 20 3 2 3 7 3 12 3 41 3 34 3 21 3 32 3 4 3 24 3 2 3 9999"/><path d="M274 312h2484" stroke-dasharray="0 896 3 61 3 241 3 27 3 514 3 47 3 199 3 0 3 25 3 155 3 19 3 35 3 10 3 46 3 4 3 4 3 5 3 7 3 35 3 8 3 43 3 16 3 6 3 9999"/><path d="M274 314h2484" stroke-dasharray="0 904 3 71 3 190 3 55 3 36 3 191 3 434 3 58 3 34 3 15 3 11 3 18 3 15 3 11 3 29 3 68 3 1 3 13 3 12 3 6 3 8 3 1 3 1 3 19 3 4 3 14 3 51 3 39 3 3 3 1 3 18 3 1 3 19 3 2 3 13 3 9999"/><path d="M274 316h2484" stroke-dasharray="0 1071 3 5 3 146 3 128 3 218 3 208 3 75 3 41 3 99 3 11 3 0 3 19 3 6 3 5 3 12 3 27 3 47 3 8 3 10 3 6 3 0 3 8 3 17 3 17 3 49 3 14 3 22 3 20 3 12 3 7 3 13 3 2 3 0 3 4 3 9999"/><path d="M274 318h2484" stroke-dasharray="0 836 3 82 3 16 3 6 3 122 3 339 3 153 3 278 3 12 3 77 3 13 3 5 3 35 3 0 3 1 3 28 3 99 3 18 3 33 3 17 3 5 3 17 3 35 3 16 3 17 3 20 3 1 3 16 3 10 3 4 3 14 3 6 3 12 3 1 3 2 3 1 3 6 3 9999"/><path d="M274 320h2484" stroke-dasharray="0 910 3 49 3 62 3 55 3 112 3 675 3 2 3 27 3 43 3 0 3 10 3 59 3 4 3 41 3 15 3 21 3 13 3 23 3 60 3 14 3 2 3 10 3 16 3 11 3 5 3 0 3 10 3 19 3 19 3 1 3 2 3 8 3 8 3 2 3 24 3 18 3 16 3 9999"/><path d="M274 322h2484" stroke-dasharray="0 916 3 83 3 113 3 111 3 508 3 74 3 0 3 58 3 2 3 3 3 59 3 15 3 6 3 34 3 52 3 21 3 4 3 2 3 15 3 14 3 10 3 29 3 0 3 4 3 13 3 35 3 16 3 5 3 12 3 1 3 1 3 4 3 8 3 9 3 19 3 27 3 0 3 1 3 29 3 14 3 2 3 9999"/><path d="M274 324h2484" stroke-dasharray="0 939 3 45 3 182 3 149 3 20 3 499 3 7 3 8 3 42 3 22 3 63 3 2 3 10 3 9 3 40 3 17 3 12 3 9 3 9 3 34 3 12 3 16 3 18 3 0 3 16 3 15 3 8 3 17 3 42 3 10 3 35 3 2 3 1 3 45 3 18 3 9999"/><path d="M274 326h2484" stroke-dasharray="0 706 3 183 3 88 3 46 3 100 3 528 3 171 3 31 3 33 3 2 3 40 3 12 3 33 3 36 3 32 3 8 3 2 3 9 3 25 3 24 3 69 3 39 3 15 3 64 3 0 3 4 3 69 3 6 3 5 3 6 3 9999"/><path d="M274 328h2484" stroke-dasharray="0 840 3 19 3 0 3 127 3 112 3 41 3 266 3 485 3 2 3 24 3 4 3 3 3 26 3 3 3 29 3 0 3 38 3 33 3 60 3 5 3 80 3 12 3 43 3 22 3 4 3 3 3 9 3 3 3 1 3 12 3 10 3 25 3 22 3 9999"/><path d="M274 330h2484" stroke-dasharray="0 982 3 740 3 83 3 93 3 2 3 4 3 7 3 24 3 22 3 2 3 5 3 0 3 4 3 1 3 31 3 97 3 10 3 3 3 25 3 23 3 12 3 1 3 4 3 23 3 9 3 0 3 38 3 11 3 0 3 12 3 14 3 29 3 1 3 1 3 32 3 2 3 5 3 0 3 9999"/><path d="M274 332h2484" stroke-dasharray="0 937 3 24 3 275 3 612 3 40 3 29 3 49 3 48 3 31 3 75 3 7 3 21 3 3 3 56 3 13 3 10 3 19 3 21 3 44 3 1 3 53 3 5 3 21 3 10 3 9999"/><path d="M274 334h2484" stroke-dasharray="0 937 3 142 3 226 3 189 3 233 3 53 3 83 3 17 3 28 3 35 3 41 3 2 3 13 3 16 3 7 3 28 3 21 3 0 3 36 3 30 3 8 3 33 3 3 3 9 3 6 3 5 3 31 3 1 3 12 3 5 3 15 3 1 3 3 3 0 3 23 3 13 3 4 3 8 3 11 3 13 3 9999"/><path d="M274 336h2484" stroke-dasharray="0 886 3 40 3 107 3 54 3 84 3 38 3 530 3 15 3 33 3 4 3 12 3 17 3 18 3 14 3 7 3 95 3 18 3 0 3 63 3 20 3 3 3 13 3 1 3 22 3 32 3 36 3 11 3 32 3 18 3 26 3 13 3 2 3 18 3 2 3 17 3 2 3 0 3 26 3 26 3 9999"/><path d="M274 338h2484" stroke-dasharray="0 871 3 545 3 195 3 175 3 12 3 46 3 25 3 5 3 6 3 57 3 21 3 39 3 0 3 23 3 11 3 2 3 0 3 18 3 7 3 30 3 48 3 19 3 24 3 5 3 10 3 28 3 8 3 4 3 3 3 4 3 4 3 8 3 15 3 0 3 21 3 15 3 6 3 5 3 3 3 6 3 0 3 5 3 9999"/><path d="M274 340h2484" stroke-dasharray="0 1276 3 141 3 349 3 9 3 27 3 94 3 6 3 2 3 8 3 13 3 102 3 14 3 47 3 22 3 36 3 10 3 34 3 39 3 6 3 17 3 3 3 26 3 1 3 5 3 63 3 11 3 10 3 9999"/><path d="M274 342h2484" stroke-dasharray="0 999 3 48 3 30 3 32 3 135 3 57 3 15 3 430 3 39 3 43 3 15 3 21 3 25 3 3 3 5 3 21 3 74 3 24 3 2 3 17 3 8 3 10 3 4 3 23 3 2 3 3 3 5 3 15 3 19 3 14 3 32 3 2 3 4 3 20 3 37 3 0 3 6 3 6 3 45 3 3 3 40 3 17 3 9999"/><path d="M274 344h2484" stroke-dasharray="0 822 3 131 3 53 3 219 3 556 3 41 3 29 3 21 3 49 3 40 3 16 3 31 3 0 3 7 3 37 3 17 3 16 3 20 3 6 3 61 3 0 3 30 3 20 3 35 3 10 3 6 3 2 3 4 3 19 3 7 3 0 3 1 3 5 3 7 3 2 3 4 3 35 3 9999"/><path d="M274 346h2484" stroke-dasharray="0 790 3 154 3 261 3 498 3 38 3 152 3 10 3 4 3 33 3 36 3 30 3 9 3 44 3 46 3 16 3 15 3 43 3 18 3 44 3 10 3 2 3 2 3 7 3 0 3 14 3 1 3 31 3 0 3 4 3 16 3 7 3 13 3 19 3 7 3 9999"/><path d="M274 348h2484" stroke-dasharray="0 802 3 14 3 109 3 13 3 124 3 617 3 18 3 31 3 39 3 18 3 16 3 21 3 19 3 2 3 0 3 13 3 24 3 21 3 97 3 1 3 9 3 8 3 25 3 1 3 6 3 17 3 19 3 5 3 51 3 9 3 29 3 65 3 12 3 3 3 0 3 7 3 17 3 54 3 4 3 4 3 9999"/><path d="M274 350h2484" stroke-dasharray="0 842 3 129 3 58 3 362 3 149 3 252 3 40 3 19 3 8 3 21 3 55 3 0 3 9 3 0 3 5 3 16 3 18 3 6 3 17 3 31 3 15 3 27 3 80 3 75 3 3 3 12 3 1 3 17 3 5 3 20 3 29 3 2 3 15 3 7 3 15 3 9999"/><path d="M274 352h2484" stroke-dasharray="0 839 3 77 3 52 3 337 3 91 3 83 3 8 3 8 3 154 3 69 3 1 3 17 3 54 3 27 3 26 3 37 3 10 3 43 3 49 3 51 3 4 3 44 3 0 3 62 3 1 3 6 3 3 3 23 3 2 3 4 3 40 3 44 3 1 3 15 3 0 3 15 3 0 3 4 3 6 3 1 3 13 3 1 3 27 3 9999"/><path d="M274 354h2484" stroke-dasharray="0 733 3 525 3 261 3 15 3 60 3 27 3 73 3 31 3 99 3 4 3 94 3 0 3 0 3 0 3 13 3 5 3 6 3 5 3 3 3 52 3 39 3 4 3 0 3 2 3 8 3 23 3 39 3 19 3 9 3 24 3 1 3 24 3 1 3 29 3 22 3 27 3 85 3 9999"/><path d="M274 356h2484" stroke-dasharray="0 797 3 61 3 82 3 565 3 185 3 5 3 1 3 21 3 33 3 1 3 42 3 11 3 10 3 28 3 21 3 10 3 1 3 23 3 17 3 76 3 16 3 15 3 9 3 37 3 20 3 1 3 27 3 4 3 7 3 6 3 25 3 28 3 20 3 1 3 8 3 30 3 0 3 8 3 17 3 0 3 9 3 8 3 3 3 0 3 10 3 18 3 1 3 0 3 9999"/><path d="M274 358h2484" stroke-dasharray="0 972 3 129 3 47 3 35 3 460 3 6 3 79 3 8 3 3 3 8 3 59 3 37 3 11 3 30 3 51 3 8 3 74 3 3 3 14 3 1 3 9 3 21 3 2 3 17 3 5 3 48 3 19 3 2 3 26 3 6 3 14 3 16 3 8 3 25 3 2 3 9 3 4 3 1 3 49 3 2 3 9999"/><path d="M274 360h2484" stroke-dasharray="0 980 3 125 3 310 3 11 3 65 3 103 3 115 3 32 3 57 3 87 3 55 3 16 3 9 3 25 3 14 3 21 3 8 3 13 3 2 3 10 3 1 3 40 3 70 3 2 3 32 3 43 3 3 3 0 3 8 3 2 3 15 3 5 3 11 3 5 3 18 3 7 3 8 3 11 3 11 3 9999"/><path d="M274 362h2484" stroke-dasharray="0 738 3 302 3 261 3 87 3 105 3 67 3 113 3 3 3 31 3 3 3 48 3 4 3 31 3 125 3 24 3 47 3 3 3 0 3 24 3 17 3 7 3 7 3 11 3 28 3 28 3 3 3 3 3 49 3 23 3 1 3 31 3 11 3 29 3 12 3 6 3 10 3 2 3 13 3 9999"/><path d="M274 364h2484" stroke-dasharray="0 935 3 155 3 274 3 43 3 86 3 24 3 9 3 12 3 17 3 23 3 17 3 26 3 9 3 25 3 13 3 7 3 49 3 7 3 20 3 52 3 2 3 15 3 5 3 75 3 0 3 1 3 83 3 18 3 7 3 30 3 65 3 10 3 0 3 13 3 2 3 5 3 11 3 7 3 26 3 17 3 2 3 21 3 13 3 37 3 9 3 7 3 2 3 6 3 3 3 11 3 19 3 9999"/><path d="M274 366h2484" stroke-dasharray="0 1034 3 66 3 194 3 75 3 70 3 47 3 17 3 48 3 88 3 32 3 154 3 30 3 0 3 10 3 45 3 20 3 11 3 5 3 16 3 19 3 9 3 69 3 40 3 6 3 4 3 7 3 0 3 103 3 25 3 8 3 31 3 11 3 14 3 24 3 16 3 1 3 0 3 0 3 9999"/><path d="M274 368h2484" stroke-dasharray="0 1010 3 138 3 103 3 30 3 67 3 7 3 134 3 36 3 80 3 4 3 22 3 38 3 31 3 20 3 56 3 28 3 18 3 8 3 0 3 16 3 16 3 13 3 5 3 3 3 49 3 36 3 18 3 19 3 4 3 4 3 3 3 2 3 1 3 47 3 13 3 82 3 3 3 0 3 1 3 8 3 30 3 4 3 14 3 5 3 8 3 6 3 0 3 7 3 11 3 4 3 0 3 0 3 18 3 0 3 25 3 9999"/><path d="M274 370h2484" stroke-dasharray="0 1008 3 170 3 44 3 27 3 34 3 59 3 19 3 143 3 60 3 111 3 6 3 4 3 0 3 8 3 32 3 9 3 11 3 0 3 78 3 13 3 6 3 60 3 6 3 65 3 8 3 20 3 13 3 3 3 45 3 1 3 5 3 26 3 0 3 19 3 1 3 4 3 5 3 21 3 22 3 0 3 14 3 15 3 13 3 5 3 15 3 40 3 1 3 23 3 22 3 6 3 9999"/><path d="M274 372h2484" stroke-dasharray="0 854 3 44 3 106 3 225 3 7 3 59 3 16 3 8 3 148 3 17 3 71 3 6 3 10 3 26 3 7 3 76 3 84 3 9 3 33 3 1 3 58 3 66 3 8 3 13 3 29 3 21 3 7 3 58 3 7 3 55 3 20 3 26 3 3 3 30 3 3 3 3 3 31 3 8 3 22 3 2 3 4 3 9 3 7 3 35 3 7 3 9999"/><path d="M274 374h2484" stroke-dasharray="0 778 3 37 3 56 3 34 3 2 3 125 3 36 3 115 3 42 3 1 3 98 3 169 3 75 3 1 3 0 3 33 3 37 3 26 3 1 3 25 3 31 3 21 3 73 3 54 3 0 3 1 3 0 3 27 3 12 3 10 3 13 3 20 3 11 3 1 3 25 3 5 3 28 3 5 3 37 3 4 3 11 3 4 3 45 3 14 3 23 3 5 3 13 3 3 3 40 3 33 3 9 3 12 3 31 3 3 3 9999"/><path d="M274 376h2484" stroke-dasharray="0 1037 3 393 3 86 3 14 3 16 3 2 3 29 3 11 3 53 3 28 3 13 3 3 3 7 3 9 3 7 3 17 3 4 3 62 3 28 3 13 3 7 3 15 3 8 3 8 3 25 3 9 3 2 3 21 3 28 3 9 3 1 3 30 3 9 3 12 3 7 3 5 3 21 3 2 3 42 3 13 3 16 3 12 3 19 3 7 3 40 3 16 3 11 3 32 3 30 3 7 3 19 3 3 3 9999"/><path d="M274 378h2484" stroke-dasharray="0 927 3 179 3 62 3 117 3 17 3 7 3 54 3 28 3 2 3 95 3 52 3 2 3 60 3 1 3 9 3 30 3 32 3 15 3 17 3 36 3 2 3 84 3 40 3 46 3 15 3 16 3 39 3 0 3 15 3 15 3 17 3 11 3 15 3 6 3 46 3 23 3 40 3 4 3 34 3 38 3 47 3 11 3 6 3 26 3 9999"/><path d="M274 380h2484" stroke-dasharray="0 883 3 148 3 63 3 71 3 77 3 10 3 15 3 29 3 43 3 64 3 6 3 7 3 4 3 8 3 0 3 63 3 1 3 2 3 28 3 25 3 46 3 16 3 26 3 42 3 14 3 72 3 37 3 19 3 31 3 16 3 3 3 14 3 4 3 15 3 106 3 98 3 12 3 22 3 38 3 0 3 0 3 0 3 10 3 12 3 1 3 39 3 35 3 4 3 13 3 29 3 1 3 9999"/><path d="M274 382h2484" stroke-dasharray="0 1166 3 22 3 55 3 94 3 14 3 8 3 1 3 87 3 17 3 12 3 2 3 11 3 42 3 2 3 18 3 41 3 16 3 23 3 26 3 18 3 62 3 33 3 0 3 89 3 8 3 28 3 14 3 2 3 19 3 25 3 18 3 10 3 3 3 10 3 3 3 17 3 26 3 24 3 14 3 5 3 6 3 21 3 10 3 6 3 35 3 8 3 2 3 5 3 3 3 1 3 37 3 20 3 18 3 13 3 10 3 13 3 9999"/><path d="M274 384h2484" stroke-dasharray="0 1098 3 174 3 8 3 24 3 1 3 8 3 3 3 44 3 42 3 6 3 12 3 15 3 20 3 4 3 32 3 30 3 2 3 5 3 25 3 14 3 22 3 30 3 33 3 11 3 119 3 31 3 13 3 22 3 17 3 50 3 1 3 40 3 72 3 6 3 6 3 4 3 2 3 34 3 4 3 2 3 9 3 14 3 0 3 21 3 46 3 5 3 4 3 6 3 13 3 19 3 41 3 9999"/><path d="M274 386h2484" stroke-dasharray="0 741 3 107 3 121 3 17 3 58 3 151 3 46 3 62 3 88 3 18 3 6 3 53 3 10 3 7 3 8 3 13 3 4 3 27 3 33 3 1 3 32 3 38 3 38 3 7 3 67 3 28 3 4 3 12 3 4 3 15 3 85 3 10 3 11 3 40 3 7 3 10 3 5 3 4 3 46 3 65 3 161 3 19 3 23 3 17 3 8 3 6 3 9999"/><path d="M274 388h2484" stroke-dasharray="0 846 3 215 3 98 3 58 3 70 3 44 3 159 3 119 3 27 3 5 3 21 3 105 3 21 3 19 3 6 3 49 3 8 3 16 3 73 3 15 3 51 3 162 3 9 3 39 3 140 3 2 3 9999"/><path d="M274 390h2484" stroke-dasharray="0 871 3 214 3 157 3 341 3 417 3 9999"/><path d="M274 392h2484" stroke-dasharray="0 926 3 8 3 251 3 87 3 18 3 19 3 12 3 12 3 18 3 1 3 13 3 15 3 6 3 10 3 6 3 4 3 13 3 16 3 28 3 43 3 2 3 23 3 3 3 9 3 1 3 4 3 11 3 4 3 8 3 2 3 3 3 3 3 30 3 0 3 2 3 11 3 10 3 17 3 11 3 2 3 11 3 5 3 5 3 2 3 13 3 10 3 8 3 3 3 3 3 10 3 16 3 2 3 4 3 2 3 38 3 6 3 14 3 16 3 28 3 1 3 0 3 4 3 9 3 2 3 1 3 0 3 37 3 26 3 34 3 2 3 0 3 0 3 0 3 0 3 30 3 4 3 0 3 3 3 8 3 2 3 5 3 2 3 23 3 8 3 37 3 15 3 3 3 24 3 19 3 22 3 3 3 0 3 4 3 9999"/><path d="M274 394h2484" stroke-dasharray="0 1097 3 192 3 10 3 21 3 5 3 6 3 12 3 27 3 2 3 26 3 20 3 2 3 5 3 1 3 3 3 1 3 1 3 0 3 6 3 8 3 31 3 3 3 15 3 1 3 13 3 5 3 7 3 15 3 0 3 9 3 10 3 3 3 1 3 33 3 33 3 36 3 16 3 15 3 2 3 0 3 2 3 13 3 7 3 10 3 5 3 10 3 15 3 8 3 6 3 10 3 8 3 5 3 25 3 1 3 0 3 13 3 1 3 7 3 17 3 6 3 31 3 6 3 15 3 9 3 5 3 4 3 1 3 18 3 57 3 3 3 24 3 6 3 7 3 14 3 22 3 9 3 5 3 5 3 6 3 9 3 26 3 4 3 17 3 3 3 4 3 26 3 2 3 9999"/><path d="M274 396h2484" stroke-dasharray="0 1288 3 0 3 32 3 11 3 15 3 17 3 0 3 30 3 9 3 3 3 27 3 46 3 0 3 7 3 6 3 2 3 18 3 1 3 15 3 21 3 8 3 11 3 51 3 4 3 15 3 6 3 3 3 9 3 9 3 5 3 3 3 5 3 8 3 0 3 4 3 12 3 6 3 4 3 18 3 26 3 18 3 7 3 38 3 13 3 3 3 31 3 0 3 37 3 18 3 11 3 5 3 1 3 6 3 4 3 42 3 0 3 3 3 11 3 20 3 15 3 0 3 88 3 15 3 26 3 8 3 32 3 0 3 63 3 9999"/><path d="M274 398h2484" stroke-dasharray="0 1363 3 0 3 7 3 79 3 7 3 5 3 35 3 2 3 16 3 13 3 7 3 28 3 5 3 37 3 1 3 7 3 18 3 89 3 26 3 28 3 87 3 12 3 28 3 12 3 79 3 89 3 3 3 7 3 0 3 14 3 54 3 5 3 64 3 17 3 4 3 25 3 2 3 7 3 10 3 5 3 9999"/><path d="M274 400h2484" stroke-dasharray="0 1277 3 7 3 4 3 43 3 3 3 60 3 37 3 3 3 2 3 34 3 1 3 65 3 1 3 10 3 34 3 5 3 21 3 7 3 7 3 29 3 43 3 28 3 53 3 42 3 64 3 12 3 11 3 10 3 58 3 34 3 0 3 19 3 1 3 76 3 48 3 18 3 74 3 111 3 1 3 9999"/><path d="M274 402h2484" stroke-dasharray="0 1355 3 25 3 31 3 70 3 87 3 33 3 112 3 32 3 52 3 33 3 24 3 113 3 4 3 38 3 54 3 7 3 39 3 35 3 18 3 10 3 93 3 9999"/><path d="M274 404h2484" stroke-dasharray="0 1335 3 174 3 4 3 71 3 68 3 6 3 89 3 37 3 61 3 68 3 60 3 309 3 9999"/><path d="M274 406h2484" stroke-dasharray="0 1433 3 157 3 89 3 163 3 270 3 95 3 72 3 9999"/><path d="M274 408h2484" stroke-dasharray="0 1444 3 132 3 114 3 29 3 578 3 26 3 9999"/><path d="M274 410h2484" stroke-dasharray="0 1661 3 9999"/><path d="M274 422h2484" stroke-dasharray="0 1034 3 9999"/><path d="M274 436h2484" stroke-dasharray="0 1378 3 9 3 223 3 60 3 193 3 46 3 39 3 36 3 12 3 44 3 38 3 58 3 113 3 102 3 11 3 10 3 14 3 10 3 9 3 9999"/><path d="M274 438h2484" stroke-dasharray="0 1767 3 22 3 351 3 141 3 45 3 4 3 2 3 36 3 43 3 12 3 1 3 10 3 3 3 9999"/><path d="M274 440h2484" stroke-dasharray="0 1836 3 0 3 246 3 8 3 116 3 112 3 38 3 87 3 9999"/><path d="M274 442h2484" stroke-dasharray="0 813 3 919 3 330 3 43 3 8 3 170 3 23 3 78 3 47 3 15 3 9999"/><path d="M274 444h2484" stroke-dasharray="0 1076 3 324 3 240 3 234 3 201 3 93 3 230 3 29 3 12 3 2 3 3 3 9999"/><path d="M274 446h2484" stroke-dasharray="0 1855 3 152 3 71 3 278 3 28 3 38 3 9999"/><path d="M274 448h2484" stroke-dasharray="0 732 3 118 3 1107 3 24 3 17 3 89 3 153 3 35 3 30 3 20 3 21 3 12 3 29 3 3 3 34 3 9999"/><path d="M274 450h2484" stroke-dasharray="0 676 3 1014 3 43 3 160 3 102 3 194 3 66 3 127 3 6 3 22 3 16 3 7 3 6 3 9999"/><path d="M274 452h2484" stroke-dasharray="0 1708 3 35 3 285 3 21 3 21 3 61 3 78 3 75 3 10 3 23 3 13 3 79 3 17 3 3 3 9999"/><path d="M274 454h2484" stroke-dasharray="0 888 3 703 3 494 3 5 3 41 3 78 3 4 3 65 3 45 3 24 3 66 3 26 3 9999"/><path d="M274 456h2484" stroke-dasharray="0 841 3 529 3 284 3 483 3 9 3 170 3 6 3 31 3 22 3 3 3 27 3 13 3 14 3 9999"/><path d="M274 458h2484" stroke-dasharray="0 2116 3 146 3 147 3 15 3 9999"/><path d="M274 460h2484" stroke-dasharray="0 2292 3 9 3 35 3 5 3 30 3 15 3 8 3 18 3 1 3 1 3 2 3 12 3 9999"/><path d="M274 462h2484" stroke-dasharray="0 1332 3 470 3 47 3 0 3 120 3 6 3 59 3 47 3 2 3 151 3 19 3 6 3 2 3 31 3 24 3 84 3 2 3 9 3 1 3 9999"/><path d="M274 464h2484" stroke-dasharray="0 1270 3 301 3 73 3 111 3 243 3 1 3 145 3 65 3 11 3 34 3 8 3 31 3 52 3 49 3 7 3 21 3 9999"/><path d="M274 466h2484" stroke-dasharray="0 878 3 840 3 45 3 432 3 14 3 22 3 65 3 52 3 14 3 22 3 39 3 0 3 5 3 3 3 9999"/><path d="M274 468h2484" stroke-dasharray="0 650 3 781 3 186 3 209 3 186 3 41 3 120 3 44 3 102 3 1 3 57 3 17 3 3 3 35 3 9999"/><path d="M274 470h2484" stroke-dasharray="0 899 3 1355 3 54 3 9 3 17 3 4 3 0 3 2 3 8 3 5 3 41 3 35 3 1 3 9999"/><path d="M274 472h2484" stroke-dasharray="0 664 3 357 3 258 3 379 3 289 3 80 3 7 3 78 3 5 3 34 3 70 3 0 3 82 3 14 3 22 3 11 3 18 3 4 3 1 3 0 3 1 3 11 3 3 3 10 3 3 3 9999"/><path d="M274 474h2484" stroke-dasharray="0 1347 3 677 3 226 3 13 3 92 3 16 3 24 3 48 3 9999"/><path d="M274 476h2484" stroke-dasharray="0 1933 3 100 3 117 3 92 3 11 3 23 3 32 3 49 3 59 3 0 3 21 3 9999"/><path d="M274 478h2484" stroke-dasharray="0 1692 3 131 3 268 3 149 3 11 3 12 3 3 3 1 3 9 3 2 3 16 3 31 3 1 3 37 3 9 3 15 3 8 3 0 3 1 3 10 3 1 3 9999"/><path d="M274 480h2484" stroke-dasharray="0 810 3 765 3 71 3 96 3 79 3 34 3 170 3 108 3 2 3 17 3 7 3 154 3 24 3 31 3 15 3 6 3 19 3 4 3 9999"/><path d="M274 482h2484" stroke-dasharray="0 716 3 11 3 213 3 842 3 290 3 189 3 59 3 2 3 9 3 15 3 1 3 57 3 2 3 16 3 2 3 9999"/><path d="M274 484h2484" stroke-dasharray="0 726 3 783 3 134 3 251 3 260 3 112 3 20 3 3 3 15 3 18 3 10 3 29 3 26 3 24 3 15 3 9999"/><path d="M274 486h2484" stroke-dasharray="0 759 3 927 3 45 3 23 3 70 3 239 3 6 3 143 3 9 3 17 3 28 3 7 3 10 3 4 3 36 3 0 3 46 3 16 3 10 3 12 3 5 3 9999"/><path d="M274 488h2484" stroke-dasharray="0 708 3 134 3 202 3 836 3 49 3 146 3 92 3 23 3 13 3 6 3 33 3 16 3 4 3 20 3 31 3 10 3 23 3 23 3 8 3 7 3 8 3 9999"/><path d="M274 490h2484" stroke-dasharray="0 1007 3 210 3 413 3 78 3 48 3 438 3 27 3 5 3 30 3 30 3 11 3 9 3 9 3 70 3 22 3 9999"/><path d="M274 492h2484" stroke-dasharray="0 1035 3 438 3 182 3 34 3 206 3 215 3 60 3 51 3 29 3 5 3 7 3 14 3 11 3 8 3 30 3 0 3 4 3 14 3 15 3 16 3 11 3 14 3 9999"/><path d="M274 494h2484" stroke-dasharray="0 760 3 172 3 62 3 118 3 547 3 194 3 31 3 24 3 41 3 31 3 145 3 6 3 69 3 43 3 15 3 22 3 10 3 8 3 8 3 2 3 28 3 1 3 13 3 1 3 42 3 9999"/><path d="M274 496h2484" stroke-dasharray="0 684 3 76 3 1021 3 33 3 161 3 108 3 8 3 67 3 26 3 41 3 2 3 6 3 29 3 6 3 61 3 8 3 27 3 11 3 5 3 9999"/><path d="M274 498h2484" stroke-dasharray="0 712 3 94 3 354 3 980 3 55 3 6 3 38 3 11 3 98 3 1 3 8 3 37 3 9999"/><path d="M274 500h2484" stroke-dasharray="0 746 3 213 3 795 3 55 3 136 3 45 3 82 3 72 3 28 3 44 3 29 3 28 3 22 3 6 3 12 3 30 3 45 3 2 3 4 3 9999"/><path d="M274 502h2484" stroke-dasharray="0 2079 3 84 3 28 3 36 3 3 3 69 3 3 3 11 3 9 3 20 3 23 3 0 3 34 3 3 3 11 3 16 3 9999"/><path d="M274 504h2484" stroke-dasharray="0 739 3 82 3 716 3 484 3 19 3 43 3 76 3 10 3 17 3 61 3 1 3 9 3 13 3 16 3 19 3 9 3 1 3 12 3 5 3 62 3 5 3 9999"/><path d="M274 506h2484" stroke-dasharray="0 1950 3 113 3 55 3 53 3 21 3 65 3 32 3 8 3 32 3 0 3 0 3 0 3 49 3 43 3 12 3 9999"/><path d="M274 508h2484" stroke-dasharray="0 977 3 854 3 109 3 63 3 131 3 101 3 26 3 19 3 0 3 72 3 30 3 6 3 18 3 13 3 14 3 9999"/><path d="M274 510h2484" stroke-dasharray="0 1270 3 490 3 23 3 56 3 64 3 217 3 16 3 23 3 2 3 7 3 43 3 118 3 3 3 1 3 15 3 9 3 1 3 23 3 3 3 9999"/><path d="M274 512h2484" stroke-dasharray="0 867 3 420 3 537 3 358 3 53 3 5 3 1 3 1 3 2 3 13 3 71 3 3 3 38 3 5 3 2 3 21 3 23 3 9999"/><path d="M274 514h2484" stroke-dasharray="0 808 3 919 3 34 3 209 3 32 3 14 3 73 3 16 3 49 3 22 3 1 3 47 3 6 3 27 3 4 3 20 3 1 3 1 3 6 3 23 3 0 3 30 3 34 3 13 3 9999"/><path d="M274 516h2484" stroke-dasharray="0 772 3 1105 3 2 3 56 3 143 3 35 3 10 3 114 3 5 3 20 3 3 3 6 3 103 3 8 3 23 3 2 3 13 3 1 3 9999"/><path d="M274 518h2484" stroke-dasharray="0 1439 3 223 3 166 3 199 3 14 3 92 3 13 3 6 3 32 3 11 3 39 3 2 3 27 3 2 3 13 3 2 3 0 3 39 3 15 3 31 3 46 3 9999"/><path d="M274 520h2484" stroke-dasharray="0 801 3 60 3 105 3 4 3 14 3 88 3 478 3 15 3 186 3 169 3 59 3 22 3 4 3 46 3 29 3 36 3 31 3 23 3 0 3 31 3 6 3 12 3 1 3 12 3 17 3 17 3 7 3 44 3 0 3 22 3 22 3 12 3 9999"/><path d="M274 522h2484" stroke-dasharray="0 882 3 19 3 746 3 88 3 113 3 196 3 5 3 10 3 16 3 20 3 32 3 15 3 89 3 5 3 41 3 18 3 12 3 43 3 13 3 8 3 0 3 11 3 1 3 7 3 9999"/><path d="M274 524h2484" stroke-dasharray="0 781 3 426 3 4 3 192 3 262 3 31 3 257 3 77 3 2 3 41 3 2 3 18 3 50 3 9 3 29 3 52 3 5 3 0 3 38 3 8 3 18 3 44 3 2 3 17 3 33 3 9999"/><path d="M274 526h2484" stroke-dasharray="0 581 3 268 3 507 3 544 3 37 3 62 3 41 3 72 3 8 3 50 3 39 3 31 3 20 3 2 3 2 3 16 3 14 3 2 3 12 3 6 3 27 3 21 3 7 3 20 3 3 3 3 3 9999"/><path d="M274 528h2484" stroke-dasharray="0 687 3 164 3 83 3 676 3 183 3 244 3 11 3 13 3 14 3 35 3 0 3 0 3 18 3 2 3 31 3 3 3 29 3 8 3 15 3 0 3 20 3 9 3 16 3 8 3 13 3 2 3 8 3 1 3 14 3 13 3 12 3 3 3 16 3 4 3 3 3 9999"/><path d="M274 530h2484" stroke-dasharray="0 1199 3 302 3 188 3 41 3 82 3 96 3 70 3 18 3 23 3 3 3 36 3 5 3 13 3 3 3 14 3 17 3 19 3 1 3 5 3 16 3 20 3 3 3 18 3 9 3 13 3 42 3 6 3 31 3 1 3 11 3 12 3 15 3 12 3 9999"/><path d="M274 532h2484" stroke-dasharray="0 700 3 150 3 20 3 149 3 212 3 71 3 579 3 15 3 132 3 24 3 5 3 17 3 71 3 20 3 25 3 42 3 7 3 0 3 2 3 15 3 5 3 26 3 7 3 21 3 5 3 0 3 28 3 1 3 27 3 1 3 9999"/><path d="M274 534h2484" stroke-dasharray="0 990 3 182 3 699 3 15 3 9 3 44 3 3 3 100 3 40 3 22 3 1 3 13 3 3 3 7 3 0 3 16 3 10 3 0 3 19 3 22 3 3 3 43 3 2 3 20 3 2 3 7 3 0 3 29 3 24 3 9 3 14 3 15 3 9999"/><path d="M274 536h2484" stroke-dasharray="0 1822 3 137 3 11 3 60 3 60 3 10 3 11 3 7 3 15 3 25 3 3 3 3 3 9 3 16 3 19 3 4 3 4 3 35 3 10 3 1 3 30 3 11 3 4 3 54 3 1 3 10 3 1 3 0 3 5 3 9999"/><path d="M274 538h2484" stroke-dasharray="0 785 3 61 3 192 3 464 3 163 3 26 3 214 3 51 3 30 3 19 3 74 3 14 3 29 3 79 3 17 3 27 3 19 3 12 3 1 3 16 3 15 3 15 3 4 3 23 3 12 3 5 3 9999"/><path d="M274 540h2484" stroke-dasharray="0 846 3 47 3 13 3 882 3 3 3 121 3 29 3 31 3 88 3 3 3 66 3 106 3 9 3 7 3 46 3 6 3 58 3 19 3 0 3 14 3 7 3 9999"/><path d="M274 542h2484" stroke-dasharray="0 723 3 114 3 34 3 31 3 57 3 64 3 879 3 1 3 72 3 36 3 31 3 1 3 0 3 1 3 8 3 2 3 37 3 42 3 8 3 6 3 59 3 23 3 10 3 3 3 7 3 21 3 30 3 6 3 3 3 0 3 18 3 9 3 9999"/><path d="M274 544h2484" stroke-dasharray="0 831 3 16 3 49 3 240 3 467 3 161 3 19 3 131 3 67 3 1 3 7 3 0 3 10 3 80 3 24 3 14 3 9 3 8 3 67 3 22 3 6 3 17 3 11 3 30 3 13 3 35 3 9 3 18 3 12 3 1 3 9999"/><path d="M274 546h2484" stroke-dasharray="0 588 3 73 3 196 3 420 3 672 3 11 3 10 3 4 3 22 3 8 3 18 3 12 3 13 3 7 3 9 3 91 3 6 3 8 3 47 3 21 3 30 3 21 3 2 3 3 3 17 3 27 3 21 3 4 3 27 3 9999"/><path d="M274 548h2484" stroke-dasharray="0 607 3 14 3 34 3 267 3 785 3 26 3 187 3 45 3 0 3 89 3 12 3 13 3 4 3 85 3 6 3 21 3 24 3 15 3 2 3 3 3 8 3 9 3 1 3 6 3 9 3 12 3 14 3 9 3 1 3 34 3 5 3 5 3 9999"/><path d="M274 550h2484" stroke-dasharray="0 679 3 151 3 61 3 188 3 59 3 91 3 244 3 430 3 29 3 3 3 5 3 29 3 13 3 16 3 26 3 73 3 5 3 0 3 27 3 36 3 3 3 37 3 0 3 14 3 23 3 5 3 9 3 7 3 9 3 15 3 9999"/><path d="M274 552h2484" stroke-dasharray="0 857 3 41 3 7 3 705 3 49 3 48 3 20 3 210 3 4 3 6 3 54 3 53 3 37 3 23 3 0 3 52 3 36 3 65 3 2 3 8 3 8 3 17 3 3 3 23 3 33 3 11 3 25 3 9999"/><path d="M274 554h2484" stroke-dasharray="0 619 3 234 3 24 3 427 3 214 3 309 3 10 3 28 3 1 3 24 3 17 3 22 3 31 3 1 3 4 3 18 3 2 3 12 3 3 3 1 3 19 3 9 3 3 3 1 3 0 3 3 3 55 3 3 3 38 3 2 3 2 3 1 3 18 3 9 3 20 3 39 3 9 3 38 3 8 3 9999"/><path d="M274 556h2484" stroke-dasharray="0 921 3 173 3 380 3 428 3 33 3 34 3 13 3 42 3 0 3 5 3 6 3 25 3 4 3 2 3 10 3 6 3 21 3 13 3 25 3 13 3 21 3 19 3 0 3 11 3 15 3 4 3 15 3 6 3 10 3 13 3 28 3 0 3 11 3 17 3 1 3 43 3 9999"/><path d="M274 558h2484" stroke-dasharray="0 791 3 17 3 10 3 61 3 8 3 50 3 209 3 239 3 311 3 152 3 51 3 65 3 25 3 19 3 0 3 8 3 1 3 9 3 5 3 2 3 24 3 18 3 1 3 28 3 9 3 8 3 18 3 19 3 16 3 2 3 5 3 28 3 7 3 11 3 7 3 34 3 0 3 4 3 6 3 57 3 5 3 11 3 9999"/><path d="M274 560h2484" stroke-dasharray="0 747 3 13 3 249 3 723 3 41 3 45 3 34 3 128 3 20 3 28 3 27 3 7 3 9 3 21 3 7 3 14 3 39 3 14 3 6 3 13 3 2 3 20 3 6 3 0 3 31 3 30 3 6 3 26 3 1 3 0 3 0 3 33 3 10 3 0 3 8 3 5 3 9999"/><path d="M274 562h2484" stroke-dasharray="0 813 3 59 3 13 3 23 3 702 3 130 3 133 3 32 3 17 3 3 3 36 3 10 3 0 3 4 3 84 3 3 3 22 3 20 3 1 3 24 3 45 3 7 3 10 3 3 3 21 3 14 3 9 3 17 3 17 3 14 3 1 3 0 3 8 3 15 3 11 3 10 3 9999"/><path d="M274 564h2484" stroke-dasharray="0 610 3 166 3 148 3 1 3 252 3 28 3 97 3 534 3 27 3 49 3 31 3 7 3 20 3 71 3 19 3 9 3 50 3 9 3 36 3 17 3 2 3 6 3 4 3 1 3 0 3 6 3 0 3 1 3 3 3 21 3 15 3 39 3 7 3 11 3 14 3 43 3 9999"/><path d="M274 566h2484" stroke-dasharray="0 663 3 517 3 347 3 225 3 131 3 27 3 17 3 8 3 24 3 38 3 9 3 24 3 5 3 13 3 4 3 18 3 24 3 28 3 9 3 3 3 4 3 16 3 3 3 76 3 24 3 39 3 35 3 29 3 9999"/><path d="M274 568h2484" stroke-dasharray="0 832 3 246 3 81 3 183 3 143 3 203 3 56 3 5 3 49 3 16 3 10 3 20 3 4 3 22 3 1 3 15 3 9 3 2 3 10 3 2 3 56 3 6 3 18 3 19 3 24 3 1 3 36 3 23 3 2 3 1 3 10 3 7 3 3 3 3 3 0 3 96 3 11 3 14 3 14 3 56 3 16 3 26 3 9999"/><path d="M274 570h2484" stroke-dasharray="0 716 3 98 3 35 3 435 3 95 3 231 3 106 3 101 3 2 3 2 3 2 3 4 3 26 3 0 3 19 3 1 3 23 3 8 3 6 3 13 3 7 3 0 3 10 3 22 3 3 3 0 3 3 3 23 3 27 3 4 3 13 3 8 3 4 3 24 3 32 3 6 3 7 3 18 3 24 3 18 3 8 3 29 3 31 3 9 3 12 3 32 3 8 3 29 3 9999"/><path d="M274 572h2484" stroke-dasharray="0 783 3 19 3 58 3 427 3 10 3 26 3 396 3 50 3 9 3 26 3 33 3 34 3 10 3 1 3 22 3 2 3 0 3 17 3 8 3 6 3 0 3 15 3 9 3 26 3 44 3 7 3 24 3 17 3 7 3 9 3 3 3 19 3 0 3 16 3 4 3 4 3 10 3 3 3 0 3 98 3 10 3 0 3 31 3 27 3 9999"/><path d="M274 574h2484" stroke-dasharray="0 661 3 166 3 19 3 13 3 271 3 171 3 120 3 145 3 15 3 73 3 38 3 58 3 41 3 24 3 77 3 18 3 30 3 3 3 59 3 17 3 38 3 41 3 52 3 0 3 26 3 1 3 20 3 14 3 40 3 5 3 5 3 13 3 4 3 2 3 28 3 18 3 0 3 9999"/><path d="M274 576h2484" stroke-dasharray="0 800 3 106 3 16 3 4 3 286 3 247 3 67 3 36 3 15 3 50 3 48 3 62 3 20 3 42 3 13 3 15 3 39 3 0 3 22 3 3 3 11 3 62 3 20 3 18 3 33 3 12 3 21 3 12 3 0 3 0 3 5 3 15 3 14 3 19 3 27 3 9 3 44 3 6 3 0 3 21 3 3 3 11 3 24 3 23 3 15 3 9999"/><path d="M274 578h2484" stroke-dasharray="0 796 3 29 3 30 3 0 3 71 3 344 3 146 3 185 3 32 3 31 3 66 3 4 3 11 3 7 3 8 3 0 3 5 3 3 3 25 3 7 3 21 3 3 3 1 3 6 3 0 3 0 3 22 3 37 3 2 3 13 3 13 3 30 3 14 3 53 3 4 3 26 3 32 3 3 3 8 3 3 3 16 3 11 3 4 3 20 3 18 3 53 3 3 3 7 3 3 3 19 3 11 3 7 3 2 3 24 3 9999"/><path d="M274 580h2484" stroke-dasharray="0 815 3 8 3 16 3 1 3 9 3 107 3 205 3 40 3 177 3 47 3 93 3 5 3 2 3 20 3 11 3 36 3 16 3 14 3 5 3 0 3 46 3 25 3 6 3 12 3 1 3 8 3 22 3 13 3 3 3 17 3 25 3 8 3 28 3 7 3 40 3 6 3 59 3 8 3 15 3 28 3 9 3 13 3 1 3 111 3 22 3 14 3 25 3 13 3 33 3 31 3 5 3 9999"/><path d="M274 582h2484" stroke-dasharray="0 698 3 167 3 43 3 27 3 1 3 351 3 20 3 8 3 116 3 7 3 59 3 7 3 29 3 47 3 48 3 12 3 38 3 13 3 42 3 9 3 32 3 17 3 17 3 3 3 6 3 4 3 3 3 19 3 1 3 7 3 14 3 5 3 4 3 15 3 14 3 9 3 2 3 11 3 0 3 20 3 6 3 4 3 21 3 12 3 0 3 36 3 16 3 17 3 8 3 7 3 2 3 5 3 10 3 8 3 10 3 10 3 46 3 9 3 22 3 80 3 12 3 9999"/><path d="M274 584h2484" stroke-dasharray="0 874 3 47 3 428 3 54 3 69 3 82 3 47 3 16 3 58 3 9 3 4 3 25 3 12 3 57 3 54 3 26 3 16 3 31 3 18 3 10 3 14 3 0 3 13 3 19 3 7 3 26 3 1 3 36 3 12 3 33 3 14 3 22 3 12 3 0 3 42 3 7 3 25 3 84 3 0 3 20 3 9999"/><path d="M274 586h2484" stroke-dasharray="0 838 3 4 3 57 3 108 3 15 3 113 3 30 3 74 3 72 3 55 3 40 3 39 3 13 3 23 3 46 3 76 3 3 3 25 3 83 3 15 3 37 3 3 3 4 3 7 3 16 3 1 3 8 3 25 3 91 3 2 3 3 3 21 3 1 3 0 3 17 3 10 3 24 3 2 3 9 3 24 3 1 3 9 3 13 3 6 3 1 3 20 3 1 3 14 3 15 3 30 3 4 3 13 3 10 3 26 3 4 3 1 3 6 3 10 3 7 3 9999"/><path d="M274 588h2484" stroke-dasharray="0 766 3 121 3 234 3 362 3 5 3 82 3 42 3 23 3 48 3 3 3 48 3 24 3 7 3 22 3 9 3 8 3 5 3 7 3 4 3 17 3 68 3 7 3 13 3 8 3 9 3 24 3 26 3 11 3 20 3 10 3 35 3 1 3 12 3 58 3 22 3 79 3 14 3 13 3 0 3 2 3 14 3 9 3 45 3 9999"/><path d="M274 590h2484" stroke-dasharray="0 808 3 40 3 63 3 345 3 184 3 14 3 4 3 32 3 28 3 54 3 6 3 5 3 5 3 28 3 6 3 43 3 14 3 42 3 5 3 3 3 11 3 4 3 1 3 7 3 10 3 29 3 10 3 5 3 1 3 1 3 27 3 21 3 0 3 8 3 1 3 1 3 9 3 8 3 14 3 18 3 5 3 13 3 9 3 5 3 16 3 19 3 37 3 64 3 2 3 8 3 26 3 6 3 33 3 18 3 42 3 17 3 27 3 3 3 32 3 9999"/><path d="M274 592h2484" stroke-dasharray="0 598 3 307 3 136 3 83 3 125 3 63 3 102 3 16 3 8 3 21 3 48 3 43 3 20 3 38 3 19 3 44 3 23 3 20 3 46 3 25 3 64 3 8 3 10 3 13 3 29 3 16 3 0 3 6 3 7 3 0 3 13 3 3 3 15 3 59 3 9 3 13 3 103 3 20 3 9 3 52 3 37 3 4 3 23 3 0 3 8 3 2 3 20 3 9999"/><path d="M274 594h2484" stroke-dasharray="0 670 3 169 3 16 3 23 3 101 3 52 3 14 3 110 3 8 3 26 3 65 3 141 3 27 3 32 3 8 3 100 3 37 3 0 3 14 3 8 3 25 3 16 3 6 3 59 3 24 3 5 3 9 3 3 3 3 3 19 3 29 3 52 3 4 3 1 3 15 3 6 3 23 3 1 3 8 3 40 3 14 3 14 3 5 3 1 3 13 3 36 3 14 3 74 3 14 3 61 3 21 3 24 3 10 3 9999"/><path d="M274 596h2484" stroke-dasharray="0 1056 3 38 3 104 3 65 3 21 3 79 3 40 3 67 3 24 3 3 3 75 3 1 3 4 3 7 3 2 3 0 3 24 3 35 3 13 3 3 3 6 3 5 3 31 3 0 3 11 3 8 3 10 3 12 3 26 3 3 3 11 3 1 3 1 3 33 3 1 3 34 3 5 3 22 3 0 3 21 3 8 3 8 3 21 3 28 3 22 3 6 3 54 3 80 3 8 3 6 3 52 3 100 3 7 3 9999"/><path d="M274 598h2484" stroke-dasharray="0 756 3 114 3 50 3 90 3 18 3 8 3 2 3 33 3 50 3 113 3 53 3 70 3 60 3 1 3 21 3 18 3 7 3 47 3 39 3 6 3 35 3 33 3 15 3 9 3 1 3 1 3 2 3 2 3 11 3 3 3 3 3 21 3 3 3 14 3 5 3 8 3 6 3 6 3 10 3 1 3 8 3 7 3 26 3 10 3 43 3 1 3 6 3 55 3 32 3 3 3 14 3 7 3 3 3 10 3 70 3 7 3 16 3 63 3 26 3 117 3 9999"/><path d="M274 600h2484" stroke-dasharray="0 890 3 182 3 81 3 77 3 23 3 38 3 49 3 6 3 76 3 39 3 29 3 1 3 10 3 1 3 11 3 14 3 17 3 17 3 4 3 3 3 7 3 14 3 16 3 17 3 18 3 13 3 28 3 25 3 7 3 42 3 1 3 6 3 3 3 6 3 0 3 7 3 15 3 5 3 33 3 18 3 6 3 5 3 9 3 0 3 0 3 5 3 1 3 9 3 18 3 11 3 51 3 7 3 16 3 11 3 19 3 38 3 25 3 7 3 1 3 37 3 1 3 122 3 10 3 19 3 9999"/><path d="M274 602h2484" stroke-dasharray="0 582 3 277 3 107 3 145 3 152 3 43 3 26 3 31 3 0 3 41 3 10 3 6 3 9 3 23 3 13 3 9 3 82 3 24 3 0 3 1 3 1 3 1 3 2 3 20 3 7 3 2 3 12 3 25 3 3 3 58 3 4 3 8 3 4 3 4 3 4 3 34 3 5 3 7 3 29 3 14 3 15 3 27 3 21 3 11 3 0 3 3 3 63 3 0 3 9 3 48 3 24 3 81 3 103 3 46 3 9999"/><path d="M274 604h2484" stroke-dasharray="0 853 3 137 3 256 3 61 3 80 3 17 3 21 3 10 3 20 3 13 3 6 3 0 3 23 3 7 3 4 3 15 3 30 3 3 3 2 3 23 3 13 3 19 3 23 3 0 3 7 3 7 3 13 3 18 3 34 3 26 3 3 3 1 3 42 3 21 3 2 3 9 3 7 3 12 3 7 3 8 3 23 3 9 3 7 3 21 3 24 3 8 3 76 3 14 3 119 3 100 3 9999"/><path d="M274 606h2484" stroke-dasharray="0 634 3 693 3 94 3 2 3 8 3 60 3 5 3 2 3 15 3 2 3 4 3 31 3 21 3 0 3 34 3 12 3 15 3 7 3 1 3 5 3 0 3 29 3 4 3 9 3 31 3 8 3 3 3 36 3 15 3 2 3 52 3 3 3 14 3 6 3 7 3 24 3 60 3 66 3 57 3 65 3 53 3 8 3 110 3 9999"/><path d="M274 608h2484" stroke-dasharray="0 1012 3 9999"/><path d="M274 610h2484" stroke-dasharray="0 970 3 141 3 66 3 52 3 43 3 13 3 8 3 36 3 62 3 60 3 32 3 0 3 8 3 23 3 11 3 7 3 1 3 105 3 2 3 9999"/><path d="M274 612h2484" stroke-dasharray="0 1104 3 178 3 1 3 38 3 24 3 77 3 11 3 64 3 14 3 12 3 121 3 28 3 7 3 10 3 58 3 28 3 9999"/><path d="M274 614h2484" stroke-dasharray="0 1196 3 95 3 78 3 125 3 31 3 28 3 15 3 51 3 38 3 9999"/><path d="M274 616h2484" stroke-dasharray="0 858 3 228 3 431 3 45 3 9 3 25 3 12 3 87 3 9999"/><path d="M274 618h2484" stroke-dasharray="0 1083 3 39 3 172 3 143 3 38 3 62 3 8 3 21 3 9999"/><path d="M274 620h2484" stroke-dasharray="0 921 3 333 3 9999"/><path d="M274 622h2484" stroke-dasharray="0 1060 3 592 3 9999"/><path d="M274 624h2484" stroke-dasharray="0 1164 3 37 3 9999"/><path d="M274 626h2484" stroke-dasharray="0 957 3 9999"/><path d="M274 632h2484" stroke-dasharray="0 1611 3 9999"/><path d="M274 652h2484" stroke-dasharray="0 808 3 217 3 271 3 129 3 639 3 35 3 116 3 122 3 29 3 38 3 9999"/><path d="M274 654h2484" stroke-dasharray="0 933 3 118 3 514 3 207 3 92 3 96 3 165 3 46 3 70 3 6 3 4 3 82 3 24 3 3 3 8 3 37 3 9999"/><path d="M274 656h2484" stroke-dasharray="0 1262 3 421 3 370 3 8 3 171 3 24 3 130 3 1 3 31 3 9999"/><path d="M274 658h2484" stroke-dasharray="0 621 3 253 3 32 3 211 3 422 3 171 3 232 3 72 3 66 3 11 3 48 3 24 3 153 3 32 3 71 3 9999"/><path d="M274 660h2484" stroke-dasharray="0 782 3 134 3 1069 3 124 3 15 3 117 3 8 3 14 3 75 3 17 3 5 3 18 3 34 3 9999"/><path d="M274 662h2484" stroke-dasharray="0 745 3 225 3 703 3 259 3 110 3 19 3 188 3 15 3 25 3 80 3 11 3 9999"/><path d="M274 664h2484" stroke-dasharray="0 907 3 43 3 842 3 92 3 34 3 20 3 8 3 91 3 60 3 22 3 7 3 92 3 5 3 19 3 39 3 3 3 24 3 6 3 20 3 56 3 9999"/><path d="M274 666h2484" stroke-dasharray="0 1755 3 101 3 86 3 69 3 45 3 14 3 18 3 58 3 128 3 13 3 57 3 0 3 68 3 19 3 9999"/><path d="M274 668h2484" stroke-dasharray="0 975 3 317 3 543 3 29 3 136 3 170 3 1 3 18 3 109 3 21 3 24 3 1 3 5 3 4 3 12 3 6 3 31 3 14 3 1 3 9999"/><path d="M274 670h2484" stroke-dasharray="0 826 3 456 3 109 3 96 3 372 3 472 3 63 3 9999"/><path d="M274 672h2484" stroke-dasharray="0 902 3 417 3 445 3 142 3 87 3 54 3 33 3 11 3 74 3 85 3 24 3 10 3 64 3 26 3 31 3 25 3 9999"/><path d="M274 674h2484" stroke-dasharray="0 1929 3 40 3 137 3 0 3 39 3 91 3 50 3 3 3 17 3 68 3 3 3 49 3 9999"/><path d="M274 676h2484" stroke-dasharray="0 549 3 765 3 75 3 25 3 498 3 45 3 135 3 59 3 63 3 55 3 0 3 46 3 32 3 14 3 0 3 33 3 5 3 12 3 3 3 9999"/><path d="M274 678h2484" stroke-dasharray="0 1005 3 801 3 180 3 138 3 80 3 2 3 32 3 29 3 1 3 48 3 39 3 1 3 3 3 0 3 35 3 2 3 19 3 9999"/><path d="M274 680h2484" stroke-dasharray="0 790 3 48 3 181 3 25 3 278 3 549 3 55 3 16 3 103 3 0 3 94 3 22 3 71 3 137 3 29 3 9999"/><path d="M274 682h2484" stroke-dasharray="0 713 3 141 3 2 3 1119 3 40 3 133 3 74 3 38 3 7 3 28 3 10 3 42 3 11 3 0 3 24 3 7 3 24 3 9999"/><path d="M274 684h2484" stroke-dasharray="0 912 3 937 3 57 3 131 3 70 3 3 3 30 3 160 3 16 3 3 3 14 3 15 3 1 3 58 3 3 3 7 3 0 3 9999"/><path d="M274 686h2484" stroke-dasharray="0 722 3 471 3 62 3 715 3 209 3 9 3 9 3 5 3 42 3 11 3 21 3 0 3 71 3 10 3 24 3 21 3 5 3 9999"/><path d="M274 688h2484" stroke-dasharray="0 1907 3 196 3 5 3 164 3 12 3 33 3 10 3 12 3 0 3 53 3 9 3 34 3 4 3 9999"/><path d="M274 690h2484" stroke-dasharray="0 909 3 759 3 82 3 204 3 276 3 29 3 0 3 83 3 38 3 26 3 3 3 1 3 11 3 4 3 9999"/><path d="M274 692h2484" stroke-dasharray="0 781 3 397 3 43 3 514 3 135 3 125 3 85 3 19 3 10 3 58 3 52 3 24 3 23 3 13 3 3 3 36 3 104 3 9999"/><path d="M274 694h2484" stroke-dasharray="0 616 3 369 3 126 3 391 3 218 3 280 3 57 3 44 3 119 3 17 3 56 3 58 3 12 3 14 3 34 3 9999"/><path d="M274 696h2484" stroke-dasharray="0 2027 3 30 3 114 3 47 3 2 3 5 3 88 3 9 3 42 3 13 3 5 3 21 3 15 3 0 3 9999"/><path d="M274 698h2484" stroke-dasharray="0 787 3 189 3 129 3 737 3 72 3 162 3 11 3 60 3 53 3 28 3 14 3 23 3 1 3 5 3 18 3 24 3 14 3 47 3 0 3 12 3 14 3 9999"/><path d="M274 700h2484" stroke-dasharray="0 795 3 84 3 88 3 835 3 105 3 54 3 47 3 81 3 64 3 41 3 4 3 32 3 34 3 2 3 28 3 5 3 53 3 58 3 9999"/><path d="M274 702h2484" stroke-dasharray="0 674 3 172 3 105 3 93 3 203 3 386 3 31 3 29 3 96 3 60 3 134 3 150 3 28 3 21 3 49 3 7 3 3 3 7 3 59 3 9 3 30 3 17 3 6 3 2 3 28 3 9999"/><path d="M274 704h2484" stroke-dasharray="0 801 3 113 3 15 3 15 3 207 3 322 3 412 3 3 3 217 3 52 3 20 3 21 3 19 3 23 3 9 3 34 3 9 3 3 3 11 3 29 3 56 3 12 3 4 3 9999"/><path d="M274 706h2484" stroke-dasharray="0 748 3 155 3 230 3 627 3 185 3 148 3 19 3 57 3 4 3 33 3 16 3 15 3 13 3 5 3 17 3 41 3 37 3 5 3 33 3 9 3 2 3 9999"/><path d="M274 708h2484" stroke-dasharray="0 823 3 837 3 218 3 38 3 139 3 60 3 75 3 63 3 21 3 39 3 5 3 20 3 41 3 14 3 16 3 13 3 9999"/><path d="M274 710h2484" stroke-dasharray="0 847 3 212 3 59 3 761 3 89 3 13 3 40 3 182 3 3 3 15 3 9 3 9 3 18 3 13 3 10 3 9 3 2 3 4 3 0 3 21 3 1 3 6 3 17 3 3 3 20 3 8 3 16 3 9999"/><path d="M274 712h2484" stroke-dasharray="0 947 3 255 3 325 3 71 3 67 3 277 3 48 3 11 3 175 3 39 3 56 3 61 3 0 3 5 3 3 3 15 3 17 3 18 3 4 3 15 3 1 3 0 3 9999"/><path d="M274 714h2484" stroke-dasharray="0 813 3 40 3 90 3 24 3 115 3 3 3 396 3 231 3 204 3 131 3 10 3 82 3 19 3 15 3 3 3 59 3 56 3 29 3 5 3 8 3 0 3 13 3 25 3 29 3 2 3 9999"/><path d="M274 716h2484" stroke-dasharray="0 835 3 53 3 130 3 301 3 48 3 63 3 2 3 510 3 59 3 35 3 65 3 5 3 6 3 31 3 32 3 11 3 8 3 30 3 25 3 19 3 10 3 5 3 23 3 4 3 1 3 0 3 3 3 6 3 10 3 10 3 27 3 9999"/><path d="M274 718h2484" stroke-dasharray="0 857 3 41 3 0 3 40 3 7 3 964 3 2 3 207 3 40 3 8 3 1 3 18 3 8 3 1 3 2 3 0 3 10 3 10 3 14 3 18 3 4 3 7 3 4 3 61 3 10 3 18 3 2 3 9999"/><path d="M274 720h2484" stroke-dasharray="0 784 3 39 3 22 3 71 3 579 3 110 3 308 3 21 3 159 3 2 3 3 3 15 3 8 3 2 3 5 3 1 3 25 3 8 3 24 3 13 3 15 3 5 3 6 3 22 3 17 3 25 3 2 3 0 3 8 3 3 3 35 3 0 3 15 3 24 3 9999"/><path d="M274 722h2484" stroke-dasharray="0 731 3 61 3 60 3 969 3 40 3 289 3 39 3 39 3 51 3 11 3 20 3 14 3 43 3 3 3 2 3 31 3 2 3 3 3 9 3 0 3 9999"/><path d="M274 724h2484" stroke-dasharray="0 738 3 60 3 23 3 110 3 26 3 4 3 29 3 601 3 194 3 98 3 90 3 12 3 157 3 10 3 15 3 66 3 12 3 0 3 2 3 16 3 9 3 9 3 5 3 34 3 9 3 4 3 27 3 14 3 9999"/><path d="M274 726h2484" stroke-dasharray="0 902 3 217 3 533 3 256 3 75 3 40 3 2 3 34 3 43 3 47 3 38 3 21 3 1 3 1 3 19 3 6 3 26 3 19 3 23 3 1 3 1 3 6 3 29 3 12 3 0 3 10 3 9999"/><path d="M274 728h2484" stroke-dasharray="0 1240 3 669 3 129 3 265 3 12 3 3 3 4 3 39 3 17 3 52 3 11 3 9999"/><path d="M274 730h2484" stroke-dasharray="0 874 3 114 3 527 3 353 3 44 3 164 3 88 3 81 3 38 3 35 3 5 3 3 3 3 3 1 3 25 3 7 3 4 3 14 3 19 3 3 3 1 3 3 3 9999"/><path d="M274 732h2484" stroke-dasharray="0 679 3 42 3 82 3 19 3 18 3 18 3 189 3 1026 3 58 3 54 3 39 3 43 3 0 3 27 3 21 3 29 3 3 3 4 3 9 3 18 3 1 3 5 3 0 3 3 3 1 3 9999"/><path d="M274 734h2484" stroke-dasharray="0 680 3 1181 3 192 3 56 3 32 3 42 3 4 3 16 3 21 3 20 3 49 3 14 3 13 3 43 3 17 3 0 3 2 3 1 3 30 3 9999"/><path d="M274 736h2484" stroke-dasharray="0 814 3 43 3 792 3 182 3 27 3 244 3 58 3 16 3 17 3 1 3 20 3 16 3 20 3 3 3 0 3 17 3 0 3 1 3 10 3 1 3 2 3 6 3 5 3 3 3 22 3 11 3 2 3 0 3 1 3 30 3 13 3 9999"/><path d="M274 738h2484" stroke-dasharray="0 743 3 53 3 32 3 50 3 71 3 51 3 849 3 188 3 7 3 11 3 72 3 8 3 22 3 6 3 68 3 21 3 3 3 1 3 8 3 41 3 3 3 21 3 1 3 6 3 0 3 24 3 0 3 5 3 7 3 7 3 0 3 0 3 9999"/><path d="M274 740h2484" stroke-dasharray="0 793 3 138 3 75 3 184 3 356 3 356 3 147 3 29 3 50 3 6 3 33 3 13 3 3 3 37 3 47 3 36 3 2 3 1 3 12 3 25 3 0 3 27 3 8 3 7 3 7 3 9999"/><path d="M274 742h2484" stroke-dasharray="0 759 3 24 3 88 3 46 3 143 3 76 3 80 3 204 3 127 3 151 3 290 3 14 3 25 3 55 3 22 3 79 3 13 3 19 3 6 3 2 3 2 3 0 3 3 3 1 3 9 3 2 3 3 3 4 3 5 3 28 3 15 3 32 3 1 3 13 3 6 3 5 3 3 3 9999"/><path d="M274 744h2484" stroke-dasharray="0 759 3 380 3 113 3 320 3 223 3 201 3 33 3 27 3 46 3 83 3 31 3 0 3 23 3 8 3 7 3 8 3 53 3 8 3 1 3 5 3 0 3 21 3 2 3 16 3 1 3 26 3 9999"/><path d="M274 746h2484" stroke-dasharray="0 675 3 109 3 119 3 1 3 38 3 95 3 362 3 188 3 316 3 52 3 52 3 31 3 2 3 69 3 10 3 21 3 9 3 7 3 22 3 0 3 14 3 31 3 2 3 1 3 4 3 3 3 4 3 22 3 4 3 25 3 7 3 22 3 38 3 3 3 2 3 9999"/><path d="M274 748h2484" stroke-dasharray="0 840 3 9 3 59 3 14 3 12 3 5 3 50 3 79 3 776 3 167 3 9 3 1 3 8 3 6 3 31 3 8 3 1 3 38 3 4 3 20 3 6 3 28 3 20 3 21 3 6 3 34 3 4 3 21 3 1 3 6 3 7 3 25 3 5 3 2 3 28 3 0 3 7 3 5 3 9999"/><path d="M274 750h2484" stroke-dasharray="0 655 3 3 3 130 3 40 3 971 3 92 3 12 3 19 3 21 3 53 3 16 3 25 3 7 3 1 3 48 3 70 3 4 3 8 3 14 3 12 3 11 3 38 3 9 3 12 3 9 3 12 3 3 3 9 3 12 3 8 3 7 3 7 3 32 3 5 3 9999"/><path d="M274 752h2484" stroke-dasharray="0 760 3 63 3 6 3 39 3 221 3 806 3 33 3 44 3 17 3 33 3 20 3 44 3 7 3 14 3 22 3 6 3 21 3 25 3 1 3 11 3 20 3 29 3 6 3 13 3 1 3 2 3 26 3 22 3 14 3 4 3 11 3 5 3 9999"/><path d="M274 754h2484" stroke-dasharray="0 898 3 11 3 29 3 595 3 119 3 132 3 124 3 13 3 37 3 16 3 12 3 34 3 29 3 45 3 3 3 16 3 1 3 4 3 2 3 10 3 1 3 0 3 17 3 17 3 11 3 12 3 12 3 12 3 5 3 1 3 2 3 3 3 33 3 33 3 6 3 15 3 47 3 1 3 4 3 9999"/><path d="M274 756h2484" stroke-dasharray="0 933 3 330 3 702 3 7 3 21 3 16 3 16 3 3 3 31 3 34 3 11 3 0 3 29 3 16 3 41 3 2 3 11 3 19 3 46 3 23 3 15 3 14 3 13 3 12 3 22 3 11 3 1 3 14 3 9999"/><path d="M274 758h2484" stroke-dasharray="0 1863 3 46 3 2 3 5 3 41 3 28 3 15 3 105 3 48 3 3 3 40 3 6 3 41 3 16 3 0 3 15 3 12 3 2 3 2 3 23 3 29 3 30 3 2 3 19 3 9999"/><path d="M274 760h2484" stroke-dasharray="0 841 3 70 3 137 3 445 3 423 3 52 3 40 3 2 3 22 3 19 3 0 3 0 3 5 3 9 3 32 3 14 3 1 3 16 3 8 3 3 3 7 3 21 3 31 3 10 3 5 3 2 3 32 3 2 3 31 3 19 3 18 3 13 3 9999"/><path d="M274 762h2484" stroke-dasharray="0 677 3 160 3 81 3 74 3 322 3 571 3 81 3 0 3 78 3 1 3 59 3 8 3 15 3 6 3 44 3 1 3 2 3 32 3 28 3 0 3 29 3 3 3 2 3 6 3 13 3 19 3 6 3 7 3 4 3 18 3 3 3 0 3 3 3 9999"/><path d="M274 764h2484" stroke-dasharray="0 753 3 80 3 67 3 65 3 382 3 552 3 19 3 20 3 24 3 9 3 33 3 16 3 12 3 26 3 45 3 4 3 7 3 8 3 4 3 14 3 5 3 1 3 8 3 3 3 1 3 4 3 4 3 14 3 49 3 1 3 0 3 11 3 29 3 9 3 24 3 1 3 1 3 5 3 22 3 20 3 9999"/><path d="M274 766h2484" stroke-dasharray="0 798 3 29 3 16 3 94 3 26 3 11 3 375 3 497 3 59 3 20 3 6 3 6 3 5 3 38 3 5 3 6 3 6 3 5 3 11 3 6 3 1 3 4 3 53 3 28 3 4 3 64 3 1 3 7 3 16 3 1 3 15 3 6 3 1 3 5 3 11 3 22 3 31 3 9 3 7 3 15 3 21 3 9999"/><path d="M274 768h2484" stroke-dasharray="0 899 3 162 3 114 3 663 3 17 3 2 3 66 3 63 3 36 3 0 3 8 3 24 3 4 3 33 3 55 3 30 3 8 3 3 3 13 3 7 3 3 3 2 3 7 3 4 3 6 3 14 3 8 3 6 3 7 3 8 3 29 3 33 3 9999"/><path d="M274 770h2484" stroke-dasharray="0 831 3 10 3 15 3 20 3 180 3 33 3 808 3 64 3 26 3 4 3 8 3 1 3 2 3 8 3 5 3 0 3 41 3 20 3 25 3 25 3 20 3 28 3 0 3 36 3 19 3 16 3 1 3 16 3 2 3 1 3 12 3 4 3 3 3 29 3 12 3 11 3 9999"/><path d="M274 772h2484" stroke-dasharray="0 620 3 228 3 238 3 195 3 7 3 475 3 39 3 27 3 25 3 26 3 42 3 13 3 13 3 1 3 0 3 6 3 1 3 5 3 21 3 26 3 14 3 1 3 17 3 3 3 14 3 5 3 0 3 4 3 5 3 4 3 6 3 21 3 0 3 13 3 0 3 7 3 8 3 5 3 37 3 3 3 7 3 16 3 17 3 7 3 9 3 2 3 19 3 5 3 8 3 4 3 11 3 11 3 4 3 14 3 9999"/><path d="M274 774h2484" stroke-dasharray="0 804 3 263 3 62 3 65 3 729 3 32 3 3 3 8 3 24 3 2 3 7 3 35 3 31 3 18 3 28 3 2 3 12 3 0 3 22 3 7 3 14 3 3 3 9 3 4 3 56 3 0 3 50 3 8 3 11 3 7 3 27 3 1 3 25 3 4 3 9999"/><path d="M274 776h2484" stroke-dasharray="0 729 3 246 3 391 3 415 3 27 3 6 3 33 3 67 3 12 3 23 3 15 3 18 3 3 3 4 3 1 3 1 3 35 3 24 3 1 3 31 3 8 3 11 3 9 3 4 3 9 3 1 3 1 3 0 3 1 3 14 3 3 3 8 3 17 3 22 3 6 3 4 3 1 3 17 3 5 3 11 3 0 3 11 3 33 3 14 3 9 3 3 3 0 3 27 3 9999"/><path d="M274 778h2484" stroke-dasharray="0 1444 3 386 3 0 3 15 3 0 3 13 3 111 3 10 3 6 3 2 3 35 3 20 3 6 3 7 3 11 3 31 3 9 3 53 3 27 3 0 3 4 3 2 3 9 3 12 3 1 3 3 3 20 3 24 3 22 3 37 3 4 3 49 3 0 3 9999"/><path d="M274 780h2484" stroke-dasharray="0 708 3 166 3 245 3 112 3 513 3 52 3 14 3 24 3 21 3 17 3 22 3 20 3 34 3 3 3 27 3 18 3 3 3 11 3 9 3 9 3 29 3 13 3 15 3 0 3 11 3 6 3 1 3 12 3 26 3 10 3 20 3 49 3 0 3 1 3 26 3 19 3 3 3 0 3 24 3 2 3 27 3 8 3 7 3 1 3 4 3 9999"/><path d="M274 782h2484" stroke-dasharray="0 866 3 721 3 126 3 48 3 0 3 47 3 60 3 66 3 38 3 13 3 4 3 40 3 36 3 3 3 15 3 3 3 1 3 7 3 6 3 9 3 39 3 23 3 6 3 1 3 8 3 2 3 11 3 2 3 1 3 5 3 0 3 18 3 11 3 22 3 26 3 0 3 19 3 29 3 21 3 9999"/><path d="M274 784h2484" stroke-dasharray="0 841 3 12 3 67 3 16 3 696 3 6 3 84 3 35 3 8 3 34 3 2 3 69 3 63 3 8 3 8 3 5 3 31 3 27 3 15 3 16 3 40 3 4 3 28 3 0 3 8 3 4 3 0 3 4 3 9 3 0 3 20 3 7 3 10 3 17 3 9 3 0 3 0 3 0 3 36 3 4 3 1 3 0 3 3 3 20 3 9 3 6 3 8 3 12 3 0 3 6 3 6 3 3 3 9999"/><path d="M274 786h2484" stroke-dasharray="0 1593 3 91 3 1 3 4 3 32 3 47 3 17 3 78 3 9 3 17 3 6 3 32 3 30 3 24 3 4 3 13 3 12 3 0 3 17 3 0 3 122 3 25 3 3 3 28 3 34 3 0 3 15 3 25 3 5 3 8 3 0 3 12 3 5 3 4 3 4 3 16 3 29 3 9999"/><path d="M274 788h2484" stroke-dasharray="0 751 3 183 3 53 3 180 3 397 3 85 3 84 3 11 3 58 3 5 3 8 3 20 3 2 3 17 3 4 3 0 3 0 3 11 3 41 3 9 3 43 3 5 3 32 3 6 3 13 3 23 3 1 3 19 3 2 3 6 3 5 3 21 3 9 3 2 3 1 3 6 3 6 3 9 3 4 3 1 3 16 3 1 3 13 3 15 3 10 3 9 3 2 3 3 3 0 3 24 3 9 3 16 3 11 3 23 3 6 3 13 3 9999"/><path d="M274 790h2484" stroke-dasharray="0 874 3 198 3 607 3 13 3 9 3 42 3 29 3 21 3 11 3 36 3 5 3 0 3 8 3 43 3 27 3 3 3 16 3 5 3 17 3 26 3 9 3 9 3 5 3 13 3 15 3 6 3 11 3 9 3 1 3 8 3 38 3 11 3 37 3 5 3 0 3 1 3 12 3 14 3 8 3 29 3 1 3 5 3 22 3 9 3 23 3 1 3 12 3 9 3 7 3 9999"/><path d="M274 792h2484" stroke-dasharray="0 1164 3 206 3 66 3 79 3 158 3 20 3 12 3 2 3 22 3 25 3 1 3 3 3 33 3 68 3 7 3 2 3 2 3 4 3 5 3 3 3 11 3 1 3 3 3 3 3 5 3 6 3 12 3 10 3 21 3 4 3 30 3 5 3 8 3 5 3 0 3 57 3 30 3 2 3 0 3 1 3 0 3 10 3 8 3 3 3 19 3 12 3 13 3 36 3 2 3 8 3 16 3 1 3 11 3 37 3 34 3 0 3 9999"/><path d="M274 794h2484" stroke-dasharray="0 616 3 133 3 89 3 794 3 2 3 20 3 22 3 32 3 13 3 25 3 12 3 31 3 28 3 26 3 1 3 33 3 25 3 1 3 15 3 40 3 2 3 3 3 14 3 5 3 11 3 4 3 16 3 38 3 16 3 17 3 5 3 1 3 22 3 10 3 17 3 24 3 4 3 3 3 4 3 24 3 33 3 23 3 4 3 1 3 52 3 18 3 6 3 9999"/><path d="M274 796h2484" stroke-dasharray="0 819 3 8 3 639 3 23 3 23 3 34 3 12 3 101 3 67 3 30 3 25 3 24 3 3 3 15 3 28 3 0 3 0 3 28 3 12 3 8 3 26 3 41 3 9 3 6 3 0 3 19 3 4 3 6 3 8 3 7 3 22 3 32 3 48 3 19 3 24 3 8 3 2 3 10 3 0 3 10 3 1 3 43 3 9 3 2 3 25 3 9 3 2 3 23 3 5 3 9999"/><path d="M274 798h2484" stroke-dasharray="0 836 3 58 3 88 3 198 3 15 3 22 3 69 3 70 3 39 3 88 3 44 3 74 3 0 3 12 3 82 3 25 3 7 3 6 3 4 3 0 3 17 3 0 3 8 3 10 3 5 3 32 3 0 3 4 3 19 3 37 3 1 3 0 3 23 3 0 3 50 3 12 3 19 3 8 3 19 3 12 3 10 3 3 3 30 3 14 3 41 3 10 3 7 3 12 3 54 3 13 3 2 3 14 3 8 3 34 3 9999"/><path d="M274 800h2484" stroke-dasharray="0 755 3 43 3 569 3 14 3 74 3 3 3 94 3 5 3 86 3 16 3 31 3 18 3 1 3 18 3 3 3 12 3 35 3 1 3 13 3 25 3 2 3 6 3 14 3 10 3 12 3 11 3 6 3 8 3 9 3 3 3 4 3 10 3 13 3 13 3 14 3 14 3 6 3 36 3 23 3 41 3 5 3 37 3 15 3 14 3 9 3 1 3 6 3 25 3 4 3 85 3 41 3 2 3 9999"/><path d="M274 802h2484" stroke-dasharray="0 1459 3 29 3 133 3 70 3 0 3 1 3 0 3 18 3 4 3 4 3 6 3 2 3 3 3 3 3 2 3 3 3 49 3 18 3 8 3 22 3 15 3 12 3 17 3 3 3 3 3 7 3 0 3 40 3 25 3 9 3 5 3 7 3 25 3 15 3 6 3 0 3 2 3 8 3 23 3 0 3 8 3 43 3 0 3 9 3 4 3 23 3 6 3 53 3 0 3 3 3 2 3 15 3 3 3 5 3 48 3 10 3 9 3 9999"/><path d="M274 804h2484" stroke-dasharray="0 1211 3 66 3 80 3 26 3 43 3 16 3 60 3 24 3 55 3 28 3 21 3 36 3 3 3 19 3 0 3 10 3 4 3 77 3 12 3 6 3 81 3 15 3 11 3 21 3 23 3 23 3 12 3 10 3 5 3 3 3 0 3 68 3 2 3 15 3 7 3 26 3 10 3 6 3 14 3 55 3 34 3 15 3 15 3 46 3 24 3 9999"/><path d="M274 806h2484" stroke-dasharray="0 853 3 53 3 72 3 214 3 200 3 15 3 22 3 153 3 4 3 36 3 8 3 20 3 15 3 7 3 20 3 0 3 10 3 6 3 2 3 6 3 20 3 13 3 0 3 12 3 4 3 1 3 22 3 7 3 16 3 2 3 5 3 3 3 7 3 5 3 2 3 19 3 11 3 0 3 9 3 0 3 1 3 3 3 5 3 4 3 9 3 3 3 0 3 1 3 6 3 25 3 6 3 29 3 3 3 19 3 14 3 18 3 25 3 38 3 8 3 89 3 23 3 15 3 3 3 38 3 9999"/><path d="M274 808h2484" stroke-dasharray="0 702 3 32 3 119 3 138 3 381 3 84 3 35 3 11 3 3 3 17 3 51 3 51 3 0 3 14 3 4 3 35 3 8 3 7 3 7 3 11 3 3 3 15 3 8 3 21 3 19 3 2 3 5 3 0 3 7 3 7 3 7 3 10 3 2 3 14 3 6 3 11 3 11 3 14 3 8 3 0 3 5 3 5 3 8 3 10 3 14 3 4 3 43 3 13 3 29 3 26 3 5 3 11 3 0 3 1 3 4 3 13 3 28 3 39 3 2 3 48 3 1 3 3 3 10 3 1 3 10 3 0 3 41 3 3 3 12 3 9999"/><path d="M274 810h2484" stroke-dasharray="0 1133 3 124 3 123 3 48 3 46 3 10 3 104 3 34 3 22 3 17 3 8 3 45 3 3 3 2 3 17 3 4 3 1 3 29 3 15 3 15 3 2 3 2 3 0 3 27 3 3 3 17 3 9 3 1 3 47 3 14 3 17 3 0 3 4 3 2 3 27 3 1 3 14 3 4 3 4 3 5 3 17 3 6 3 1 3 0 3 1 3 20 3 17 3 29 3 16 3 4 3 10 3 2 3 10 3 2 3 10 3 53 3 38 3 14 3 41 3 9999"/><path d="M274 812h2484" stroke-dasharray="0 986 3 314 3 63 3 2 3 67 3 61 3 43 3 36 3 36 3 14 3 12 3 7 3 11 3 4 3 23 3 5 3 17 3 15 3 15 3 10 3 0 3 23 3 22 3 7 3 4 3 6 3 3 3 16 3 6 3 35 3 29 3 20 3 3 3 8 3 27 3 0 3 4 3 35 3 24 3 1 3 3 3 49 3 13 3 33 3 4 3 5 3 1 3 28 3 9 3 34 3 5 3 7 3 0 3 8 3 6 3 45 3 14 3 0 3 9999"/><path d="M274 814h2484" stroke-dasharray="0 891 3 529 3 1 3 82 3 18 3 1 3 2 3 10 3 5 3 31 3 27 3 54 3 40 3 9 3 12 3 5 3 14 3 4 3 13 3 22 3 3 3 31 3 2 3 12 3 5 3 12 3 1 3 3 3 2 3 2 3 25 3 9 3 3 3 18 3 5 3 28 3 18 3 27 3 31 3 0 3 23 3 27 3 19 3 43 3 78 3 86 3 35 3 9999"/><path d="M274 816h2484" stroke-dasharray="0 1008 3 405 3 25 3 22 3 67 3 14 3 19 3 14 3 9 3 28 3 13 3 5 3 0 3 4 3 25 3 32 3 15 3 2 3 59 3 0 3 29 3 3 3 24 3 2 3 26 3 4 3 0 3 17 3 3 3 21 3 21 3 32 3 11 3 8 3 2 3 0 3 13 3 17 3 91 3 4 3 11 3 5 3 0 3 66 3 42 3 86 3 9999"/><path d="M274 818h2484" stroke-dasharray="0 701 3 772 3 35 3 15 3 12 3 49 3 89 3 87 3 28 3 32 3 38 3 63 3 2 3 5 3 185 3 9 3 122 3 41 3 61 3 9999"/><path d="M274 820h2484" stroke-dasharray="0 875 3 22 3 55 3 300 3 95 3 498 3 48 3 97 3 138 3 0 3 11 3 3 3 155 3 34 3 9999"/><path d="M274 822h2484" stroke-dasharray="0 1328 3 17 3 48 3 17 3 2 3 13 3 6 3 4 3 3 3 2 3 36 3 17 3 8 3 0 3 3 3 4 3 10 3 2 3 4 3 1 3 20 3 23 3 6 3 4 3 1 3 4 3 4 3 1 3 13 3 35 3 1 3 2 3 15 3 8 3 7 3 3 3 19 3 4 3 18 3 0 3 5 3 30 3 9 3 2 3 4 3 1 3 8 3 1 3 1 3 1 3 15 3 28 3 9 3 30 3 11 3 1 3 28 3 23 3 5 3 12 3 6 3 14 3 2 3 6 3 12 3 3 3 7 3 0 3 3 3 10 3 34 3 19 3 11 3 14 3 6 3 28 3 17 3 24 3 8 3 0 3 13 3 0 3 13 3 13 3 9999"/><path d="M274 824h2484" stroke-dasharray="0 1332 3 16 3 1 3 33 3 2 3 12 3 0 3 22 3 3 3 9 3 6 3 3 3 5 3 13 3 7 3 42 3 11 3 7 3 32 3 7 3 0 3 5 3 19 3 6 3 47 3 17 3 7 3 0 3 44 3 4 3 4 3 1 3 1 3 62 3 3 3 12 3 7 3 8 3 15 3 5 3 1 3 14 3 4 3 0 3 3 3 7 3 40 3 0 3 16 3 9 3 8 3 12 3 0 3 27 3 8 3 47 3 15 3 32 3 37 3 32 3 0 3 1 3 14 3 3 3 33 3 15 3 1 3 42 3 9999"/><path d="M274 826h2484" stroke-dasharray="0 1334 3 3 3 3 3 12 3 46 3 56 3 1 3 28 3 17 3 20 3 2 3 2 3 0 3 14 3 31 3 22 3 22 3 2 3 10 3 16 3 23 3 9 3 6 3 8 3 14 3 20 3 9 3 33 3 4 3 26 3 1 3 13 3 12 3 2 3 16 3 8 3 23 3 20 3 37 3 7 3 2 3 19 3 7 3 5 3 22 3 18 3 12 3 9 3 26 3 12 3 26 3 17 3 20 3 1 3 4 3 4 3 63 3 25 3 1 3 16 3 0 3 2 3 23 3 1 3 10 3 9999"/><path d="M274 828h2484" stroke-dasharray="0 900 3 359 3 77 3 69 3 44 3 18 3 17 3 33 3 0 3 4 3 8 3 11 3 15 3 24 3 34 3 0 3 1 3 13 3 13 3 19 3 30 3 11 3 5 3 5 3 6 3 12 3 6 3 20 3 8 3 27 3 24 3 1 3 8 3 0 3 38 3 4 3 28 3 19 3 14 3 8 3 32 3 5 3 4 3 9 3 15 3 37 3 2 3 0 3 13 3 14 3 16 3 19 3 9 3 4 3 2 3 39 3 77 3 13 3 24 3 12 3 9999"/><path d="M274 830h2484" stroke-dasharray="0 1338 3 27 3 23 3 80 3 63 3 37 3 11 3 35 3 0 3 15 3 19 3 49 3 34 3 10 3 6 3 146 3 6 3 38 3 9 3 53 3 5 3 4 3 3 3 42 3 11 3 14 3 12 3 38 3 5 3 7 3 9 3 28 3 126 3 49 3 6 3 9999"/><path d="M274 832h2484" stroke-dasharray="0 1390 3 248 3 30 3 1 3 60 3 69 3 55 3 2 3 47 3 91 3 27 3 1 3 90 3 5 3 71 3 12 3 4 3 69 3 35 3 1 3 9999"/><path d="M274 834h2484" stroke-dasharray="0 1389 3 75 3 72 3 21 3 0 3 122 3 3 3 18 3 51 3 17 3 36 3 2 3 50 3 84 3 5 3 156 3 56 3 258 3 9999"/><path d="M274 836h2484" stroke-dasharray="0 1547 3 38 3 29 3 395 3 53 3 344 3 9 3 9999"/><path d="M274 838h2484" stroke-dasharray="0 1437 3 77 3 215 3 95 3 37 3 120 3 100 3 9999"/><path d="M274 840h2484" stroke-dasharray="0 1633 3 9999"/><path d="M274 844h2484" stroke-dasharray="0 1464 3 9999"/><path d="M274 864h2484" stroke-dasharray="0 741 3 141 3 818 3 33 3 236 3 51 3 105 3 256 3 70 3 9999"/><path d="M274 866h2484" stroke-dasharray="0 1890 3 274 3 144 3 11 3 22 3 0 3 27 3 51 3 5 3 3 3 9999"/><path d="M274 868h2484" stroke-dasharray="0 1581 3 137 3 103 3 35 3 49 3 28 3 93 3 82 3 6 3 33 3 1 3 50 3 154 3 66 3 1 3 9999"/><path d="M274 870h2484" stroke-dasharray="0 647 3 36 3 953 3 57 3 226 3 91 3 274 3 19 3 47 3 55 3 9999"/><path d="M274 872h2484" stroke-dasharray="0 1988 3 62 3 12 3 76 3 49 3 51 3 23 3 122 3 46 3 0 3 9999"/><path d="M274 874h2484" stroke-dasharray="0 860 3 461 3 237 3 143 3 75 3 313 3 41 3 15 3 2 3 85 3 103 3 6 3 29 3 10 3 50 3 9999"/><path d="M274 876h2484" stroke-dasharray="0 803 3 808 3 260 3 57 3 199 3 1 3 263 3 1 3 46 3 1 3 9999"/><path d="M274 878h2484" stroke-dasharray="0 802 3 650 3 379 3 18 3 204 3 153 3 44 3 97 3 15 3 12 3 1 3 6 3 49 3 2 3 9999"/><path d="M274 880h2484" stroke-dasharray="0 1908 3 510 3 9999"/><path d="M274 882h2484" stroke-dasharray="0 1207 3 451 3 100 3 256 3 98 3 187 3 54 3 19 3 6 3 16 3 0 3 11 3 8 3 9999"/><path d="M274 884h2484" stroke-dasharray="0 829 3 423 3 426 3 321 3 134 3 70 3 27 3 98 3 43 3 27 3 19 3 9999"/><path d="M274 886h2484" stroke-dasharray="0 1594 3 396 3 7 3 59 3 286 3 100 3 9999"/><path d="M274 888h2484" stroke-dasharray="0 632 3 878 3 752 3 69 3 35 3 18 3 13 3 14 3 26 3 9999"/><path d="M274 890h2484" stroke-dasharray="0 1290 3 2 3 519 3 490 3 2 3 36 3 18 3 10 3 9 3 10 3 23 3 14 3 10 3 9999"/><path d="M274 892h2484" stroke-dasharray="0 816 3 281 3 698 3 142 3 121 3 63 3 69 3 81 3 27 3 32 3 24 3 8 3 5 3 21 3 26 3 9999"/><path d="M274 894h2484" stroke-dasharray="0 1677 3 33 3 187 3 69 3 207 3 108 3 23 3 25 3 25 3 9 3 26 3 38 3 9 3 9999"/><path d="M274 896h2484" stroke-dasharray="0 1038 3 858 3 257 3 23 3 101 3 53 3 9 3 47 3 12 3 15 3 32 3 9999"/><path d="M274 898h2484" stroke-dasharray="0 1326 3 295 3 123 3 316 3 24 3 82 3 149 3 0 3 13 3 4 3 25 3 6 3 21 3 12 3 2 3 2 3 11 3 4 3 5 3 9999"/><path d="M274 900h2484" stroke-dasharray="0 887 3 303 3 83 3 343 3 251 3 4 3 66 3 182 3 109 3 4 3 55 3 31 3 22 3 9 3 21 3 9 3 0 3 17 3 3 3 16 3 9999"/><path d="M274 902h2484" stroke-dasharray="0 784 3 500 3 219 3 527 3 107 3 47 3 68 3 23 3 10 3 20 3 21 3 57 3 37 3 9999"/><path d="M274 904h2484" stroke-dasharray="0 1074 3 627 3 337 3 121 3 138 3 40 3 11 3 31 3 17 3 12 3 11 3 11 3 0 3 9999"/><path d="M274 906h2484" stroke-dasharray="0 1337 3 430 3 299 3 216 3 27 3 12 3 3 3 16 3 18 3 2 3 33 3 25 3 8 3 1 3 3 3 9999"/><path d="M274 908h2484" stroke-dasharray="0 747 3 680 3 251 3 244 3 110 3 70 3 59 3 194 3 40 3 7 3 4 3 6 3 1 3 8 3 12 3 9999"/><path d="M274 910h2484" stroke-dasharray="0 1129 3 33 3 554 3 182 3 11 3 7 3 76 3 208 3 56 3 38 3 52 3 22 3 19 3 23 3 10 3 2 3 1 3 9999"/><path d="M274 912h2484" stroke-dasharray="0 903 3 507 3 27 3 440 3 13 3 137 3 180 3 62 3 15 3 12 3 15 3 14 3 0 3 51 3 13 3 6 3 1 3 20 3 9999"/><path d="M274 914h2484" stroke-dasharray="0 1530 3 300 3 460 3 6 3 1 3 19 3 26 3 5 3 3 3 8 3 15 3 6 3 37 3 9999"/><path d="M274 916h2484" stroke-dasharray="0 651 3 781 3 22 3 63 3 753 3 4 3 16 3 6 3 2 3 18 3 35 3 14 3 40 3 9999"/><path d="M274 918h2484" stroke-dasharray="0 811 3 836 3 451 3 16 3 7 3 148 3 11 3 26 3 2 3 1 3 38 3 2 3 8 3 3 3 16 3 11 3 33 3 4 3 9999"/><path d="M274 920h2484" stroke-dasharray="0 1534 3 164 3 46 3 247 3 112 3 24 3 35 3 58 3 16 3 4 3 11 3 29 3 4 3 34 3 2 3 6 3 39 3 3 3 12 3 2 3 11 3 19 3 9999"/><path d="M274 922h2484" stroke-dasharray="0 791 3 872 3 629 3 100 3 1 3 6 3 9 3 1 3 41 3 9999"/><path d="M274 924h2484" stroke-dasharray="0 1553 3 218 3 96 3 35 3 117 3 96 3 55 3 25 3 17 3 9 3 5 3 27 3 12 3 13 3 1 3 4 3 6 3 3 3 43 3 25 3 4 3 1 3 40 3 9999"/><path d="M274 926h2484" stroke-dasharray="0 644 3 142 3 871 3 334 3 158 3 30 3 51 3 7 3 105 3 43 3 39 3 9999"/><path d="M274 928h2484" stroke-dasharray="0 1892 3 291 3 176 3 0 3 19 3 4 3 5 3 15 3 4 3 0 3 4 3 9999"/><path d="M274 930h2484" stroke-dasharray="0 1683 3 274 3 132 3 105 3 15 3 48 3 32 3 29 3 0 3 0 3 60 3 1 3 9999"/><path d="M274 932h2484" stroke-dasharray="0 990 3 179 3 649 3 62 3 145 3 10 3 92 3 35 3 21 3 2 3 20 3 16 3 35 3 15 3 3 3 1 3 26 3 6 3 13 3 40 3 17 3 18 3 9 3 3 3 9999"/><path d="M274 934h2484" stroke-dasharray="0 1225 3 378 3 41 3 182 3 21 3 41 3 136 3 24 3 21 3 94 3 6 3 44 3 0 3 6 3 18 3 15 3 1 3 11 3 8 3 16 3 45 3 0 3 3 3 0 3 8 3 22 3 13 3 9999"/><path d="M274 936h2484" stroke-dasharray="0 741 3 779 3 653 3 29 3 4 3 17 3 50 3 18 3 15 3 33 3 2 3 3 3 4 3 20 3 26 3 26 3 9999"/><path d="M274 938h2484" stroke-dasharray="0 1624 3 99 3 369 3 90 3 49 3 42 3 4 3 3 3 23 3 46 3 6 3 6 3 34 3 3 3 10 3 15 3 9999"/><path d="M274 940h2484" stroke-dasharray="0 1699 3 0 3 28 3 165 3 189 3 59 3 36 3 17 3 20 3 17 3 10 3 7 3 3 3 50 3 8 3 4 3 41 3 8 3 3 3 45 3 9999"/><path d="M274 942h2484" stroke-dasharray="0 891 3 153 3 301 3 80 3 222 3 220 3 200 3 1 3 97 3 18 3 28 3 26 3 25 3 55 3 19 3 8 3 2 3 14 3 53 3 5 3 9999"/><path d="M274 944h2484" stroke-dasharray="0 786 3 473 3 265 3 455 3 43 3 102 3 109 3 5 3 23 3 8 3 9 3 11 3 5 3 2 3 20 3 21 3 23 3 2 3 5 3 14 3 2 3 6 3 16 3 9999"/><path d="M274 946h2484" stroke-dasharray="0 1779 3 206 3 151 3 5 3 29 3 32 3 1 3 5 3 20 3 0 3 2 3 46 3 10 3 33 3 4 3 26 3 2 3 21 3 1 3 14 3 4 3 14 3 9999"/><path d="M274 948h2484" stroke-dasharray="0 665 3 197 3 4 3 0 3 167 3 52 3 923 3 89 3 64 3 92 3 4 3 7 3 2 3 0 3 34 3 1 3 5 3 14 3 12 3 50 3 14 3 11 3 9999"/><path d="M274 950h2484" stroke-dasharray="0 809 3 271 3 498 3 76 3 42 3 247 3 128 3 49 3 40 3 21 3 8 3 1 3 8 3 0 3 0 3 19 3 28 3 34 3 10 3 105 3 1 3 10 3 9999"/><path d="M274 952h2484" stroke-dasharray="0 757 3 416 3 395 3 268 3 228 3 45 3 32 3 16 3 21 3 27 3 16 3 16 3 31 3 22 3 7 3 7 3 0 3 43 3 0 3 5 3 0 3 46 3 7 3 9999"/><path d="M274 954h2484" stroke-dasharray="0 783 3 77 3 949 3 38 3 91 3 127 3 58 3 6 3 4 3 89 3 1 3 22 3 16 3 0 3 2 3 16 3 19 3 20 3 6 3 11 3 57 3 11 3 9999"/><path d="M274 956h2484" stroke-dasharray="0 677 3 110 3 75 3 943 3 288 3 15 3 0 3 24 3 43 3 15 3 8 3 6 3 3 3 29 3 7 3 11 3 7 3 1 3 10 3 9 3 12 3 6 3 20 3 4 3 5 3 34 3 1 3 30 3 9999"/><path d="M274 958h2484" stroke-dasharray="0 753 3 210 3 1030 3 94 3 25 3 12 3 26 3 18 3 36 3 2 3 4 3 1 3 4 3 34 3 4 3 7 3 9 3 1 3 62 3 1 3 55 3 21 3 9999"/><path d="M274 960h2484" stroke-dasharray="0 672 3 103 3 42 3 36 3 704 3 183 3 109 3 130 3 55 3 68 3 31 3 9 3 4 3 8 3 5 3 12 3 41 3 1 3 5 3 9 3 5 3 0 3 7 3 1 3 22 3 54 3 58 3 6 3 7 3 1 3 9999"/><path d="M274 962h2484" stroke-dasharray="0 665 3 69 3 72 3 45 3 38 3 248 3 943 3 61 3 28 3 19 3 31 3 26 3 6 3 5 3 22 3 28 3 25 3 9 3 4 3 46 3 15 3 2 3 9999"/><path d="M274 964h2484" stroke-dasharray="0 839 3 207 3 141 3 664 3 118 3 33 3 39 3 18 3 50 3 6 3 16 3 3 3 7 3 3 3 21 3 10 3 18 3 11 3 0 3 14 3 3 3 17 3 7 3 9 3 51 3 0 3 2 3 31 3 12 3 0 3 9 3 16 3 9999"/><path d="M274 966h2484" stroke-dasharray="0 682 3 47 3 89 3 0 3 48 3 745 3 158 3 9 3 204 3 23 3 6 3 3 3 45 3 86 3 3 3 7 3 6 3 1 3 41 3 6 3 11 3 16 3 0 3 3 3 7 3 94 3 24 3 19 3 4 3 9999"/><path d="M274 968h2484" stroke-dasharray="0 885 3 4 3 675 3 340 3 91 3 71 3 79 3 11 3 21 3 17 3 22 3 10 3 15 3 7 3 8 3 17 3 34 3 4 3 8 3 25 3 10 3 22 3 9 3 9999"/><path d="M274 970h2484" stroke-dasharray="0 669 3 116 3 43 3 14 3 173 3 315 3 197 3 77 3 234 3 141 3 105 3 5 3 7 3 23 3 43 3 14 3 6 3 4 3 21 3 14 3 10 3 7 3 6 3 9 3 3 3 13 3 9 3 14 3 18 3 7 3 12 3 3 3 1 3 36 3 4 3 9999"/><path d="M274 972h2484" stroke-dasharray="0 664 3 69 3 37 3 100 3 890 3 147 3 58 3 24 3 23 3 16 3 9 3 13 3 35 3 34 3 8 3 16 3 2 3 12 3 19 3 28 3 17 3 5 3 47 3 6 3 9 3 5 3 49 3 18 3 17 3 11 3 9999"/><path d="M274 974h2484" stroke-dasharray="0 630 3 90 3 90 3 11 3 1126 3 152 3 24 3 80 3 1 3 41 3 21 3 4 3 3 3 15 3 63 3 7 3 6 3 1 3 20 3 2 3 1 3 11 3 8 3 9999"/><path d="M274 976h2484" stroke-dasharray="0 785 3 15 3 110 3 357 3 715 3 16 3 34 3 28 3 58 3 4 3 28 3 3 3 16 3 20 3 6 3 6 3 18 3 6 3 0 3 29 3 26 3 8 3 5 3 3 3 2 3 3 3 7 3 17 3 41 3 9999"/><path d="M274 978h2484" stroke-dasharray="0 837 3 23 3 89 3 125 3 532 3 366 3 0 3 5 3 34 3 33 3 29 3 17 3 23 3 19 3 33 3 12 3 5 3 1 3 8 3 4 3 3 3 83 3 5 3 72 3 0 3 3 3 22 3 10 3 9999"/><path d="M274 980h2484" stroke-dasharray="0 714 3 96 3 31 3 97 3 48 3 53 3 58 3 172 3 640 3 11 3 7 3 68 3 47 3 1 3 5 3 1 3 1 3 26 3 12 3 32 3 8 3 20 3 5 3 23 3 3 3 5 3 29 3 0 3 1 3 4 3 0 3 1 3 0 3 4 3 1 3 5 3 13 3 2 3 22 3 24 3 33 3 13 3 9999"/><path d="M274 982h2484" stroke-dasharray="0 601 3 178 3 97 3 336 3 44 3 701 3 10 3 21 3 5 3 22 3 23 3 5 3 28 3 18 3 33 3 24 3 6 3 25 3 4 3 25 3 23 3 15 3 3 3 21 3 14 3 22 3 25 3 12 3 1 3 6 3 23 3 2 3 4 3 9999"/><path d="M274 984h2484" stroke-dasharray="0 672 3 95 3 61 3 24 3 0 3 4 3 5 3 4 3 3 3 10 3 1003 3 73 3 3 3 60 3 19 3 15 3 8 3 8 3 2 3 12 3 13 3 31 3 3 3 0 3 8 3 7 3 0 3 4 3 6 3 13 3 8 3 23 3 41 3 2 3 7 3 8 3 10 3 5 3 57 3 17 3 9999"/><path d="M274 986h2484" stroke-dasharray="0 634 3 181 3 21 3 10 3 0 3 2 3 509 3 410 3 26 3 126 3 7 3 47 3 26 3 0 3 36 3 54 3 41 3 10 3 4 3 7 3 18 3 1 3 0 3 11 3 15 3 5 3 38 3 4 3 5 3 0 3 1 3 0 3 16 3 51 3 1 3 14 3 28 3 9999"/><path d="M274 988h2484" stroke-dasharray="0 656 3 95 3 40 3 33 3 16 3 468 3 466 3 142 3 49 3 6 3 42 3 20 3 1 3 18 3 10 3 18 3 1 3 4 3 9 3 2 3 29 3 5 3 0 3 19 3 50 3 25 3 5 3 27 3 3 3 20 3 1 3 75 3 13 3 9999"/><path d="M274 990h2484" stroke-dasharray="0 688 3 50 3 74 3 20 3 199 3 551 3 142 3 206 3 22 3 12 3 77 3 3 3 7 3 47 3 26 3 8 3 25 3 1 3 13 3 14 3 44 3 38 3 5 3 7 3 23 3 6 3 3 3 1 3 41 3 5 3 9999"/><path d="M274 992h2484" stroke-dasharray="0 931 3 25 3 48 3 794 3 128 3 7 3 10 3 7 3 64 3 3 3 15 3 48 3 9 3 6 3 22 3 5 3 13 3 24 3 1 3 4 3 5 3 4 3 2 3 2 3 2 3 13 3 4 3 3 3 24 3 6 3 18 3 6 3 11 3 4 3 55 3 2 3 8 3 6 3 9 3 9999"/><path d="M274 994h2484" stroke-dasharray="0 816 3 96 3 1 3 2 3 2 3 124 3 163 3 321 3 135 3 232 3 121 3 19 3 6 3 2 3 6 3 48 3 25 3 14 3 8 3 1 3 15 3 37 3 44 3 1 3 16 3 16 3 10 3 2 3 10 3 0 3 18 3 21 3 33 3 9999"/><path d="M274 996h2484" stroke-dasharray="0 759 3 84 3 10 3 27 3 12 3 55 3 199 3 128 3 2 3 534 3 63 3 8 3 5 3 26 3 7 3 3 3 12 3 39 3 19 3 2 3 18 3 4 3 8 3 2 3 7 3 4 3 23 3 26 3 13 3 70 3 0 3 1 3 1 3 15 3 1 3 38 3 5 3 10 3 3 3 29 3 34 3 0 3 9999"/><path d="M274 998h2484" stroke-dasharray="0 619 3 138 3 0 3 46 3 25 3 120 3 250 3 24 3 610 3 72 3 19 3 9 3 17 3 9 3 15 3 18 3 13 3 11 3 5 3 9 3 1 3 24 3 3 3 17 3 25 3 11 3 24 3 50 3 5 3 4 3 14 3 8 3 25 3 1 3 3 3 25 3 13 3 44 3 9999"/><path d="M274 1000h2484" stroke-dasharray="0 784 3 5 3 25 3 34 3 18 3 266 3 110 3 52 3 471 3 66 3 28 3 4 3 18 3 32 3 0 3 55 3 6 3 2 3 4 3 4 3 3 3 16 3 14 3 40 3 7 3 0 3 2 3 48 3 20 3 8 3 30 3 6 3 10 3 30 3 22 3 2 3 47 3 10 3 5 3 11 3 13 3 21 3 9999"/><path d="M274 1002h2484" stroke-dasharray="0 763 3 60 3 0 3 191 3 169 3 88 3 439 3 26 3 3 3 60 3 117 3 23 3 21 3 21 3 4 3 8 3 0 3 3 3 5 3 24 3 40 3 6 3 29 3 8 3 8 3 65 3 11 3 10 3 16 3 17 3 19 3 9 3 2 3 26 3 41 3 14 3 9999"/><path d="M274 1004h2484" stroke-dasharray="0 790 3 46 3 121 3 312 3 198 3 301 3 25 3 55 3 15 3 49 3 3 3 40 3 41 3 3 3 26 3 3 3 14 3 13 3 0 3 23 3 18 3 4 3 1 3 4 3 3 3 27 3 12 3 20 3 5 3 42 3 7 3 9 3 6 3 47 3 9999"/><path d="M274 1006h2484" stroke-dasharray="0 716 3 63 3 72 3 33 3 42 3 9 3 566 3 119 3 109 3 19 3 11 3 12 3 0 3 62 3 2 3 23 3 14 3 16 3 25 3 2 3 3 3 2 3 51 3 2 3 0 3 19 3 1 3 26 3 24 3 9 3 6 3 10 3 21 3 9 3 13 3 17 3 1 3 19 3 4 3 8 3 16 3 0 3 10 3 6 3 50 3 3 3 2 3 27 3 15 3 0 3 21 3 10 3 9999"/><path d="M274 1008h2484" stroke-dasharray="0 830 3 7 3 60 3 464 3 344 3 47 3 33 3 68 3 20 3 1 3 6 3 36 3 21 3 4 3 12 3 0 3 0 3 4 3 20 3 10 3 16 3 10 3 8 3 18 3 2 3 1 3 10 3 3 3 8 3 2 3 7 3 11 3 1 3 14 3 40 3 9 3 0 3 3 3 0 3 3 3 23 3 16 3 6 3 24 3 10 3 17 3 42 3 0 3 1 3 9999"/><path d="M274 1010h2484" stroke-dasharray="0 700 3 81 3 725 3 40 3 112 3 65 3 85 3 16 3 8 3 12 3 6 3 1 3 21 3 43 3 15 3 34 3 3 3 47 3 17 3 1 3 6 3 8 3 2 3 13 3 8 3 20 3 5 3 9 3 23 3 3 3 7 3 15 3 32 3 31 3 24 3 65 3 3 3 8 3 9999"/><path d="M274 1012h2484" stroke-dasharray="0 815 3 30 3 4 3 288 3 48 3 42 3 371 3 49 3 5 3 37 3 5 3 15 3 9 3 11 3 45 3 4 3 3 3 22 3 15 3 8 3 4 3 2 3 16 3 47 3 13 3 10 3 7 3 11 3 4 3 7 3 12 3 33 3 9 3 5 3 15 3 23 3 7 3 12 3 17 3 11 3 2 3 14 3 23 3 7 3 2 3 40 3 15 3 9 3 24 3 10 3 0 3 19 3 1 3 14 3 6 3 4 3 19 3 9999"/><path d="M274 1014h2484" stroke-dasharray="0 812 3 55 3 22 3 0 3 171 3 5 3 15 3 127 3 160 3 76 3 105 3 66 3 74 3 18 3 8 3 3 3 24 3 4 3 19 3 5 3 6 3 9 3 19 3 63 3 6 3 3 3 8 3 4 3 6 3 3 3 10 3 15 3 2 3 13 3 6 3 20 3 13 3 3 3 5 3 33 3 8 3 32 3 68 3 13 3 13 3 23 3 19 3 103 3 16 3 9999"/><path d="M274 1016h2484" stroke-dasharray="0 603 3 190 3 55 3 39 3 200 3 75 3 24 3 89 3 73 3 209 3 57 3 34 3 1 3 11 3 33 3 67 3 21 3 26 3 4 3 13 3 14 3 35 3 26 3 0 3 7 3 63 3 11 3 10 3 2 3 58 3 4 3 4 3 26 3 6 3 8 3 14 3 42 3 9 3 24 3 53 3 39 3 14 3 6 3 37 3 9999"/><path d="M274 1018h2484" stroke-dasharray="0 881 3 32 3 183 3 113 3 28 3 116 3 25 3 27 3 135 3 32 3 4 3 17 3 10 3 47 3 8 3 4 3 4 3 12 3 25 3 33 3 20 3 7 3 7 3 36 3 4 3 4 3 10 3 20 3 28 3 11 3 6 3 1 3 15 3 42 3 31 3 6 3 0 3 7 3 22 3 17 3 7 3 17 3 8 3 1 3 44 3 33 3 1 3 62 3 4 3 16 3 31 3 48 3 2 3 9999"/><path d="M274 1020h2484" stroke-dasharray="0 795 3 10 3 66 3 57 3 157 3 11 3 93 3 95 3 11 3 13 3 26 3 34 3 28 3 11 3 6 3 75 3 1 3 9 3 3 3 98 3 5 3 61 3 22 3 19 3 14 3 17 3 8 3 32 3 7 3 0 3 1 3 16 3 0 3 21 3 22 3 2 3 53 3 31 3 3 3 8 3 0 3 9 3 8 3 5 3 8 3 22 3 23 3 32 3 23 3 9 3 11 3 40 3 18 3 51 3 8 3 45 3 23 3 9999"/><path d="M274 1022h2484" stroke-dasharray="0 828 3 0 3 153 3 51 3 25 3 110 3 96 3 5 3 6 3 23 3 165 3 32 3 73 3 51 3 48 3 7 3 8 3 10 3 20 3 0 3 1 3 13 3 18 3 15 3 7 3 5 3 9 3 4 3 31 3 2 3 5 3 11 3 12 3 41 3 53 3 12 3 12 3 3 3 6 3 0 3 11 3 13 3 11 3 10 3 10 3 16 3 0 3 47 3 1 3 39 3 68 3 10 3 15 3 2 3 50 3 30 3 9999"/><path d="M274 1024h2484" stroke-dasharray="0 750 3 43 3 191 3 121 3 160 3 21 3 42 3 34 3 133 3 9 3 53 3 21 3 37 3 1 3 11 3 17 3 28 3 2 3 9 3 17 3 8 3 6 3 28 3 8 3 7 3 16 3 8 3 19 3 26 3 15 3 0 3 17 3 14 3 14 3 40 3 1 3 3 3 8 3 50 3 36 3 4 3 24 3 23 3 29 3 1 3 7 3 7 3 7 3 39 3 10 3 12 3 65 3 7 3 9999"/><path d="M274 1026h2484" stroke-dasharray="0 809 3 261 3 154 3 4 3 78 3 167 3 32 3 54 3 6 3 19 3 17 3 36 3 23 3 10 3 8 3 17 3 5 3 25 3 3 3 35 3 9 3 2 3 14 3 15 3 4 3 4 3 1 3 0 3 10 3 6 3 9 3 36 3 1 3 8 3 21 3 21 3 0 3 47 3 17 3 20 3 3 3 14 3 57 3 29 3 35 3 11 3 12 3 61 3 10 3 20 3 20 3 9999"/><path d="M274 1028h2484" stroke-dasharray="0 867 3 244 3 23 3 81 3 25 3 79 3 18 3 86 3 0 3 5 3 49 3 2 3 40 3 11 3 4 3 24 3 19 3 12 3 38 3 2 3 17 3 12 3 13 3 15 3 0 3 18 3 0 3 10 3 9 3 0 3 3 3 3 3 4 3 12 3 5 3 21 3 7 3 7 3 5 3 9 3 69 3 3 3 14 3 6 3 14 3 4 3 2 3 23 3 13 3 6 3 20 3 14 3 9 3 43 3 7 3 20 3 70 3 23 3 4 3 23 3 4 3 29 3 21 3 25 3 4 3 9 3 9999"/><path d="M274 1030h2484" stroke-dasharray="0 814 3 69 3 60 3 187 3 0 3 8 3 108 3 142 3 4 3 37 3 0 3 3 3 0 3 0 3 74 3 18 3 18 3 10 3 17 3 3 3 5 3 11 3 20 3 9 3 10 3 12 3 17 3 26 3 14 3 27 3 6 3 3 3 9 3 24 3 11 3 16 3 6 3 2 3 29 3 12 3 20 3 14 3 29 3 20 3 30 3 2 3 1 3 2 3 24 3 3 3 3 3 13 3 7 3 21 3 20 3 23 3 1 3 29 3 4 3 9 3 13 3 153 3 9999"/><path d="M274 1032h2484" stroke-dasharray="0 843 3 42 3 144 3 12 3 91 3 51 3 47 3 53 3 17 3 52 3 16 3 11 3 10 3 60 3 7 3 34 3 12 3 40 3 51 3 1 3 0 3 8 3 12 3 13 3 5 3 2 3 24 3 1 3 63 3 0 3 4 3 9 3 17 3 24 3 1 3 7 3 1 3 5 3 14 3 28 3 6 3 29 3 5 3 6 3 0 3 14 3 13 3 18 3 1 3 51 3 4 3 1 3 5 3 9 3 28 3 62 3 55 3 68 3 41 3 15 3 11 3 9999"/><path d="M274 1034h2484" stroke-dasharray="0 808 3 61 3 188 3 44 3 12 3 93 3 129 3 26 3 41 3 3 3 19 3 52 3 25 3 5 3 0 3 9 3 2 3 21 3 2 3 8 3 29 3 9 3 3 3 9 3 31 3 24 3 4 3 23 3 5 3 10 3 7 3 13 3 1 3 21 3 13 3 13 3 20 3 2 3 12 3 8 3 8 3 7 3 41 3 75 3 108 3 27 3 214 3 32 3 9999"/><path d="M274 1036h2484" stroke-dasharray="0 857 3 391 3 102 3 50 3 66 3 3 3 57 3 50 3 9 3 9 3 12 3 4 3 0 3 4 3 33 3 2 3 4 3 1 3 2 3 2 3 7 3 12 3 16 3 23 3 19 3 0 3 37 3 1 3 32 3 20 3 19 3 2 3 7 3 44 3 26 3 11 3 10 3 5 3 5 3 22 3 52 3 4 3 62 3 38 3 41 3 45 3 32 3 38 3 9999"/><path d="M274 1038h2484" stroke-dasharray="0 824 3 9 3 13 3 213 3 3 3 32 3 12 3 12 3 21 3 5 3 60 3 7 3 8 3 77 3 0 3 2 3 38 3 15 3 18 3 6 3 12 3 17 3 2 3 9 3 0 3 2 3 9 3 32 3 52 3 21 3 0 3 25 3 33 3 1 3 13 3 2 3 9 3 27 3 57 3 6 3 25 3 28 3 2 3 8 3 6 3 5 3 4 3 20 3 0 3 4 3 12 3 12 3 5 3 15 3 23 3 53 3 10 3 24 3 31 3 11 3 20 3 5 3 9 3 13 3 20 3 49 3 3 3 5 3 4 3 54 3 16 3 10 3 9999"/><path d="M274 1040h2484" stroke-dasharray="0 764 3 77 3 137 3 98 3 56 3 16 3 17 3 3 3 24 3 27 3 19 3 7 3 7 3 3 3 6 3 1 3 33 3 8 3 21 3 60 3 12 3 10 3 2 3 6 3 17 3 6 3 8 3 1 3 24 3 4 3 1 3 4 3 26 3 0 3 27 3 28 3 2 3 53 3 4 3 5 3 11 3 6 3 8 3 22 3 3 3 0 3 12 3 5 3 2 3 34 3 2 3 29 3 8 3 21 3 8 3 14 3 13 3 12 3 7 3 23 3 1 3 0 3 75 3 9 3 24 3 7 3 0 3 58 3 31 3 150 3 3 3 26 3 9999"/><path d="M274 1042h2484" stroke-dasharray="0 1147 3 12 3 52 3 2 3 40 3 5 3 55 3 34 3 35 3 22 3 0 3 9 3 36 3 8 3 42 3 23 3 67 3 0 3 25 3 20 3 2 3 37 3 13 3 26 3 22 3 7 3 8 3 4 3 19 3 2 3 0 3 70 3 25 3 20 3 14 3 6 3 25 3 21 3 6 3 8 3 5 3 36 3 55 3 33 3 3 3 16 3 15 3 125 3 45 3 18 3 9999"/><path d="M274 1044h2484" stroke-dasharray="0 885 3 247 3 5 3 70 3 3 3 21 3 54 3 50 3 20 3 37 3 3 3 17 3 12 3 37 3 62 3 25 3 97 3 32 3 10 3 10 3 23 3 0 3 0 3 9 3 17 3 9 3 24 3 23 3 11 3 101 3 6 3 10 3 58 3 21 3 64 3 23 3 268 3 9999"/><path d="M274 1046h2484" stroke-dasharray="0 856 3 8 3 384 3 62 3 6 3 4 3 96 3 93 3 104 3 77 3 101 3 296 3 0 3 100 3 102 3 9999"/><path d="M274 1048h2484" stroke-dasharray="0 1209 3 11 3 568 3 2 3 272 3 15 3 28 3 103 3 128 3 9999"/><path d="M274 1050h2484" stroke-dasharray="0 756 3 540 3 95 3 155 3 93 3 77 3 49 3 9999"/><path d="M274 1052h2484" stroke-dasharray="0 1270 3 473 3 9999"/><path d="M274 1054h2484" stroke-dasharray="0 850 3 9999"/><path d="M274 1080h2484" stroke-dasharray="0 1227 3 9 3 610 3 11 3 76 3 5 3 100 3 21 3 62 3 60 3 33 3 0 3 135 3 4 3 58 3 8 3 9999"/><path d="M274 1082h2484" stroke-dasharray="0 1237 3 39 3 651 3 336 3 84 3 73 3 8 3 9999"/><path d="M274 1084h2484" stroke-dasharray="0 1358 3 474 3 69 3 146 3 91 3 139 3 3 3 41 3 48 3 34 3 0 3 31 3 9999"/><path d="M274 1086h2484" stroke-dasharray="0 1163 3 355 3 87 3 296 3 260 3 144 3 2 3 118 3 11 3 9999"/><path d="M274 1088h2484" stroke-dasharray="0 1143 3 110 3 39 3 855 3 104 3 85 3 0 3 23 3 36 3 21 3 6 3 9999"/><path d="M274 1090h2484" stroke-dasharray="0 971 3 79 3 375 3 805 3 111 3 13 3 44 3 9999"/><path d="M274 1092h2484" stroke-dasharray="0 1198 3 389 3 268 3 18 3 44 3 129 3 55 3 22 3 148 3 64 3 35 3 4 3 53 3 1 3 0 3 9999"/><path d="M274 1094h2484" stroke-dasharray="0 924 3 507 3 482 3 19 3 14 3 193 3 87 3 113 3 21 3 19 3 46 3 14 3 9999"/><path d="M274 1096h2484" stroke-dasharray="0 1665 3 1 3 222 3 16 3 43 3 87 3 21 3 187 3 1 3 78 3 56 3 17 3 23 3 5 3 6 3 9999"/><path d="M274 1098h2484" stroke-dasharray="0 1645 3 208 3 121 3 36 3 49 3 26 3 8 3 214 3 12 3 24 3 28 3 24 3 14 3 9999"/><path d="M274 1100h2484" stroke-dasharray="0 671 3 426 3 553 3 180 3 0 3 91 3 299 3 154 3 0 3 5 3 48 3 13 3 9999"/><path d="M274 1102h2484" stroke-dasharray="0 944 3 292 3 31 3 588 3 549 3 13 3 2 3 29 3 2 3 9999"/><path d="M274 1104h2484" stroke-dasharray="0 1047 3 729 3 141 3 62 3 75 3 86 3 70 3 114 3 0 3 17 3 15 3 6 3 31 3 25 3 4 3 0 3 0 3 9999"/><path d="M274 1106h2484" stroke-dasharray="0 675 3 470 3 143 3 267 3 303 3 137 3 56 3 70 3 38 3 26 3 87 3 15 3 50 3 37 3 3 3 9999"/><path d="M274 1108h2484" stroke-dasharray="0 844 3 427 3 752 3 221 3 85 3 47 3 40 3 4 3 8 3 13 3 3 3 9999"/><path d="M274 1110h2484" stroke-dasharray="0 929 3 176 3 306 3 529 3 102 3 47 3 124 3 53 3 16 3 27 3 12 3 45 3 2 3 8 3 2 3 18 3 4 3 13 3 9999"/><path d="M274 1112h2484" stroke-dasharray="0 1078 3 4 3 220 3 629 3 12 3 283 3 122 3 4 3 7 3 4 3 15 3 5 3 17 3 27 3 5 3 9999"/><path d="M274 1114h2484" stroke-dasharray="0 768 3 395 3 4 3 40 3 198 3 131 3 66 3 452 3 82 3 131 3 53 3 42 3 46 3 8 3 0 3 2 3 5 3 9999"/><path d="M274 1116h2484" stroke-dasharray="0 861 3 729 3 545 3 12 3 65 3 3 3 28 3 8 3 125 3 1 3 7 3 8 3 27 3 6 3 9999"/><path d="M274 1118h2484" stroke-dasharray="0 1076 3 489 3 286 3 405 3 3 3 86 3 39 3 49 3 3 3 9999"/><path d="M274 1120h2484" stroke-dasharray="0 1911 3 172 3 14 3 72 3 16 3 56 3 40 3 24 3 27 3 3 3 2 3 4 3 69 3 2 3 8 3 9999"/><path d="M274 1122h2484" stroke-dasharray="0 1578 3 415 3 29 3 55 3 2 3 48 3 152 3 65 3 31 3 8 3 14 3 10 3 10 3 16 3 9999"/><path d="M274 1124h2484" stroke-dasharray="0 1152 3 648 3 1 3 181 3 76 3 22 3 68 3 7 3 44 3 5 3 41 3 67 3 7 3 0 3 2 3 5 3 33 3 21 3 4 3 4 3 8 3 9999"/><path d="M274 1126h2484" stroke-dasharray="0 896 3 1126 3 313 3 1 3 40 3 12 3 1 3 3 3 16 3 10 3 19 3 9999"/><path d="M274 1128h2484" stroke-dasharray="0 1169 3 193 3 664 3 75 3 53 3 3 3 61 3 77 3 12 3 19 3 21 3 43 3 3 3 15 3 11 3 9999"/><path d="M274 1130h2484" stroke-dasharray="0 1604 3 271 3 292 3 92 3 9 3 56 3 21 3 30 3 3 3 16 3 5 3 10 3 0 3 7 3 9 3 9999"/><path d="M274 1132h2484" stroke-dasharray="0 1085 3 726 3 268 3 56 3 49 3 116 3 17 3 1 3 13 3 4 3 9 3 8 3 32 3 15 3 31 3 9999"/><path d="M274 1134h2484" stroke-dasharray="0 888 3 1019 3 336 3 19 3 46 3 10 3 16 3 16 3 14 3 20 3 5 3 4 3 11 3 10 3 9999"/><path d="M274 1136h2484" stroke-dasharray="0 840 3 78 3 177 3 117 3 759 3 34 3 119 3 81 3 4 3 18 3 4 3 68 3 74 3 24 3 16 3 9999"/><path d="M274 1138h2484" stroke-dasharray="0 1168 3 325 3 433 3 230 3 77 3 1 3 27 3 12 3 64 3 45 3 7 3 15 3 12 3 9999"/><path d="M274 1140h2484" stroke-dasharray="0 806 3 356 3 648 3 118 3 48 3 18 3 18 3 11 3 20 3 57 3 81 3 16 3 17 3 50 3 23 3 14 3 63 3 5 3 7 3 3 3 12 3 11 3 9999"/><path d="M274 1142h2484" stroke-dasharray="0 2186 3 4 3 39 3 97 3 24 3 46 3 1 3 8 3 31 3 5 3 9999"/><path d="M274 1144h2484" stroke-dasharray="0 1190 3 763 3 10 3 87 3 116 3 95 3 60 3 40 3 1 3 8 3 4 3 17 3 2 3 3 3 22 3 9999"/><path d="M274 1146h2484" stroke-dasharray="0 670 3 1010 3 173 3 201 3 61 3 41 3 62 3 7 3 9 3 37 3 8 3 22 3 65 3 16 3 35 3 9999"/><path d="M274 1148h2484" stroke-dasharray="0 913 3 734 3 97 3 405 3 9 3 25 3 27 3 29 3 6 3 4 3 9 3 29 3 57 3 18 3 12 3 48 3 9999"/><path d="M274 1150h2484" stroke-dasharray="0 1007 3 162 3 436 3 199 3 91 3 7 3 212 3 22 3 61 3 45 3 84 3 55 3 4 3 0 3 33 3 5 3 4 3 9999"/><path d="M274 1152h2484" stroke-dasharray="0 1855 3 31 3 203 3 34 3 105 3 40 3 4 3 1 3 4 3 22 3 15 3 12 3 44 3 14 3 15 3 8 3 2 3 9 3 9999"/><path d="M274 1154h2484" stroke-dasharray="0 1363 3 753 3 82 3 43 3 14 3 15 3 25 3 39 3 7 3 6 3 7 3 22 3 7 3 14 3 2 3 24 3 9999"/><path d="M274 1156h2484" stroke-dasharray="0 1514 3 345 3 108 3 47 3 65 3 42 3 62 3 0 3 32 3 60 3 4 3 2 3 11 3 68 3 0 3 60 3 2 3 9999"/><path d="M274 1158h2484" stroke-dasharray="0 1095 3 698 3 195 3 164 3 18 3 31 3 34 3 2 3 21 3 0 3 9 3 7 3 3 3 31 3 16 3 22 3 27 3 3 3 7 3 5 3 3 3 21 3 9999"/><path d="M274 1160h2484" stroke-dasharray="0 737 3 449 3 69 3 340 3 492 3 35 3 59 3 52 3 3 3 15 3 7 3 8 3 16 3 85 3 17 3 5 3 28 3 9999"/><path d="M274 1162h2484" stroke-dasharray="0 1278 3 80 3 360 3 139 3 62 3 148 3 72 3 35 3 28 3 0 3 6 3 1 3 47 3 46 3 7 3 4 3 15 3 24 3 15 3 36 3 2 3 7 3 9999"/><path d="M274 1164h2484" stroke-dasharray="0 1183 3 30 3 30 3 575 3 207 3 31 3 66 3 48 3 41 3 2 3 30 3 7 3 33 3 4 3 6 3 15 3 12 3 9 3 6 3 47 3 1 3 7 3 4 3 9999"/><path d="M274 1166h2484" stroke-dasharray="0 1047 3 290 3 679 3 82 3 16 3 30 3 13 3 11 3 1 3 21 3 57 3 13 3 55 3 11 3 2 3 26 3 0 3 2 3 0 3 0 3 3 3 4 3 9 3 18 3 3 3 4 3 0 3 9999"/><path d="M274 1168h2484" stroke-dasharray="0 968 3 1164 3 8 3 17 3 42 3 0 3 9 3 28 3 33 3 39 3 6 3 31 3 18 3 22 3 23 3 19 3 1 3 9999"/><path d="M274 1170h2484" stroke-dasharray="0 2048 3 62 3 32 3 60 3 2 3 4 3 9 3 2 3 9 3 3 3 73 3 6 3 31 3 7 3 14 3 7 3 21 3 9 3 14 3 9999"/><path d="M274 1172h2484" stroke-dasharray="0 970 3 310 3 243 3 222 3 99 3 59 3 181 3 10 3 5 3 40 3 48 3 34 3 26 3 9 3 1 3 4 3 0 3 0 3 7 3 36 3 48 3 7 3 8 3 9 3 22 3 9999"/><path d="M274 1174h2484" stroke-dasharray="0 747 3 177 3 57 3 935 3 98 3 39 3 55 3 13 3 17 3 41 3 13 3 7 3 14 3 2 3 3 3 2 3 2 3 1 3 16 3 9 3 63 3 11 3 3 3 10 3 17 3 11 3 14 3 15 3 9999"/><path d="M274 1176h2484" stroke-dasharray="0 820 3 105 3 290 3 688 3 1 3 10 3 80 3 41 3 79 3 9 3 62 3 29 3 69 3 41 3 2 3 11 3 11 3 7 3 5 3 3 3 10 3 20 3 9 3 9999"/><path d="M274 1178h2484" stroke-dasharray="0 947 3 46 3 88 3 140 3 575 3 76 3 109 3 52 3 7 3 10 3 4 3 30 3 9 3 13 3 0 3 86 3 4 3 4 3 5 3 0 3 18 3 36 3 40 3 39 3 0 3 3 3 27 3 5 3 9999"/><path d="M274 1180h2484" stroke-dasharray="0 740 3 131 3 1055 3 12 3 214 3 29 3 0 3 2 3 22 3 9 3 14 3 1 3 65 3 8 3 5 3 12 3 6 3 21 3 3 3 1 3 17 3 3 3 6 3 0 3 10 3 13 3 9999"/><path d="M274 1182h2484" stroke-dasharray="0 1017 3 131 3 122 3 30 3 217 3 342 3 66 3 49 3 2 3 22 3 27 3 33 3 9 3 63 3 4 3 17 3 3 3 41 3 2 3 4 3 2 3 4 3 17 3 0 3 3 3 0 3 0 3 0 3 57 3 44 3 4 3 9999"/><path d="M274 1184h2484" stroke-dasharray="0 827 3 280 3 231 3 192 3 566 3 5 3 16 3 50 3 2 3 18 3 18 3 18 3 6 3 31 3 62 3 21 3 34 3 41 3 9999"/><path d="M274 1186h2484" stroke-dasharray="0 867 3 1170 3 2 3 24 3 6 3 31 3 2 3 16 3 32 3 17 3 76 3 8 3 15 3 10 3 33 3 17 3 13 3 22 3 4 3 16 3 17 3 3 3 9999"/><path d="M274 1188h2484" stroke-dasharray="0 1346 3 122 3 414 3 201 3 12 3 22 3 0 3 3 3 9 3 14 3 13 3 46 3 1 3 105 3 4 3 3 3 13 3 13 3 3 3 21 3 7 3 24 3 0 3 9999"/><path d="M274 1190h2484" stroke-dasharray="0 1045 3 26 3 156 3 314 3 458 3 60 3 19 3 3 3 16 3 13 3 9 3 13 3 21 3 30 3 6 3 17 3 4 3 9 3 38 3 30 3 13 3 12 3 23 3 6 3 9 3 0 3 16 3 1 3 19 3 9999"/><path d="M274 1192h2484" stroke-dasharray="0 903 3 173 3 790 3 69 3 24 3 59 3 73 3 0 3 10 3 5 3 4 3 25 3 9 3 3 3 6 3 18 3 2 3 22 3 7 3 3 3 16 3 18 3 1 3 14 3 2 3 17 3 1 3 25 3 10 3 20 3 4 3 27 3 8 3 5 3 9999"/><path d="M274 1194h2484" stroke-dasharray="0 659 3 302 3 46 3 7 3 220 3 794 3 5 3 84 3 9 3 10 3 13 3 4 3 1 3 35 3 60 3 7 3 5 3 45 3 41 3 1 3 9 3 7 3 4 3 28 3 9999"/><path d="M274 1196h2484" stroke-dasharray="0 931 3 34 3 53 3 0 3 324 3 7 3 232 3 95 3 216 3 79 3 74 3 80 3 6 3 37 3 30 3 8 3 69 3 13 3 6 3 21 3 3 3 0 3 3 3 13 3 1 3 11 3 1 3 2 3 0 3 6 3 8 3 9999"/><path d="M274 1198h2484" stroke-dasharray="0 1057 3 877 3 55 3 17 3 11 3 57 3 16 3 3 3 35 3 8 3 64 3 7 3 3 3 4 3 31 3 79 3 9 3 23 3 2 3 0 3 5 3 43 3 9999"/><path d="M274 1200h2484" stroke-dasharray="0 992 3 20 3 118 3 172 3 1 3 185 3 506 3 26 3 26 3 21 3 0 3 28 3 18 3 22 3 36 3 7 3 7 3 1 3 1 3 13 3 12 3 17 3 3 3 1 3 46 3 37 3 4 3 30 3 7 3 2 3 4 3 9999"/><path d="M274 1202h2484" stroke-dasharray="0 860 3 52 3 65 3 45 3 787 3 132 3 1 3 7 3 2 3 26 3 0 3 34 3 1 3 6 3 1 3 44 3 23 3 15 3 10 3 5 3 5 3 3 3 2 3 37 3 7 3 3 3 2 3 3 3 54 3 25 3 4 3 10 3 8 3 49 3 3 3 2 3 5 3 19 3 2 3 9999"/><path d="M274 1204h2484" stroke-dasharray="0 959 3 85 3 732 3 133 3 12 3 49 3 4 3 6 3 28 3 8 3 40 3 33 3 1 3 36 3 61 3 17 3 5 3 23 3 29 3 4 3 5 3 0 3 21 3 41 3 21 3 35 3 9999"/><path d="M274 1206h2484" stroke-dasharray="0 810 3 115 3 54 3 44 3 43 3 797 3 132 3 3 3 32 3 8 3 11 3 1 3 1 3 16 3 18 3 32 3 4 3 1 3 13 3 61 3 9 3 8 3 11 3 19 3 19 3 3 3 34 3 7 3 15 3 11 3 42 3 9999"/><path d="M274 1208h2484" stroke-dasharray="0 870 3 28 3 44 3 6 3 5 3 69 3 8 3 837 3 51 3 23 3 16 3 2 3 2 3 0 3 4 3 12 3 3 3 8 3 2 3 12 3 0 3 0 3 11 3 49 3 0 3 48 3 4 3 1 3 0 3 42 3 15 3 3 3 9 3 9 3 27 3 14 3 0 3 18 3 19 3 12 3 26 3 2 3 32 3 9999"/><path d="M274 1210h2484" stroke-dasharray="0 660 3 184 3 13 3 81 3 20 3 123 3 63 3 289 3 402 3 58 3 10 3 18 3 6 3 16 3 6 3 54 3 7 3 49 3 38 3 19 3 23 3 33 3 37 3 11 3 40 3 20 3 31 3 46 3 9 3 0 3 0 3 1 3 10 3 9999"/><path d="M274 1212h2484" stroke-dasharray="0 708 3 92 3 102 3 65 3 30 3 204 3 402 3 298 3 2 3 33 3 57 3 55 3 1 3 2 3 4 3 2 3 15 3 12 3 2 3 3 3 11 3 5 3 7 3 3 3 2 3 20 3 35 3 15 3 4 3 2 3 8 3 13 3 14 3 4 3 7 3 7 3 5 3 3 3 6 3 0 3 10 3 1 3 1 3 13 3 11 3 25 3 9999"/><path d="M274 1214h2484" stroke-dasharray="0 878 3 29 3 40 3 524 3 187 3 165 3 65 3 7 3 11 3 29 3 15 3 20 3 14 3 9 3 1 3 7 3 8 3 14 3 30 3 29 3 14 3 4 3 9 3 12 3 28 3 17 3 27 3 7 3 8 3 27 3 1 3 3 3 13 3 3 3 50 3 41 3 0 3 6 3 9999"/><path d="M274 1216h2484" stroke-dasharray="0 877 3 601 3 284 3 108 3 10 3 3 3 50 3 10 3 35 3 69 3 24 3 19 3 39 3 2 3 7 3 6 3 9 3 21 3 0 3 0 3 22 3 5 3 5 3 50 3 8 3 2 3 9 3 1 3 25 3 55 3 18 3 9999"/><path d="M274 1218h2484" stroke-dasharray="0 819 3 17 3 60 3 34 3 908 3 35 3 1 3 101 3 17 3 24 3 16 3 18 3 13 3 15 3 48 3 1 3 0 3 9 3 6 3 38 3 3 3 14 3 4 3 12 3 18 3 8 3 9 3 14 3 27 3 21 3 13 3 19 3 4 3 14 3 8 3 9999"/><path d="M274 1220h2484" stroke-dasharray="0 873 3 9 3 32 3 21 3 16 3 829 3 24 3 45 3 1 3 1 3 7 3 22 3 25 3 0 3 20 3 11 3 1 3 8 3 3 3 31 3 7 3 26 3 20 3 1 3 1 3 5 3 24 3 30 3 16 3 1 3 10 3 1 3 26 3 4 3 13 3 3 3 18 3 13 3 9 3 4 3 1 3 10 3 33 3 3 3 9 3 21 3 28 3 17 3 9999"/><path d="M274 1222h2484" stroke-dasharray="0 801 3 62 3 169 3 665 3 0 3 87 3 41 3 26 3 30 3 12 3 10 3 0 3 1 3 0 3 17 3 14 3 8 3 1 3 10 3 14 3 21 3 10 3 14 3 7 3 14 3 5 3 4 3 23 3 10 3 5 3 19 3 1 3 21 3 37 3 27 3 37 3 13 3 2 3 26 3 3 3 25 3 17 3 2 3 2 3 9999"/><path d="M274 1224h2484" stroke-dasharray="0 900 3 25 3 0 3 55 3 54 3 13 3 131 3 532 3 51 3 79 3 6 3 20 3 2 3 13 3 0 3 5 3 4 3 10 3 2 3 8 3 20 3 2 3 4 3 2 3 21 3 9 3 9 3 17 3 22 3 4 3 4 3 3 3 23 3 15 3 7 3 4 3 6 3 4 3 39 3 6 3 14 3 0 3 39 3 8 3 12 3 7 3 30 3 11 3 10 3 29 3 9999"/><path d="M274 1226h2484" stroke-dasharray="0 955 3 12 3 36 3 12 3 62 3 85 3 507 3 37 3 3 3 70 3 20 3 14 3 15 3 25 3 4 3 11 3 32 3 38 3 68 3 24 3 32 3 3 3 23 3 7 3 8 3 7 3 0 3 40 3 17 3 1 3 3 3 21 3 50 3 18 3 3 3 28 3 3 3 44 3 9999"/><path d="M274 1228h2484" stroke-dasharray="0 800 3 70 3 42 3 22 3 59 3 6 3 649 3 121 3 47 3 5 3 1 3 26 3 38 3 3 3 8 3 4 3 6 3 8 3 14 3 27 3 3 3 3 3 7 3 7 3 3 3 13 3 5 3 16 3 5 3 1 3 5 3 2 3 25 3 1 3 16 3 27 3 15 3 16 3 0 3 9 3 5 3 102 3 42 3 46 3 9999"/><path d="M274 1230h2484" stroke-dasharray="0 839 3 84 3 579 3 174 3 39 3 68 3 55 3 4 3 3 3 11 3 5 3 18 3 4 3 69 3 0 3 9 3 22 3 5 3 43 3 18 3 2 3 6 3 6 3 26 3 7 3 53 3 6 3 18 3 40 3 1 3 2 3 68 3 7 3 2 3 40 3 8 3 20 3 9999"/><path d="M274 1232h2484" stroke-dasharray="0 866 3 11 3 192 3 235 3 25 3 144 3 103 3 85 3 11 3 3 3 6 3 111 3 1 3 34 3 8 3 38 3 11 3 17 3 1 3 3 3 24 3 7 3 4 3 54 3 2 3 4 3 8 3 6 3 31 3 17 3 27 3 19 3 2 3 10 3 41 3 12 3 7 3 22 3 25 3 36 3 2 3 23 3 15 3 11 3 13 3 9999"/><path d="M274 1234h2484" stroke-dasharray="0 922 3 70 3 305 3 59 3 42 3 52 3 37 3 91 3 8 3 21 3 49 3 18 3 27 3 16 3 11 3 22 3 57 3 20 3 11 3 7 3 5 3 6 3 6 3 49 3 14 3 2 3 13 3 2 3 4 3 8 3 5 3 8 3 6 3 9 3 80 3 6 3 7 3 14 3 18 3 8 3 101 3 8 3 0 3 0 3 14 3 24 3 7 3 9999"/><path d="M274 1236h2484" stroke-dasharray="0 887 3 42 3 536 3 45 3 3 3 92 3 65 3 24 3 45 3 3 3 3 3 38 3 29 3 23 3 6 3 10 3 17 3 19 3 17 3 13 3 8 3 17 3 2 3 0 3 14 3 2 3 32 3 7 3 2 3 24 3 0 3 11 3 1 3 0 3 3 3 6 3 3 3 6 3 37 3 0 3 10 3 23 3 1 3 12 3 1 3 0 3 26 3 21 3 26 3 20 3 18 3 50 3 13 3 1 3 9999"/><path d="M274 1238h2484" stroke-dasharray="0 729 3 311 3 40 3 24 3 15 3 340 3 8 3 38 3 259 3 18 3 16 3 7 3 33 3 1 3 26 3 6 3 23 3 1 3 44 3 5 3 10 3 4 3 42 3 0 3 8 3 10 3 12 3 12 3 0 3 2 3 21 3 1 3 19 3 0 3 4 3 0 3 39 3 3 3 34 3 7 3 3 3 70 3 69 3 16 3 9999"/><path d="M274 1240h2484" stroke-dasharray="0 1063 3 369 3 39 3 8 3 37 3 43 3 12 3 95 3 2 3 7 3 55 3 4 3 9 3 23 3 4 3 13 3 1 3 5 3 28 3 6 3 9 3 5 3 2 3 3 3 8 3 4 3 4 3 3 3 1 3 4 3 2 3 18 3 30 3 4 3 6 3 3 3 4 3 8 3 6 3 18 3 0 3 7 3 3 3 16 3 7 3 22 3 31 3 25 3 4 3 23 3 4 3 1 3 1 3 22 3 4 3 9 3 21 3 1 3 27 3 30 3 20 3 14 3 9999"/><path d="M274 1242h2484" stroke-dasharray="0 1328 3 101 3 109 3 161 3 13 3 50 3 39 3 11 3 16 3 8 3 8 3 18 3 6 3 0 3 21 3 35 3 18 3 19 3 16 3 15 3 3 3 17 3 39 3 13 3 33 3 5 3 7 3 0 3 0 3 29 3 1 3 81 3 16 3 39 3 37 3 12 3 6 3 8 3 9999"/><path d="M274 1244h2484" stroke-dasharray="0 900 3 255 3 187 3 38 3 7 3 50 3 31 3 8 3 81 3 5 3 23 3 13 3 8 3 5 3 15 3 25 3 57 3 8 3 0 3 9 3 2 3 10 3 26 3 6 3 2 3 13 3 1 3 7 3 12 3 21 3 5 3 3 3 19 3 29 3 19 3 20 3 69 3 27 3 16 3 19 3 2 3 24 3 28 3 5 3 4 3 57 3 4 3 53 3 102 3 9999"/><path d="M274 1246h2484" stroke-dasharray="0 1518 3 28 3 21 3 12 3 2 3 1 3 23 3 34 3 2 3 10 3 14 3 7 3 9 3 1 3 0 3 5 3 13 3 1 3 45 3 11 3 9 3 11 3 8 3 9 3 9 3 8 3 12 3 2 3 3 3 18 3 7 3 0 3 8 3 2 3 3 3 15 3 0 3 0 3 7 3 28 3 13 3 7 3 17 3 17 3 55 3 17 3 56 3 42 3 105 3 9999"/><path d="M274 1248h2484" stroke-dasharray="0 877 3 127 3 397 3 26 3 19 3 34 3 3 3 9 3 24 3 8 3 0 3 8 3 5 3 21 3 39 3 39 3 3 3 5 3 0 3 59 3 13 3 1 3 1 3 7 3 22 3 7 3 9 3 7 3 19 3 25 3 2 3 13 3 9 3 11 3 25 3 16 3 4 3 3 3 31 3 1 3 14 3 6 3 2 3 42 3 44 3 4 3 13 3 22 3 6 3 10 3 41 3 2 3 17 3 98 3 9999"/><path d="M274 1250h2484" stroke-dasharray="0 965 3 223 3 138 3 75 3 0 3 48 3 86 3 1 3 7 3 20 3 6 3 16 3 76 3 12 3 9 3 0 3 18 3 18 3 2 3 2 3 10 3 12 3 7 3 13 3 12 3 1 3 13 3 16 3 2 3 11 3 8 3 5 3 8 3 4 3 29 3 4 3 11 3 6 3 4 3 44 3 17 3 5 3 26 3 37 3 18 3 15 3 5 3 25 3 6 3 13 3 59 3 0 3 36 3 2 3 23 3 9999"/><path d="M274 1252h2484" stroke-dasharray="0 1053 3 298 3 122 3 31 3 47 3 1 3 60 3 0 3 12 3 3 3 8 3 4 3 30 3 12 3 30 3 1 3 11 3 26 3 5 3 4 3 28 3 4 3 5 3 1 3 2 3 58 3 31 3 1 3 18 3 12 3 13 3 3 3 0 3 60 3 4 3 33 3 59 3 21 3 19 3 94 3 6 3 70 3 9999"/><path d="M274 1254h2484" stroke-dasharray="0 1040 3 191 3 79 3 162 3 18 3 6 3 0 3 12 3 10 3 42 3 15 3 4 3 3 3 19 3 44 3 15 3 7 3 15 3 1 3 8 3 0 3 0 3 3 3 18 3 18 3 9 3 11 3 35 3 2 3 8 3 5 3 15 3 26 3 16 3 8 3 2 3 23 3 146 3 3 3 19 3 12 3 61 3 39 3 20 3 76 3 28 3 40 3 9999"/><path d="M274 1256h2484" stroke-dasharray="0 1093 3 233 3 18 3 29 3 109 3 14 3 12 3 49 3 22 3 21 3 44 3 2 3 6 3 23 3 30 3 20 3 2 3 38 3 21 3 1 3 24 3 36 3 16 3 59 3 32 3 7 3 12 3 33 3 33 3 19 3 15 3 58 3 85 3 115 3 9999"/><path d="M274 1258h2484" stroke-dasharray="0 975 3 312 3 24 3 17 3 13 3 26 3 0 3 20 3 1 3 13 3 6 3 21 3 10 3 3 3 34 3 0 3 30 3 2 3 12 3 5 3 6 3 12 3 4 3 13 3 10 3 2 3 0 3 27 3 8 3 6 3 25 3 4 3 25 3 25 3 6 3 7 3 1 3 4 3 13 3 33 3 10 3 8 3 8 3 12 3 17 3 7 3 16 3 14 3 1 3 2 3 44 3 5 3 26 3 38 3 19 3 9 3 101 3 29 3 26 3 4 3 32 3 33 3 12 3 0 3 20 3 13 3 14 3 9999"/><path d="M274 1260h2484" stroke-dasharray="0 1321 3 38 3 22 3 1 3 50 3 1 3 10 3 2 3 4 3 0 3 12 3 18 3 1 3 9 3 8 3 28 3 10 3 11 3 22 3 2 3 3 3 7 3 7 3 3 3 31 3 2 3 23 3 1 3 13 3 11 3 0 3 7 3 3 3 3 3 27 3 4 3 4 3 25 3 1 3 8 3 13 3 70 3 11 3 4 3 41 3 15 3 24 3 9 3 15 3 19 3 32 3 14 3 11 3 1 3 16 3 20 3 6 3 17 3 51 3 15 3 22 3 28 3 21 3 42 3 9999"/><path d="M274 1262h2484" stroke-dasharray="0 1288 3 20 3 37 3 39 3 2 3 55 3 2 3 1 3 1 3 6 3 6 3 21 3 1 3 11 3 5 3 1 3 17 3 25 3 6 3 10 3 9 3 9 3 59 3 18 3 7 3 50 3 2 3 3 3 18 3 10 3 20 3 34 3 25 3 11 3 48 3 5 3 4 3 17 3 26 3 12 3 11 3 29 3 10 3 45 3 52 3 32 3 7 3 10 3 14 3 15 3 26 3 60 3 14 3 14 3 9999"/><path d="M274 1264h2484" stroke-dasharray="0 1342 3 35 3 19 3 6 3 26 3 61 3 17 3 19 3 30 3 10 3 14 3 52 3 33 3 14 3 9 3 5 3 15 3 3 3 4 3 34 3 57 3 18 3 12 3 8 3 26 3 65 3 4 3 20 3 2 3 9 3 1 3 23 3 14 3 11 3 10 3 15 3 7 3 5 3 105 3 73 3 18 3 21 3 71 3 9999"/><path d="M274 1266h2484" stroke-dasharray="0 1262 3 107 3 38 3 54 3 34 3 66 3 2 3 4 3 1 3 20 3 14 3 1 3 11 3 0 3 2 3 48 3 20 3 28 3 15 3 51 3 11 3 44 3 284 3 102 3 35 3 143 3 9999"/><path d="M274 1268h2484" stroke-dasharray="0 1302 3 278 3 23 3 21 3 2 3 27 3 28 3 34 3 0 3 1 3 63 3 62 3 8 3 57 3 41 3 132 3 9 3 9999"/><path d="M274 1270h2484" stroke-dasharray="0 1497 3 55 3 107 3 73 3 176 3 64 3 9999"/><path d="M274 1272h2484" stroke-dasharray="0 1380 3 430 3 350 3 9999"/><path d="M274 1274h2484" stroke-dasharray="0 966 3 493 3 262 3 216 3 152 3 9999"/><path d="M274 1276h2484" stroke-dasharray="0 2198 3 9999"/><path d="M274 1278h2484" stroke-dasharray="0 1012 3 9999"/><path d="M274 1296h2484" stroke-dasharray="0 1122 3 709 3 9999"/><path d="M274 1298h2484" stroke-dasharray="0 1608 3 492 3 12 3 9999"/><path d="M274 1300h2484" stroke-dasharray="0 2294 3 9999"/><path d="M274 1302h2484" stroke-dasharray="0 833 3 496 3 470 3 149 3 43 3 9999"/><path d="M274 1304h2484" stroke-dasharray="0 2007 3 238 3 157 3 9999"/><path d="M274 1306h2484" stroke-dasharray="0 894 3 1322 3 9999"/><path d="M274 1308h2484" stroke-dasharray="0 2252 3 24 3 9999"/><path d="M274 1310h2484" stroke-dasharray="0 2367 3 9999"/><path d="M274 1312h2484" stroke-dasharray="0 1802 3 438 3 24 3 108 3 9999"/><path d="M274 1314h2484" stroke-dasharray="0 1309 3 866 3 9999"/><path d="M274 1316h2484" stroke-dasharray="0 640 3 146 3 1627 3 9999"/><path d="M274 1318h2484" stroke-dasharray="0 2028 3 318 3 9999"/><path d="M274 1320h2484" stroke-dasharray="0 2182 3 119 3 30 3 112 3 9999"/><path d="M274 1322h2484" stroke-dasharray="0 1474 3 556 3 9999"/><path d="M274 1324h2484" stroke-dasharray="0 2098 3 244 3 9999"/><path d="M274 1326h2484" stroke-dasharray="0 767 3 9999"/><path d="M274 1328h2484" stroke-dasharray="0 1386 3 9999"/><path d="M274 1330h2484" stroke-dasharray="0 1387 3 925 3 6 3 9999"/><path d="M274 1332h2484" stroke-dasharray="0 1391 3 790 3 206 3 9999"/><path d="M274 1334h2484" stroke-dasharray="0 1066 3 85 3 980 3 157 3 9999"/><path d="M274 1336h2484" stroke-dasharray="0 806 3 1621 3 9999"/><path d="M274 1338h2484" stroke-dasharray="0 1892 3 260 3 9999"/><path d="M274 1340h2484" stroke-dasharray="0 1674 3 520 3 73 3 9999"/><path d="M274 1342h2484" stroke-dasharray="0 2000 3 127 3 77 3 34 3 113 3 79 3 5 3 9999"/><path d="M274 1344h2484" stroke-dasharray="0 1213 3 865 3 8 3 229 3 9999"/><path d="M274 1346h2484" stroke-dasharray="0 2012 3 325 3 18 3 14 3 76 3 9999"/><path d="M274 1348h2484" stroke-dasharray="0 918 3 689 3 698 3 9999"/><path d="M274 1350h2484" stroke-dasharray="0 2396 3 9999"/><path d="M274 1352h2484" stroke-dasharray="0 1521 3 563 3 329 3 9999"/><path d="M274 1354h2484" stroke-dasharray="0 1147 3 994 3 75 3 61 3 158 3 9999"/><path d="M274 1356h2484" stroke-dasharray="0 1114 3 1108 3 0 3 177 3 9999"/><path d="M274 1360h2484" stroke-dasharray="0 689 3 1621 3 82 3 71 3 9999"/><path d="M274 1362h2484" stroke-dasharray="0 1033 3 290 3 541 3 93 3 264 3 195 3 9999"/><path d="M274 1364h2484" stroke-dasharray="0 2375 3 8 3 37 3 0 3 9999"/><path d="M274 1366h2484" stroke-dasharray="0 1954 3 319 3 39 3 9999"/><path d="M274 1368h2484" stroke-dasharray="0 1030 3 990 3 424 3 9999"/><path d="M274 1370h2484" stroke-dasharray="0 2270 3 8 3 160 3 9 3 9999"/><path d="M274 1372h2484" stroke-dasharray="0 559 3 1345 3 228 3 35 3 174 3 98 3 15 3 9999"/><path d="M274 1374h2484" stroke-dasharray="0 739 3 218 3 687 3 193 3 116 3 102 3 357 3 2 3 18 3 9999"/><path d="M274 1376h2484" stroke-dasharray="0 1772 3 671 3 9999"/><path d="M274 1378h2484" stroke-dasharray="0 2443 3 9999"/><path d="M274 1380h2484" stroke-dasharray="0 794 3 460 3 863 3 209 3 9999"/><path d="M274 1382h2484" stroke-dasharray="0 1614 3 530 3 65 3 12 3 52 3 4 3 131 3 2 3 8 3 15 3 2 3 9999"/><path d="M274 1384h2484" stroke-dasharray="0 2010 3 417 3 26 3 9 3 9999"/><path d="M274 1386h2484" stroke-dasharray="0 2297 3 47 3 21 3 8 3 10 3 12 3 31 3 9999"/><path d="M274 1388h2484" stroke-dasharray="0 598 3 1749 3 8 3 9999"/><path d="M274 1390h2484" stroke-dasharray="0 1090 3 1308 3 11 3 40 3 9999"/><path d="M274 1392h2484" stroke-dasharray="0 1846 3 165 3 354 3 79 3 9999"/><path d="M274 1394h2484" stroke-dasharray="0 2437 3 25 3 9999"/><path d="M274 1396h2484" stroke-dasharray="0 959 3 44 3 546 3 175 3 594 3 88 3 27 3 7 3 3 3 1 3 9999"/><path d="M274 1398h2484" stroke-dasharray="0 706 3 1073 3 468 3 28 3 22 3 27 3 10 3 7 3 31 3 3 3 53 3 9999"/><path d="M274 1400h2484" stroke-dasharray="0 1278 3 1046 3 19 3 18 3 36 3 0 3 9 3 19 3 2 3 1 3 9999"/><path d="M274 1402h2484" stroke-dasharray="0 1180 3 618 3 67 3 351 3 37 3 22 3 0 3 12 3 5 3 42 3 32 3 25 3 36 3 6 3 9999"/><path d="M274 1404h2484" stroke-dasharray="0 1758 3 35 3 168 3 275 3 66 3 24 3 19 3 22 3 31 3 8 3 26 3 7 3 9999"/><path d="M274 1406h2484" stroke-dasharray="0 786 3 1203 3 46 3 247 3 0 3 7 3 2 3 25 3 42 3 17 3 0 3 48 3 2 3 4 3 9999"/><path d="M274 1408h2484" stroke-dasharray="0 1574 3 460 3 118 3 69 3 60 3 82 3 12 3 33 3 7 3 30 3 0 3 9999"/><path d="M274 1410h2484" stroke-dasharray="0 933 3 1083 3 153 3 21 3 76 3 0 3 1 3 14 3 76 3 1 3 7 3 16 3 5 3 9 3 23 3 5 3 9999"/><path d="M274 1412h2484" stroke-dasharray="0 729 3 265 3 1167 3 10 3 18 3 18 3 20 3 17 3 9 3 25 3 21 3 17 3 43 3 0 3 2 3 26 3 10 3 25 3 9999"/><path d="M274 1414h2484" stroke-dasharray="0 2121 3 197 3 28 3 13 3 37 3 14 3 28 3 9999"/><path d="M274 1416h2484" stroke-dasharray="0 695 3 182 3 847 3 370 3 70 3 22 3 22 3 90 3 30 3 56 3 13 3 8 3 9999"/><path d="M274 1418h2484" stroke-dasharray="0 1851 3 112 3 245 3 27 3 6 3 21 3 40 3 14 3 9 3 15 3 12 3 11 3 3 3 7 3 28 3 9999"/><path d="M274 1420h2484" stroke-dasharray="0 2147 3 46 3 24 3 36 3 46 3 6 3 6 3 25 3 20 3 21 3 0 3 0 3 14 3 12 3 9999"/><path d="M274 1422h2484" stroke-dasharray="0 1276 3 620 3 135 3 159 3 19 3 2 3 20 3 60 3 26 3 30 3 12 3 3 3 27 3 3 3 6 3 9999"/><path d="M274 1424h2484" stroke-dasharray="0 1217 3 461 3 242 3 18 3 253 3 10 3 2 3 21 3 13 3 40 3 37 3 24 3 29 3 13 3 20 3 9999"/><path d="M274 1426h2484" stroke-dasharray="0 1166 3 1056 3 10 3 18 3 12 3 8 3 6 3 2 3 13 3 36 3 15 3 4 3 14 3 59 3 9999"/><path d="M274 1428h2484" stroke-dasharray="0 1230 3 597 3 150 3 153 3 70 3 17 3 11 3 19 3 11 3 17 3 0 3 22 3 14 3 13 3 11 3 34 3 10 3 18 3 6 3 9999"/><path d="M274 1430h2484" stroke-dasharray="0 944 3 195 3 947 3 45 3 4 3 1 3 5 3 16 3 0 3 56 3 22 3 29 3 9 3 20 3 5 3 17 3 8 3 16 3 20 3 10 3 9999"/><path d="M274 1432h2484" stroke-dasharray="0 714 3 153 3 291 3 87 3 283 3 307 3 194 3 81 3 21 3 21 3 79 3 4 3 7 3 5 3 16 3 14 3 23 3 6 3 2 3 35 3 29 3 18 3 3 3 9999"/><path d="M274 1434h2484" stroke-dasharray="0 1217 3 757 3 22 3 107 3 1 3 34 3 4 3 23 3 22 3 16 3 25 3 68 3 0 3 8 3 66 3 17 3 9 3 15 3 3 3 9999"/><path d="M274 1436h2484" stroke-dasharray="0 1956 3 12 3 46 3 22 3 14 3 47 3 61 3 8 3 35 3 9 3 1 3 3 3 56 3 0 3 29 3 12 3 23 3 50 3 9999"/><path d="M274 1438h2484" stroke-dasharray="0 915 3 210 3 82 3 56 3 624 3 131 3 10 3 23 3 74 3 15 3 11 3 53 3 15 3 14 3 31 3 44 3 11 3 16 3 12 3 0 3 31 3 8 3 0 3 10 3 3 3 9999"/><path d="M274 1440h2484" stroke-dasharray="0 1195 3 200 3 193 3 302 3 17 3 75 3 31 3 27 3 76 3 74 3 14 3 36 3 4 3 40 3 18 3 1 3 38 3 4 3 0 3 12 3 12 3 10 3 1 3 15 3 9999"/><path d="M274 1442h2484" stroke-dasharray="0 1106 3 24 3 795 3 10 3 36 3 27 3 5 3 29 3 9 3 33 3 10 3 0 3 14 3 89 3 11 3 20 3 1 3 2 3 17 3 9 3 0 3 10 3 3 3 2 3 33 3 1 3 0 3 3 3 11 3 6 3 3 3 21 3 9999"/><path d="M274 1444h2484" stroke-dasharray="0 693 3 346 3 100 3 47 3 52 3 347 3 155 3 8 3 107 3 14 3 79 3 43 3 73 3 16 3 34 3 0 3 13 3 25 3 20 3 10 3 22 3 10 3 4 3 4 3 2 3 11 3 29 3 30 3 7 3 11 3 6 3 19 3 35 3 9999"/><path d="M274 1446h2484" stroke-dasharray="0 1200 3 90 3 22 3 138 3 244 3 15 3 30 3 26 3 44 3 61 3 130 3 37 3 1 3 18 3 0 3 3 3 30 3 3 3 58 3 31 3 1 3 33 3 0 3 9 3 4 3 46 3 1 3 25 3 3 3 1 3 11 3 29 3 9999"/><path d="M274 1448h2484" stroke-dasharray="0 965 3 193 3 32 3 684 3 223 3 12 3 56 3 0 3 5 3 25 3 1 3 15 3 10 3 5 3 4 3 3 3 58 3 8 3 0 3 16 3 20 3 38 3 4 3 28 3 9999"/><path d="M274 1450h2484" stroke-dasharray="0 678 3 634 3 58 3 238 3 111 3 58 3 32 3 74 3 23 3 16 3 16 3 71 3 49 3 42 3 33 3 6 3 42 3 16 3 14 3 2 3 6 3 8 3 16 3 10 3 48 3 1 3 13 3 46 3 10 3 9999"/><path d="M274 1452h2484" stroke-dasharray="0 1194 3 94 3 376 3 94 3 58 3 90 3 36 3 6 3 2 3 55 3 20 3 9 3 14 3 17 3 18 3 6 3 0 3 3 3 21 3 3 3 4 3 2 3 10 3 35 3 15 3 4 3 33 3 25 3 8 3 34 3 68 3 7 3 9999"/><path d="M274 1454h2484" stroke-dasharray="0 1085 3 8 3 128 3 42 3 32 3 139 3 1 3 50 3 3 3 111 3 132 3 16 3 47 3 36 3 37 3 27 3 6 3 38 3 47 3 57 3 37 3 23 3 12 3 8 3 13 3 20 3 8 3 4 3 6 3 32 3 0 3 4 3 12 3 11 3 21 3 9 3 22 3 25 3 17 3 12 3 9999"/><path d="M274 1456h2484" stroke-dasharray="0 1114 3 165 3 62 3 32 3 1 3 250 3 37 3 17 3 117 3 14 3 80 3 109 3 1 3 43 3 49 3 22 3 39 3 6 3 64 3 28 3 14 3 12 3 11 3 20 3 7 3 22 3 29 3 9999"/><path d="M274 1458h2484" stroke-dasharray="0 1129 3 42 3 46 3 4 3 8 3 13 3 452 3 55 3 12 3 66 3 40 3 4 3 19 3 51 3 34 3 40 3 4 3 10 3 7 3 13 3 48 3 6 3 16 3 4 3 17 3 13 3 13 3 41 3 39 3 45 3 9 3 31 3 20 3 10 3 7 3 9999"/><path d="M274 1460h2484" stroke-dasharray="0 1103 3 71 3 30 3 1 3 3 3 156 3 124 3 10 3 17 3 175 3 22 3 34 3 58 3 25 3 50 3 55 3 10 3 0 3 4 3 23 3 4 3 23 3 36 3 4 3 3 3 1 3 3 3 1 3 11 3 36 3 23 3 21 3 25 3 19 3 1 3 8 3 0 3 43 3 35 3 1 3 60 3 9999"/><path d="M274 1462h2484" stroke-dasharray="0 647 3 403 3 25 3 68 3 20 3 15 3 9 3 1 3 7 3 27 3 18 3 14 3 94 3 0 3 23 3 36 3 138 3 24 3 20 3 116 3 7 3 149 3 14 3 7 3 37 3 25 3 5 3 24 3 0 3 10 3 19 3 9 3 3 3 1 3 29 3 13 3 3 3 71 3 1 3 36 3 5 3 115 3 9999"/><path d="M274 1464h2484" stroke-dasharray="0 1081 3 53 3 27 3 3 3 2 3 1 3 12 3 3 3 29 3 6 3 65 3 83 3 99 3 27 3 92 3 140 3 15 3 28 3 23 3 41 3 0 3 1 3 17 3 52 3 58 3 1 3 0 3 0 3 26 3 0 3 10 3 29 3 9 3 6 3 31 3 1 3 2 3 34 3 5 3 1 3 6 3 4 3 18 3 14 3 12 3 1 3 54 3 3 3 56 3 12 3 24 3 9999"/><path d="M274 1466h2484" stroke-dasharray="0 1000 3 35 3 79 3 32 3 36 3 13 3 0 3 14 3 2 3 0 3 57 3 143 3 174 3 7 3 6 3 8 3 35 3 13 3 25 3 32 3 7 3 25 3 3 3 38 3 29 3 40 3 3 3 15 3 1 3 87 3 25 3 19 3 33 3 150 3 132 3 11 3 9999"/><path d="M274 1468h2484" stroke-dasharray="0 612 3 397 3 50 3 100 3 2 3 10 3 1 3 3 3 3 3 5 3 9 3 5 3 6 3 1 3 2 3 7 3 18 3 9 3 17 3 18 3 39 3 115 3 27 3 71 3 123 3 60 3 28 3 17 3 6 3 5 3 19 3 16 3 13 3 8 3 29 3 2 3 19 3 26 3 3 3 37 3 32 3 6 3 2 3 23 3 44 3 22 3 29 3 2 3 110 3 95 3 9999"/><path d="M274 1470h2484" stroke-dasharray="0 986 3 60 3 46 3 60 3 4 3 11 3 9 3 1 3 0 3 0 3 2 3 0 3 7 3 8 3 0 3 1 3 12 3 21 3 20 3 11 3 40 3 1 3 66 3 65 3 14 3 100 3 10 3 69 3 2 3 50 3 0 3 44 3 24 3 0 3 36 3 47 3 17 3 12 3 22 3 14 3 6 3 32 3 9 3 18 3 9999"/><path d="M274 1472h2484" stroke-dasharray="0 777 3 195 3 133 3 49 3 3 3 17 3 5 3 7 3 0 3 4 3 6 3 2 3 3 3 8 3 20 3 27 3 13 3 108 3 91 3 3 3 16 3 107 3 40 3 16 3 79 3 16 3 37 3 8 3 27 3 13 3 16 3 28 3 25 3 13 3 81 3 61 3 29 3 3 3 44 3 57 3 26 3 3 3 71 3 18 3 18 3 9999"/><path d="M274 1474h2484" stroke-dasharray="0 1045 3 96 3 43 3 17 3 1 3 31 3 43 3 89 3 56 3 12 3 44 3 19 3 20 3 91 3 9 3 67 3 0 3 0 3 17 3 21 3 22 3 42 3 1 3 215 3 35 3 131 3 74 3 2 3 45 3 0 3 9999"/><path d="M274 1476h2484" stroke-dasharray="0 1119 3 10 3 20 3 15 3 33 3 21 3 2 3 61 3 4 3 71 3 27 3 86 3 5 3 29 3 10 3 3 3 26 3 19 3 7 3 30 3 1 3 18 3 20 3 37 3 3 3 10 3 13 3 14 3 29 3 10 3 29 3 4 3 51 3 20 3 0 3 94 3 47 3 79 3 20 3 2 3 9 3 2 3 16 3 0 3 97 3 6 3 8 3 37 3 16 3 19 3 9999"/><path d="M274 1478h2484" stroke-dasharray="0 1122 3 8 3 28 3 18 3 24 3 7 3 17 3 34 3 29 3 5 3 19 3 35 3 7 3 1 3 4 3 12 3 20 3 1 3 12 3 12 3 0 3 15 3 19 3 13 3 8 3 8 3 8 3 3 3 50 3 14 3 4 3 3 3 44 3 10 3 7 3 21 3 8 3 1 3 2 3 1 3 1 3 0 3 17 3 4 3 29 3 75 3 27 3 2 3 8 3 32 3 56 3 49 3 26 3 14 3 14 3 62 3 100 3 35 3 41 3 18 3 9999"/><path d="M274 1480h2484" stroke-dasharray="0 1168 3 23 3 34 3 6 3 13 3 8 3 0 3 17 3 23 3 12 3 8 3 3 3 5 3 4 3 30 3 0 3 2 3 53 3 21 3 112 3 2 3 8 3 44 3 6 3 41 3 6 3 7 3 21 3 24 3 26 3 17 3 61 3 5 3 3 3 12 3 1 3 29 3 18 3 81 3 38 3 36 3 15 3 12 3 2 3 114 3 11 3 48 3 47 3 11 3 6 3 17 3 6 3 0 3 9999"/><path d="M274 1482h2484" stroke-dasharray="0 1135 3 27 3 1 3 22 3 10 3 38 3 88 3 37 3 60 3 15 3 46 3 91 3 9 3 4 3 26 3 18 3 15 3 9 3 29 3 82 3 2 3 57 3 17 3 30 3 56 3 8 3 23 3 13 3 4 3 3 3 13 3 116 3 37 3 28 3 18 3 13 3 23 3 25 3 12 3 1 3 31 3 0 3 9999"/><path d="M274 1484h2484" stroke-dasharray="0 1175 3 3 3 27 3 28 3 14 3 14 3 4 3 34 3 34 3 0 3 198 3 4 3 11 3 60 3 11 3 21 3 8 3 1 3 5 3 16 3 37 3 13 3 14 3 75 3 363 3 60 3 47 3 9999"/><path d="M274 1486h2484" stroke-dasharray="0 1307 3 0 3 90 3 0 3 25 3 8 3 160 3 477 3 58 3 302 3 9999"/><path d="M274 1488h2484" stroke-dasharray="0 1219 3 49 3 10 3 65 3 192 3 120 3 9999"/><path d="M274 1490h2484" stroke-dasharray="0 1160 3 1004 3 9999"/><path d="M274 1492h2484" stroke-dasharray="0 2275 3 9999"/><path d="M274 1494h2484" stroke-dasharray="0 1419 3 9999"/><path d="M274 1510h2484" stroke-dasharray="0 2296 3 9999"/><path d="M274 1512h2484" stroke-dasharray="0 2405 3 9999"/><path d="M274 1518h2484" stroke-dasharray="0 1125 3 943 3 398 3 9999"/><path d="M274 1520h2484" stroke-dasharray="0 1301 3 523 3 457 3 9999"/><path d="M274 1522h2484" stroke-dasharray="0 2143 3 9999"/><path d="M274 1524h2484" stroke-dasharray="0 2364 3 93 3 9999"/><path d="M274 1526h2484" stroke-dasharray="0 1887 3 424 3 9999"/><path d="M274 1528h2484" stroke-dasharray="0 810 3 1178 3 9999"/><path d="M274 1530h2484" stroke-dasharray="0 2211 3 9999"/><path d="M274 1532h2484" stroke-dasharray="0 1677 3 86 3 491 3 9999"/><path d="M274 1534h2484" stroke-dasharray="0 1736 3 9999"/><path d="M274 1536h2484" stroke-dasharray="0 715 3 369 3 9999"/><path d="M274 1538h2484" stroke-dasharray="0 1534 3 9999"/><path d="M274 1544h2484" stroke-dasharray="0 1532 3 405 3 9999"/><path d="M274 1546h2484" stroke-dasharray="0 1572 3 838 3 9999"/><path d="M274 1548h2484" stroke-dasharray="0 2165 3 9999"/><path d="M274 1550h2484" stroke-dasharray="0 2011 3 9999"/><path d="M274 1552h2484" stroke-dasharray="0 2130 3 9999"/><path d="M274 1554h2484" stroke-dasharray="0 2249 3 9999"/><path d="M274 1556h2484" stroke-dasharray="0 1556 3 9999"/><path d="M274 1558h2484" stroke-dasharray="0 1995 3 9999"/><path d="M274 1560h2484" stroke-dasharray="0 1229 3 1041 3 75 3 47 3 9999"/><path d="M274 1562h2484" stroke-dasharray="0 2414 3 9999"/><path d="M274 1564h2484" stroke-dasharray="0 1004 3 1207 3 126 3 9999"/><path d="M274 1566h2484" stroke-dasharray="0 2234 3 222 3 9999"/><path d="M274 1568h2484" stroke-dasharray="0 734 3 275 3 283 3 690 3 143 3 319 3 0 3 9999"/><path d="M274 1570h2484" stroke-dasharray="0 2467 3 9999"/><path d="M274 1572h2484" stroke-dasharray="0 2292 3 119 3 9999"/><path d="M274 1574h2484" stroke-dasharray="0 851 3 1403 3 45 3 108 3 9999"/><path d="M274 1576h2484" stroke-dasharray="0 2132 3 9999"/><path d="M274 1578h2484" stroke-dasharray="0 2415 3 9999"/><path d="M274 1580h2484" stroke-dasharray="0 662 3 313 3 977 3 145 3 9999"/><path d="M274 1582h2484" stroke-dasharray="0 1679 3 269 3 9999"/><path d="M274 1584h2484" stroke-dasharray="0 1892 3 9999"/><path d="M274 1586h2484" stroke-dasharray="0 1589 3 9999"/><path d="M274 1588h2484" stroke-dasharray="0 1826 3 170 3 171 3 9999"/><path d="M274 1590h2484" stroke-dasharray="0 2153 3 272 3 9999"/><path d="M274 1592h2484" stroke-dasharray="0 1648 3 645 3 9999"/><path d="M274 1596h2484" stroke-dasharray="0 1575 3 645 3 96 3 72 3 9999"/><path d="M274 1598h2484" stroke-dasharray="0 2237 3 86 3 12 3 9999"/><path d="M274 1600h2484" stroke-dasharray="0 2326 3 9999"/><path d="M274 1602h2484" stroke-dasharray="0 2328 3 9999"/><path d="M274 1604h2484" stroke-dasharray="0 2099 3 133 3 211 3 11 3 9999"/><path d="M274 1606h2484" stroke-dasharray="0 2415 3 9999"/><path d="M274 1608h2484" stroke-dasharray="0 1103 3 1322 3 9999"/><path d="M274 1610h2484" stroke-dasharray="0 1009 3 289 3 1056 3 92 3 9999"/><path d="M274 1612h2484" stroke-dasharray="0 659 3 108 3 1506 3 9999"/><path d="M274 1614h2484" stroke-dasharray="0 2230 3 150 3 29 3 54 3 9999"/><path d="M274 1616h2484" stroke-dasharray="0 1910 3 30 3 370 3 40 3 97 3 9999"/><path d="M274 1618h2484" stroke-dasharray="0 2218 3 193 3 28 3 9999"/><path d="M274 1620h2484" stroke-dasharray="0 2315 3 52 3 9999"/><path d="M274 1622h2484" stroke-dasharray="0 902 3 1542 3 9999"/><path d="M274 1624h2484" stroke-dasharray="0 1542 3 575 3 81 3 221 3 22 3 9999"/><path d="M274 1626h2484" stroke-dasharray="0 1799 3 198 3 436 3 9999"/><path d="M274 1628h2484" stroke-dasharray="0 2374 3 82 3 2 3 9999"/><path d="M274 1630h2484" stroke-dasharray="0 1852 3 455 3 16 3 74 3 22 3 9999"/><path d="M274 1632h2484" stroke-dasharray="0 2237 3 214 3 4 3 9999"/><path d="M274 1634h2484" stroke-dasharray="0 2249 3 18 3 74 3 67 3 12 3 34 3 9999"/><path d="M274 1636h2484" stroke-dasharray="0 2119 3 201 3 119 3 7 3 9999"/><path d="M274 1638h2484" stroke-dasharray="0 2414 3 9999"/><path d="M274 1640h2484" stroke-dasharray="0 2010 3 269 3 113 3 26 3 24 3 9999"/><path d="M274 1642h2484" stroke-dasharray="0 2252 3 48 3 4 3 0 3 33 3 76 3 7 3 9999"/><path d="M274 1644h2484" stroke-dasharray="0 2087 3 61 3 12 3 114 3 9999"/><path d="M274 1646h2484" stroke-dasharray="0 2116 3 295 3 10 3 9999"/><path d="M274 1648h2484" stroke-dasharray="0 687 3 981 3 585 3 51 3 24 3 24 3 67 3 9999"/><path d="M274 1650h2484" stroke-dasharray="0 2186 3 124 3 16 3 26 3 35 3 4 3 4 3 21 3 16 3 9999"/><path d="M274 1652h2484" stroke-dasharray="0 2294 3 24 3 9999"/><path d="M274 1654h2484" stroke-dasharray="0 2200 3 39 3 69 3 39 3 2 3 92 3 13 3 9999"/><path d="M274 1656h2484" stroke-dasharray="0 996 3 1252 3 20 3 24 3 54 3 4 3 39 3 48 3 9999"/><path d="M274 1658h2484" stroke-dasharray="0 871 3 1238 3 65 3 135 3 86 3 50 3 5 3 1 3 9999"/><path d="M274 1660h2484" stroke-dasharray="0 2113 3 34 3 19 3 73 3 8 3 33 3 66 3 21 3 13 3 3 3 2 3 41 3 9999"/><path d="M274 1662h2484" stroke-dasharray="0 695 3 436 3 169 3 78 3 373 3 171 3 187 3 122 3 38 3 76 3 29 3 2 3 18 3 6 3 17 3 9999"/><path d="M274 1664h2484" stroke-dasharray="0 1414 3 661 3 40 3 24 3 43 3 7 3 11 3 11 3 35 3 94 3 105 3 9999"/><path d="M274 1666h2484" stroke-dasharray="0 1167 3 931 3 7 3 2 3 36 3 61 3 89 3 20 3 7 3 75 3 39 3 9999"/><path d="M274 1668h2484" stroke-dasharray="0 1005 3 363 3 244 3 379 3 110 3 51 3 18 3 87 3 96 3 5 3 27 3 18 3 20 3 9999"/><path d="M274 1670h2484" stroke-dasharray="0 1260 3 786 3 6 3 143 3 41 3 76 3 62 3 2 3 56 3 12 3 9999"/><path d="M274 1672h2484" stroke-dasharray="0 760 3 613 3 45 3 579 3 83 3 94 3 3 3 1 3 26 3 25 3 154 3 1 3 37 3 9999"/><path d="M274 1674h2484" stroke-dasharray="0 621 3 118 3 175 3 84 3 90 3 29 3 116 3 251 3 339 3 4 3 237 3 27 3 63 3 1 3 37 3 38 3 48 3 7 3 47 3 56 3 9999"/><path d="M274 1676h2484" stroke-dasharray="0 1103 3 207 3 89 3 638 3 19 3 59 3 50 3 81 3 25 3 123 3 9999"/><path d="M274 1678h2484" stroke-dasharray="0 858 3 196 3 77 3 8 3 170 3 13 3 69 3 77 3 89 3 208 3 61 3 23 3 79 3 5 3 36 3 15 3 118 3 17 3 28 3 27 3 41 3 45 3 66 3 39 3 21 3 7 3 0 3 9999"/><path d="M274 1680h2484" stroke-dasharray="0 798 3 13 3 225 3 242 3 181 3 46 3 278 3 44 3 167 3 136 3 6 3 5 3 53 3 30 3 50 3 7 3 2 3 22 3 76 3 34 3 9999"/><path d="M274 1682h2484" stroke-dasharray="0 760 3 26 3 64 3 98 3 101 3 57 3 89 3 100 3 94 3 38 3 71 3 152 3 1 3 266 3 8 3 47 3 56 3 23 3 5 3 177 3 15 3 9 3 1 3 26 3 14 3 15 3 30 3 33 3 9999"/><path d="M274 1684h2484" stroke-dasharray="0 730 3 20 3 14 3 67 3 121 3 101 3 109 3 210 3 53 3 35 3 73 3 53 3 39 3 47 3 71 3 48 3 6 3 62 3 28 3 11 3 9 3 15 3 26 3 42 3 50 3 44 3 4 3 24 3 70 3 69 3 61 3 9999"/><path d="M274 1686h2484" stroke-dasharray="0 893 3 45 3 64 3 30 3 158 3 82 3 5 3 41 3 140 3 23 3 4 3 6 3 3 3 7 3 25 3 74 3 103 3 312 3 47 3 100 3 53 3 49 3 17 3 9 3 8 3 2 3 54 3 6 3 18 3 3 3 9999"/><path d="M274 1688h2484" stroke-dasharray="0 546 3 39 3 202 3 517 3 5 3 97 3 92 3 50 3 31 3 60 3 22 3 81 3 18 3 9 3 25 3 98 3 26 3 20 3 0 3 88 3 64 3 14 3 39 3 46 3 54 3 107 3 9999"/><path d="M274 1690h2484" stroke-dasharray="0 659 3 79 3 26 3 147 3 44 3 55 3 55 3 87 3 11 3 122 3 46 3 22 3 23 3 26 3 4 3 39 3 134 3 18 3 38 3 62 3 89 3 12 3 36 3 41 3 71 3 32 3 4 3 11 3 22 3 44 3 2 3 104 3 8 3 30 3 32 3 7 3 46 3 33 3 9999"/><path d="M274 1692h2484" stroke-dasharray="0 562 3 95 3 18 3 22 3 201 3 7 3 197 3 14 3 75 3 40 3 21 3 8 3 33 3 6 3 4 3 0 3 41 3 3 3 50 3 6 3 44 3 60 3 10 3 72 3 35 3 99 3 35 3 9 3 126 3 0 3 67 3 4 3 11 3 23 3 1 3 51 3 6 3 75 3 1 3 125 3 72 3 21 3 9999"/><path d="M274 1694h2484" stroke-dasharray="0 712 3 19 3 64 3 27 3 58 3 12 3 23 3 26 3 15 3 47 3 41 3 74 3 24 3 17 3 8 3 46 3 8 3 104 3 29 3 8 3 31 3 3 3 0 3 12 3 2 3 7 3 16 3 44 3 48 3 34 3 2 3 11 3 0 3 0 3 33 3 8 3 6 3 23 3 1 3 14 3 5 3 39 3 8 3 6 3 62 3 14 3 4 3 11 3 3 3 12 3 19 3 10 3 46 3 25 3 18 3 38 3 44 3 30 3 79 3 115 3 19 3 15 3 9999"/><path d="M274 1696h2484" stroke-dasharray="0 806 3 110 3 27 3 28 3 140 3 35 3 147 3 5 3 15 3 30 3 17 3 9 3 7 3 13 3 10 3 5 3 2 3 12 3 1 3 155 3 122 3 25 3 33 3 0 3 19 3 11 3 0 3 144 3 54 3 5 3 22 3 8 3 42 3 20 3 19 3 40 3 5 3 8 3 14 3 45 3 14 3 4 3 26 3 9999"/><path d="M274 1698h2484" stroke-dasharray="0 766 3 146 3 99 3 1 3 152 3 26 3 35 3 21 3 32 3 19 3 26 3 9 3 4 3 4 3 7 3 14 3 2 3 7 3 2 3 1 3 4 3 4 3 9 3 3 3 1 3 2 3 44 3 3 3 24 3 16 3 38 3 22 3 48 3 128 3 106 3 25 3 26 3 60 3 23 3 36 3 19 3 41 3 59 3 19 3 19 3 9 3 36 3 12 3 39 3 15 3 32 3 0 3 9999"/><path d="M274 1700h2484" stroke-dasharray="0 676 3 133 3 18 3 150 3 38 3 174 3 19 3 68 3 57 3 17 3 1 3 5 3 2 3 2 3 4 3 1 3 1 3 3 3 2 3 2 3 4 3 16 3 55 3 1 3 3 3 41 3 4 3 3 3 2 3 44 3 50 3 31 3 10 3 2 3 33 3 3 3 2 3 19 3 11 3 61 3 20 3 54 3 19 3 40 3 0 3 61 3 39 3 5 3 88 3 35 3 4 3 7 3 9 3 73 3 7 3 39 3 18 3 9999"/><path d="M274 1702h2484" stroke-dasharray="0 1105 3 34 3 63 3 25 3 31 3 10 3 41 3 34 3 9 3 3 3 1 3 4 3 1 3 1 3 0 3 0 3 0 3 0 3 0 3 3 3 3 3 1 3 3 3 11 3 8 3 48 3 32 3 17 3 16 3 5 3 43 3 2 3 89 3 2 3 3 3 34 3 6 3 19 3 5 3 14 3 6 3 6 3 54 3 14 3 34 3 2 3 1 3 22 3 4 3 17 3 44 3 16 3 4 3 20 3 25 3 5 3 24 3 8 3 15 3 2 3 9 3 21 3 2 3 27 3 16 3 0 3 14 3 24 3 10 3 4 3 44 3 35 3 4 3 9999"/><path d="M274 1704h2484" stroke-dasharray="0 1141 3 6 3 7 3 22 3 14 3 23 3 13 3 18 3 11 3 24 3 21 3 1 3 30 3 15 3 3 3 1 3 6 3 3 3 1 3 0 3 7 3 1 3 2 3 27 3 30 3 7 3 5 3 67 3 16 3 2 3 37 3 4 3 6 3 16 3 84 3 21 3 24 3 17 3 42 3 5 3 51 3 59 3 44 3 8 3 56 3 35 3 1 3 115 3 25 3 6 3 19 3 18 3 22 3 9 3 29 3 9999"/><path d="M274 1706h2484" stroke-dasharray="0 1311 3 44 3 5 3 4 3 13 3 9 3 11 3 4 3 4 3 4 3 0 3 16 3 62 3 68 3 41 3 12 3 13 3 6 3 143 3 31 3 11 3 11 3 0 3 1 3 84 3 37 3 4 3 8 3 72 3 51 3 103 3 9999"/><path d="M274 1708h2484" stroke-dasharray="0 1070 3 169 3 24 3 65 3 28 3 23 3 8 3 5 3 1 3 7 3 28 3 42 3 126 3 74 3 7 3 13 3 57 3 43 3 5 3 257 3 111 3 227 3 0 3 9999"/><path d="M274 1710h2484" stroke-dasharray="0 1284 3 121 3 15 3 381 3 294 3 9999"/><path d="M274 1712h2484" stroke-dasharray="0 1398 3 87 3 9999"/><path d="M274 1714h2484" stroke-dasharray="0 1398 3 13 3 9999"/><path d="M274 1724h2484" stroke-dasharray="0 549 3 1436 3 9999"/><path d="M274 1726h2484" stroke-dasharray="0 1695 3 191 3 253 3 9999"/><path d="M274 1728h2484" stroke-dasharray="0 1517 3 9999"/><path d="M274 1730h2484" stroke-dasharray="0 1884 3 141 3 9999"/><path d="M274 1732h2484" stroke-dasharray="0 1794 3 9999"/><path d="M274 1734h2484" stroke-dasharray="0 237 3 2131 3 47 3 9999"/><path d="M274 1736h2484" stroke-dasharray="0 2302 3 141 3 9999"/><path d="M274 1738h2484" stroke-dasharray="0 2384 3 9999"/><path d="M274 1740h2484" stroke-dasharray="0 1370 3 911 3 9999"/><path d="M274 1742h2484" stroke-dasharray="0 1590 3 299 3 127 3 159 3 92 3 9999"/><path d="M274 1744h2484" stroke-dasharray="0 941 3 1089 3 75 3 167 3 184 3 9999"/><path d="M274 1746h2484" stroke-dasharray="0 348 3 1972 3 132 3 9999"/><path d="M274 1748h2484" stroke-dasharray="0 1042 3 9999"/><path d="M274 1750h2484" stroke-dasharray="0 2212 3 9999"/><path d="M274 1752h2484" stroke-dasharray="0 910 3 702 3 141 3 426 3 9999"/><path d="M274 1754h2484" stroke-dasharray="0 1563 3 643 3 18 3 9999"/><path d="M274 1758h2484" stroke-dasharray="0 2188 3 9999"/><path d="M274 1760h2484" stroke-dasharray="0 1670 3 593 3 26 3 122 3 9999"/><path d="M274 1762h2484" stroke-dasharray="0 499 3 1563 3 249 3 9999"/><path d="M274 1768h2484" stroke-dasharray="0 803 3 974 3 423 3 9999"/><path d="M274 1770h2484" stroke-dasharray="0 588 3 563 3 708 3 181 3 265 3 64 3 9999"/><path d="M274 1774h2484" stroke-dasharray="0 1922 3 330 3 9999"/><path d="M274 1776h2484" stroke-dasharray="0 1901 3 408 3 9999"/><path d="M274 1778h2484" stroke-dasharray="0 2348 3 9999"/><path d="M274 1780h2484" stroke-dasharray="0 2017 3 99 3 201 3 65 3 9999"/><path d="M274 1782h2484" stroke-dasharray="0 505 3 9999"/><path d="M274 1784h2484" stroke-dasharray="0 710 3 830 3 9999"/><path d="M274 1786h2484" stroke-dasharray="0 2234 3 9999"/><path d="M274 1788h2484" stroke-dasharray="0 1878 3 505 3 9999"/><path d="M274 1790h2484" stroke-dasharray="0 1444 3 964 3 9999"/><path d="M274 1792h2484" stroke-dasharray="0 2101 3 9999"/><path d="M274 1794h2484" stroke-dasharray="0 1719 3 9999"/><path d="M274 1796h2484" stroke-dasharray="0 730 3 534 3 413 3 230 3 430 3 116 3 9999"/><path d="M274 1798h2484" stroke-dasharray="0 1561 3 9999"/><path d="M274 1802h2484" stroke-dasharray="0 354 3 1754 3 342 3 9999"/><path d="M274 1804h2484" stroke-dasharray="0 1734 3 552 3 9999"/><path d="M274 1806h2484" stroke-dasharray="0 1526 3 911 3 9999"/><path d="M274 1808h2484" stroke-dasharray="0 2163 3 9999"/><path d="M274 1810h2484" stroke-dasharray="0 2324 3 115 3 9999"/><path d="M274 1814h2484" stroke-dasharray="0 1781 3 168 3 9999"/><path d="M274 1816h2484" stroke-dasharray="0 1747 3 16 3 224 3 452 3 9999"/><path d="M274 1818h2484" stroke-dasharray="0 1987 3 465 3 2 3 9999"/><path d="M274 1820h2484" stroke-dasharray="0 2005 3 22 3 176 3 162 3 9999"/><path d="M274 1822h2484" stroke-dasharray="0 1666 3 422 3 9999"/><path d="M274 1824h2484" stroke-dasharray="0 1876 3 556 3 12 3 11 3 9999"/><path d="M274 1826h2484" stroke-dasharray="0 2411 3 29 3 9999"/><path d="M274 1828h2484" stroke-dasharray="0 1876 3 318 3 227 3 19 3 9999"/><path d="M274 1830h2484" stroke-dasharray="0 1721 3 9999"/><path d="M274 1832h2484" stroke-dasharray="0 1887 3 352 3 24 3 198 3 9999"/><path d="M274 1834h2484" stroke-dasharray="0 1977 3 322 3 9999"/><path d="M274 1836h2484" stroke-dasharray="0 2363 3 106 3 9999"/><path d="M274 1838h2484" stroke-dasharray="0 2349 3 49 3 70 3 9999"/><path d="M274 1840h2484" stroke-dasharray="0 1808 3 9999"/><path d="M274 1842h2484" stroke-dasharray="0 1286 3 1150 3 30 3 9999"/><path d="M274 1844h2484" stroke-dasharray="0 1659 3 687 3 80 3 9 3 4 3 9999"/><path d="M274 1846h2484" stroke-dasharray="0 217 3 2043 3 34 3 19 3 23 3 31 3 60 3 13 3 9999"/><path d="M274 1848h2484" stroke-dasharray="0 2129 3 283 3 7 3 4 3 9999"/><path d="M274 1850h2484" stroke-dasharray="0 2191 3 124 3 61 3 61 3 24 3 9999"/><path d="M274 1852h2484" stroke-dasharray="0 226 3 2035 3 69 3 40 3 66 3 17 3 9999"/><path d="M274 1854h2484" stroke-dasharray="0 2288 3 169 3 9999"/><path d="M274 1856h2484" stroke-dasharray="0 1967 3 340 3 15 3 2 3 74 3 51 3 9999"/><path d="M274 1858h2484" stroke-dasharray="0 1698 3 547 3 56 3 77 3 21 3 9999"/><path d="M274 1860h2484" stroke-dasharray="0 2311 3 25 3 20 3 105 3 9999"/><path d="M274 1862h2484" stroke-dasharray="0 2246 3 31 3 42 3 18 3 29 3 73 3 9999"/><path d="M274 1864h2484" stroke-dasharray="0 2170 3 63 3 66 3 163 3 9999"/><path d="M274 1866h2484" stroke-dasharray="0 1944 3 115 3 246 3 47 3 11 3 11 3 67 3 9999"/><path d="M274 1868h2484" stroke-dasharray="0 2160 3 105 3 168 3 17 3 9999"/><path d="M274 1870h2484" stroke-dasharray="0 962 3 810 3 171 3 80 3 23 3 137 3 43 3 109 3 32 3 9999"/><path d="M274 1872h2484" stroke-dasharray="0 2067 3 23 3 27 3 4 3 66 3 65 3 44 3 64 3 9999"/><path d="M274 1874h2484" stroke-dasharray="0 2239 3 67 3 73 3 71 3 5 3 9999"/><path d="M274 1876h2484" stroke-dasharray="0 2123 3 14 3 83 3 0 3 44 3 89 3 16 3 32 3 37 3 8 3 9999"/><path d="M274 1878h2484" stroke-dasharray="0 2119 3 96 3 7 3 71 3 61 3 9 3 51 3 9999"/><path d="M274 1880h2484" stroke-dasharray="0 2047 3 38 3 49 3 3 3 11 3 143 3 21 3 55 3 49 3 31 3 9999"/><path d="M274 1882h2484" stroke-dasharray="0 1430 3 359 3 300 3 46 3 5 3 35 3 32 3 15 3 7 3 26 3 51 3 5 3 64 3 9 3 6 3 24 3 9999"/><path d="M274 1884h2484" stroke-dasharray="0 1915 3 106 3 146 3 21 3 13 3 29 3 63 3 6 3 9999"/><path d="M274 1886h2484" stroke-dasharray="0 1415 3 0 3 78 3 557 3 8 3 68 3 12 3 40 3 17 3 5 3 12 3 15 3 12 3 40 3 39 3 18 3 7 3 4 3 47 3 9999"/><path d="M274 1888h2484" stroke-dasharray="0 1379 3 138 3 19 3 420 3 131 3 18 3 24 3 24 3 23 3 36 3 2 3 19 3 24 3 53 3 72 3 9999"/><path d="M274 1890h2484" stroke-dasharray="0 292 3 1156 3 44 3 15 3 448 3 25 3 2 3 13 3 24 3 96 3 117 3 9 3 34 3 9999"/><path d="M274 1892h2484" stroke-dasharray="0 1091 3 277 3 17 3 11 3 89 3 435 3 146 3 22 3 14 3 3 3 13 3 124 3 14 3 9999"/><path d="M274 1894h2484" stroke-dasharray="0 716 3 175 3 560 3 5 3 373 3 69 3 69 3 40 3 197 3 74 3 3 3 42 3 9999"/><path d="M274 1896h2484" stroke-dasharray="0 1410 3 26 3 10 3 128 3 9 3 184 3 8 3 36 3 11 3 24 3 45 3 334 3 9999"/><path d="M274 1898h2484" stroke-dasharray="0 393 3 50 3 297 3 232 3 196 3 181 3 164 3 195 3 181 3 137 3 10 3 2 3 13 3 9 3 15 3 12 3 31 3 50 3 15 3 56 3 9999"/><path d="M274 1900h2484" stroke-dasharray="0 667 3 84 3 115 3 86 3 474 3 104 3 31 3 155 3 47 3 324 3 25 3 73 3 60 3 16 3 93 3 9999"/><path d="M274 1902h2484" stroke-dasharray="0 506 3 18 3 174 3 164 3 113 3 44 3 1 3 251 3 16 3 68 3 58 3 29 3 11 3 63 3 1 3 12 3 44 3 81 3 87 3 70 3 55 3 93 3 37 3 27 3 90 3 28 3 30 3 113 3 9999"/><path d="M274 1904h2484" stroke-dasharray="0 663 3 321 3 305 3 9 3 38 3 78 3 22 3 30 3 68 3 104 3 133 3 36 3 214 3 0 3 38 3 22 3 9 3 9999"/><path d="M274 1906h2484" stroke-dasharray="0 878 3 18 3 379 3 61 3 51 3 9 3 17 3 2 3 1 3 2 3 9 3 6 3 22 3 0 3 11 3 20 3 57 3 117 3 0 3 1 3 73 3 40 3 58 3 6 3 21 3 16 3 15 3 32 3 117 3 120 3 4 3 9999"/><path d="M274 1908h2484" stroke-dasharray="0 244 3 96 3 138 3 62 3 470 3 80 3 140 3 33 3 9 3 60 3 3 3 24 3 35 3 17 3 1 3 2 3 5 3 0 3 4 3 0 3 4 3 3 3 2 3 3 3 6 3 6 3 2 3 24 3 29 3 41 3 44 3 45 3 21 3 50 3 17 3 9 3 2 3 8 3 68 3 42 3 4 3 6 3 42 3 6 3 20 3 20 3 9 3 22 3 2 3 9 3 45 3 9999"/><path d="M274 1910h2484" stroke-dasharray="0 618 3 14 3 81 3 201 3 177 3 15 3 133 3 121 3 67 3 2 3 7 3 1 3 1 3 0 3 0 3 0 3 0 3 0 3 5 3 0 3 3 3 2 3 0 3 1 3 27 3 142 3 7 3 14 3 30 3 0 3 1 3 95 3 13 3 29 3 59 3 64 3 10 3 199 3 26 3 9999"/><path d="M274 1912h2484" stroke-dasharray="0 769 3 175 3 71 3 23 3 323 3 50 3 1 3 8 3 1 3 0 3 6 3 0 3 0 3 7 3 2 3 4 3 0 3 9 3 0 3 5 3 3 3 4 3 22 3 5 3 58 3 72 3 17 3 87 3 3 3 52 3 59 3 483 3 18 3 9999"/><path d="M274 1914h2484" stroke-dasharray="0 296 3 5 3 181 3 184 3 295 3 4 3 105 3 119 3 72 3 156 3 2 3 8 3 2 3 3 3 12 3 8 3 7 3 12 3 1 3 99 3 24 3 48 3 72 3 7 3 56 3 20 3 590 3 9999"/><path d="M274 1916h2484" stroke-dasharray="0 1056 3 206 3 14 3 109 3 48 3 11 3 23 3 5 3 7 3 26 3 5 3 25 3 38 3 28 3 109 3 64 3 6 3 50 3 29 3 11 3 45 3 11 3 81 3 4 3 28 3 28 3 10 3 3 3 10 3 20 3 36 3 49 3 166 3 5 3 9999"/><path d="M274 1918h2484" stroke-dasharray="0 970 3 102 3 90 3 118 3 58 3 44 3 6 3 5 3 20 3 7 3 8 3 0 3 12 3 10 3 0 3 85 3 12 3 46 3 125 3 5 3 102 3 122 3 88 3 0 3 57 3 76 3 24 3 29 3 40 3 74 3 18 3 2 3 9999"/><path d="M274 1920h2484" stroke-dasharray="0 981 3 123 3 43 3 383 3 39 3 35 3 8 3 68 3 112 3 31 3 103 3 2 3 34 3 12 3 121 3 18 3 23 3 17 3 31 3 15 3 20 3 81 3 96 3 9999"/><path d="M274 1922h2484" stroke-dasharray="0 1176 3 63 3 72 3 130 3 345 3 84 3 148 3 21 3 157 3 77 3 48 3 28 3 12 3 28 3 9999"/><path d="M274 1924h2484" stroke-dasharray="0 1319 3 446 3 541 3 9999"/><path d="M274 1928h2484" stroke-dasharray="0 1514 3 477 3 9999"/><path d="M274 1940h2484" stroke-dasharray="0 2095 3 9999"/><path d="M274 1942h2484" stroke-dasharray="0 2388 3 9999"/><path d="M274 1944h2484" stroke-dasharray="0 2121 3 6 3 9999"/><path d="M274 1948h2484" stroke-dasharray="0 462 3 1826 3 9999"/><path d="M274 1950h2484" stroke-dasharray="0 600 3 9999"/><path d="M274 1952h2484" stroke-dasharray="0 284 3 1453 3 9999"/><path d="M274 1954h2484" stroke-dasharray="0 2396 3 9999"/><path d="M274 1956h2484" stroke-dasharray="0 2432 3 9999"/><path d="M274 1960h2484" stroke-dasharray="0 2141 3 104 3 27 3 1 3 9999"/><path d="M274 1962h2484" stroke-dasharray="0 1958 3 338 3 9999"/><path d="M274 1964h2484" stroke-dasharray="0 2459 3 9999"/><path d="M274 1966h2484" stroke-dasharray="0 2452 3 9999"/><path d="M274 1968h2484" stroke-dasharray="0 2095 3 334 3 9999"/><path d="M274 1970h2484" stroke-dasharray="0 2098 3 48 3 9999"/><path d="M274 1972h2484" stroke-dasharray="0 1624 3 306 3 136 3 9999"/><path d="M274 1976h2484" stroke-dasharray="0 1205 3 165 3 254 3 759 3 9999"/><path d="M274 1978h2484" stroke-dasharray="0 1341 3 760 3 274 3 9999"/><path d="M274 1980h2484" stroke-dasharray="0 2241 3 9999"/><path d="M274 1982h2484" stroke-dasharray="0 2037 3 9999"/><path d="M274 1984h2484" stroke-dasharray="0 809 3 1555 3 9999"/><path d="M274 1986h2484" stroke-dasharray="0 883 3 9999"/><path d="M274 1990h2484" stroke-dasharray="0 2259 3 9999"/><path d="M274 1992h2484" stroke-dasharray="0 2069 3 9999"/><path d="M274 1996h2484" stroke-dasharray="0 2429 3 12 3 9999"/><path d="M274 1998h2484" stroke-dasharray="0 1708 3 417 3 9999"/><path d="M274 2002h2484" stroke-dasharray="0 1777 3 479 3 9999"/><path d="M274 2006h2484" stroke-dasharray="0 2406 3 9999"/><path d="M274 2008h2484" stroke-dasharray="0 417 3 1728 3 299 3 6 3 9999"/><path d="M274 2012h2484" stroke-dasharray="0 1624 3 766 3 9999"/><path d="M274 2014h2484" stroke-dasharray="0 2199 3 30 3 234 3 9999"/><path d="M274 2016h2484" stroke-dasharray="0 2192 3 61 3 9999"/><path d="M274 2020h2484" stroke-dasharray="0 1823 3 9999"/><path d="M274 2022h2484" stroke-dasharray="0 2142 3 19 3 138 3 139 3 9999"/><path d="M274 2024h2484" stroke-dasharray="0 2030 3 9999"/><path d="M274 2026h2484" stroke-dasharray="0 1082 3 1025 3 33 3 275 3 9999"/><path d="M274 2028h2484" stroke-dasharray="0 626 3 647 3 638 3 9999"/><path d="M274 2030h2484" stroke-dasharray="0 1512 3 9999"/><path d="M274 2032h2484" stroke-dasharray="0 1405 3 732 3 80 3 9999"/><path d="M274 2034h2484" stroke-dasharray="0 1941 3 490 3 9999"/><path d="M274 2036h2484" stroke-dasharray="0 1897 3 30 3 9999"/><path d="M274 2038h2484" stroke-dasharray="0 1889 3 392 3 172 3 9999"/><path d="M274 2040h2484" stroke-dasharray="0 1786 3 41 3 555 3 3 3 9999"/><path d="M274 2042h2484" stroke-dasharray="0 2378 3 9999"/><path d="M274 2044h2484" stroke-dasharray="0 1835 3 525 3 9999"/><path d="M274 2046h2484" stroke-dasharray="0 2407 3 20 3 9999"/><path d="M274 2048h2484" stroke-dasharray="0 1779 3 74 3 509 3 9999"/><path d="M274 2050h2484" stroke-dasharray="0 493 3 1849 3 60 3 9999"/><path d="M274 2052h2484" stroke-dasharray="0 1342 3 954 3 49 3 60 3 9999"/><path d="M274 2054h2484" stroke-dasharray="0 2293 3 103 3 54 3 9999"/><path d="M274 2056h2484" stroke-dasharray="0 294 3 1607 3 355 3 142 3 2 3 9 3 29 3 9999"/><path d="M274 2058h2484" stroke-dasharray="0 1607 3 707 3 76 3 9999"/><path d="M274 2060h2484" stroke-dasharray="0 387 3 1895 3 33 3 69 3 75 3 9999"/><path d="M274 2062h2484" stroke-dasharray="0 1470 3 551 3 242 3 23 3 162 3 12 3 9999"/><path d="M274 2064h2484" stroke-dasharray="0 1720 3 349 3 276 3 93 3 9999"/><path d="M274 2066h2484" stroke-dasharray="0 2077 3 174 3 13 3 37 3 22 3 22 3 2 3 5 3 19 3 1 3 9999"/><path d="M274 2068h2484" stroke-dasharray="0 1029 3 878 3 349 3 65 3 38 3 46 3 22 3 3 3 3 3 9999"/><path d="M274 2070h2484" stroke-dasharray="0 1302 3 999 3 22 3 18 3 1 3 2 3 9999"/><path d="M274 2072h2484" stroke-dasharray="0 1541 3 430 3 129 3 97 3 73 3 10 3 7 3 13 3 21 3 12 3 68 3 9999"/><path d="M274 2074h2484" stroke-dasharray="0 2232 3 19 3 95 3 8 3 48 3 11 3 9999"/><path d="M274 2076h2484" stroke-dasharray="0 2163 3 96 3 28 3 38 3 16 3 5 3 46 3 1 3 2 3 25 3 9999"/><path d="M274 2078h2484" stroke-dasharray="0 2256 3 12 3 39 3 20 3 32 3 62 3 16 3 9999"/><path d="M274 2080h2484" stroke-dasharray="0 2195 3 91 3 42 3 73 3 1 3 6 3 11 3 22 3 9999"/><path d="M274 2082h2484" stroke-dasharray="0 2144 3 140 3 42 3 43 3 90 3 1 3 9999"/><path d="M274 2084h2484" stroke-dasharray="0 229 3 1923 3 25 3 71 3 30 3 36 3 63 3 9999"/><path d="M274 2086h2484" stroke-dasharray="0 1362 3 660 3 37 3 88 3 52 3 17 3 75 3 135 3 9999"/><path d="M274 2088h2484" stroke-dasharray="0 1796 3 368 3 9 3 24 3 16 3 46 3 138 3 6 3 35 3 5 3 9999"/><path d="M274 2090h2484" stroke-dasharray="0 1568 3 448 3 68 3 36 3 101 3 27 3 39 3 30 3 18 3 51 3 9999"/><path d="M274 2092h2484" stroke-dasharray="0 2000 3 39 3 103 3 145 3 122 3 9 3 22 3 9999"/><path d="M274 2094h2484" stroke-dasharray="0 2150 3 113 3 8 3 82 3 35 3 26 3 1 3 9999"/><path d="M274 2096h2484" stroke-dasharray="0 1545 3 82 3 367 3 27 3 1 3 171 3 12 3 23 3 7 3 40 3 27 3 87 3 9999"/><path d="M274 2098h2484" stroke-dasharray="0 250 3 1775 3 9 3 60 3 38 3 32 3 12 3 34 3 0 3 7 3 6 3 9 3 10 3 15 3 9 3 18 3 9 3 4 3 5 3 27 3 42 3 7 3 9999"/><path d="M274 2100h2484" stroke-dasharray="0 1544 3 63 3 414 3 28 3 68 3 52 3 3 3 30 3 27 3 100 3 28 3 26 3 6 3 3 3 21 3 3 3 9999"/><path d="M274 2102h2484" stroke-dasharray="0 384 3 1242 3 121 3 241 3 19 3 41 3 102 3 11 3 109 3 78 3 36 3 12 3 31 3 9999"/><path d="M274 2104h2484" stroke-dasharray="0 1302 3 53 3 197 3 387 3 69 3 18 3 95 3 25 3 15 3 10 3 0 3 10 3 10 3 1 3 59 3 3 3 3 3 45 3 52 3 7 3 9999"/><path d="M274 2106h2484" stroke-dasharray="0 1554 3 31 3 52 3 248 3 28 3 22 3 41 3 27 3 14 3 84 3 12 3 24 3 12 3 1 3 49 3 68 3 9 3 32 3 37 3 9999"/><path d="M274 2108h2484" stroke-dasharray="0 1506 3 31 3 65 3 4 3 63 3 120 3 75 3 29 3 23 3 13 3 17 3 2 3 3 3 18 3 10 3 128 3 43 3 29 3 35 3 30 3 9999"/><path d="M274 2110h2484" stroke-dasharray="0 1442 3 60 3 8 3 52 3 183 3 6 3 208 3 20 3 17 3 8 3 113 3 6 3 66 3 36 3 25 3 50 3 9999"/><path d="M274 2112h2484" stroke-dasharray="0 744 3 56 3 460 3 127 3 187 3 189 3 83 3 67 3 107 3 34 3 23 3 97 3 21 3 9999"/><path d="M274 2114h2484" stroke-dasharray="0 393 3 53 3 36 3 291 3 33 3 31 3 254 3 190 3 42 3 20 3 109 3 45 3 110 3 76 3 4 3 92 3 21 3 148 3 57 3 99 3 155 3 9999"/><path d="M274 2116h2484" stroke-dasharray="0 445 3 121 3 811 3 132 3 1 3 39 3 49 3 3 3 136 3 100 3 19 3 98 3 1 3 12 3 1 3 53 3 12 3 38 3 72 3 229 3 9999"/><path d="M274 2118h2484" stroke-dasharray="0 274 3 523 3 68 3 86 3 5 3 409 3 180 3 0 3 3 3 16 3 19 3 5 3 37 3 3 3 22 3 17 3 94 3 41 3 70 3 95 3 243 3 14 3 117 3 11 3 9999"/><path d="M274 2120h2484" stroke-dasharray="0 595 3 267 3 115 3 174 3 184 3 100 3 91 3 13 3 1 3 17 3 2 3 2 3 0 3 2 3 3 3 2 3 1 3 9 3 106 3 48 3 2 3 45 3 55 3 24 3 0 3 1 3 103 3 96 3 189 3 89 3 9999"/><path d="M274 2122h2484" stroke-dasharray="0 920 3 527 3 46 3 3 3 16 3 20 3 2 3 4 3 9 3 1 3 0 3 8 3 4 3 0 3 1 3 3 3 0 3 2 3 35 3 70 3 22 3 6 3 68 3 141 3 6 3 8 3 10 3 9999"/><path d="M274 2124h2484" stroke-dasharray="0 390 3 533 3 217 3 37 3 186 3 55 3 83 3 0 3 12 3 6 3 3 3 4 3 5 3 0 3 0 3 7 3 1 3 0 3 12 3 2 3 4 3 1 3 4 3 12 3 29 3 93 3 101 3 28 3 31 3 60 3 308 3 52 3 9999"/><path d="M274 2126h2484" stroke-dasharray="0 341 3 150 3 254 3 40 3 84 3 6 3 79 3 143 3 33 3 11 3 73 3 170 3 9 3 130 3 4 3 7 3 11 3 6 3 1 3 25 3 0 3 10 3 5 3 1 3 17 3 73 3 4 3 37 3 89 3 42 3 26 3 303 3 19 3 91 3 8 3 38 3 9999"/><path d="M274 2128h2484" stroke-dasharray="0 428 3 18 3 258 3 227 3 282 3 18 3 58 3 27 3 178 3 16 3 12 3 1 3 5 3 10 3 8 3 2 3 10 3 3 3 30 3 50 3 21 3 43 3 412 3 117 3 10 3 15 3 0 3 9999"/><path d="M274 2130h2484" stroke-dasharray="0 294 3 530 3 463 3 39 3 37 3 0 3 82 3 57 3 8 3 9 3 4 3 10 3 50 3 2 3 15 3 17 3 29 3 14 3 11 3 16 3 107 3 14 3 21 3 117 3 67 3 85 3 102 3 27 3 23 3 60 3 47 3 22 3 9999"/><path d="M274 2132h2484" stroke-dasharray="0 1035 3 115 3 61 3 152 3 8 3 193 3 1 3 25 3 26 3 24 3 99 3 39 3 20 3 7 3 17 3 27 3 31 3 76 3 4 3 60 3 17 3 16 3 150 3 30 3 9999"/><path d="M274 2134h2484" stroke-dasharray="0 992 3 176 3 261 3 38 3 8 3 103 3 57 3 7 3 47 3 96 3 10 3 19 3 86 3 97 3 18 3 15 3 225 3 17 3 33 3 15 3 38 3 9999"/><path d="M274 2136h2484" stroke-dasharray="0 973 3 28 3 52 3 235 3 7 3 63 3 195 3 11 3 151 3 67 3 97 3 90 3 41 3 5 3 118 3 79 3 99 3 19 3 27 3 48 3 9999"/><path d="M274 2138h2484" stroke-dasharray="0 1303 3 100 3 362 3 353 3 9999"/><path d="M274 2140h2484" stroke-dasharray="0 1009 3 112 3 1155 3 9999"/><path d="M274 2160h2484" stroke-dasharray="0 1842 3 268 3 9999"/><path d="M274 2164h2484" stroke-dasharray="0 2357 3 9999"/><path d="M274 2166h2484" stroke-dasharray="0 1821 3 9999"/><path d="M274 2168h2484" stroke-dasharray="0 1705 3 604 3 9999"/><path d="M274 2170h2484" stroke-dasharray="0 1797 3 604 3 9999"/><path d="M274 2172h2484" stroke-dasharray="0 2443 3 9999"/><path d="M274 2174h2484" stroke-dasharray="0 1609 3 274 3 5 3 279 3 9999"/><path d="M274 2176h2484" stroke-dasharray="0 1756 3 9999"/><path d="M274 2178h2484" stroke-dasharray="0 305 3 1964 3 9999"/><path d="M274 2180h2484" stroke-dasharray="0 2385 3 58 3 9999"/><path d="M274 2182h2484" stroke-dasharray="0 2145 3 9999"/><path d="M274 2184h2484" stroke-dasharray="0 2068 3 9999"/><path d="M274 2186h2484" stroke-dasharray="0 2262 3 9999"/><path d="M274 2190h2484" stroke-dasharray="0 1665 3 9999"/><path d="M274 2192h2484" stroke-dasharray="0 2381 3 9999"/><path d="M274 2200h2484" stroke-dasharray="0 2014 3 9999"/><path d="M274 2204h2484" stroke-dasharray="0 1935 3 183 3 9999"/><path d="M274 2206h2484" stroke-dasharray="0 1811 3 368 3 9999"/><path d="M274 2208h2484" stroke-dasharray="0 2327 3 9999"/><path d="M274 2210h2484" stroke-dasharray="0 1781 3 401 3 104 3 9999"/><path d="M274 2212h2484" stroke-dasharray="0 764 3 102 3 1058 3 9999"/><path d="M274 2214h2484" stroke-dasharray="0 2408 3 9999"/><path d="M274 2216h2484" stroke-dasharray="0 2159 3 227 3 9999"/><path d="M274 2218h2484" stroke-dasharray="0 575 3 133 3 1586 3 143 3 9999"/><path d="M274 2220h2484" stroke-dasharray="0 2011 3 9999"/><path d="M274 2222h2484" stroke-dasharray="0 2062 3 252 3 102 3 9999"/><path d="M274 2224h2484" stroke-dasharray="0 1695 3 9999"/><path d="M274 2230h2484" stroke-dasharray="0 808 3 917 3 436 3 9999"/><path d="M274 2232h2484" stroke-dasharray="0 1871 3 264 3 102 3 208 3 9999"/><path d="M274 2234h2484" stroke-dasharray="0 1425 3 483 3 284 3 9999"/><path d="M274 2236h2484" stroke-dasharray="0 1840 3 9999"/><path d="M274 2240h2484" stroke-dasharray="0 2159 3 35 3 45 3 9999"/><path d="M274 2244h2484" stroke-dasharray="0 1080 3 627 3 9999"/><path d="M274 2246h2484" stroke-dasharray="0 1068 3 679 3 130 3 148 3 9999"/><path d="M274 2248h2484" stroke-dasharray="0 2109 3 221 3 120 3 9999"/><path d="M274 2250h2484" stroke-dasharray="0 1761 3 283 3 9999"/><path d="M274 2252h2484" stroke-dasharray="0 2239 3 221 3 9999"/><path d="M274 2254h2484" stroke-dasharray="0 1949 3 177 3 126 3 147 3 54 3 9999"/><path d="M274 2256h2484" stroke-dasharray="0 548 3 1591 3 220 3 9999"/><path d="M274 2258h2484" stroke-dasharray="0 495 3 518 3 997 3 417 3 9999"/><path d="M274 2260h2484" stroke-dasharray="0 1822 3 569 3 61 3 9999"/><path d="M274 2262h2484" stroke-dasharray="0 2378 3 9999"/><path d="M274 2264h2484" stroke-dasharray="0 2169 3 235 3 38 3 9999"/><path d="M274 2266h2484" stroke-dasharray="0 2051 3 278 3 110 3 9999"/><path d="M274 2268h2484" stroke-dasharray="0 2138 3 190 3 33 3 75 3 3 3 9999"/><path d="M274 2270h2484" stroke-dasharray="0 532 3 1237 3 9999"/><path d="M274 2272h2484" stroke-dasharray="0 637 3 1510 3 299 3 9999"/><path d="M274 2274h2484" stroke-dasharray="0 1829 3 558 3 51 3 9999"/><path d="M274 2276h2484" stroke-dasharray="0 2305 3 99 3 21 3 23 3 9999"/><path d="M274 2278h2484" stroke-dasharray="0 575 3 220 3 1059 3 35 3 410 3 132 3 9999"/><path d="M274 2280h2484" stroke-dasharray="0 2343 3 15 3 19 3 16 3 9999"/><path d="M274 2282h2484" stroke-dasharray="0 1608 3 230 3 86 3 438 3 42 3 6 3 9999"/><path d="M274 2284h2484" stroke-dasharray="0 510 3 1599 3 177 3 38 3 135 3 9999"/><path d="M274 2286h2484" stroke-dasharray="0 2456 3 9999"/><path d="M274 2288h2484" stroke-dasharray="0 2238 3 63 3 122 3 9999"/><path d="M274 2290h2484" stroke-dasharray="0 2265 3 64 3 6 3 76 3 21 3 9999"/><path d="M274 2292h2484" stroke-dasharray="0 1963 3 52 3 274 3 13 3 11 3 63 3 9 3 17 3 32 3 9999"/><path d="M274 2294h2484" stroke-dasharray="0 689 3 27 3 1444 3 126 3 6 3 9999"/><path d="M274 2296h2484" stroke-dasharray="0 2131 3 293 3 9 3 8 3 9999"/><path d="M274 2298h2484" stroke-dasharray="0 2185 3 100 3 22 3 80 3 72 3 9999"/><path d="M274 2300h2484" stroke-dasharray="0 1140 3 298 3 555 3 271 3 57 3 59 3 5 3 9999"/><path d="M274 2302h2484" stroke-dasharray="0 2132 3 17 3 39 3 17 3 10 3 77 3 7 3 25 3 18 3 27 3 9999"/><path d="M274 2304h2484" stroke-dasharray="0 1961 3 322 3 75 3 51 3 22 3 9999"/><path d="M274 2306h2484" stroke-dasharray="0 2140 3 12 3 30 3 18 3 54 3 112 3 23 3 53 3 9999"/><path d="M274 2308h2484" stroke-dasharray="0 1892 3 199 3 36 3 148 3 100 3 15 3 34 3 9999"/><path d="M274 2310h2484" stroke-dasharray="0 1048 3 1025 3 51 3 40 3 19 3 12 3 5 3 2 3 34 3 8 3 11 3 30 3 32 3 27 3 2 3 10 3 17 3 9999"/><path d="M274 2312h2484" stroke-dasharray="0 2148 3 28 3 33 3 0 3 18 3 7 3 8 3 153 3 9999"/><path d="M274 2314h2484" stroke-dasharray="0 2080 3 44 3 7 3 21 3 56 3 9 3 3 3 6 3 30 3 46 3 53 3 18 3 18 3 20 3 9999"/><path d="M274 2316h2484" stroke-dasharray="0 1929 3 119 3 58 3 52 3 32 3 40 3 12 3 165 3 35 3 9999"/><path d="M274 2318h2484" stroke-dasharray="0 2079 3 99 3 29 3 15 3 9 3 20 3 7 3 7 3 44 3 14 3 17 3 21 3 18 3 10 3 9999"/><path d="M274 2320h2484" stroke-dasharray="0 1113 3 489 3 480 3 28 3 62 3 2 3 28 3 7 3 29 3 22 3 28 3 6 3 11 3 29 3 2 3 62 3 3 3 9999"/><path d="M274 2322h2484" stroke-dasharray="0 1065 3 850 3 85 3 34 3 67 3 63 3 39 3 1 3 26 3 34 3 40 3 66 3 9999"/><path d="M274 2324h2484" stroke-dasharray="0 1307 3 676 3 14 3 28 3 49 3 10 3 39 3 6 3 29 3 7 3 4 3 12 3 42 3 12 3 1 3 27 3 5 3 91 3 9999"/><path d="M274 2326h2484" stroke-dasharray="0 592 3 170 3 252 3 952 3 31 3 90 3 10 3 14 3 87 3 16 3 47 3 6 3 0 3 9999"/><path d="M274 2328h2484" stroke-dasharray="0 763 3 1018 3 168 3 42 3 41 3 40 3 29 3 45 3 15 3 2 3 45 3 11 3 32 3 20 3 7 3 57 3 9999"/><path d="M274 2330h2484" stroke-dasharray="0 1252 3 246 3 270 3 97 3 224 3 35 3 39 3 1 3 2 3 4 3 3 3 91 3 54 3 9999"/><path d="M274 2332h2484" stroke-dasharray="0 1525 3 88 3 2 3 13 3 23 3 19 3 47 3 104 3 8 3 136 3 10 3 2 3 51 3 37 3 19 3 13 3 82 3 4 3 7 3 27 3 9999"/><path d="M274 2334h2484" stroke-dasharray="0 300 3 158 3 54 3 13 3 260 3 63 3 36 3 261 3 333 3 79 3 8 3 20 3 7 3 6 3 2 3 43 3 207 3 31 3 88 3 21 3 0 3 57 3 113 3 9999"/><path d="M274 2336h2484" stroke-dasharray="0 667 3 13 3 154 3 255 3 185 3 63 3 42 3 49 3 144 3 2 3 0 3 1 3 10 3 0 3 8 3 7 3 44 3 51 3 72 3 22 3 3 3 99 3 18 3 17 3 53 3 25 3 18 3 22 3 36 3 194 3 22 3 46 3 9999"/><path d="M274 2338h2484" stroke-dasharray="0 378 3 148 3 197 3 16 3 47 3 240 3 138 3 139 3 98 3 45 3 100 3 20 3 19 3 0 3 5 3 0 3 4 3 1 3 4 3 3 3 3 3 28 3 16 3 125 3 15 3 178 3 9 3 24 3 61 3 102 3 66 3 9999"/><path d="M274 2340h2484" stroke-dasharray="0 422 3 161 3 47 3 99 3 272 3 100 3 21 3 196 3 53 3 14 3 26 3 52 3 66 3 4 3 10 3 4 3 3 3 1 3 2 3 7 3 2 3 8 3 7 3 1 3 0 3 0 3 27 3 0 3 2 3 11 3 19 3 53 3 99 3 4 3 0 3 9 3 23 3 20 3 44 3 32 3 128 3 9999"/><path d="M274 2342h2484" stroke-dasharray="0 359 3 33 3 81 3 104 3 272 3 62 3 12 3 17 3 10 3 1 3 198 3 222 3 31 3 12 3 81 3 47 3 0 3 6 3 3 3 13 3 0 3 2 3 1 3 1 3 2 3 10 3 50 3 52 3 3 3 6 3 7 3 3 3 13 3 7 3 30 3 41 3 61 3 27 3 5 3 9999"/><path d="M274 2344h2484" stroke-dasharray="0 469 3 4 3 225 3 20 3 12 3 169 3 158 3 46 3 36 3 245 3 17 3 57 3 30 3 26 3 29 3 6 3 4 3 1 3 7 3 3 3 7 3 1 3 9 3 4 3 23 3 0 3 105 3 28 3 5 3 128 3 11 3 182 3 120 3 9999"/><path d="M274 2346h2484" stroke-dasharray="0 310 3 277 3 62 3 109 3 207 3 141 3 4 3 206 3 10 3 21 3 12 3 22 3 36 3 14 3 6 3 99 3 0 3 16 3 4 3 4 3 1 3 3 3 1 3 2 3 11 3 3 3 2 3 13 3 16 3 3 3 17 3 74 3 23 3 7 3 32 3 9 3 250 3 261 3 60 3 9999"/><path d="M274 2348h2484" stroke-dasharray="0 208 3 684 3 93 3 203 3 41 3 8 3 66 3 18 3 65 3 68 3 78 3 4 3 35 3 16 3 6 3 1 3 5 3 1 3 6 3 38 3 6 3 52 3 15 3 0 3 34 3 0 3 32 3 18 3 3 3 19 3 29 3 2 3 11 3 48 3 12 3 18 3 20 3 4 3 5 3 43 3 33 3 39 3 47 3 35 3 2 3 30 3 28 3 47 3 9999"/><path d="M274 2350h2484" stroke-dasharray="0 976 3 25 3 108 3 11 3 150 3 18 3 57 3 0 3 10 3 37 3 20 3 37 3 46 3 86 3 2 3 0 3 3 3 13 3 17 3 23 3 24 3 0 3 62 3 123 3 6 3 4 3 8 3 56 3 62 3 18 3 26 3 15 3 21 3 36 3 120 3 24 3 73 3 21 3 9999"/><path d="M274 2352h2484" stroke-dasharray="0 895 3 298 3 181 3 25 3 8 3 10 3 3 3 110 3 18 3 67 3 99 3 212 3 12 3 36 3 4 3 79 3 10 3 118 3 5 3 205 3 9999"/><path d="M274 2354h2484" stroke-dasharray="0 1310 3 322 3 540 3 55 3 0 3 9999"/><path d="M274 2356h2484" stroke-dasharray="0 1040 3 565 3 17 3 730 3 9999"/><path d="M274 2358h2484" stroke-dasharray="0 2275 3 9999"/><path d="M274 2368h2484" stroke-dasharray="0 2097 3 90 3 9999"/><path d="M274 2370h2484" stroke-dasharray="0 1392 3 9999"/><path d="M274 2372h2484" stroke-dasharray="0 2083 3 9999"/><path d="M274 2374h2484" stroke-dasharray="0 1017 3 1177 3 230 3 9999"/><path d="M274 2376h2484" stroke-dasharray="0 2147 3 9999"/><path d="M274 2378h2484" stroke-dasharray="0 499 3 1262 3 9999"/><path d="M274 2380h2484" stroke-dasharray="0 2294 3 9999"/><path d="M274 2382h2484" stroke-dasharray="0 1691 3 419 3 9999"/><path d="M274 2384h2484" stroke-dasharray="0 2015 3 9999"/><path d="M274 2388h2484" stroke-dasharray="0 2105 3 9999"/><path d="M274 2390h2484" stroke-dasharray="0 1687 3 342 3 9999"/><path d="M274 2392h2484" stroke-dasharray="0 753 3 9999"/><path d="M274 2394h2484" stroke-dasharray="0 2257 3 9999"/><path d="M274 2396h2484" stroke-dasharray="0 417 3 820 3 890 3 9999"/><path d="M274 2398h2484" stroke-dasharray="0 1351 3 733 3 65 3 9999"/><path d="M274 2400h2484" stroke-dasharray="0 1511 3 557 3 97 3 9999"/><path d="M274 2402h2484" stroke-dasharray="0 1790 3 205 3 234 3 9999"/><path d="M274 2404h2484" stroke-dasharray="0 2287 3 17 3 32 3 9999"/><path d="M274 2408h2484" stroke-dasharray="0 2071 3 76 3 9999"/><path d="M274 2410h2484" stroke-dasharray="0 1790 3 546 3 9999"/><path d="M274 2412h2484" stroke-dasharray="0 2435 3 9999"/><path d="M274 2414h2484" stroke-dasharray="0 1727 3 26 3 9999"/><path d="M274 2416h2484" stroke-dasharray="0 2238 3 9999"/><path d="M274 2418h2484" stroke-dasharray="0 2331 3 9999"/><path d="M274 2420h2484" stroke-dasharray="0 2469 3 9999"/><path d="M274 2422h2484" stroke-dasharray="0 2330 3 9999"/><path d="M274 2426h2484" stroke-dasharray="0 1741 3 201 3 9999"/><path d="M274 2428h2484" stroke-dasharray="0 2001 3 40 3 9999"/><path d="M274 2432h2484" stroke-dasharray="0 2104 3 9999"/><path d="M274 2434h2484" stroke-dasharray="0 2130 3 188 3 9999"/><path d="M274 2436h2484" stroke-dasharray="0 2254 3 114 3 9999"/><path d="M274 2438h2484" stroke-dasharray="0 2145 3 147 3 163 3 9999"/><path d="M274 2440h2484" stroke-dasharray="0 2435 3 30 3 9999"/><path d="M274 2442h2484" stroke-dasharray="0 2180 3 225 3 9999"/><path d="M274 2444h2484" stroke-dasharray="0 2166 3 29 3 9999"/><path d="M274 2448h2484" stroke-dasharray="0 2412 3 9999"/><path d="M274 2450h2484" stroke-dasharray="0 2185 3 259 3 9999"/><path d="M274 2452h2484" stroke-dasharray="0 2328 3 35 3 9999"/><path d="M274 2454h2484" stroke-dasharray="0 756 3 1704 3 9999"/><path d="M274 2460h2484" stroke-dasharray="0 2068 3 9999"/><path d="M274 2462h2484" stroke-dasharray="0 2171 3 9999"/><path d="M274 2464h2484" stroke-dasharray="0 1806 3 35 3 9999"/><path d="M274 2466h2484" stroke-dasharray="0 1022 3 1285 3 9999"/><path d="M274 2468h2484" stroke-dasharray="0 2362 3 10 3 9999"/><path d="M274 2470h2484" stroke-dasharray="0 2428 3 18 3 9999"/><path d="M274 2472h2484" stroke-dasharray="0 2284 3 108 3 9999"/><path d="M274 2474h2484" stroke-dasharray="0 809 3 1606 3 23 3 9999"/><path d="M274 2476h2484" stroke-dasharray="0 1858 3 610 3 9999"/><path d="M274 2478h2484" stroke-dasharray="0 2367 3 96 3 9999"/><path d="M274 2480h2484" stroke-dasharray="0 1442 3 552 3 455 3 16 3 9999"/><path d="M274 2482h2484" stroke-dasharray="0 1702 3 730 3 9999"/><path d="M274 2484h2484" stroke-dasharray="0 2343 3 105 3 0 3 6 3 9999"/><path d="M274 2486h2484" stroke-dasharray="0 1570 3 753 3 9999"/><path d="M274 2488h2484" stroke-dasharray="0 2344 3 16 3 13 3 48 3 9999"/><path d="M274 2490h2484" stroke-dasharray="0 1200 3 810 3 315 3 113 3 13 3 9999"/><path d="M274 2492h2484" stroke-dasharray="0 1812 3 229 3 233 3 100 3 22 3 5 3 47 3 9999"/><path d="M274 2494h2484" stroke-dasharray="0 1655 3 482 3 183 3 20 3 114 3 9999"/><path d="M274 2496h2484" stroke-dasharray="0 2320 3 70 3 36 3 9999"/><path d="M274 2498h2484" stroke-dasharray="0 2213 3 103 3 135 3 9999"/><path d="M274 2500h2484" stroke-dasharray="0 1960 3 169 3 50 3 0 3 140 3 51 3 32 3 9999"/><path d="M274 2502h2484" stroke-dasharray="0 775 3 1524 3 44 3 8 3 19 3 36 3 24 3 1 3 9999"/><path d="M274 2504h2484" stroke-dasharray="0 2223 3 7 3 116 3 12 3 9999"/><path d="M274 2506h2484" stroke-dasharray="0 2169 3 188 3 108 3 9999"/><path d="M274 2508h2484" stroke-dasharray="0 2362 3 9999"/><path d="M274 2510h2484" stroke-dasharray="0 992 3 711 3 477 3 124 3 72 3 25 3 35 3 9999"/><path d="M274 2512h2484" stroke-dasharray="0 2230 3 78 3 50 3 22 3 5 3 65 3 9999"/><path d="M274 2514h2484" stroke-dasharray="0 2043 3 123 3 8 3 66 3 11 3 16 3 150 3 9999"/><path d="M274 2516h2484" stroke-dasharray="0 2230 3 12 3 34 3 15 3 31 3 19 3 4 3 3 3 43 3 9999"/><path d="M274 2518h2484" stroke-dasharray="0 1548 3 154 3 415 3 22 3 43 3 2 3 2 3 25 3 41 3 43 3 32 3 35 3 12 3 12 3 24 3 7 3 9999"/><path d="M274 2520h2484" stroke-dasharray="0 411 3 1429 3 145 3 133 3 2 3 22 3 36 3 23 3 29 3 35 3 34 3 21 3 20 3 12 3 9999"/><path d="M274 2522h2484" stroke-dasharray="0 1894 3 199 3 29 3 39 3 3 3 6 3 3 3 6 3 51 3 8 3 30 3 18 3 138 3 9999"/><path d="M274 2524h2484" stroke-dasharray="0 2183 3 44 3 100 3 28 3 61 3 19 3 9999"/><path d="M274 2526h2484" stroke-dasharray="0 2121 3 21 3 0 3 101 3 7 3 24 3 36 3 9 3 89 3 23 3 9999"/><path d="M274 2528h2484" stroke-dasharray="0 1945 3 45 3 74 3 135 3 26 3 182 3 4 3 5 3 9999"/><path d="M274 2530h2484" stroke-dasharray="0 1651 3 474 3 92 3 29 3 29 3 65 3 28 3 60 3 9999"/><path d="M274 2532h2484" stroke-dasharray="0 1489 3 434 3 45 3 72 3 97 3 33 3 15 3 1 3 36 3 3 3 1 3 66 3 55 3 22 3 9999"/><path d="M274 2534h2484" stroke-dasharray="0 520 3 697 3 536 3 185 3 70 3 25 3 10 3 12 3 16 3 113 3 2 3 8 3 55 3 18 3 38 3 21 3 47 3 9999"/><path d="M274 2536h2484" stroke-dasharray="0 771 3 423 3 662 3 194 3 55 3 26 3 4 3 94 3 103 3 39 3 9999"/><path d="M274 2538h2484" stroke-dasharray="0 1041 3 598 3 92 3 23 3 178 3 14 3 21 3 85 3 24 3 36 3 8 3 35 3 3 3 4 3 1 3 91 3 29 3 22 3 9999"/><path d="M274 2540h2484" stroke-dasharray="0 684 3 412 3 113 3 100 3 483 3 116 3 0 3 5 3 185 3 14 3 81 3 72 3 55 3 9999"/><path d="M274 2542h2484" stroke-dasharray="0 496 3 240 3 49 3 145 3 280 3 300 3 196 3 8 3 123 3 40 3 71 3 91 3 13 3 8 3 100 3 16 3 119 3 9999"/><path d="M274 2544h2484" stroke-dasharray="0 421 3 399 3 406 3 146 3 311 3 0 3 21 3 110 3 26 3 46 3 26 3 67 3 44 3 3 3 25 3 28 3 30 3 33 3 46 3 183 3 9999"/><path d="M274 2546h2484" stroke-dasharray="0 355 3 43 3 212 3 1 3 1094 3 8 3 8 3 2 3 2 3 0 3 8 3 14 3 3 3 15 3 39 3 77 3 124 3 6 3 9 3 39 3 15 3 86 3 3 3 24 3 39 3 9999"/><path d="M274 2548h2484" stroke-dasharray="0 669 3 81 3 40 3 617 3 11 3 69 3 8 3 161 3 2 3 3 3 6 3 1 3 9 3 2 3 8 3 9 3 7 3 15 3 0 3 24 3 74 3 19 3 15 3 30 3 19 3 123 3 108 3 6 3 9999"/><path d="M274 2550h2484" stroke-dasharray="0 336 3 256 3 193 3 733 3 105 3 25 3 0 3 9 3 14 3 10 3 9 3 4 3 8 3 8 3 0 3 7 3 3 3 8 3 6 3 36 3 38 3 11 3 60 3 37 3 42 3 319 3 9999"/><path d="M274 2552h2484" stroke-dasharray="0 438 3 73 3 2 3 72 3 131 3 78 3 443 3 48 3 141 3 18 3 165 3 30 3 7 3 5 3 5 3 23 3 4 3 12 3 1 3 3 3 2 3 8 3 4 3 0 3 1 3 16 3 4 3 3 3 53 3 36 3 26 3 168 3 207 3 9999"/><path d="M274 2554h2484" stroke-dasharray="0 292 3 87 3 64 3 323 3 64 3 191 3 52 3 23 3 52 3 189 3 12 3 139 3 33 3 47 3 13 3 7 3 26 3 9 3 0 3 7 3 21 3 1 3 0 3 4 3 0 3 16 3 1 3 7 3 4 3 7 3 5 3 15 3 2 3 1 3 2 3 45 3 16 3 3 3 40 3 178 3 124 3 9999"/><path d="M274 2556h2484" stroke-dasharray="0 460 3 40 3 31 3 114 3 188 3 132 3 211 3 117 3 168 3 34 3 38 3 43 3 7 3 28 3 9 3 3 3 30 3 3 3 25 3 1 3 4 3 7 3 29 3 15 3 14 3 79 3 34 3 270 3 158 3 9999"/><path d="M274 2558h2484" stroke-dasharray="0 316 3 381 3 201 3 238 3 57 3 96 3 58 3 62 3 61 3 10 3 27 3 161 3 30 3 2 3 2 3 5 3 53 3 45 3 59 3 548 3 9999"/><path d="M274 2560h2484" stroke-dasharray="0 442 3 529 3 27 3 12 3 203 3 42 3 119 3 7 3 19 3 33 3 240 3 26 3 116 3 60 3 22 3 145 3 104 3 65 3 9 3 188 3 9999"/><path d="M274 2562h2484" stroke-dasharray="0 971 3 24 3 50 3 21 3 21 3 74 3 5 3 40 3 40 3 43 3 0 3 12 3 34 3 13 3 0 3 65 3 0 3 23 3 0 3 34 3 22 3 16 3 17 3 21 3 26 3 34 3 16 3 11 3 1 3 10 3 14 3 6 3 46 3 59 3 2 3 39 3 19 3 8 3 42 3 11 3 2 3 54 3 51 3 10 3 7 3 34 3 15 3 17 3 33 3 27 3 28 3 66 3 28 3 9999"/><path d="M274 2564h2484" stroke-dasharray="0 1077 3 30 3 137 3 162 3 29 3 17 3 35 3 108 3 3 3 51 3 75 3 131 3 16 3 3 3 94 3 34 3 0 3 26 3 37 3 28 3 258 3 44 3 2 3 8 3 9999"/><path d="M274 2566h2484" stroke-dasharray="0 1161 3 262 3 143 3 235 3 68 3 31 3 13 3 57 3 115 3 10 3 9999"/><path d="M274 2568h2484" stroke-dasharray="0 1521 3 373 3 9999"/></g></g>
<g fill="#ffa8af" fill-opacity="0.3"><rect x="430.1" y="0.5" width="103.3" height="54.0"/><rect x="430.1" y="54.5" width="103.3" height="54.0"/><rect x="378.4" y="108.5" width="103.3" height="54.0"/><rect x="430.1" y="162.5" width="103.3" height="53.0"/><rect x="326.8" y="215.5" width="154.9" height="54.0"/><rect x="430.1" y="269.5" width="103.3" height="54.0"/><rect x="326.8" y="323.5" width="154.9" height="53.0"/><rect x="378.4" y="376.5" width="154.9" height="54.0"/><rect x="275.1" y="430.5" width="206.6" height="54.0"/><rect x="275.1" y="484.5" width="206.6" height="54.0"/><rect x="326.8" y="538.5" width="154.9" height="53.0"/><rect x="275.1" y="591.5" width="206.6" height="54.0"/></g>
<path d="M68.5 42.7H688.3M68.5 96.9H688.3M68.5 151.8H688.3M68.5 204.5H688.3M68.5 258.8H688.3M68.5 313.6H688.3M68.5 368.4H688.3M68.5 424.9H688.3M68.5 478.6H688.3M68.5 532.0H688.3M68.5 586.7H688.3M68.5 639.9H688.3" stroke="#fc1c1c" stroke-width="2" fill="none"/>
<path d="M68.5 0.5H688.3M68.5 54.5H688.3M68.5 108.5H688.3M68.5 162.5H688.3M68.5 215.5H688.3M68.5 269.5H688.3M68.5 323.5H688.3M68.5 376.5H688.3M68.5 430.5H688.3M68.5 484.5H688.3M68.5 538.5H688.3M68.5 591.5H688.3M68.5 645.5H688.3M68.5 0V645.5M688.3 0V645.5M68.5 49.12h5.5M688.3 49.12h-5.5M68.5 43.75h5.5M688.3 43.75h-5.5M68.5 38.38h5.5M688.3 38.38h-5.5M68.5 33.00h5.5M688.3 33.00h-5.5M68.5 27.62h11M688.3 27.62h-11M68.5 22.25h5.5M688.3 22.25h-5.5M68.5 16.88h5.5M688.3 16.88h-5.5M68.5 11.50h5.5M688.3 11.50h-5.5M68.5 6.12h5.5M688.3 6.12h-5.5M68.5 103.12h5.5M688.3 103.12h-5.5M68.5 97.75h5.5M688.3 97.75h-5.5M68.5 92.38h5.5M688.3 92.38h-5.5M68.5 87.00h5.5M688.3 87.00h-5.5M68.5 81.62h11M688.3 81.62h-11M68.5 76.25h5.5M688.3 76.25h-5.5M68.5 70.88h5.5M688.3 70.88h-5.5M68.5 65.50h5.5M688.3 65.50h-5.5M68.5 60.12h5.5M688.3 60.12h-5.5M68.5 157.12h5.5M688.3 157.12h-5.5M68.5 151.75h5.5M688.3 151.75h-5.5M68.5 146.38h5.5M688.3 146.38h-5.5M68.5 141.00h5.5M688.3 141.00h-5.5M68.5 135.62h11M688.3 135.62h-11M68.5 130.25h5.5M688.3 130.25h-5.5M68.5 124.88h5.5M688.3 124.88h-5.5M68.5 119.50h5.5M688.3 119.50h-5.5M68.5 114.12h5.5M688.3 114.12h-5.5M68.5 210.12h5.5M688.3 210.12h-5.5M68.5 204.75h5.5M688.3 204.75h-5.5M68.5 199.38h5.5M688.3 199.38h-5.5M68.5 194.00h5.5M688.3 194.00h-5.5M68.5 188.62h11M688.3 188.62h-11M68.5 183.25h5.5M688.3 183.25h-5.5M68.5 177.88h5.5M688.3 177.88h-5.5M68.5 172.50h5.5M688.3 172.50h-5.5M68.5 167.12h5.5M688.3 167.12h-5.5M68.5 264.12h5.5M688.3 264.12h-5.5M68.5 258.75h5.5M688.3 258.75h-5.5M68.5 253.38h5.5M688.3 253.38h-5.5M68.5 248.00h5.5M688.3 248.00h-5.5M68.5 242.62h11M688.3 242.62h-11M68.5 237.25h5.5M688.3 237.25h-5.5M68.5 231.88h5.5M688.3 231.88h-5.5M68.5 226.50h5.5M688.3 226.50h-5.5M68.5 221.12h5.5M688.3 221.12h-5.5M68.5 318.12h5.5M688.3 318.12h-5.5M68.5 312.75h5.5M688.3 312.75h-5.5M68.5 307.38h5.5M688.3 307.38h-5.5M68.5 302.00h5.5M688.3 302.00h-5.5M68.5 296.62h11M688.3 296.62h-11M68.5 291.25h5.5M688.3 291.25h-5.5M68.5 285.88h5.5M688.3 285.88h-5.5M68.5 280.50h5.5M688.3 280.50h-5.5M68.5 275.12h5.5M688.3 275.12h-5.5M68.5 371.12h5.5M688.3 371.12h-5.5M68.5 365.75h5.5M688.3 365.75h-5.5M68.5 360.38h5.5M688.3 360.38h-5.5M68.5 355.00h5.5M688.3 355.00h-5.5M68.5 349.62h11M688.3 349.62h-11M68.5 344.25h5.5M688.3 344.25h-5.5M68.5 338.88h5.5M688.3 338.88h-5.5M68.5 333.50h5.5M688.3 333.50h-5.5M68.5 328.12h5.5M688.3 328.12h-5.5M68.5 425.12h5.5M688.3 425.12h-5.5M68.5 419.75h5.5M688.3 419.75h-5.5M68.5 414.38h5.5M688.3 414.38h-5.5M68.5 409.00h5.5M688.3 409.00h-5.5M68.5 403.62h11M688.3 403.62h-11M68.5 398.25h5.5M688.3 398.25h-5.5M68.5 392.88h5.5M688.3 392.88h-5.5M68.5 387.50h5.5M688.3 387.50h-5.5M68.5 382.12h5.5M688.3 382.12h-5.5M68.5 479.12h5.5M688.3 479.12h-5.5M68.5 473.75h5.5M688.3 473.75h-5.5M68.5 468.38h5.5M688.3 468.38h-5.5M68.5 463.00h5.5M688.3 463.00h-5.5M68.5 457.62h11M688.3 457.62h-11M68.5 452.25h5.5M688.3 452.25h-5.5M68.5 446.88h5.5M688.3 446.88h-5.5M68.5 441.50h5.5M688.3 441.50h-5.5M68.5 436.12h5.5M688.3 436.12h-5.5M68.5 533.12h5.5M688.3 533.12h-5.5M68.5 527.75h5.5M688.3 527.75h-5.5M68.5 522.38h5.5M688.3 522.38h-5.5M68.5 517.00h5.5M688.3 517.00h-5.5M68.5 511.62h11M688.3 511.62h-11M68.5 506.25h5.5M688.3 506.25h-5.5M68.5 500.88h5.5M688.3 500.88h-5.5M68.5 495.50h5.5M688.3 495.50h-5.5M68.5 490.12h5.5M688.3 490.12h-5.5M68.5 586.12h5.5M688.3 586.12h-5.5M68.5 580.75h5.5M688.3 580.75h-5.5M68.5 575.38h5.5M688.3 575.38h-5.5M68.5 570.00h5.5M688.3 570.00h-5.5M68.5 564.62h11M688.3 564.62h-11M68.5 559.25h5.5M688.3 559.25h-5.5M68.5 553.88h5.5M688.3 553.88h-5.5M68.5 548.50h5.5M688.3 548.50h-5.5M68.5 543.12h5.5M688.3 543.12h-5.5M68.5 640.12h5.5M688.3 640.12h-5.5M68.5 634.75h5.5M688.3 634.75h-5.5M68.5 629.38h5.5M688.3 629.38h-5.5M68.5 624.00h5.5M688.3 624.00h-5.5M68.5 618.62h11M688.3 618.62h-11M68.5 613.25h5.5M688.3 613.25h-5.5M68.5 607.88h5.5M688.3 607.88h-5.5M68.5 602.50h5.5M688.3 602.50h-5.5M68.5 597.12h5.5M688.3 597.12h-5.5M120.2 54.5v-5M120.2 0.5v5M171.8 54.5v-5M171.8 0.5v5M223.4 54.5v-5M223.4 0.5v5M275.1 54.5v-10M275.1 0.5v10M326.8 54.5v-5M326.8 0.5v5M378.4 54.5v-5M378.4 0.5v5M430.1 54.5v-5M430.1 0.5v5M481.7 54.5v-10M481.7 0.5v10M533.3 54.5v-5M533.3 0.5v5M585.0 54.5v-5M585.0 0.5v5M636.6 54.5v-5M636.6 0.5v5M120.2 108.5v-5M120.2 54.5v5M171.8 108.5v-5M171.8 54.5v5M223.4 108.5v-5M223.4 54.5v5M275.1 108.5v-10M275.1 54.5v10M326.8 108.5v-5M326.8 54.5v5M378.4 108.5v-5M378.4 54.5v5M430.1 108.5v-5M430.1 54.5v5M481.7 108.5v-10M481.7 54.5v10M533.3 108.5v-5M533.3 54.5v5M585.0 108.5v-5M585.0 54.5v5M636.6 108.5v-5M636.6 54.5v5M120.2 162.5v-5M120.2 108.5v5M171.8 162.5v-5M171.8 108.5v5M223.4 162.5v-5M223.4 108.5v5M275.1 162.5v-10M275.1 108.5v10M326.8 162.5v-5M326.8 108.5v5M378.4 162.5v-5M378.4 108.5v5M430.1 162.5v-5M430.1 108.5v5M481.7 162.5v-10M481.7 108.5v10M533.3 162.5v-5M533.3 108.5v5M585.0 162.5v-5M585.0 108.5v5M636.6 162.5v-5M636.6 108.5v5M120.2 215.5v-5M120.2 162.5v5M171.8 215.5v-5M171.8 162.5v5M223.4 215.5v-5M223.4 162.5v5M275.1 215.5v-10M275.1 162.5v10M326.8 215.5v-5M326.8 162.5v5M378.4 215.5v-5M378.4 162.5v5M430.1 215.5v-5M430.1 162.5v5M481.7 215.5v-10M481.7 162.5v10M533.3 215.5v-5M533.3 162.5v5M585.0 215.5v-5M585.0 162.5v5M636.6 215.5v-5M636.6 162.5v5M120.2 269.5v-5M120.2 215.5v5M171.8 269.5v-5M171.8 215.5v5M223.4 269.5v-5M223.4 215.5v5M275.1 269.5v-10M275.1 215.5v10M326.8 269.5v-5M326.8 215.5v5M378.4 269.5v-5M378.4 215.5v5M430.1 269.5v-5M430.1 215.5v5M481.7 269.5v-10M481.7 215.5v10M533.3 269.5v-5M533.3 215.5v5M585.0 269.5v-5M585.0 215.5v5M636.6 269.5v-5M636.6 215.5v5M120.2 323.5v-5M120.2 269.5v5M171.8 323.5v-5M171.8 269.5v5M223.4 323.5v-5M223.4 269.5v5M275.1 323.5v-10M275.1 269.5v10M326.8 323.5v-5M326.8 269.5v5M378.4 323.5v-5M378.4 269.5v5M430.1 323.5v-5M430.1 269.5v5M481.7 323.5v-10M481.7 269.5v10M533.3 323.5v-5M533.3 269.5v5M585.0 323.5v-5M585.0 269.5v5M636.6 323.5v-5M636.6 269.5v5M120.2 376.5v-5M120.2 323.5v5M171.8 376.5v-5M171.8 323.5v5M223.4 376.5v-5M223.4 323.5v5M275.1 376.5v-10M275.1 323.5v10M326.8 376.5v-5M326.8 323.5v5M378.4 376.5v-5M378.4 323.5v5M430.1 376.5v-5M430.1 323.5v5M481.7 376.5v-10M481.7 323.5v10M533.3 376.5v-5M533.3 323.5v5M585.0 376.5v-5M585.0 323.5v5M636.6 376.5v-5M636.6 323.5v5M120.2 430.5v-5M120.2 376.5v5M171.8 430.5v-5M171.8 376.5v5M223.4 430.5v-5M223.4 376.5v5M275.1 430.5v-10M275.1 376.5v10M326.8 430.5v-5M326.8 376.5v5M378.4 430.5v-5M378.4 376.5v5M430.1 430.5v-5M430.1 376.5v5M481.7 430.5v-10M481.7 376.5v10M533.3 430.5v-5M533.3 376.5v5M585.0 430.5v-5M585.0 376.5v5M636.6 430.5v-5M636.6 376.5v5M120.2 484.5v-5M120.2 430.5v5M171.8 484.5v-5M171.8 430.5v5M223.4 484.5v-5M223.4 430.5v5M275.1 484.5v-10M275.1 430.5v10M326.8 484.5v-5M326.8 430.5v5M378.4 484.5v-5M378.4 430.5v5M430.1 484.5v-5M430.1 430.5v5M481.7 484.5v-10M481.7 430.5v10M533.3 484.5v-5M533.3 430.5v5M585.0 484.5v-5M585.0 430.5v5M636.6 484.5v-5M636.6 430.5v5M120.2 538.5v-5M120.2 484.5v5M171.8 538.5v-5M171.8 484.5v5M223.4 538.5v-5M223.4 484.5v5M275.1 538.5v-10M275.1 484.5v10M326.8 538.5v-5M326.8 484.5v5M378.4 538.5v-5M378.4 484.5v5M430.1 538.5v-5M430.1 484.5v5M481.7 538.5v-10M481.7 484.5v10M533.3 538.5v-5M533.3 484.5v5M585.0 538.5v-5M585.0 484.5v5M636.6 538.5v-5M636.6 484.5v5M120.2 591.5v-5M120.2 538.5v5M171.8 591.5v-5M171.8 538.5v5M223.4 591.5v-5M223.4 538.5v5M275.1 591.5v-10M275.1 538.5v10M326.8 591.5v-5M326.8 538.5v5M378.4 591.5v-5M378.4 538.5v5M430.1 591.5v-5M430.1 538.5v5M481.7 591.5v-10M481.7 538.5v10M533.3 591.5v-5M533.3 538.5v5M585.0 591.5v-5M585.0 538.5v5M636.6 591.5v-5M636.6 538.5v5M120.2 645.5v-5M120.2 591.5v5M171.8 645.5v-5M171.8 591.5v5M223.4 645.5v-5M223.4 591.5v5M275.1 645.5v-10M275.1 591.5v10M326.8 645.5v-5M326.8 591.5v5M378.4 645.5v-5M378.4 591.5v5M430.1 645.5v-5M430.1 591.5v5M481.7 645.5v-10M481.7 591.5v10M533.3 645.5v-5M533.3 591.5v5M585.0 645.5v-5M585.0 591.5v5M636.6 645.5v-5M636.6 591.5v5" stroke="#555" stroke-width="1" fill="none"/>
<text transform="translate(79.9,26.8) scale(1.12,1)" letter-spacing="0.3">F090</text><text transform="translate(122.0,26.8) scale(0.7,1)">W</text><text transform="translate(143.2,26.8) scale(1.1,1)">−</text><text transform="translate(163.9,26.8) scale(1.12,1)" letter-spacing="0.3">0.044</text><text x="58.5" y="33.6" text-anchor="end" letter-spacing="0.8">0.1</text><text x="58.5" y="60.5" text-anchor="end">0</text><text transform="translate(79.9,80.8) scale(1.12,1)" letter-spacing="0.3">F115</text><text transform="translate(122.0,80.8) scale(0.7,1)">W</text><text transform="translate(143.2,80.8) scale(1.1,1)">−</text><text transform="translate(163.9,80.8) scale(1.12,1)" letter-spacing="0.3">0.043</text><text x="58.5" y="87.6" text-anchor="end" letter-spacing="0.8">0.1</text><text x="58.5" y="114.5" text-anchor="end">0</text><text transform="translate(85.1,134.8) scale(1.12,1)" letter-spacing="0.3">F140</text><text transform="translate(127.2,134.8) scale(0.8,1)">M</text><text transform="translate(148.4,134.8) scale(1.1,1)">−</text><text transform="translate(169.1,134.8) scale(1.12,1)" letter-spacing="0.3">0.04</text><text x="58.5" y="141.6" text-anchor="end" letter-spacing="0.8">0.1</text><text x="58.5" y="168.5" text-anchor="end">0</text><text transform="translate(79.9,188.8) scale(1.12,1)" letter-spacing="0.3">F150</text><text transform="translate(122.0,188.8) scale(0.7,1)">W</text><text transform="translate(143.2,188.8) scale(1.1,1)">−</text><text transform="translate(163.9,188.8) scale(1.12,1)" letter-spacing="0.3">0.041</text><text x="58.5" y="194.6" text-anchor="end" letter-spacing="0.8">0.1</text><text x="58.5" y="221.5" text-anchor="end">0</text><text transform="translate(85.1,241.8) scale(1.12,1)" letter-spacing="0.3">F158</text><text transform="translate(127.2,241.8) scale(0.8,1)">M</text><text transform="translate(148.4,241.8) scale(1.1,1)">−</text><text transform="translate(169.1,241.8) scale(1.12,1)" letter-spacing="0.3">0.04</text><text x="58.5" y="248.6" text-anchor="end" letter-spacing="0.8">0.1</text><text x="58.5" y="275.5" text-anchor="end">0</text><text transform="translate(79.9,295.8) scale(1.12,1)" letter-spacing="0.3">F200</text><text transform="translate(122.0,295.8) scale(0.7,1)">W</text><text transform="translate(143.2,295.8) scale(1.1,1)">−</text><text transform="translate(163.9,295.8) scale(1.12,1)" letter-spacing="0.3">0.037</text><text x="58.5" y="302.6" text-anchor="end" letter-spacing="0.8">0.1</text><text x="58.5" y="329.5" text-anchor="end">0</text><text transform="translate(85.1,349.8) scale(1.12,1)" letter-spacing="0.3">F277</text><text transform="translate(127.2,349.8) scale(0.7,1)">W</text><text transform="translate(148.4,349.8) scale(1.1,1)">−</text><text transform="translate(169.1,349.8) scale(1.12,1)" letter-spacing="0.3">0.03</text><text x="58.5" y="355.6" text-anchor="end" letter-spacing="0.8">0.1</text><text x="58.5" y="382.5" text-anchor="end">0</text><text transform="translate(79.9,402.8) scale(1.12,1)" letter-spacing="0.3">F356</text><text transform="translate(122.0,402.8) scale(0.7,1)">W</text><text transform="translate(143.2,402.8) scale(1.1,1)">−</text><text transform="translate(163.9,402.8) scale(1.12,1)" letter-spacing="0.3">0.021</text><text x="58.5" y="409.6" text-anchor="end" letter-spacing="0.8">0.1</text><text x="58.5" y="436.5" text-anchor="end">0</text><text transform="translate(79.9,456.8) scale(1.12,1)" letter-spacing="0.3">F380</text><text transform="translate(122.0,456.8) scale(0.8,1)">M</text><text transform="translate(143.2,456.8) scale(1.1,1)">−</text><text transform="translate(163.9,456.8) scale(1.12,1)" letter-spacing="0.3">0.022</text><text x="58.5" y="463.6" text-anchor="end" letter-spacing="0.8">0.1</text><text x="58.5" y="490.5" text-anchor="end">0</text><text transform="translate(79.9,510.8) scale(1.12,1)" letter-spacing="0.3">F430</text><text transform="translate(122.0,510.8) scale(0.8,1)">M</text><text transform="translate(143.2,510.8) scale(1.1,1)">−</text><text transform="translate(163.9,510.8) scale(1.12,1)" letter-spacing="0.3">0.024</text><text x="58.5" y="517.6" text-anchor="end" letter-spacing="0.8">0.1</text><text x="58.5" y="544.5" text-anchor="end">0</text><text transform="translate(79.9,564.8) scale(1.12,1)" letter-spacing="0.3">F444</text><text transform="translate(122.0,564.8) scale(0.7,1)">W</text><text transform="translate(143.2,564.8) scale(1.1,1)">−</text><text transform="translate(163.9,564.8) scale(1.12,1)" letter-spacing="0.3">0.018</text><text x="58.5" y="570.6" text-anchor="end" letter-spacing="0.8">0.1</text><text x="58.5" y="597.5" text-anchor="end">0</text><text transform="translate(79.9,617.8) scale(1.12,1)" letter-spacing="0.3">F480</text><text transform="translate(122.0,617.8) scale(0.8,1)">M</text><text transform="translate(143.2,617.8) scale(1.1,1)">−</text><text transform="translate(163.9,617.8) scale(1.12,1)" letter-spacing="0.3">0.021</text><text x="58.5" y="624.6" text-anchor="end" letter-spacing="0.8">0.1</text><text x="58.5" y="651.5" text-anchor="end">0</text><text transform="translate(69.1,666.5) scale(1.12,1)" text-anchor="middle" letter-spacing="0.4">−10</text><text transform="translate(275.7,666.5) scale(1.12,1)" text-anchor="middle" letter-spacing="0.4">−8</text><text transform="translate(482.3,666.5) scale(1.12,1)" text-anchor="middle" letter-spacing="0.4">−6</text><text transform="translate(688.9,666.5) scale(1.12,1)" text-anchor="middle" letter-spacing="0.4">−4</text><text transform="translate(297.0,691.5) scale(1.12,1)" letter-spacing="1.0" word-spacing="2.0">Instrumental mag</text><text transform="translate(12.3,323.1) rotate(-90)" text-anchor="middle" style="font-size:17.3px">QFIT</text>
</svg></body></html>
